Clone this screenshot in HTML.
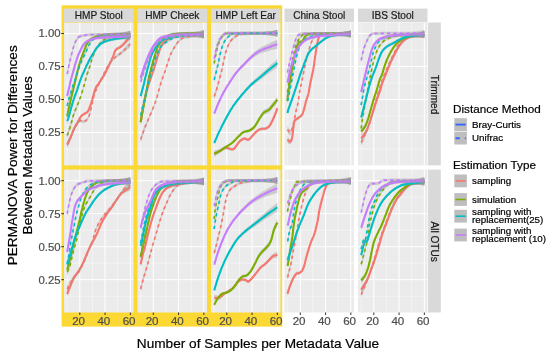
<!DOCTYPE html>
<html><head><meta charset="utf-8"><style>
html,body{margin:0;padding:0;width:550px;height:355px;overflow:hidden;background:#fff}
svg text{font-family:"Liberation Sans",sans-serif;stroke-width:0.2px}
</style></head><body>
<svg width="550" height="355" viewBox="0 0 550 355" style="position:absolute;left:0;top:0;filter:blur(0.45px)">
<rect width="550" height="355" fill="#fff"/>
<rect x="61.60" y="5.3" width="220.60" height="321.30" fill="#FBD834"/>
<rect x="64.00" y="22.50" width="69.50" height="142.90" fill="#EBEBEB"/>
<line x1="67.16" y1="22.50" x2="67.16" y2="165.40" stroke="#fff" stroke-width="0.5" stroke-opacity="0.9"/>
<line x1="92.43" y1="22.50" x2="92.43" y2="165.40" stroke="#fff" stroke-width="0.5" stroke-opacity="0.9"/>
<line x1="117.70" y1="22.50" x2="117.70" y2="165.40" stroke="#fff" stroke-width="0.5" stroke-opacity="0.9"/>
<line x1="64.00" y1="149.00" x2="133.50" y2="149.00" stroke="#fff" stroke-width="0.5" stroke-opacity="0.9"/>
<line x1="64.00" y1="116.00" x2="133.50" y2="116.00" stroke="#fff" stroke-width="0.5" stroke-opacity="0.9"/>
<line x1="64.00" y1="83.00" x2="133.50" y2="83.00" stroke="#fff" stroke-width="0.5" stroke-opacity="0.9"/>
<line x1="64.00" y1="50.00" x2="133.50" y2="50.00" stroke="#fff" stroke-width="0.5" stroke-opacity="0.9"/>
<line x1="79.80" y1="22.50" x2="79.80" y2="165.40" stroke="#fff" stroke-width="1.0"/>
<line x1="105.07" y1="22.50" x2="105.07" y2="165.40" stroke="#fff" stroke-width="1.0"/>
<line x1="130.34" y1="22.50" x2="130.34" y2="165.40" stroke="#fff" stroke-width="1.0"/>
<line x1="64.00" y1="132.50" x2="133.50" y2="132.50" stroke="#fff" stroke-width="1.0"/>
<line x1="64.00" y1="99.50" x2="133.50" y2="99.50" stroke="#fff" stroke-width="1.0"/>
<line x1="64.00" y1="66.50" x2="133.50" y2="66.50" stroke="#fff" stroke-width="1.0"/>
<line x1="64.00" y1="33.50" x2="133.50" y2="33.50" stroke="#fff" stroke-width="1.0"/>
<rect x="137.50" y="22.50" width="69.50" height="142.90" fill="#EBEBEB"/>
<line x1="140.66" y1="22.50" x2="140.66" y2="165.40" stroke="#fff" stroke-width="0.5" stroke-opacity="0.9"/>
<line x1="165.93" y1="22.50" x2="165.93" y2="165.40" stroke="#fff" stroke-width="0.5" stroke-opacity="0.9"/>
<line x1="191.20" y1="22.50" x2="191.20" y2="165.40" stroke="#fff" stroke-width="0.5" stroke-opacity="0.9"/>
<line x1="137.50" y1="149.00" x2="207.00" y2="149.00" stroke="#fff" stroke-width="0.5" stroke-opacity="0.9"/>
<line x1="137.50" y1="116.00" x2="207.00" y2="116.00" stroke="#fff" stroke-width="0.5" stroke-opacity="0.9"/>
<line x1="137.50" y1="83.00" x2="207.00" y2="83.00" stroke="#fff" stroke-width="0.5" stroke-opacity="0.9"/>
<line x1="137.50" y1="50.00" x2="207.00" y2="50.00" stroke="#fff" stroke-width="0.5" stroke-opacity="0.9"/>
<line x1="153.30" y1="22.50" x2="153.30" y2="165.40" stroke="#fff" stroke-width="1.0"/>
<line x1="178.57" y1="22.50" x2="178.57" y2="165.40" stroke="#fff" stroke-width="1.0"/>
<line x1="203.84" y1="22.50" x2="203.84" y2="165.40" stroke="#fff" stroke-width="1.0"/>
<line x1="137.50" y1="132.50" x2="207.00" y2="132.50" stroke="#fff" stroke-width="1.0"/>
<line x1="137.50" y1="99.50" x2="207.00" y2="99.50" stroke="#fff" stroke-width="1.0"/>
<line x1="137.50" y1="66.50" x2="207.00" y2="66.50" stroke="#fff" stroke-width="1.0"/>
<line x1="137.50" y1="33.50" x2="207.00" y2="33.50" stroke="#fff" stroke-width="1.0"/>
<rect x="211.00" y="22.50" width="69.50" height="142.90" fill="#EBEBEB"/>
<line x1="214.16" y1="22.50" x2="214.16" y2="165.40" stroke="#fff" stroke-width="0.5" stroke-opacity="0.9"/>
<line x1="239.43" y1="22.50" x2="239.43" y2="165.40" stroke="#fff" stroke-width="0.5" stroke-opacity="0.9"/>
<line x1="264.70" y1="22.50" x2="264.70" y2="165.40" stroke="#fff" stroke-width="0.5" stroke-opacity="0.9"/>
<line x1="211.00" y1="149.00" x2="280.50" y2="149.00" stroke="#fff" stroke-width="0.5" stroke-opacity="0.9"/>
<line x1="211.00" y1="116.00" x2="280.50" y2="116.00" stroke="#fff" stroke-width="0.5" stroke-opacity="0.9"/>
<line x1="211.00" y1="83.00" x2="280.50" y2="83.00" stroke="#fff" stroke-width="0.5" stroke-opacity="0.9"/>
<line x1="211.00" y1="50.00" x2="280.50" y2="50.00" stroke="#fff" stroke-width="0.5" stroke-opacity="0.9"/>
<line x1="226.80" y1="22.50" x2="226.80" y2="165.40" stroke="#fff" stroke-width="1.0"/>
<line x1="252.07" y1="22.50" x2="252.07" y2="165.40" stroke="#fff" stroke-width="1.0"/>
<line x1="277.34" y1="22.50" x2="277.34" y2="165.40" stroke="#fff" stroke-width="1.0"/>
<line x1="211.00" y1="132.50" x2="280.50" y2="132.50" stroke="#fff" stroke-width="1.0"/>
<line x1="211.00" y1="99.50" x2="280.50" y2="99.50" stroke="#fff" stroke-width="1.0"/>
<line x1="211.00" y1="66.50" x2="280.50" y2="66.50" stroke="#fff" stroke-width="1.0"/>
<line x1="211.00" y1="33.50" x2="280.50" y2="33.50" stroke="#fff" stroke-width="1.0"/>
<rect x="284.50" y="22.50" width="69.50" height="142.90" fill="#EBEBEB"/>
<line x1="287.66" y1="22.50" x2="287.66" y2="165.40" stroke="#fff" stroke-width="0.5" stroke-opacity="0.9"/>
<line x1="312.93" y1="22.50" x2="312.93" y2="165.40" stroke="#fff" stroke-width="0.5" stroke-opacity="0.9"/>
<line x1="338.20" y1="22.50" x2="338.20" y2="165.40" stroke="#fff" stroke-width="0.5" stroke-opacity="0.9"/>
<line x1="284.50" y1="149.00" x2="354.00" y2="149.00" stroke="#fff" stroke-width="0.5" stroke-opacity="0.9"/>
<line x1="284.50" y1="116.00" x2="354.00" y2="116.00" stroke="#fff" stroke-width="0.5" stroke-opacity="0.9"/>
<line x1="284.50" y1="83.00" x2="354.00" y2="83.00" stroke="#fff" stroke-width="0.5" stroke-opacity="0.9"/>
<line x1="284.50" y1="50.00" x2="354.00" y2="50.00" stroke="#fff" stroke-width="0.5" stroke-opacity="0.9"/>
<line x1="300.30" y1="22.50" x2="300.30" y2="165.40" stroke="#fff" stroke-width="1.0"/>
<line x1="325.57" y1="22.50" x2="325.57" y2="165.40" stroke="#fff" stroke-width="1.0"/>
<line x1="350.84" y1="22.50" x2="350.84" y2="165.40" stroke="#fff" stroke-width="1.0"/>
<line x1="284.50" y1="132.50" x2="354.00" y2="132.50" stroke="#fff" stroke-width="1.0"/>
<line x1="284.50" y1="99.50" x2="354.00" y2="99.50" stroke="#fff" stroke-width="1.0"/>
<line x1="284.50" y1="66.50" x2="354.00" y2="66.50" stroke="#fff" stroke-width="1.0"/>
<line x1="284.50" y1="33.50" x2="354.00" y2="33.50" stroke="#fff" stroke-width="1.0"/>
<rect x="358.00" y="22.50" width="69.50" height="142.90" fill="#EBEBEB"/>
<line x1="361.16" y1="22.50" x2="361.16" y2="165.40" stroke="#fff" stroke-width="0.5" stroke-opacity="0.9"/>
<line x1="386.43" y1="22.50" x2="386.43" y2="165.40" stroke="#fff" stroke-width="0.5" stroke-opacity="0.9"/>
<line x1="411.70" y1="22.50" x2="411.70" y2="165.40" stroke="#fff" stroke-width="0.5" stroke-opacity="0.9"/>
<line x1="358.00" y1="149.00" x2="427.50" y2="149.00" stroke="#fff" stroke-width="0.5" stroke-opacity="0.9"/>
<line x1="358.00" y1="116.00" x2="427.50" y2="116.00" stroke="#fff" stroke-width="0.5" stroke-opacity="0.9"/>
<line x1="358.00" y1="83.00" x2="427.50" y2="83.00" stroke="#fff" stroke-width="0.5" stroke-opacity="0.9"/>
<line x1="358.00" y1="50.00" x2="427.50" y2="50.00" stroke="#fff" stroke-width="0.5" stroke-opacity="0.9"/>
<line x1="373.80" y1="22.50" x2="373.80" y2="165.40" stroke="#fff" stroke-width="1.0"/>
<line x1="399.07" y1="22.50" x2="399.07" y2="165.40" stroke="#fff" stroke-width="1.0"/>
<line x1="424.34" y1="22.50" x2="424.34" y2="165.40" stroke="#fff" stroke-width="1.0"/>
<line x1="358.00" y1="132.50" x2="427.50" y2="132.50" stroke="#fff" stroke-width="1.0"/>
<line x1="358.00" y1="99.50" x2="427.50" y2="99.50" stroke="#fff" stroke-width="1.0"/>
<line x1="358.00" y1="66.50" x2="427.50" y2="66.50" stroke="#fff" stroke-width="1.0"/>
<line x1="358.00" y1="33.50" x2="427.50" y2="33.50" stroke="#fff" stroke-width="1.0"/>
<rect x="64.00" y="169.60" width="69.50" height="142.90" fill="#EBEBEB"/>
<line x1="67.16" y1="169.60" x2="67.16" y2="312.50" stroke="#fff" stroke-width="0.5" stroke-opacity="0.9"/>
<line x1="92.43" y1="169.60" x2="92.43" y2="312.50" stroke="#fff" stroke-width="0.5" stroke-opacity="0.9"/>
<line x1="117.70" y1="169.60" x2="117.70" y2="312.50" stroke="#fff" stroke-width="0.5" stroke-opacity="0.9"/>
<line x1="64.00" y1="296.20" x2="133.50" y2="296.20" stroke="#fff" stroke-width="0.5" stroke-opacity="0.9"/>
<line x1="64.00" y1="263.20" x2="133.50" y2="263.20" stroke="#fff" stroke-width="0.5" stroke-opacity="0.9"/>
<line x1="64.00" y1="230.20" x2="133.50" y2="230.20" stroke="#fff" stroke-width="0.5" stroke-opacity="0.9"/>
<line x1="64.00" y1="197.20" x2="133.50" y2="197.20" stroke="#fff" stroke-width="0.5" stroke-opacity="0.9"/>
<line x1="79.80" y1="169.60" x2="79.80" y2="312.50" stroke="#fff" stroke-width="1.0"/>
<line x1="105.07" y1="169.60" x2="105.07" y2="312.50" stroke="#fff" stroke-width="1.0"/>
<line x1="130.34" y1="169.60" x2="130.34" y2="312.50" stroke="#fff" stroke-width="1.0"/>
<line x1="64.00" y1="279.70" x2="133.50" y2="279.70" stroke="#fff" stroke-width="1.0"/>
<line x1="64.00" y1="246.70" x2="133.50" y2="246.70" stroke="#fff" stroke-width="1.0"/>
<line x1="64.00" y1="213.70" x2="133.50" y2="213.70" stroke="#fff" stroke-width="1.0"/>
<line x1="64.00" y1="180.70" x2="133.50" y2="180.70" stroke="#fff" stroke-width="1.0"/>
<rect x="137.50" y="169.60" width="69.50" height="142.90" fill="#EBEBEB"/>
<line x1="140.66" y1="169.60" x2="140.66" y2="312.50" stroke="#fff" stroke-width="0.5" stroke-opacity="0.9"/>
<line x1="165.93" y1="169.60" x2="165.93" y2="312.50" stroke="#fff" stroke-width="0.5" stroke-opacity="0.9"/>
<line x1="191.20" y1="169.60" x2="191.20" y2="312.50" stroke="#fff" stroke-width="0.5" stroke-opacity="0.9"/>
<line x1="137.50" y1="296.20" x2="207.00" y2="296.20" stroke="#fff" stroke-width="0.5" stroke-opacity="0.9"/>
<line x1="137.50" y1="263.20" x2="207.00" y2="263.20" stroke="#fff" stroke-width="0.5" stroke-opacity="0.9"/>
<line x1="137.50" y1="230.20" x2="207.00" y2="230.20" stroke="#fff" stroke-width="0.5" stroke-opacity="0.9"/>
<line x1="137.50" y1="197.20" x2="207.00" y2="197.20" stroke="#fff" stroke-width="0.5" stroke-opacity="0.9"/>
<line x1="153.30" y1="169.60" x2="153.30" y2="312.50" stroke="#fff" stroke-width="1.0"/>
<line x1="178.57" y1="169.60" x2="178.57" y2="312.50" stroke="#fff" stroke-width="1.0"/>
<line x1="203.84" y1="169.60" x2="203.84" y2="312.50" stroke="#fff" stroke-width="1.0"/>
<line x1="137.50" y1="279.70" x2="207.00" y2="279.70" stroke="#fff" stroke-width="1.0"/>
<line x1="137.50" y1="246.70" x2="207.00" y2="246.70" stroke="#fff" stroke-width="1.0"/>
<line x1="137.50" y1="213.70" x2="207.00" y2="213.70" stroke="#fff" stroke-width="1.0"/>
<line x1="137.50" y1="180.70" x2="207.00" y2="180.70" stroke="#fff" stroke-width="1.0"/>
<rect x="211.00" y="169.60" width="69.50" height="142.90" fill="#EBEBEB"/>
<line x1="214.16" y1="169.60" x2="214.16" y2="312.50" stroke="#fff" stroke-width="0.5" stroke-opacity="0.9"/>
<line x1="239.43" y1="169.60" x2="239.43" y2="312.50" stroke="#fff" stroke-width="0.5" stroke-opacity="0.9"/>
<line x1="264.70" y1="169.60" x2="264.70" y2="312.50" stroke="#fff" stroke-width="0.5" stroke-opacity="0.9"/>
<line x1="211.00" y1="296.20" x2="280.50" y2="296.20" stroke="#fff" stroke-width="0.5" stroke-opacity="0.9"/>
<line x1="211.00" y1="263.20" x2="280.50" y2="263.20" stroke="#fff" stroke-width="0.5" stroke-opacity="0.9"/>
<line x1="211.00" y1="230.20" x2="280.50" y2="230.20" stroke="#fff" stroke-width="0.5" stroke-opacity="0.9"/>
<line x1="211.00" y1="197.20" x2="280.50" y2="197.20" stroke="#fff" stroke-width="0.5" stroke-opacity="0.9"/>
<line x1="226.80" y1="169.60" x2="226.80" y2="312.50" stroke="#fff" stroke-width="1.0"/>
<line x1="252.07" y1="169.60" x2="252.07" y2="312.50" stroke="#fff" stroke-width="1.0"/>
<line x1="277.34" y1="169.60" x2="277.34" y2="312.50" stroke="#fff" stroke-width="1.0"/>
<line x1="211.00" y1="279.70" x2="280.50" y2="279.70" stroke="#fff" stroke-width="1.0"/>
<line x1="211.00" y1="246.70" x2="280.50" y2="246.70" stroke="#fff" stroke-width="1.0"/>
<line x1="211.00" y1="213.70" x2="280.50" y2="213.70" stroke="#fff" stroke-width="1.0"/>
<line x1="211.00" y1="180.70" x2="280.50" y2="180.70" stroke="#fff" stroke-width="1.0"/>
<rect x="284.50" y="169.60" width="69.50" height="142.90" fill="#EBEBEB"/>
<line x1="287.66" y1="169.60" x2="287.66" y2="312.50" stroke="#fff" stroke-width="0.5" stroke-opacity="0.9"/>
<line x1="312.93" y1="169.60" x2="312.93" y2="312.50" stroke="#fff" stroke-width="0.5" stroke-opacity="0.9"/>
<line x1="338.20" y1="169.60" x2="338.20" y2="312.50" stroke="#fff" stroke-width="0.5" stroke-opacity="0.9"/>
<line x1="284.50" y1="296.20" x2="354.00" y2="296.20" stroke="#fff" stroke-width="0.5" stroke-opacity="0.9"/>
<line x1="284.50" y1="263.20" x2="354.00" y2="263.20" stroke="#fff" stroke-width="0.5" stroke-opacity="0.9"/>
<line x1="284.50" y1="230.20" x2="354.00" y2="230.20" stroke="#fff" stroke-width="0.5" stroke-opacity="0.9"/>
<line x1="284.50" y1="197.20" x2="354.00" y2="197.20" stroke="#fff" stroke-width="0.5" stroke-opacity="0.9"/>
<line x1="300.30" y1="169.60" x2="300.30" y2="312.50" stroke="#fff" stroke-width="1.0"/>
<line x1="325.57" y1="169.60" x2="325.57" y2="312.50" stroke="#fff" stroke-width="1.0"/>
<line x1="350.84" y1="169.60" x2="350.84" y2="312.50" stroke="#fff" stroke-width="1.0"/>
<line x1="284.50" y1="279.70" x2="354.00" y2="279.70" stroke="#fff" stroke-width="1.0"/>
<line x1="284.50" y1="246.70" x2="354.00" y2="246.70" stroke="#fff" stroke-width="1.0"/>
<line x1="284.50" y1="213.70" x2="354.00" y2="213.70" stroke="#fff" stroke-width="1.0"/>
<line x1="284.50" y1="180.70" x2="354.00" y2="180.70" stroke="#fff" stroke-width="1.0"/>
<rect x="358.00" y="169.60" width="69.50" height="142.90" fill="#EBEBEB"/>
<line x1="361.16" y1="169.60" x2="361.16" y2="312.50" stroke="#fff" stroke-width="0.5" stroke-opacity="0.9"/>
<line x1="386.43" y1="169.60" x2="386.43" y2="312.50" stroke="#fff" stroke-width="0.5" stroke-opacity="0.9"/>
<line x1="411.70" y1="169.60" x2="411.70" y2="312.50" stroke="#fff" stroke-width="0.5" stroke-opacity="0.9"/>
<line x1="358.00" y1="296.20" x2="427.50" y2="296.20" stroke="#fff" stroke-width="0.5" stroke-opacity="0.9"/>
<line x1="358.00" y1="263.20" x2="427.50" y2="263.20" stroke="#fff" stroke-width="0.5" stroke-opacity="0.9"/>
<line x1="358.00" y1="230.20" x2="427.50" y2="230.20" stroke="#fff" stroke-width="0.5" stroke-opacity="0.9"/>
<line x1="358.00" y1="197.20" x2="427.50" y2="197.20" stroke="#fff" stroke-width="0.5" stroke-opacity="0.9"/>
<line x1="373.80" y1="169.60" x2="373.80" y2="312.50" stroke="#fff" stroke-width="1.0"/>
<line x1="399.07" y1="169.60" x2="399.07" y2="312.50" stroke="#fff" stroke-width="1.0"/>
<line x1="424.34" y1="169.60" x2="424.34" y2="312.50" stroke="#fff" stroke-width="1.0"/>
<line x1="358.00" y1="279.70" x2="427.50" y2="279.70" stroke="#fff" stroke-width="1.0"/>
<line x1="358.00" y1="246.70" x2="427.50" y2="246.70" stroke="#fff" stroke-width="1.0"/>
<line x1="358.00" y1="213.70" x2="427.50" y2="213.70" stroke="#fff" stroke-width="1.0"/>
<line x1="358.00" y1="180.70" x2="427.50" y2="180.70" stroke="#fff" stroke-width="1.0"/>
<rect x="64.00" y="8.6" width="69.50" height="13.50" fill="#D9D9D9"/>
<text x="98.75" y="19.0" font-size="10.1" fill="#1A1A1A" stroke="#1A1A1A" text-anchor="middle">HMP Stool</text>
<rect x="137.50" y="8.6" width="69.50" height="13.50" fill="#D9D9D9"/>
<text x="172.25" y="19.0" font-size="10.1" fill="#1A1A1A" stroke="#1A1A1A" text-anchor="middle">HMP Cheek</text>
<rect x="211.00" y="8.6" width="69.50" height="13.50" fill="#D9D9D9"/>
<text x="245.75" y="19.0" font-size="10.1" fill="#1A1A1A" stroke="#1A1A1A" text-anchor="middle">HMP Left Ear</text>
<rect x="284.50" y="8.6" width="69.50" height="13.50" fill="#D9D9D9"/>
<text x="319.25" y="19.0" font-size="10.1" fill="#1A1A1A" stroke="#1A1A1A" text-anchor="middle">China Stool</text>
<rect x="358.00" y="8.6" width="69.50" height="13.50" fill="#D9D9D9"/>
<text x="392.75" y="19.0" font-size="10.1" fill="#1A1A1A" stroke="#1A1A1A" text-anchor="middle">IBS Stool</text>
<rect x="428.1" y="22.50" width="12.7" height="142.90" fill="#D9D9D9"/>
<text transform="translate(431.0,94.55) rotate(90)" font-size="10.1" fill="#1A1A1A" stroke="#1A1A1A" text-anchor="middle">Trimmed</text>
<rect x="428.1" y="169.60" width="12.7" height="142.90" fill="#D9D9D9"/>
<text transform="translate(431.0,241.65) rotate(90)" font-size="10.1" fill="#1A1A1A" stroke="#1A1A1A" text-anchor="middle">All OTUs</text>
<text x="60.6" y="37.30" font-size="11.4" fill="#4D4D4D" stroke="#4D4D4D" text-anchor="end">1.00</text>
<line x1="61.3" y1="33.50" x2="64" y2="33.50" stroke="#333" stroke-width="1"/>
<text x="60.6" y="70.30" font-size="11.4" fill="#4D4D4D" stroke="#4D4D4D" text-anchor="end">0.75</text>
<line x1="61.3" y1="66.50" x2="64" y2="66.50" stroke="#333" stroke-width="1"/>
<text x="60.6" y="103.30" font-size="11.4" fill="#4D4D4D" stroke="#4D4D4D" text-anchor="end">0.50</text>
<line x1="61.3" y1="99.50" x2="64" y2="99.50" stroke="#333" stroke-width="1"/>
<text x="60.6" y="136.30" font-size="11.4" fill="#4D4D4D" stroke="#4D4D4D" text-anchor="end">0.25</text>
<line x1="61.3" y1="132.50" x2="64" y2="132.50" stroke="#333" stroke-width="1"/>
<text x="60.6" y="184.50" font-size="11.4" fill="#4D4D4D" stroke="#4D4D4D" text-anchor="end">1.00</text>
<line x1="61.3" y1="180.70" x2="64" y2="180.70" stroke="#333" stroke-width="1"/>
<text x="60.6" y="217.50" font-size="11.4" fill="#4D4D4D" stroke="#4D4D4D" text-anchor="end">0.75</text>
<line x1="61.3" y1="213.70" x2="64" y2="213.70" stroke="#333" stroke-width="1"/>
<text x="60.6" y="250.50" font-size="11.4" fill="#4D4D4D" stroke="#4D4D4D" text-anchor="end">0.50</text>
<line x1="61.3" y1="246.70" x2="64" y2="246.70" stroke="#333" stroke-width="1"/>
<text x="60.6" y="283.50" font-size="11.4" fill="#4D4D4D" stroke="#4D4D4D" text-anchor="end">0.25</text>
<line x1="61.3" y1="279.70" x2="64" y2="279.70" stroke="#333" stroke-width="1"/>
<line x1="79.80" y1="312.50" x2="79.80" y2="315.00" stroke="#333" stroke-width="1"/>
<text x="78.60" y="325.0" font-size="11.6" fill="#4D4D4D" stroke="#4D4D4D" text-anchor="middle">20</text>
<line x1="105.07" y1="312.50" x2="105.07" y2="315.00" stroke="#333" stroke-width="1"/>
<text x="103.87" y="325.0" font-size="11.6" fill="#4D4D4D" stroke="#4D4D4D" text-anchor="middle">40</text>
<line x1="130.34" y1="312.50" x2="130.34" y2="315.00" stroke="#333" stroke-width="1"/>
<text x="129.14" y="325.0" font-size="11.6" fill="#4D4D4D" stroke="#4D4D4D" text-anchor="middle">60</text>
<line x1="153.30" y1="312.50" x2="153.30" y2="315.00" stroke="#333" stroke-width="1"/>
<text x="152.10" y="325.0" font-size="11.6" fill="#4D4D4D" stroke="#4D4D4D" text-anchor="middle">20</text>
<line x1="178.57" y1="312.50" x2="178.57" y2="315.00" stroke="#333" stroke-width="1"/>
<text x="177.37" y="325.0" font-size="11.6" fill="#4D4D4D" stroke="#4D4D4D" text-anchor="middle">40</text>
<line x1="203.84" y1="312.50" x2="203.84" y2="315.00" stroke="#333" stroke-width="1"/>
<text x="202.64" y="325.0" font-size="11.6" fill="#4D4D4D" stroke="#4D4D4D" text-anchor="middle">60</text>
<line x1="226.80" y1="312.50" x2="226.80" y2="315.00" stroke="#333" stroke-width="1"/>
<text x="225.60" y="325.0" font-size="11.6" fill="#4D4D4D" stroke="#4D4D4D" text-anchor="middle">20</text>
<line x1="252.07" y1="312.50" x2="252.07" y2="315.00" stroke="#333" stroke-width="1"/>
<text x="250.87" y="325.0" font-size="11.6" fill="#4D4D4D" stroke="#4D4D4D" text-anchor="middle">40</text>
<line x1="277.34" y1="312.50" x2="277.34" y2="315.00" stroke="#333" stroke-width="1"/>
<text x="276.14" y="325.0" font-size="11.6" fill="#4D4D4D" stroke="#4D4D4D" text-anchor="middle">60</text>
<line x1="300.30" y1="312.50" x2="300.30" y2="315.00" stroke="#333" stroke-width="1"/>
<text x="299.10" y="325.0" font-size="11.6" fill="#4D4D4D" stroke="#4D4D4D" text-anchor="middle">20</text>
<line x1="325.57" y1="312.50" x2="325.57" y2="315.00" stroke="#333" stroke-width="1"/>
<text x="324.37" y="325.0" font-size="11.6" fill="#4D4D4D" stroke="#4D4D4D" text-anchor="middle">40</text>
<line x1="350.84" y1="312.50" x2="350.84" y2="315.00" stroke="#333" stroke-width="1"/>
<text x="349.64" y="325.0" font-size="11.6" fill="#4D4D4D" stroke="#4D4D4D" text-anchor="middle">60</text>
<line x1="373.80" y1="312.50" x2="373.80" y2="315.00" stroke="#333" stroke-width="1"/>
<text x="372.60" y="325.0" font-size="11.6" fill="#4D4D4D" stroke="#4D4D4D" text-anchor="middle">20</text>
<line x1="399.07" y1="312.50" x2="399.07" y2="315.00" stroke="#333" stroke-width="1"/>
<text x="397.87" y="325.0" font-size="11.6" fill="#4D4D4D" stroke="#4D4D4D" text-anchor="middle">40</text>
<line x1="424.34" y1="312.50" x2="424.34" y2="315.00" stroke="#333" stroke-width="1"/>
<text x="423.14" y="325.0" font-size="11.6" fill="#4D4D4D" stroke="#4D4D4D" text-anchor="middle">60</text>
<text x="136.8" y="348.3" font-size="13.65" fill="#000" stroke="#000">Number of Samples per Metadata Value</text>
<text transform="translate(16.9,155.3) rotate(-90)" font-size="13.65" fill="#000" stroke="#000" text-anchor="middle">PERMANOVA Power for Differences</text>
<text transform="translate(31.5,155.3) rotate(-90)" font-size="13.65" fill="#000" stroke="#000" text-anchor="middle">Between Metadata Values</text>
<text x="453" y="112.6" font-size="11.7" fill="#000" stroke="#000">Distance Method</text>
<rect x="454.3" y="118.2" width="12.6" height="12.8" fill="#BEBEBE"/>
<rect x="454.3" y="131.7" width="12.6" height="12.8" fill="#BEBEBE"/>
<line x1="455.5" y1="124.6" x2="465.7" y2="124.6" stroke="#3366FF" stroke-width="1.9"/>
<line x1="455.5" y1="138.2" x2="465.7" y2="138.2" stroke="#3366FF" stroke-width="1.9" stroke-dasharray="4.3 5"/>
<text x="472" y="127.6" font-size="9.8" fill="#000" stroke="#000">Bray-Curtis</text>
<text x="472" y="141.2" font-size="9.8" fill="#000" stroke="#000">Unifrac</text>
<text x="453" y="168.6" font-size="11.7" fill="#000" stroke="#000">Estimation Type</text>
<rect x="454.3" y="174.50" width="12.6" height="12.8" fill="#BEBEBE"/>
<line x1="455.5" y1="180.90" x2="465.7" y2="180.90" stroke="#F8766D" stroke-width="1.6"/>
<text x="472" y="183.90" font-size="9.8" fill="#000" stroke="#000">sampling</text>
<rect x="454.3" y="193.10" width="12.6" height="12.8" fill="#BEBEBE"/>
<line x1="455.5" y1="199.50" x2="465.7" y2="199.50" stroke="#7CAE00" stroke-width="1.6"/>
<text x="472" y="202.50" font-size="9.8" fill="#000" stroke="#000">simulation</text>
<rect x="454.3" y="209.80" width="12.6" height="12.8" fill="#BEBEBE"/>
<line x1="455.5" y1="216.20" x2="465.7" y2="216.20" stroke="#00BFC4" stroke-width="1.6"/>
<text x="472" y="215.10" font-size="9.8" fill="#000" stroke="#000">sampling with</text>
<text x="472" y="223.40" font-size="9.8" fill="#000" stroke="#000">replacement(25)</text>
<rect x="454.3" y="228.60" width="12.6" height="12.8" fill="#BEBEBE"/>
<line x1="455.5" y1="235.00" x2="465.7" y2="235.00" stroke="#C77CFF" stroke-width="1.6"/>
<text x="472" y="233.90" font-size="9.8" fill="#000" stroke="#000">sampling with</text>
<text x="472" y="242.20" font-size="9.8" fill="#000" stroke="#000">replacement (10)</text>
<defs>
<clipPath id="cp00"><rect x="64.00" y="22.50" width="69.50" height="142.90"/></clipPath>
<clipPath id="cp10"><rect x="137.50" y="22.50" width="69.50" height="142.90"/></clipPath>
<clipPath id="cp20"><rect x="211.00" y="22.50" width="69.50" height="142.90"/></clipPath>
<clipPath id="cp30"><rect x="284.50" y="22.50" width="69.50" height="142.90"/></clipPath>
<clipPath id="cp40"><rect x="358.00" y="22.50" width="69.50" height="142.90"/></clipPath>
<clipPath id="cp01"><rect x="64.00" y="169.60" width="69.50" height="142.90"/></clipPath>
<clipPath id="cp11"><rect x="137.50" y="169.60" width="69.50" height="142.90"/></clipPath>
<clipPath id="cp21"><rect x="211.00" y="169.60" width="69.50" height="142.90"/></clipPath>
<clipPath id="cp31"><rect x="284.50" y="169.60" width="69.50" height="142.90"/></clipPath>
<clipPath id="cp41"><rect x="358.00" y="169.60" width="69.50" height="142.90"/></clipPath>
</defs>
<g clip-path="url(#cp00)" stroke-width="2.1" stroke-linecap="butt" stroke-linejoin="round">
<path d="M67.2,141.1 L67.5,140.6 L68.0,139.8 L68.5,138.9 L69.1,137.9 L69.7,136.8 L70.3,135.6 L70.9,134.3 L71.5,132.9 L72.1,131.5 L72.7,130.0 L73.3,128.5 L74.0,127.1 L74.7,125.7 L75.5,124.2 L76.3,122.8 L77.1,121.5 L77.8,120.2 L78.5,119.1 L79.1,118.1 L79.5,117.2 L79.9,116.5 L80.4,115.8 L80.8,115.1 L81.3,114.5 L81.9,114.0 L82.5,113.5 L83.2,113.0 L83.8,112.6 L84.4,112.3 L85.0,111.9 L85.5,111.6 L86.0,111.4 L86.4,111.2 L86.8,111.0 L87.3,110.7 L87.7,110.1 L88.2,109.3 L88.7,108.2 L89.2,107.1 L89.6,105.9 L90.1,104.7 L90.5,103.6 L90.8,102.7 L91.1,101.9 L91.4,101.1 L91.6,100.3 L91.9,99.3 L92.3,98.1 L92.7,96.5 L93.2,94.6 L93.7,92.5 L94.3,90.5 L94.9,88.5 L95.5,86.9 L96.1,85.6 L96.7,84.6 L97.4,83.7 L98.1,82.8 L98.8,81.9 L99.5,80.8 L100.3,79.7 L101.1,78.4 L102.0,77.2 L102.8,75.8 L103.7,74.4 L104.6,72.9 L105.4,71.3 L106.3,69.5 L107.2,67.6 L108.1,65.8 L109.0,64.0 L109.7,62.4 L110.4,60.9 L111.1,59.4 L111.7,58.1 L112.2,56.8 L112.8,55.6 L113.3,54.4 L113.7,53.3 L114.1,52.2 L114.4,51.2 L114.7,50.2 L115.1,49.3 L115.7,48.5 L116.4,47.7 L117.2,47.2 L118.1,46.6 L119.0,46.1 L119.9,45.6 L120.7,45.0 L121.5,44.3 L122.1,43.7 L122.8,43.1 L123.5,42.3 L124.1,41.5 L124.9,40.6 L125.8,39.5 L126.8,38.1 L127.9,36.5 L128.9,35.0 L129.7,33.7 L130.3,32.7 L130.3,39.5 L129.7,40.1 L128.9,40.9 L127.9,41.9 L126.8,42.9 L125.8,44.0 L124.9,44.9 L124.1,45.6 L123.5,46.2 L122.8,46.8 L122.1,47.3 L121.5,47.9 L120.7,48.4 L119.9,48.9 L119.0,49.4 L118.1,49.8 L117.2,50.3 L116.4,50.9 L115.7,51.5 L115.1,52.4 L114.7,53.2 L114.4,54.2 L114.1,55.2 L113.7,56.3 L113.3,57.5 L112.8,58.6 L112.2,59.8 L111.7,61.1 L111.1,62.5 L110.4,63.9 L109.7,65.4 L109.0,67.0 L108.1,68.8 L107.2,70.6 L106.3,72.5 L105.4,74.3 L104.6,75.9 L103.7,77.4 L102.8,78.8 L102.0,80.2 L101.1,81.4 L100.3,82.7 L99.5,83.8 L98.8,84.9 L98.1,85.8 L97.4,86.7 L96.7,87.6 L96.1,88.6 L95.5,89.9 L94.9,91.5 L94.3,93.5 L93.7,95.5 L93.2,97.6 L92.7,99.5 L92.3,101.1 L91.9,102.3 L91.6,103.3 L91.4,104.1 L91.1,104.9 L90.8,105.7 L90.5,106.6 L90.1,107.7 L89.6,108.9 L89.2,110.1 L88.7,111.2 L88.2,112.3 L87.7,113.1 L87.3,113.7 L86.8,114.0 L86.4,114.2 L86.0,114.4 L85.5,114.6 L85.0,114.9 L84.4,115.3 L83.8,115.7 L83.2,116.1 L82.5,116.6 L81.9,117.1 L81.3,117.7 L80.8,118.3 L80.4,118.9 L79.9,119.6 L79.5,120.4 L79.1,121.3 L78.5,122.3 L77.8,123.5 L77.1,124.9 L76.3,126.3 L75.5,127.8 L74.7,129.4 L74.0,130.9 L73.3,132.5 L72.7,134.2 L72.1,135.9 L71.5,137.5 L70.9,139.1 L70.3,140.6 L69.7,142.0 L69.1,143.5 L68.5,144.8 L68.0,146.1 L67.5,147.1 L67.2,147.9Z" fill="#999999" fill-opacity="0.4" stroke="none"/>
<path d="M67.2,144.5 L67.5,143.8 L68.0,142.9 L68.5,141.9 L69.1,140.7 L69.7,139.4 L70.3,138.1 L70.9,136.7 L71.5,135.2 L72.1,133.7 L72.7,132.1 L73.3,130.5 L74.0,129.0 L74.7,127.5 L75.5,126.0 L76.3,124.6 L77.1,123.2 L77.8,121.9 L78.5,120.7 L79.1,119.7 L79.5,118.8 L79.9,118.0 L80.4,117.4 L80.8,116.7 L81.3,116.1 L81.9,115.5 L82.5,115.0 L83.2,114.6 L83.8,114.2 L84.4,113.8 L85.0,113.4 L85.5,113.1 L86.0,112.9 L86.4,112.7 L86.8,112.5 L87.3,112.2 L87.7,111.6 L88.2,110.8 L88.7,109.7 L89.2,108.6 L89.6,107.4 L90.1,106.2 L90.5,105.1 L90.8,104.2 L91.1,103.4 L91.4,102.6 L91.6,101.8 L91.9,100.8 L92.3,99.6 L92.7,98.0 L93.2,96.1 L93.7,94.0 L94.3,92.0 L94.9,90.0 L95.5,88.4 L96.1,87.1 L96.7,86.1 L97.4,85.2 L98.1,84.3 L98.8,83.4 L99.5,82.3 L100.3,81.2 L101.1,79.9 L102.0,78.7 L102.8,77.3 L103.7,75.9 L104.6,74.4 L105.4,72.8 L106.3,71.0 L107.2,69.1 L108.1,67.3 L109.0,65.5 L109.7,63.9 L110.4,62.4 L111.1,61.0 L111.7,59.6 L112.2,58.3 L112.8,57.1 L113.3,55.9 L113.7,54.8 L114.1,53.7 L114.4,52.7 L114.7,51.7 L115.1,50.8 L115.7,50.0 L116.4,49.3 L117.2,48.7 L118.1,48.2 L119.0,47.8 L119.9,47.3 L120.7,46.7 L121.5,46.1 L122.1,45.5 L122.8,44.9 L123.5,44.3 L124.1,43.6 L124.9,42.7 L125.8,41.7 L126.8,40.5 L127.9,39.2 L128.9,37.9 L129.7,36.9 L130.3,36.1" fill="none" stroke="#F8766D"/>
<path d="M67.2,141.1 L67.5,140.6 L68.0,139.8 L68.5,138.9 L69.1,137.9 L69.7,136.8 L70.3,135.6 L70.9,134.3 L71.5,132.9 L72.1,131.3 L72.8,129.8 L73.4,128.3 L74.0,127.1 L74.6,126.0 L75.2,125.0 L75.8,124.1 L76.4,123.3 L77.0,122.5 L77.5,121.8 L78.0,121.2 L78.5,120.6 L79.0,120.1 L79.5,119.7 L79.9,119.3 L80.4,119.1 L80.9,119.1 L81.3,119.3 L81.7,119.5 L82.1,119.8 L82.6,120.0 L83.1,120.1 L83.7,120.0 L84.3,119.8 L84.9,119.6 L85.6,119.3 L86.2,118.8 L86.8,118.3 L87.3,117.6 L87.8,116.8 L88.3,115.9 L88.8,114.9 L89.2,113.9 L89.6,112.8 L89.9,111.8 L90.2,110.7 L90.5,109.6 L90.8,108.4 L91.0,107.1 L91.4,105.5 L91.8,103.6 L92.2,101.5 L92.7,99.2 L93.2,96.9 L93.8,94.7 L94.3,92.7 L94.9,91.0 L95.6,89.4 L96.3,88.0 L97.0,86.5 L97.7,85.1 L98.5,83.5 L99.3,81.8 L100.2,80.0 L101.0,78.1 L101.9,76.3 L102.8,74.5 L103.6,72.9 L104.3,71.4 L105.0,70.0 L105.6,68.7 L106.3,67.4 L106.9,66.2 L107.6,65.0 L108.3,63.9 L108.9,62.8 L109.6,61.8 L110.3,60.9 L111.0,59.9 L111.8,59.1 L112.6,58.2 L113.4,57.4 L114.2,56.6 L115.1,55.8 L116.0,55.1 L116.8,54.4 L117.6,53.8 L118.3,53.2 L119.1,52.8 L119.8,52.2 L120.7,51.5 L121.7,50.6 L123.1,49.3 L124.7,47.6 L126.4,45.6 L128.0,43.7 L129.4,41.9 L130.3,40.7 L130.3,47.5 L129.4,48.1 L128.0,49.1 L126.4,50.3 L124.7,51.7 L123.1,53.1 L121.7,54.2 L120.7,54.9 L119.8,55.5 L119.1,56.0 L118.3,56.5 L117.6,56.9 L116.8,57.5 L116.0,58.2 L115.1,58.9 L114.2,59.6 L113.4,60.4 L112.6,61.2 L111.8,62.1 L111.0,63.0 L110.3,63.9 L109.6,64.8 L108.9,65.8 L108.3,66.9 L107.6,68.0 L106.9,69.2 L106.3,70.4 L105.6,71.7 L105.0,73.0 L104.3,74.4 L103.6,75.9 L102.8,77.5 L101.9,79.3 L101.0,81.1 L100.2,83.0 L99.3,84.8 L98.5,86.5 L97.7,88.1 L97.0,89.5 L96.3,91.0 L95.6,92.4 L94.9,94.0 L94.3,95.7 L93.8,97.7 L93.2,99.9 L92.7,102.2 L92.2,104.5 L91.8,106.6 L91.4,108.5 L91.0,110.1 L90.8,111.4 L90.5,112.6 L90.2,113.7 L89.9,114.8 L89.6,115.8 L89.2,116.9 L88.8,117.9 L88.3,118.9 L87.8,119.8 L87.3,120.6 L86.8,121.3 L86.2,121.9 L85.6,122.3 L84.9,122.6 L84.3,122.9 L83.7,123.0 L83.1,123.1 L82.6,123.1 L82.1,122.9 L81.7,122.6 L81.3,122.4 L80.9,122.2 L80.4,122.3 L79.9,122.5 L79.5,122.9 L79.0,123.3 L78.5,123.9 L78.0,124.5 L77.5,125.2 L77.0,125.9 L76.4,126.7 L75.8,127.6 L75.2,128.6 L74.6,129.7 L74.0,130.9 L73.4,132.3 L72.8,134.0 L72.1,135.7 L71.5,137.4 L70.9,139.1 L70.3,140.6 L69.7,142.0 L69.1,143.5 L68.5,144.8 L68.0,146.1 L67.5,147.1 L67.2,147.9Z" fill="#999999" fill-opacity="0.4" stroke="none"/>
<path d="M67.2,144.5 L67.5,143.8 L68.0,142.9 L68.5,141.9 L69.1,140.7 L69.7,139.4 L70.3,138.1 L70.9,136.7 L71.5,135.1 L72.1,133.5 L72.8,131.9 L73.4,130.3 L74.0,129.0 L74.6,127.8 L75.2,126.8 L75.8,125.9 L76.4,125.0 L77.0,124.2 L77.5,123.5 L78.0,122.8 L78.5,122.2 L79.0,121.7 L79.5,121.3 L79.9,120.9 L80.4,120.7 L80.9,120.7 L81.3,120.8 L81.7,121.1 L82.1,121.4 L82.6,121.6 L83.1,121.6 L83.7,121.5 L84.3,121.3 L84.9,121.1 L85.6,120.8 L86.2,120.3 L86.8,119.8 L87.3,119.1 L87.8,118.3 L88.3,117.4 L88.8,116.4 L89.2,115.4 L89.6,114.3 L89.9,113.3 L90.2,112.2 L90.5,111.1 L90.8,109.9 L91.0,108.6 L91.4,107.0 L91.8,105.1 L92.2,103.0 L92.7,100.7 L93.2,98.4 L93.8,96.2 L94.3,94.2 L94.9,92.5 L95.6,90.9 L96.3,89.5 L97.0,88.0 L97.7,86.6 L98.5,85.0 L99.3,83.3 L100.2,81.5 L101.0,79.6 L101.9,77.8 L102.8,76.0 L103.6,74.4 L104.3,72.9 L105.0,71.5 L105.6,70.2 L106.3,68.9 L106.9,67.7 L107.6,66.5 L108.3,65.4 L108.9,64.3 L109.6,63.3 L110.3,62.4 L111.0,61.5 L111.8,60.6 L112.6,59.7 L113.4,58.9 L114.2,58.1 L115.1,57.4 L116.0,56.6 L116.8,55.9 L117.6,55.3 L118.3,54.8 L119.1,54.4 L119.8,53.9 L120.7,53.2 L121.7,52.4 L123.1,51.2 L124.7,49.6 L126.4,48.0 L128.0,46.4 L129.4,45.0 L130.3,44.1" fill="none" stroke="#F8766D" stroke-dasharray="3.3 3.1" stroke-width="1.7"/>
<path d="M67.2,113.1 L67.3,112.5 L67.4,111.6 L67.6,110.6 L67.9,109.5 L68.1,108.4 L68.3,107.4 L68.5,106.4 L68.7,105.4 L69.0,104.5 L69.2,103.5 L69.5,102.5 L69.7,101.6 L69.9,100.6 L70.1,99.6 L70.4,98.7 L70.6,97.7 L70.8,96.7 L71.1,95.6 L71.4,94.5 L71.7,93.3 L72.0,92.0 L72.4,90.7 L72.7,89.5 L73.0,88.3 L73.3,87.3 L73.5,86.2 L73.8,85.2 L74.0,84.3 L74.3,83.3 L74.5,82.3 L74.7,81.3 L75.0,80.3 L75.2,79.2 L75.4,78.2 L75.7,77.2 L75.9,76.2 L76.1,75.3 L76.3,74.4 L76.6,73.4 L76.8,72.6 L77.0,71.7 L77.2,70.8 L77.4,70.0 L77.6,69.1 L77.8,68.3 L78.1,67.5 L78.3,66.7 L78.5,65.9 L78.7,65.0 L79.0,64.1 L79.2,63.1 L79.5,62.2 L79.7,61.3 L80.0,60.4 L80.2,59.6 L80.5,58.9 L80.7,58.1 L81.0,57.4 L81.2,56.7 L81.5,55.9 L81.8,55.2 L82.0,54.5 L82.3,53.8 L82.6,53.1 L82.9,52.3 L83.2,51.5 L83.6,50.5 L84.0,49.4 L84.4,48.3 L84.8,47.1 L85.3,46.0 L85.7,45.0 L86.1,44.0 L86.6,43.1 L87.0,42.3 L87.5,41.5 L88.0,40.7 L88.5,40.0 L89.0,39.4 L89.4,38.9 L89.9,38.4 L90.5,37.9 L91.1,37.5 L92.0,37.0 L93.0,36.5 L94.1,35.9 L95.4,35.4 L96.8,34.9 L98.3,34.4 L100.0,34.0 L101.8,33.7 L103.8,33.4 L105.9,33.2 L108.2,33.1 L110.5,32.9 L113.0,32.8 L115.8,32.6 L119.1,32.5 L122.5,32.2 L125.7,31.8 L128.4,31.2 L130.3,30.6 L130.3,37.4 L128.4,36.8 L125.7,36.3 L122.5,35.9 L119.1,35.8 L115.8,35.7 L113.0,35.8 L110.5,35.9 L108.2,36.1 L105.9,36.2 L103.8,36.4 L101.8,36.7 L100.0,37.0 L98.3,37.4 L96.8,37.9 L95.4,38.4 L94.1,38.9 L93.0,39.5 L92.0,40.0 L91.1,40.5 L90.5,40.9 L89.9,41.4 L89.4,41.9 L89.0,42.4 L88.5,43.0 L88.0,43.7 L87.5,44.5 L87.0,45.3 L86.6,46.2 L86.1,47.1 L85.7,48.0 L85.3,49.0 L84.8,50.1 L84.4,51.3 L84.0,52.4 L83.6,53.5 L83.2,54.5 L82.9,55.4 L82.6,56.2 L82.3,56.9 L82.0,57.6 L81.8,58.3 L81.5,59.1 L81.2,59.8 L81.0,60.5 L80.7,61.3 L80.5,62.0 L80.2,62.8 L80.0,63.6 L79.7,64.5 L79.5,65.4 L79.2,66.3 L79.0,67.3 L78.7,68.2 L78.5,69.1 L78.3,70.0 L78.1,70.8 L77.8,71.7 L77.6,72.5 L77.4,73.3 L77.2,74.2 L77.0,75.1 L76.8,76.0 L76.6,76.9 L76.3,77.8 L76.1,78.8 L75.9,79.8 L75.7,80.8 L75.4,81.8 L75.2,82.9 L75.0,84.0 L74.7,85.0 L74.5,86.1 L74.3,87.1 L74.0,88.2 L73.8,89.2 L73.5,90.2 L73.3,91.3 L73.0,92.5 L72.7,93.7 L72.4,95.0 L72.0,96.4 L71.7,97.8 L71.4,99.1 L71.1,100.4 L70.8,101.5 L70.6,102.6 L70.4,103.7 L70.1,104.7 L69.9,105.8 L69.7,106.8 L69.5,107.9 L69.2,109.0 L69.0,110.1 L68.7,111.2 L68.5,112.3 L68.3,113.4 L68.1,114.6 L67.9,115.8 L67.6,117.1 L67.4,118.2 L67.3,119.2 L67.2,119.9Z" fill="#999999" fill-opacity="0.4" stroke="none"/>
<path d="M67.2,116.5 L67.3,115.8 L67.4,114.9 L67.6,113.8 L67.9,112.7 L68.1,111.5 L68.3,110.4 L68.5,109.4 L68.7,108.3 L69.0,107.3 L69.2,106.3 L69.5,105.2 L69.7,104.2 L69.9,103.2 L70.1,102.2 L70.4,101.2 L70.6,100.2 L70.8,99.1 L71.1,98.0 L71.4,96.8 L71.7,95.5 L72.0,94.2 L72.4,92.9 L72.7,91.6 L73.0,90.4 L73.3,89.3 L73.5,88.2 L73.8,87.2 L74.0,86.2 L74.3,85.2 L74.5,84.2 L74.7,83.2 L75.0,82.1 L75.2,81.1 L75.4,80.0 L75.7,79.0 L75.9,78.0 L76.1,77.0 L76.3,76.1 L76.6,75.2 L76.8,74.3 L77.0,73.4 L77.2,72.5 L77.4,71.6 L77.6,70.8 L77.8,70.0 L78.1,69.2 L78.3,68.4 L78.5,67.5 L78.7,66.6 L79.0,65.7 L79.2,64.7 L79.5,63.8 L79.7,62.9 L80.0,62.0 L80.2,61.2 L80.5,60.4 L80.7,59.7 L81.0,59.0 L81.2,58.2 L81.5,57.5 L81.8,56.8 L82.0,56.1 L82.3,55.4 L82.6,54.6 L82.9,53.9 L83.2,53.0 L83.6,52.0 L84.0,50.9 L84.4,49.8 L84.8,48.6 L85.3,47.5 L85.7,46.5 L86.1,45.6 L86.6,44.6 L87.0,43.8 L87.5,43.0 L88.0,42.2 L88.5,41.5 L89.0,40.9 L89.4,40.4 L89.9,39.9 L90.5,39.4 L91.1,39.0 L92.0,38.5 L93.0,38.0 L94.1,37.4 L95.4,36.9 L96.8,36.4 L98.3,35.9 L100.0,35.5 L101.8,35.2 L103.8,34.9 L105.9,34.7 L108.2,34.6 L110.5,34.4 L113.0,34.3 L115.8,34.2 L119.1,34.1 L122.5,34.1 L125.7,34.0 L128.4,34.0 L130.3,34.0" fill="none" stroke="#7CAE00"/>
<path d="M67.2,132.1 L67.5,131.2 L68.1,129.9 L68.7,128.4 L69.3,126.7 L70.0,125.0 L70.5,123.4 L71.0,121.9 L71.4,120.4 L71.8,118.9 L72.2,117.3 L72.6,115.9 L73.0,114.4 L73.5,113.1 L73.9,111.8 L74.4,110.6 L74.9,109.4 L75.4,108.2 L75.9,106.9 L76.4,105.7 L77.0,104.4 L77.6,103.1 L78.1,101.8 L78.7,100.5 L79.2,99.2 L79.7,97.8 L80.2,96.4 L80.7,94.9 L81.2,93.5 L81.6,92.0 L82.1,90.6 L82.5,89.1 L83.0,87.7 L83.4,86.3 L83.8,84.9 L84.2,83.5 L84.6,82.1 L85.0,80.7 L85.3,79.4 L85.6,78.0 L86.0,76.7 L86.3,75.3 L86.7,74.0 L87.1,72.7 L87.6,71.3 L88.0,70.0 L88.5,68.7 L89.0,67.3 L89.5,65.8 L90.0,64.2 L90.5,62.4 L91.1,60.6 L91.6,58.8 L92.2,57.1 L92.7,55.5 L93.2,54.0 L93.8,52.6 L94.3,51.2 L94.9,49.9 L95.5,48.7 L96.1,47.5 L96.8,46.4 L97.5,45.2 L98.2,44.2 L98.9,43.2 L99.6,42.3 L100.3,41.5 L100.9,40.8 L101.5,40.2 L102.0,39.7 L102.6,39.2 L103.3,38.8 L104.0,38.3 L104.8,37.8 L105.8,37.4 L106.7,36.9 L107.8,36.5 L108.9,36.1 L110.0,35.7 L111.2,35.4 L112.4,35.0 L113.6,34.7 L114.9,34.5 L116.4,34.2 L118.0,33.9 L119.9,33.6 L122.2,33.2 L124.7,32.8 L127.0,32.2 L128.9,31.6 L130.3,31.0 L130.3,37.8 L128.9,37.5 L127.0,37.1 L124.7,36.9 L122.2,36.9 L119.9,36.9 L118.0,37.1 L116.4,37.3 L114.9,37.5 L113.6,37.8 L112.4,38.1 L111.2,38.4 L110.0,38.7 L108.9,39.1 L107.8,39.5 L106.7,39.9 L105.8,40.4 L104.8,40.8 L104.0,41.3 L103.3,41.8 L102.6,42.2 L102.0,42.7 L101.5,43.2 L100.9,43.8 L100.3,44.5 L99.6,45.3 L98.9,46.2 L98.2,47.2 L97.5,48.2 L96.8,49.4 L96.1,50.5 L95.5,51.7 L94.9,52.9 L94.3,54.2 L93.8,55.6 L93.2,57.0 L92.7,58.5 L92.2,60.1 L91.6,61.8 L91.1,63.6 L90.5,65.4 L90.0,67.2 L89.5,68.8 L89.0,70.3 L88.5,71.7 L88.0,73.0 L87.6,74.4 L87.1,75.7 L86.7,77.0 L86.3,78.4 L86.0,79.7 L85.6,81.0 L85.3,82.4 L85.0,83.7 L84.6,85.1 L84.2,86.5 L83.8,87.9 L83.4,89.3 L83.0,90.8 L82.5,92.2 L82.1,93.6 L81.6,95.1 L81.2,96.6 L80.7,98.1 L80.2,99.5 L79.7,101.0 L79.2,102.4 L78.7,103.8 L78.1,105.1 L77.6,106.5 L77.0,107.8 L76.4,109.1 L75.9,110.5 L75.4,111.8 L74.9,113.1 L74.4,114.4 L73.9,115.7 L73.5,117.1 L73.0,118.6 L72.6,120.1 L72.2,121.7 L71.8,123.3 L71.4,125.0 L71.0,126.7 L70.5,128.4 L70.0,130.2 L69.3,132.2 L68.7,134.2 L68.1,136.1 L67.5,137.7 L67.2,138.9Z" fill="#999999" fill-opacity="0.4" stroke="none"/>
<path d="M67.2,135.5 L67.5,134.5 L68.1,133.0 L68.7,131.3 L69.3,129.4 L70.0,127.6 L70.5,125.9 L71.0,124.3 L71.4,122.7 L71.8,121.1 L72.2,119.5 L72.6,118.0 L73.0,116.5 L73.5,115.1 L73.9,113.8 L74.4,112.5 L74.9,111.2 L75.4,110.0 L75.9,108.7 L76.4,107.4 L77.0,106.1 L77.6,104.8 L78.1,103.5 L78.7,102.2 L79.2,100.8 L79.7,99.4 L80.2,98.0 L80.7,96.5 L81.2,95.0 L81.6,93.5 L82.1,92.1 L82.5,90.7 L83.0,89.2 L83.4,87.8 L83.8,86.4 L84.2,85.0 L84.6,83.6 L85.0,82.2 L85.3,80.9 L85.6,79.5 L86.0,78.2 L86.3,76.9 L86.7,75.5 L87.1,74.2 L87.6,72.9 L88.0,71.5 L88.5,70.2 L89.0,68.8 L89.5,67.3 L90.0,65.7 L90.5,63.9 L91.1,62.1 L91.6,60.3 L92.2,58.6 L92.7,57.0 L93.2,55.5 L93.8,54.1 L94.3,52.7 L94.9,51.4 L95.5,50.2 L96.1,49.0 L96.8,47.9 L97.5,46.7 L98.2,45.7 L98.9,44.7 L99.6,43.8 L100.3,43.0 L100.9,42.3 L101.5,41.7 L102.0,41.2 L102.6,40.7 L103.3,40.3 L104.0,39.8 L104.8,39.3 L105.8,38.9 L106.7,38.4 L107.8,38.0 L108.9,37.6 L110.0,37.2 L111.2,36.9 L112.4,36.5 L113.6,36.3 L114.9,36.0 L116.4,35.7 L118.0,35.5 L119.9,35.3 L122.2,35.0 L124.7,34.8 L127.0,34.7 L128.9,34.5 L130.3,34.4" fill="none" stroke="#7CAE00" stroke-dasharray="3.3 3.1" stroke-width="1.7"/>
<path d="M67.2,117.6 L67.3,117.2 L67.6,116.7 L67.9,116.0 L68.2,115.3 L68.5,114.5 L68.8,113.7 L69.1,112.9 L69.4,111.9 L69.6,111.0 L69.9,109.9 L70.2,108.9 L70.5,107.9 L70.8,107.0 L71.0,106.0 L71.3,105.0 L71.6,104.1 L71.9,103.1 L72.2,102.0 L72.5,101.0 L72.9,99.9 L73.2,98.8 L73.6,97.6 L74.0,96.5 L74.4,95.4 L74.8,94.3 L75.3,93.2 L75.7,92.0 L76.2,90.9 L76.6,89.8 L77.0,88.7 L77.4,87.6 L77.7,86.6 L78.0,85.6 L78.3,84.6 L78.7,83.6 L79.0,82.6 L79.4,81.5 L79.7,80.4 L80.1,79.3 L80.5,78.2 L80.9,77.1 L81.3,76.0 L81.7,74.9 L82.2,73.8 L82.7,72.7 L83.2,71.6 L83.7,70.6 L84.2,69.5 L84.7,68.4 L85.1,67.4 L85.6,66.4 L86.0,65.3 L86.5,64.3 L87.0,63.3 L87.5,62.3 L88.0,61.2 L88.5,60.2 L89.0,59.1 L89.6,58.1 L90.1,57.1 L90.6,56.1 L91.2,55.2 L91.8,54.3 L92.3,53.3 L92.9,52.4 L93.5,51.5 L94.1,50.6 L94.6,49.6 L95.2,48.7 L95.7,47.8 L96.3,46.9 L97.0,46.0 L97.7,45.2 L98.5,44.4 L99.3,43.6 L100.2,42.8 L101.1,42.1 L102.0,41.5 L102.9,41.0 L103.8,40.5 L104.7,40.1 L105.7,39.7 L106.8,39.4 L108.0,39.0 L109.4,38.6 L111.0,38.3 L112.6,37.9 L114.3,37.6 L116.2,37.2 L118.0,36.9 L120.1,36.5 L122.4,36.1 L124.8,35.6 L127.1,35.0 L129.0,34.4 L130.3,33.8 L130.3,40.6 L129.0,40.3 L127.1,40.0 L124.8,39.8 L122.4,39.8 L120.1,39.9 L118.0,40.1 L116.2,40.3 L114.3,40.6 L112.6,40.9 L111.0,41.3 L109.4,41.6 L108.0,42.0 L106.8,42.4 L105.7,42.7 L104.7,43.1 L103.8,43.5 L102.9,44.0 L102.0,44.5 L101.1,45.1 L100.2,45.8 L99.3,46.6 L98.5,47.4 L97.7,48.2 L97.0,49.0 L96.3,49.9 L95.7,50.8 L95.2,51.7 L94.6,52.6 L94.1,53.6 L93.5,54.5 L92.9,55.4 L92.3,56.3 L91.8,57.3 L91.2,58.2 L90.6,59.1 L90.1,60.1 L89.6,61.1 L89.0,62.1 L88.5,63.2 L88.0,64.2 L87.5,65.3 L87.0,66.3 L86.5,67.3 L86.0,68.4 L85.6,69.4 L85.1,70.4 L84.7,71.5 L84.2,72.5 L83.7,73.6 L83.2,74.7 L82.7,75.8 L82.2,76.9 L81.7,78.0 L81.3,79.2 L80.9,80.3 L80.5,81.4 L80.1,82.5 L79.7,83.6 L79.4,84.7 L79.0,85.8 L78.7,86.9 L78.3,87.9 L78.0,88.9 L77.7,90.0 L77.4,91.0 L77.0,92.1 L76.6,93.2 L76.2,94.4 L75.7,95.6 L75.3,96.8 L74.8,98.0 L74.4,99.2 L74.0,100.4 L73.6,101.6 L73.2,102.8 L72.9,104.0 L72.5,105.2 L72.2,106.4 L71.9,107.5 L71.6,108.6 L71.3,109.7 L71.0,110.7 L70.8,111.8 L70.5,112.9 L70.2,114.0 L69.9,115.1 L69.6,116.3 L69.4,117.4 L69.1,118.5 L68.8,119.5 L68.5,120.5 L68.2,121.4 L67.9,122.3 L67.6,123.2 L67.3,123.9 L67.2,124.4Z" fill="#999999" fill-opacity="0.4" stroke="none"/>
<path d="M67.2,121.0 L67.3,120.5 L67.6,119.9 L67.9,119.2 L68.2,118.4 L68.5,117.5 L68.8,116.6 L69.1,115.7 L69.4,114.7 L69.6,113.6 L69.9,112.5 L70.2,111.5 L70.5,110.4 L70.8,109.4 L71.0,108.4 L71.3,107.3 L71.6,106.3 L71.9,105.3 L72.2,104.2 L72.5,103.1 L72.9,102.0 L73.2,100.8 L73.6,99.6 L74.0,98.5 L74.4,97.3 L74.8,96.1 L75.3,95.0 L75.7,93.8 L76.2,92.6 L76.6,91.5 L77.0,90.4 L77.4,89.3 L77.7,88.3 L78.0,87.3 L78.3,86.3 L78.7,85.2 L79.0,84.2 L79.4,83.1 L79.7,82.0 L80.1,80.9 L80.5,79.8 L80.9,78.7 L81.3,77.6 L81.7,76.5 L82.2,75.4 L82.7,74.3 L83.2,73.2 L83.7,72.1 L84.2,71.0 L84.7,69.9 L85.1,68.9 L85.6,67.9 L86.0,66.9 L86.5,65.8 L87.0,64.8 L87.5,63.8 L88.0,62.7 L88.5,61.7 L89.0,60.6 L89.6,59.6 L90.1,58.6 L90.6,57.6 L91.2,56.7 L91.8,55.8 L92.3,54.8 L92.9,53.9 L93.5,53.0 L94.1,52.1 L94.6,51.1 L95.2,50.2 L95.7,49.3 L96.3,48.4 L97.0,47.5 L97.7,46.7 L98.5,45.9 L99.3,45.1 L100.2,44.3 L101.1,43.6 L102.0,43.0 L102.9,42.5 L103.8,42.0 L104.7,41.6 L105.7,41.2 L106.8,40.9 L108.0,40.5 L109.4,40.1 L111.0,39.8 L112.6,39.4 L114.3,39.1 L116.2,38.8 L118.0,38.5 L120.1,38.2 L122.4,38.0 L124.8,37.7 L127.1,37.5 L129.0,37.3 L130.3,37.2" fill="none" stroke="#00BFC4"/>
<path d="M67.2,102.6 L67.3,102.0 L67.5,101.1 L67.7,100.1 L68.0,99.0 L68.2,98.0 L68.5,97.0 L68.8,96.2 L69.0,95.5 L69.3,94.8 L69.6,94.1 L69.9,93.3 L70.2,92.4 L70.5,91.3 L70.9,90.1 L71.3,88.8 L71.7,87.5 L72.1,86.2 L72.5,84.9 L72.9,83.6 L73.4,82.4 L73.9,81.2 L74.3,79.9 L74.8,78.6 L75.3,77.3 L75.8,75.9 L76.3,74.4 L76.8,72.9 L77.3,71.3 L77.8,69.8 L78.3,68.4 L78.8,66.9 L79.4,65.4 L79.9,63.9 L80.4,62.4 L80.9,61.1 L81.4,59.9 L81.8,59.0 L82.2,58.1 L82.5,57.4 L82.8,56.8 L83.2,56.1 L83.5,55.5 L83.8,54.8 L84.1,54.2 L84.4,53.6 L84.8,53.0 L85.1,52.3 L85.5,51.5 L85.9,50.5 L86.4,49.3 L86.9,48.1 L87.4,46.8 L88.0,45.6 L88.5,44.5 L89.0,43.5 L89.6,42.5 L90.1,41.5 L90.7,40.6 L91.3,39.8 L92.0,39.0 L92.7,38.3 L93.4,37.6 L94.2,37.0 L95.1,36.5 L96.0,36.0 L97.0,35.5 L98.0,35.1 L98.8,34.8 L99.7,34.5 L100.9,34.3 L102.6,34.0 L105.0,33.8 L108.5,33.6 L113.1,33.3 L118.2,33.0 L123.1,32.6 L127.4,31.8 L130.3,30.8 L130.3,37.6 L127.4,36.9 L123.1,36.4 L118.2,36.2 L113.1,36.4 L108.5,36.6 L105.0,36.8 L102.6,37.0 L100.9,37.3 L99.7,37.5 L98.8,37.8 L98.0,38.1 L97.0,38.5 L96.0,39.0 L95.1,39.5 L94.2,40.0 L93.4,40.6 L92.7,41.3 L92.0,42.0 L91.3,42.8 L90.7,43.6 L90.1,44.5 L89.6,45.5 L89.0,46.5 L88.5,47.5 L88.0,48.6 L87.4,49.8 L86.9,51.1 L86.4,52.3 L85.9,53.5 L85.5,54.5 L85.1,55.3 L84.8,56.1 L84.4,56.7 L84.1,57.3 L83.8,57.9 L83.5,58.5 L83.2,59.2 L82.8,59.8 L82.5,60.5 L82.2,61.2 L81.8,62.1 L81.4,63.1 L80.9,64.2 L80.4,65.6 L79.9,67.0 L79.4,68.6 L78.8,70.1 L78.3,71.6 L77.8,73.2 L77.3,74.7 L76.8,76.3 L76.3,77.9 L75.8,79.4 L75.3,80.9 L74.8,82.3 L74.3,83.7 L73.9,85.1 L73.4,86.4 L72.9,87.8 L72.5,89.1 L72.1,90.5 L71.7,92.0 L71.3,93.4 L70.9,94.9 L70.5,96.2 L70.2,97.4 L69.9,98.5 L69.6,99.5 L69.3,100.3 L69.0,101.2 L68.8,102.0 L68.5,103.0 L68.2,104.1 L68.0,105.3 L67.7,106.5 L67.5,107.7 L67.3,108.7 L67.2,109.4Z" fill="#999999" fill-opacity="0.4" stroke="none"/>
<path d="M67.2,106.0 L67.3,105.3 L67.5,104.4 L67.7,103.3 L68.0,102.2 L68.2,101.0 L68.5,100.0 L68.8,99.1 L69.0,98.3 L69.3,97.6 L69.6,96.8 L69.9,95.9 L70.2,94.9 L70.5,93.7 L70.9,92.5 L71.3,91.1 L71.7,89.7 L72.1,88.3 L72.5,87.0 L72.9,85.7 L73.4,84.4 L73.9,83.1 L74.3,81.8 L74.8,80.5 L75.3,79.1 L75.8,77.6 L76.3,76.1 L76.8,74.6 L77.3,73.0 L77.8,71.5 L78.3,70.0 L78.8,68.5 L79.4,67.0 L79.9,65.5 L80.4,64.0 L80.9,62.7 L81.4,61.5 L81.8,60.5 L82.2,59.7 L82.5,59.0 L82.8,58.3 L83.2,57.7 L83.5,57.0 L83.8,56.3 L84.1,55.7 L84.4,55.2 L84.8,54.5 L85.1,53.8 L85.5,53.0 L85.9,52.0 L86.4,50.8 L86.9,49.6 L87.4,48.3 L88.0,47.1 L88.5,46.0 L89.0,45.0 L89.6,44.0 L90.1,43.0 L90.7,42.1 L91.3,41.3 L92.0,40.5 L92.7,39.8 L93.4,39.1 L94.2,38.5 L95.1,38.0 L96.0,37.5 L97.0,37.0 L98.0,36.6 L98.8,36.3 L99.7,36.0 L100.9,35.8 L102.6,35.5 L105.0,35.3 L108.5,35.1 L113.1,34.8 L118.2,34.6 L123.1,34.5 L127.4,34.3 L130.3,34.2" fill="none" stroke="#00BFC4" stroke-dasharray="3.3 3.1" stroke-width="1.7"/>
<path d="M67.2,92.6 L67.3,92.0 L67.5,91.3 L67.7,90.4 L68.0,89.4 L68.3,88.4 L68.5,87.4 L68.7,86.5 L69.0,85.5 L69.2,84.6 L69.4,83.6 L69.7,82.6 L69.9,81.6 L70.1,80.6 L70.4,79.6 L70.6,78.6 L70.9,77.7 L71.1,76.7 L71.4,75.7 L71.7,74.8 L71.9,73.8 L72.2,72.9 L72.5,72.0 L72.8,71.0 L73.1,70.0 L73.4,68.8 L73.8,67.6 L74.1,66.3 L74.5,65.0 L74.8,63.8 L75.2,62.6 L75.5,61.4 L75.9,60.3 L76.2,59.2 L76.6,58.1 L76.9,57.1 L77.3,56.0 L77.7,55.0 L78.1,54.0 L78.5,53.1 L78.9,52.1 L79.3,51.2 L79.8,50.2 L80.3,49.2 L80.7,48.2 L81.2,47.1 L81.7,46.1 L82.2,45.2 L82.8,44.3 L83.4,43.4 L84.0,42.7 L84.6,41.9 L85.2,41.2 L86.0,40.6 L86.8,40.0 L87.8,39.4 L88.9,38.9 L90.0,38.4 L91.3,37.9 L92.5,37.5 L93.6,37.2 L94.6,36.9 L95.6,36.7 L96.6,36.6 L97.6,36.5 L98.7,36.4 L100.0,36.3 L101.3,36.2 L102.7,36.1 L104.1,36.0 L105.8,35.9 L107.7,35.8 L110.0,35.7 L113.0,35.5 L116.8,35.3 L120.8,35.0 L124.7,34.5 L128.0,33.7 L130.3,32.9 L130.3,39.7 L128.0,39.1 L124.7,38.6 L120.8,38.4 L116.8,38.5 L113.0,38.6 L110.0,38.7 L107.7,38.8 L105.8,38.9 L104.1,39.0 L102.7,39.1 L101.3,39.2 L100.0,39.3 L98.7,39.4 L97.6,39.5 L96.6,39.6 L95.6,39.7 L94.6,39.9 L93.6,40.2 L92.5,40.5 L91.3,40.9 L90.0,41.4 L88.9,41.9 L87.8,42.4 L86.8,43.0 L86.0,43.6 L85.2,44.3 L84.6,45.0 L84.0,45.7 L83.4,46.5 L82.8,47.3 L82.2,48.2 L81.7,49.2 L81.2,50.3 L80.7,51.3 L80.3,52.4 L79.8,53.4 L79.3,54.4 L78.9,55.4 L78.5,56.3 L78.1,57.3 L77.7,58.3 L77.3,59.4 L76.9,60.5 L76.6,61.6 L76.2,62.7 L75.9,63.8 L75.5,65.0 L75.2,66.2 L74.8,67.5 L74.5,68.8 L74.1,70.2 L73.8,71.5 L73.4,72.8 L73.1,74.0 L72.8,75.2 L72.5,76.2 L72.2,77.3 L71.9,78.3 L71.7,79.3 L71.4,80.3 L71.1,81.4 L70.9,82.4 L70.6,83.5 L70.4,84.6 L70.1,85.7 L69.9,86.8 L69.7,87.9 L69.4,89.0 L69.2,90.1 L69.0,91.2 L68.7,92.3 L68.5,93.4 L68.3,94.5 L68.0,95.6 L67.7,96.8 L67.5,97.8 L67.3,98.7 L67.2,99.4Z" fill="#999999" fill-opacity="0.4" stroke="none"/>
<path d="M67.2,96.0 L67.3,95.4 L67.5,94.6 L67.7,93.6 L68.0,92.5 L68.3,91.4 L68.5,90.4 L68.7,89.4 L69.0,88.4 L69.2,87.3 L69.4,86.3 L69.7,85.2 L69.9,84.2 L70.1,83.2 L70.4,82.1 L70.6,81.1 L70.9,80.1 L71.1,79.0 L71.4,78.0 L71.7,77.0 L71.9,76.0 L72.2,75.1 L72.5,74.1 L72.8,73.1 L73.1,72.0 L73.4,70.8 L73.8,69.6 L74.1,68.2 L74.5,66.9 L74.8,65.6 L75.2,64.4 L75.5,63.2 L75.9,62.1 L76.2,60.9 L76.6,59.8 L76.9,58.8 L77.3,57.7 L77.7,56.7 L78.1,55.7 L78.5,54.7 L78.9,53.7 L79.3,52.8 L79.8,51.8 L80.3,50.8 L80.7,49.7 L81.2,48.7 L81.7,47.7 L82.2,46.7 L82.8,45.8 L83.4,45.0 L84.0,44.2 L84.6,43.4 L85.2,42.8 L86.0,42.1 L86.8,41.5 L87.8,40.9 L88.9,40.4 L90.0,39.9 L91.3,39.4 L92.5,39.0 L93.6,38.7 L94.6,38.4 L95.6,38.2 L96.6,38.1 L97.6,38.0 L98.7,37.9 L100.0,37.8 L101.3,37.7 L102.7,37.6 L104.1,37.5 L105.8,37.4 L107.7,37.3 L110.0,37.2 L113.0,37.1 L116.8,36.9 L120.8,36.7 L124.7,36.5 L128.0,36.4 L130.3,36.3" fill="none" stroke="#C77CFF"/>
<path d="M67.2,70.6 L67.2,70.3 L67.4,69.8 L67.5,69.3 L67.7,68.7 L67.8,68.0 L68.0,67.2 L68.2,66.3 L68.4,65.4 L68.6,64.3 L68.8,63.2 L69.0,62.0 L69.3,60.9 L69.6,59.6 L69.9,58.3 L70.3,57.0 L70.6,55.6 L71.0,54.2 L71.4,52.8 L71.8,51.3 L72.2,49.8 L72.6,48.2 L73.1,46.6 L73.5,45.1 L73.9,43.8 L74.3,42.7 L74.7,41.7 L75.0,40.8 L75.4,40.0 L75.8,39.3 L76.2,38.5 L76.6,37.9 L77.0,37.2 L77.5,36.6 L77.9,36.1 L78.5,35.6 L79.2,35.2 L80.0,34.8 L80.9,34.5 L82.0,34.3 L83.0,34.1 L84.2,33.9 L85.3,33.7 L86.1,33.5 L86.7,33.4 L87.2,33.3 L88.2,33.2 L90.0,33.2 L93.0,33.1 L97.9,33.0 L104.6,32.9 L112.2,32.9 L119.6,32.6 L125.9,32.0 L130.3,30.8 L130.3,37.6 L125.9,36.5 L119.6,36.0 L112.2,35.9 L104.6,35.9 L97.9,36.0 L93.0,36.1 L90.0,36.2 L88.2,36.3 L87.2,36.3 L86.7,36.4 L86.1,36.5 L85.3,36.7 L84.2,36.9 L83.0,37.1 L82.0,37.4 L80.9,37.6 L80.0,38.0 L79.2,38.4 L78.5,38.9 L77.9,39.4 L77.5,40.0 L77.0,40.6 L76.6,41.3 L76.2,42.1 L75.8,42.8 L75.4,43.7 L75.0,44.5 L74.7,45.5 L74.3,46.5 L73.9,47.8 L73.5,49.1 L73.1,50.7 L72.6,52.4 L72.2,54.1 L71.8,55.8 L71.4,57.4 L71.0,59.0 L70.6,60.5 L70.3,62.0 L69.9,63.5 L69.6,65.0 L69.3,66.3 L69.0,67.7 L68.8,69.0 L68.6,70.2 L68.4,71.4 L68.2,72.4 L68.0,73.4 L67.8,74.3 L67.7,75.1 L67.5,75.8 L67.4,76.5 L67.2,77.0 L67.2,77.4Z" fill="#999999" fill-opacity="0.4" stroke="none"/>
<path d="M67.2,74.0 L67.2,73.6 L67.4,73.2 L67.5,72.6 L67.7,71.9 L67.8,71.1 L68.0,70.3 L68.2,69.4 L68.4,68.4 L68.6,67.2 L68.8,66.1 L69.0,64.9 L69.3,63.6 L69.6,62.3 L69.9,60.9 L70.3,59.5 L70.6,58.1 L71.0,56.6 L71.4,55.1 L71.8,53.6 L72.2,51.9 L72.6,50.3 L73.1,48.6 L73.5,47.1 L73.9,45.8 L74.3,44.6 L74.7,43.6 L75.0,42.7 L75.4,41.8 L75.8,41.1 L76.2,40.3 L76.6,39.6 L77.0,38.9 L77.5,38.3 L77.9,37.8 L78.5,37.3 L79.2,36.8 L80.0,36.4 L80.9,36.1 L82.0,35.8 L83.0,35.6 L84.2,35.4 L85.3,35.2 L86.1,35.0 L86.7,34.9 L87.2,34.8 L88.2,34.7 L90.0,34.7 L93.0,34.6 L97.9,34.5 L104.6,34.4 L112.2,34.4 L119.6,34.3 L125.9,34.2 L130.3,34.2" fill="none" stroke="#C77CFF" stroke-dasharray="3.3 3.1" stroke-width="1.7"/>
</g>
<g clip-path="url(#cp01)" stroke-width="2.1" stroke-linecap="butt" stroke-linejoin="round">
<path d="M67.2,290.6 L67.5,289.9 L67.9,288.9 L68.4,287.8 L69.0,286.5 L69.6,285.2 L70.1,284.0 L70.6,282.9 L71.1,281.8 L71.6,280.6 L72.1,279.5 L72.6,278.4 L73.1,277.5 L73.6,276.6 L74.1,275.8 L74.6,275.1 L75.1,274.3 L75.6,273.6 L76.2,272.7 L76.8,271.8 L77.5,270.9 L78.2,269.9 L78.9,268.9 L79.6,267.8 L80.2,266.8 L80.8,265.8 L81.3,264.8 L81.8,263.9 L82.3,262.9 L82.8,261.8 L83.3,260.8 L83.8,259.7 L84.3,258.5 L84.8,257.3 L85.3,256.1 L85.8,254.9 L86.3,253.7 L86.8,252.5 L87.3,251.3 L87.8,250.1 L88.4,248.9 L88.9,247.7 L89.4,246.6 L89.9,245.5 L90.4,244.6 L90.9,243.6 L91.5,242.6 L92.0,241.6 L92.6,240.5 L93.2,239.3 L93.9,238.1 L94.6,236.9 L95.3,235.5 L96.0,234.1 L96.8,232.5 L97.6,230.7 L98.4,228.7 L99.3,226.6 L100.2,224.5 L101.0,222.5 L101.9,220.7 L102.8,219.1 L103.6,217.6 L104.5,216.1 L105.3,214.8 L106.2,213.5 L107.0,212.2 L107.8,211.0 L108.7,209.8 L109.6,208.7 L110.4,207.7 L111.2,206.6 L112.0,205.5 L112.8,204.3 L113.5,203.2 L114.2,202.0 L114.9,200.9 L115.6,199.7 L116.3,198.6 L117.0,197.6 L117.7,196.5 L118.4,195.4 L119.1,194.4 L119.8,193.5 L120.5,192.6 L121.2,191.8 L121.8,191.2 L122.5,190.6 L123.2,190.0 L123.9,189.5 L124.7,188.8 L125.6,188.1 L126.7,187.2 L127.8,186.2 L128.8,185.3 L129.7,184.5 L130.3,183.9 L130.3,190.7 L129.7,190.9 L128.8,191.2 L127.8,191.5 L126.7,192.0 L125.6,192.5 L124.7,193.0 L123.9,193.4 L123.2,193.9 L122.5,194.3 L121.8,194.8 L121.2,195.3 L120.5,196.0 L119.8,196.8 L119.1,197.7 L118.4,198.6 L117.7,199.7 L117.0,200.7 L116.3,201.8 L115.6,202.8 L114.9,203.9 L114.2,205.1 L113.5,206.2 L112.8,207.4 L112.0,208.5 L111.2,209.6 L110.4,210.7 L109.6,211.7 L108.7,212.8 L107.8,214.0 L107.0,215.2 L106.2,216.5 L105.3,217.8 L104.5,219.1 L103.6,220.6 L102.8,222.1 L101.9,223.7 L101.0,225.5 L100.2,227.5 L99.3,229.6 L98.4,231.7 L97.6,233.7 L96.8,235.5 L96.0,237.1 L95.3,238.5 L94.6,239.9 L93.9,241.1 L93.2,242.3 L92.6,243.5 L92.0,244.6 L91.5,245.6 L90.9,246.6 L90.4,247.6 L89.9,248.5 L89.4,249.6 L88.9,250.7 L88.4,251.9 L87.8,253.1 L87.3,254.3 L86.8,255.5 L86.3,256.7 L85.8,257.9 L85.3,259.1 L84.8,260.3 L84.3,261.5 L83.8,262.7 L83.3,263.8 L82.8,264.9 L82.3,265.9 L81.8,267.0 L81.3,268.0 L80.8,269.0 L80.2,270.0 L79.6,271.0 L78.9,272.1 L78.2,273.2 L77.5,274.2 L76.8,275.3 L76.2,276.3 L75.6,277.2 L75.1,278.0 L74.6,278.8 L74.1,279.6 L73.6,280.5 L73.1,281.5 L72.6,282.7 L72.1,283.9 L71.6,285.2 L71.1,286.5 L70.6,287.8 L70.1,289.2 L69.6,290.6 L69.0,292.1 L68.4,293.7 L67.9,295.2 L67.5,296.5 L67.2,297.4Z" fill="#999999" fill-opacity="0.4" stroke="none"/>
<path d="M67.2,294.0 L67.5,293.2 L67.9,292.1 L68.4,290.7 L69.0,289.3 L69.6,287.9 L70.1,286.6 L70.6,285.4 L71.1,284.1 L71.6,282.9 L72.1,281.7 L72.6,280.6 L73.1,279.5 L73.6,278.6 L74.1,277.7 L74.6,276.9 L75.1,276.2 L75.6,275.4 L76.2,274.5 L76.8,273.5 L77.5,272.5 L78.2,271.5 L78.9,270.5 L79.6,269.4 L80.2,268.4 L80.8,267.4 L81.3,266.4 L81.8,265.4 L82.3,264.4 L82.8,263.4 L83.3,262.3 L83.8,261.2 L84.3,260.0 L84.8,258.8 L85.3,257.6 L85.8,256.4 L86.3,255.2 L86.8,254.0 L87.3,252.8 L87.8,251.6 L88.4,250.4 L88.9,249.2 L89.4,248.1 L89.9,247.0 L90.4,246.1 L90.9,245.1 L91.5,244.1 L92.0,243.1 L92.6,242.0 L93.2,240.8 L93.9,239.6 L94.6,238.4 L95.3,237.0 L96.0,235.6 L96.8,234.0 L97.6,232.2 L98.4,230.2 L99.3,228.1 L100.2,226.0 L101.0,224.0 L101.9,222.2 L102.8,220.6 L103.6,219.1 L104.5,217.6 L105.3,216.3 L106.2,215.0 L107.0,213.7 L107.8,212.5 L108.7,211.3 L109.6,210.2 L110.4,209.2 L111.2,208.1 L112.0,207.0 L112.8,205.9 L113.5,204.7 L114.2,203.5 L114.9,202.4 L115.6,201.3 L116.3,200.2 L117.0,199.1 L117.7,198.1 L118.4,197.0 L119.1,196.0 L119.8,195.1 L120.5,194.3 L121.2,193.6 L121.8,193.0 L122.5,192.5 L123.2,192.0 L123.9,191.4 L124.7,190.9 L125.6,190.3 L126.7,189.6 L127.8,188.9 L128.8,188.2 L129.7,187.7 L130.3,187.3" fill="none" stroke="#F8766D"/>
<path d="M67.2,285.6 L67.6,284.9 L68.2,284.0 L68.9,282.8 L69.6,281.6 L70.4,280.3 L71.1,279.2 L71.8,278.2 L72.5,277.3 L73.1,276.3 L73.8,275.4 L74.5,274.5 L75.2,273.7 L75.9,273.0 L76.6,272.3 L77.3,271.8 L77.9,271.2 L78.6,270.5 L79.2,269.8 L79.8,268.9 L80.3,268.0 L80.7,267.1 L81.2,266.1 L81.7,265.0 L82.3,263.8 L82.9,262.4 L83.6,261.0 L84.3,259.4 L85.0,257.8 L85.7,256.2 L86.3,254.7 L86.9,253.2 L87.5,251.7 L88.1,250.2 L88.7,248.7 L89.3,247.3 L89.8,246.0 L90.3,244.9 L90.7,243.9 L91.1,243.0 L91.6,242.0 L92.0,240.9 L92.5,239.5 L93.0,237.8 L93.6,235.8 L94.1,233.7 L94.7,231.5 L95.3,229.4 L96.0,227.5 L96.8,225.7 L97.6,224.0 L98.4,222.4 L99.3,220.8 L100.2,219.4 L101.0,218.0 L101.8,216.8 L102.5,215.7 L103.3,214.7 L104.0,213.8 L104.7,212.9 L105.5,212.0 L106.3,211.1 L107.1,210.1 L107.9,209.2 L108.7,208.3 L109.5,207.4 L110.3,206.5 L111.0,205.6 L111.7,204.7 L112.4,203.7 L113.1,202.8 L113.8,201.9 L114.5,201.0 L115.2,200.0 L115.9,199.1 L116.7,198.1 L117.4,197.1 L118.1,196.2 L118.8,195.2 L119.5,194.2 L120.1,193.1 L120.7,192.0 L121.3,191.0 L121.9,190.0 L122.5,189.2 L123.0,188.4 L123.5,187.7 L123.9,187.0 L124.4,186.4 L124.9,185.9 L125.5,185.3 L126.3,184.7 L127.2,184.1 L128.1,183.6 L129.0,183.0 L129.8,182.5 L130.3,182.1 L130.3,188.9 L129.8,188.9 L129.0,188.9 L128.1,189.0 L127.2,189.2 L126.3,189.4 L125.5,189.7 L124.9,190.1 L124.4,190.5 L123.9,191.0 L123.5,191.5 L123.0,192.2 L122.5,192.8 L121.9,193.6 L121.3,194.5 L120.7,195.5 L120.1,196.5 L119.5,197.5 L118.8,198.4 L118.1,199.4 L117.4,200.3 L116.7,201.2 L115.9,202.2 L115.2,203.1 L114.5,204.0 L113.8,205.0 L113.1,205.9 L112.4,206.8 L111.7,207.7 L111.0,208.6 L110.3,209.5 L109.5,210.4 L108.7,211.3 L107.9,212.2 L107.1,213.1 L106.3,214.1 L105.5,215.0 L104.7,215.9 L104.0,216.8 L103.3,217.8 L102.5,218.7 L101.8,219.8 L101.0,221.0 L100.2,222.4 L99.3,223.8 L98.4,225.4 L97.6,227.0 L96.8,228.7 L96.0,230.5 L95.3,232.4 L94.7,234.5 L94.1,236.7 L93.6,238.8 L93.0,240.8 L92.5,242.5 L92.0,243.9 L91.6,245.0 L91.1,246.0 L90.7,246.9 L90.3,247.9 L89.8,249.0 L89.3,250.3 L88.7,251.7 L88.1,253.2 L87.5,254.7 L86.9,256.2 L86.3,257.7 L85.7,259.2 L85.0,260.8 L84.3,262.4 L83.6,264.0 L82.9,265.5 L82.3,266.8 L81.7,268.1 L81.2,269.2 L80.7,270.2 L80.3,271.2 L79.8,272.1 L79.2,273.0 L78.6,273.8 L77.9,274.5 L77.3,275.1 L76.6,275.8 L75.9,276.5 L75.2,277.3 L74.5,278.3 L73.8,279.3 L73.1,280.4 L72.5,281.5 L71.8,282.7 L71.1,284.0 L70.4,285.3 L69.6,286.9 L68.9,288.5 L68.2,290.1 L67.6,291.4 L67.2,292.4Z" fill="#999999" fill-opacity="0.4" stroke="none"/>
<path d="M67.2,289.0 L67.6,288.2 L68.2,287.0 L68.9,285.7 L69.6,284.2 L70.4,282.8 L71.1,281.6 L71.8,280.5 L72.5,279.4 L73.1,278.3 L73.8,277.3 L74.5,276.4 L75.2,275.5 L75.9,274.7 L76.6,274.1 L77.3,273.4 L77.9,272.8 L78.6,272.2 L79.2,271.4 L79.8,270.5 L80.3,269.6 L80.7,268.7 L81.2,267.6 L81.7,266.5 L82.3,265.3 L82.9,264.0 L83.6,262.5 L84.3,260.9 L85.0,259.3 L85.7,257.7 L86.3,256.2 L86.9,254.7 L87.5,253.2 L88.1,251.7 L88.7,250.2 L89.3,248.8 L89.8,247.5 L90.3,246.4 L90.7,245.4 L91.1,244.5 L91.6,243.5 L92.0,242.4 L92.5,241.0 L93.0,239.3 L93.6,237.3 L94.1,235.2 L94.7,233.0 L95.3,230.9 L96.0,229.0 L96.8,227.2 L97.6,225.5 L98.4,223.9 L99.3,222.3 L100.2,220.9 L101.0,219.5 L101.8,218.3 L102.5,217.2 L103.3,216.2 L104.0,215.3 L104.7,214.4 L105.5,213.5 L106.3,212.6 L107.1,211.6 L107.9,210.7 L108.7,209.8 L109.5,208.9 L110.3,208.0 L111.0,207.1 L111.7,206.2 L112.4,205.3 L113.1,204.3 L113.8,203.4 L114.5,202.5 L115.2,201.6 L115.9,200.6 L116.7,199.7 L117.4,198.7 L118.1,197.8 L118.8,196.8 L119.5,195.8 L120.1,194.8 L120.7,193.8 L121.3,192.8 L121.9,191.8 L122.5,191.0 L123.0,190.3 L123.5,189.6 L123.9,189.0 L124.4,188.5 L124.9,188.0 L125.5,187.5 L126.3,187.1 L127.2,186.6 L128.1,186.3 L129.0,186.0 L129.8,185.7 L130.3,185.5" fill="none" stroke="#F8766D" stroke-dasharray="3.3 3.1" stroke-width="1.7"/>
<path d="M67.2,266.6 L67.5,265.4 L68.0,263.8 L68.6,261.8 L69.2,259.7 L69.8,257.6 L70.3,255.7 L70.7,254.0 L71.1,252.3 L71.5,250.6 L71.9,249.0 L72.2,247.4 L72.6,245.9 L73.0,244.4 L73.3,242.9 L73.7,241.5 L74.1,240.0 L74.4,238.6 L74.8,237.1 L75.2,235.7 L75.6,234.2 L75.9,232.7 L76.3,231.3 L76.7,229.8 L77.1,228.3 L77.5,226.8 L77.9,225.4 L78.3,223.9 L78.6,222.4 L79.0,220.9 L79.4,219.4 L79.8,217.8 L80.1,216.1 L80.5,214.4 L80.9,212.7 L81.2,211.0 L81.6,209.5 L82.0,207.9 L82.4,206.4 L82.7,204.9 L83.1,203.5 L83.5,202.1 L83.9,200.8 L84.3,199.5 L84.6,198.2 L85.0,197.0 L85.4,195.8 L85.8,194.6 L86.2,193.5 L86.7,192.4 L87.1,191.3 L87.6,190.2 L88.2,189.2 L88.8,188.2 L89.4,187.3 L90.1,186.4 L90.9,185.5 L91.8,184.6 L92.7,183.9 L93.5,183.1 L94.4,182.5 L95.2,182.0 L95.9,181.5 L96.6,181.2 L97.4,180.8 L98.3,180.6 L99.5,180.3 L100.8,180.1 L102.2,179.9 L103.8,179.7 L105.6,179.5 L107.6,179.4 L110.0,179.3 L113.1,179.2 L116.8,179.0 L120.8,178.8 L124.7,178.4 L128.0,177.7 L130.3,177.0 L130.3,183.8 L128.0,183.1 L124.7,182.6 L120.8,182.3 L116.8,182.2 L113.1,182.2 L110.0,182.3 L107.6,182.4 L105.6,182.5 L103.8,182.7 L102.2,182.9 L100.8,183.1 L99.5,183.3 L98.3,183.6 L97.4,183.8 L96.6,184.2 L95.9,184.5 L95.2,185.0 L94.4,185.5 L93.5,186.1 L92.7,186.9 L91.8,187.7 L90.9,188.5 L90.1,189.4 L89.4,190.3 L88.8,191.2 L88.2,192.2 L87.6,193.2 L87.1,194.3 L86.7,195.4 L86.2,196.5 L85.8,197.6 L85.4,198.8 L85.0,200.0 L84.6,201.2 L84.3,202.5 L83.9,203.8 L83.5,205.2 L83.1,206.6 L82.7,208.0 L82.4,209.5 L82.0,211.0 L81.6,212.5 L81.2,214.2 L80.9,215.8 L80.5,217.6 L80.1,219.3 L79.8,221.0 L79.4,222.6 L79.0,224.2 L78.6,225.7 L78.3,227.2 L77.9,228.7 L77.5,230.2 L77.1,231.7 L76.7,233.2 L76.3,234.7 L75.9,236.3 L75.6,237.8 L75.2,239.3 L74.8,240.9 L74.4,242.4 L74.1,243.9 L73.7,245.4 L73.3,246.9 L73.0,248.5 L72.6,250.1 L72.2,251.8 L71.9,253.5 L71.5,255.2 L71.1,257.0 L70.7,258.8 L70.3,260.7 L69.8,262.8 L69.2,265.2 L68.6,267.7 L68.0,270.0 L67.5,272.0 L67.2,273.4Z" fill="#999999" fill-opacity="0.4" stroke="none"/>
<path d="M67.2,270.0 L67.5,268.7 L68.0,266.9 L68.6,264.7 L69.2,262.5 L69.8,260.2 L70.3,258.2 L70.7,256.4 L71.1,254.6 L71.5,252.9 L71.9,251.3 L72.2,249.6 L72.6,248.0 L73.0,246.4 L73.3,244.9 L73.7,243.4 L74.1,242.0 L74.4,240.5 L74.8,239.0 L75.2,237.5 L75.6,236.0 L75.9,234.5 L76.3,233.0 L76.7,231.5 L77.1,230.0 L77.5,228.5 L77.9,227.0 L78.3,225.6 L78.6,224.1 L79.0,222.6 L79.4,221.0 L79.8,219.4 L80.1,217.7 L80.5,216.0 L80.9,214.3 L81.2,212.6 L81.6,211.0 L82.0,209.5 L82.4,208.0 L82.7,206.5 L83.1,205.0 L83.5,203.7 L83.9,202.3 L84.3,201.0 L84.6,199.7 L85.0,198.5 L85.4,197.3 L85.8,196.1 L86.2,195.0 L86.7,193.9 L87.1,192.8 L87.6,191.7 L88.2,190.7 L88.8,189.7 L89.4,188.8 L90.1,187.9 L90.9,187.0 L91.8,186.2 L92.7,185.4 L93.5,184.6 L94.4,184.0 L95.2,183.5 L95.9,183.0 L96.6,182.7 L97.4,182.3 L98.3,182.1 L99.5,181.8 L100.8,181.6 L102.2,181.4 L103.8,181.2 L105.6,181.0 L107.6,180.9 L110.0,180.8 L113.1,180.7 L116.8,180.6 L120.8,180.5 L124.7,180.5 L128.0,180.4 L130.3,180.4" fill="none" stroke="#7CAE00"/>
<path d="M67.2,268.6 L67.5,268.1 L67.9,267.4 L68.3,266.6 L68.9,265.7 L69.4,264.6 L69.8,263.5 L70.2,262.2 L70.6,260.8 L70.9,259.4 L71.3,257.8 L71.6,256.3 L72.0,254.8 L72.4,253.3 L72.8,251.9 L73.1,250.4 L73.5,248.9 L73.9,247.5 L74.3,246.1 L74.7,244.8 L75.0,243.5 L75.4,242.2 L75.8,241.0 L76.1,239.7 L76.5,238.4 L76.8,236.9 L77.2,235.5 L77.5,233.9 L77.8,232.4 L78.2,230.9 L78.5,229.4 L78.8,227.9 L79.2,226.4 L79.5,224.9 L79.8,223.4 L80.2,221.9 L80.5,220.4 L80.8,219.0 L81.1,217.5 L81.5,216.1 L81.8,214.7 L82.1,213.3 L82.5,212.0 L82.9,210.6 L83.3,209.3 L83.7,208.0 L84.1,206.8 L84.5,205.6 L85.0,204.5 L85.5,203.5 L86.0,202.5 L86.5,201.6 L87.0,200.7 L87.5,199.9 L88.0,199.0 L88.5,198.1 L89.0,197.3 L89.5,196.5 L90.0,195.7 L90.5,194.9 L91.0,194.0 L91.5,193.0 L92.1,192.0 L92.6,191.0 L93.2,189.9 L93.8,188.9 L94.4,188.0 L95.0,187.1 L95.7,186.3 L96.3,185.6 L97.0,184.8 L97.8,184.1 L98.5,183.5 L99.3,182.9 L100.1,182.3 L100.9,181.8 L101.8,181.3 L102.7,180.9 L103.6,180.5 L104.4,180.2 L105.1,180.0 L105.8,179.8 L106.8,179.7 L108.1,179.6 L110.0,179.5 L112.8,179.4 L116.5,179.2 L120.6,179.0 L124.6,178.5 L128.0,177.9 L130.3,177.1 L130.3,183.9 L128.0,183.2 L124.6,182.7 L120.6,182.4 L116.5,182.3 L112.8,182.4 L110.0,182.5 L108.1,182.6 L106.8,182.7 L105.8,182.8 L105.1,183.0 L104.4,183.2 L103.6,183.5 L102.7,183.9 L101.8,184.3 L100.9,184.8 L100.1,185.3 L99.3,185.9 L98.5,186.5 L97.8,187.1 L97.0,187.8 L96.3,188.6 L95.7,189.3 L95.0,190.1 L94.4,191.0 L93.8,191.9 L93.2,192.9 L92.6,194.0 L92.1,195.0 L91.5,196.0 L91.0,197.0 L90.5,197.9 L90.0,198.7 L89.5,199.5 L89.0,200.3 L88.5,201.2 L88.0,202.0 L87.5,202.9 L87.0,203.7 L86.5,204.6 L86.0,205.5 L85.5,206.5 L85.0,207.5 L84.5,208.6 L84.1,209.8 L83.7,211.1 L83.3,212.4 L82.9,213.7 L82.5,215.0 L82.1,216.4 L81.8,217.8 L81.5,219.2 L81.1,220.6 L80.8,222.1 L80.5,223.6 L80.2,225.0 L79.8,226.5 L79.5,228.1 L79.2,229.6 L78.8,231.1 L78.5,232.6 L78.2,234.2 L77.8,235.7 L77.5,237.3 L77.2,238.8 L76.8,240.4 L76.5,241.8 L76.1,243.2 L75.8,244.6 L75.4,245.9 L75.0,247.2 L74.7,248.5 L74.3,249.9 L73.9,251.4 L73.5,252.9 L73.1,254.5 L72.8,256.0 L72.4,257.6 L72.0,259.2 L71.6,260.8 L71.3,262.5 L70.9,264.1 L70.6,265.8 L70.2,267.3 L69.8,268.7 L69.4,270.1 L68.9,271.4 L68.3,272.6 L67.9,273.7 L67.5,274.7 L67.2,275.4Z" fill="#999999" fill-opacity="0.4" stroke="none"/>
<path d="M67.2,272.0 L67.5,271.4 L67.9,270.6 L68.3,269.6 L68.9,268.5 L69.4,267.3 L69.8,266.1 L70.2,264.8 L70.6,263.3 L70.9,261.7 L71.3,260.1 L71.6,258.5 L72.0,257.0 L72.4,255.5 L72.8,254.0 L73.1,252.4 L73.5,250.9 L73.9,249.4 L74.3,248.0 L74.7,246.6 L75.0,245.3 L75.4,244.1 L75.8,242.8 L76.1,241.5 L76.5,240.1 L76.8,238.7 L77.2,237.2 L77.5,235.6 L77.8,234.1 L78.2,232.5 L78.5,231.0 L78.8,229.5 L79.2,228.0 L79.5,226.5 L79.8,225.0 L80.2,223.5 L80.5,222.0 L80.8,220.5 L81.1,219.1 L81.5,217.7 L81.8,216.2 L82.1,214.9 L82.5,213.5 L82.9,212.2 L83.3,210.9 L83.7,209.6 L84.1,208.3 L84.5,207.1 L85.0,206.0 L85.5,205.0 L86.0,204.0 L86.5,203.1 L87.0,202.2 L87.5,201.4 L88.0,200.5 L88.5,199.6 L89.0,198.8 L89.5,198.0 L90.0,197.2 L90.5,196.4 L91.0,195.5 L91.5,194.5 L92.1,193.5 L92.6,192.5 L93.2,191.4 L93.8,190.4 L94.4,189.5 L95.0,188.6 L95.7,187.8 L96.3,187.1 L97.0,186.3 L97.8,185.6 L98.5,185.0 L99.3,184.4 L100.1,183.8 L100.9,183.3 L101.8,182.8 L102.7,182.4 L103.6,182.0 L104.4,181.7 L105.1,181.5 L105.8,181.3 L106.8,181.2 L108.1,181.1 L110.0,181.0 L112.8,180.9 L116.5,180.8 L120.6,180.7 L124.6,180.6 L128.0,180.5 L130.3,180.5" fill="none" stroke="#7CAE00" stroke-dasharray="3.3 3.1" stroke-width="1.7"/>
<path d="M67.2,261.1 L67.5,260.3 L67.9,259.1 L68.3,257.7 L68.9,256.2 L69.4,254.7 L69.8,253.3 L70.2,252.0 L70.6,250.8 L70.9,249.5 L71.3,248.3 L71.6,247.0 L72.0,245.8 L72.4,244.5 L72.7,243.3 L73.1,242.0 L73.5,240.7 L73.9,239.5 L74.3,238.2 L74.7,236.9 L75.2,235.6 L75.7,234.3 L76.2,233.0 L76.6,231.8 L77.1,230.6 L77.5,229.6 L77.9,228.6 L78.3,227.7 L78.7,226.8 L79.1,225.9 L79.6,224.9 L80.1,223.8 L80.6,222.6 L81.1,221.4 L81.7,220.1 L82.3,218.9 L82.8,217.7 L83.3,216.5 L83.9,215.3 L84.4,214.2 L85.0,213.0 L85.5,211.9 L86.1,210.9 L86.7,209.9 L87.3,209.0 L87.9,208.0 L88.5,207.2 L89.1,206.3 L89.7,205.5 L90.2,204.7 L90.7,203.9 L91.2,203.2 L91.6,202.5 L92.0,201.8 L92.5,201.1 L93.0,200.4 L93.4,199.7 L93.9,199.1 L94.4,198.4 L94.8,197.8 L95.3,197.2 L95.8,196.6 L96.2,196.0 L96.7,195.4 L97.2,194.9 L97.6,194.3 L98.1,193.8 L98.6,193.3 L99.1,192.8 L99.5,192.3 L100.0,191.9 L100.5,191.4 L101.0,191.0 L101.5,190.6 L101.9,190.2 L102.4,189.8 L102.9,189.5 L103.3,189.1 L103.8,188.8 L104.2,188.5 L104.6,188.2 L105.0,188.0 L105.4,187.8 L105.9,187.5 L106.6,187.1 L107.4,186.6 L108.4,186.1 L109.5,185.6 L110.6,185.0 L111.8,184.5 L112.9,184.0 L114.0,183.6 L115.1,183.2 L116.2,182.9 L117.4,182.5 L118.6,182.2 L120.0,181.9 L121.7,181.6 L123.6,181.2 L125.6,180.8 L127.5,180.2 L129.2,179.7 L130.3,179.2 L130.3,186.0 L129.2,185.7 L127.5,185.4 L125.6,185.2 L123.6,185.1 L121.7,185.1 L120.0,185.3 L118.6,185.5 L117.4,185.7 L116.2,186.0 L115.1,186.3 L114.0,186.6 L112.9,187.0 L111.8,187.5 L110.6,188.0 L109.5,188.6 L108.4,189.1 L107.4,189.7 L106.6,190.1 L105.9,190.5 L105.4,190.8 L105.0,191.0 L104.6,191.2 L104.2,191.5 L103.8,191.8 L103.3,192.1 L102.9,192.5 L102.4,192.8 L101.9,193.2 L101.5,193.6 L101.0,194.0 L100.5,194.4 L100.0,194.9 L99.5,195.3 L99.1,195.8 L98.6,196.3 L98.1,196.8 L97.6,197.3 L97.2,197.9 L96.7,198.4 L96.2,199.0 L95.8,199.6 L95.3,200.2 L94.8,200.8 L94.4,201.4 L93.9,202.1 L93.4,202.7 L93.0,203.4 L92.5,204.1 L92.0,204.8 L91.6,205.5 L91.2,206.2 L90.7,206.9 L90.2,207.7 L89.7,208.5 L89.1,209.3 L88.5,210.2 L87.9,211.1 L87.3,212.0 L86.7,212.9 L86.1,213.9 L85.5,215.0 L85.0,216.1 L84.4,217.2 L83.9,218.4 L83.3,219.5 L82.8,220.7 L82.3,221.9 L81.7,223.2 L81.1,224.5 L80.6,225.7 L80.1,226.9 L79.6,228.1 L79.1,229.1 L78.7,230.1 L78.3,231.0 L77.9,231.9 L77.5,232.9 L77.1,234.0 L76.6,235.2 L76.2,236.5 L75.7,237.9 L75.2,239.2 L74.7,240.6 L74.3,242.0 L73.9,243.4 L73.5,244.7 L73.1,246.1 L72.7,247.5 L72.4,248.8 L72.0,250.2 L71.6,251.6 L71.3,252.9 L70.9,254.3 L70.6,255.7 L70.2,257.1 L69.8,258.5 L69.4,260.1 L68.9,261.9 L68.3,263.7 L67.9,265.4 L67.5,266.9 L67.2,267.9Z" fill="#999999" fill-opacity="0.4" stroke="none"/>
<path d="M67.2,264.5 L67.5,263.6 L67.9,262.2 L68.3,260.7 L68.9,259.0 L69.4,257.4 L69.8,255.9 L70.2,254.5 L70.6,253.2 L70.9,251.9 L71.3,250.6 L71.6,249.3 L72.0,248.0 L72.4,246.7 L72.7,245.4 L73.1,244.0 L73.5,242.7 L73.9,241.4 L74.3,240.1 L74.7,238.8 L75.2,237.4 L75.7,236.1 L76.2,234.7 L76.6,233.5 L77.1,232.3 L77.5,231.2 L77.9,230.3 L78.3,229.4 L78.7,228.5 L79.1,227.5 L79.6,226.5 L80.1,225.4 L80.6,224.2 L81.1,222.9 L81.7,221.7 L82.3,220.4 L82.8,219.2 L83.3,218.0 L83.9,216.8 L84.4,215.7 L85.0,214.5 L85.5,213.4 L86.1,212.4 L86.7,211.4 L87.3,210.5 L87.9,209.6 L88.5,208.7 L89.1,207.8 L89.7,207.0 L90.2,206.2 L90.7,205.4 L91.2,204.7 L91.6,204.0 L92.0,203.3 L92.5,202.6 L93.0,201.9 L93.4,201.2 L93.9,200.6 L94.4,199.9 L94.8,199.3 L95.3,198.7 L95.8,198.1 L96.2,197.5 L96.7,196.9 L97.2,196.4 L97.6,195.8 L98.1,195.3 L98.6,194.8 L99.1,194.3 L99.5,193.8 L100.0,193.4 L100.5,192.9 L101.0,192.5 L101.5,192.1 L101.9,191.7 L102.4,191.3 L102.9,191.0 L103.3,190.6 L103.8,190.3 L104.2,190.0 L104.6,189.7 L105.0,189.5 L105.4,189.3 L105.9,189.0 L106.6,188.6 L107.4,188.2 L108.4,187.6 L109.5,187.1 L110.6,186.5 L111.8,186.0 L112.9,185.5 L114.0,185.1 L115.1,184.7 L116.2,184.4 L117.4,184.1 L118.6,183.9 L120.0,183.6 L121.7,183.4 L123.6,183.2 L125.6,183.0 L127.5,182.8 L129.2,182.7 L130.3,182.6" fill="none" stroke="#00BFC4"/>
<path d="M67.2,260.6 L67.4,259.4 L67.7,257.8 L68.1,255.9 L68.5,253.8 L68.9,251.7 L69.2,249.7 L69.5,247.9 L69.8,246.0 L70.1,244.1 L70.3,242.3 L70.6,240.5 L70.9,238.9 L71.2,237.5 L71.5,236.2 L71.7,235.1 L72.0,233.9 L72.3,232.7 L72.6,231.3 L72.9,229.7 L73.2,228.1 L73.6,226.3 L73.9,224.5 L74.3,222.8 L74.6,221.1 L74.9,219.5 L75.2,218.0 L75.5,216.4 L75.9,214.9 L76.2,213.4 L76.6,211.8 L77.0,210.1 L77.5,208.4 L78.0,206.6 L78.5,204.9 L79.0,203.2 L79.4,201.8 L79.7,200.6 L80.0,199.6 L80.3,198.7 L80.5,197.8 L80.9,196.9 L81.3,195.8 L81.8,194.7 L82.4,193.4 L83.0,192.0 L83.7,190.7 L84.5,189.5 L85.3,188.3 L86.2,187.2 L87.2,186.2 L88.2,185.2 L89.3,184.3 L90.4,183.4 L91.4,182.7 L92.3,182.1 L93.2,181.6 L94.1,181.2 L95.0,180.9 L96.1,180.6 L97.5,180.3 L99.1,180.1 L100.9,179.9 L102.9,179.8 L105.0,179.7 L107.4,179.6 L110.0,179.5 L113.2,179.4 L117.0,179.3 L121.0,179.1 L124.8,178.7 L128.0,178.0 L130.3,177.3 L130.3,184.1 L128.0,183.4 L124.8,182.9 L121.0,182.5 L117.0,182.4 L113.2,182.4 L110.0,182.5 L107.4,182.6 L105.0,182.7 L102.9,182.8 L100.9,182.9 L99.1,183.1 L97.5,183.3 L96.1,183.6 L95.0,183.9 L94.1,184.2 L93.2,184.6 L92.3,185.1 L91.4,185.7 L90.4,186.4 L89.3,187.3 L88.2,188.2 L87.2,189.2 L86.2,190.2 L85.3,191.3 L84.5,192.5 L83.7,193.8 L83.0,195.1 L82.4,196.4 L81.8,197.7 L81.3,199.0 L80.9,200.0 L80.5,200.9 L80.3,201.8 L80.0,202.7 L79.7,203.8 L79.4,205.0 L79.0,206.5 L78.5,208.1 L78.0,209.9 L77.5,211.7 L77.0,213.5 L76.6,215.2 L76.2,216.9 L75.9,218.5 L75.5,220.0 L75.2,221.6 L74.9,223.2 L74.6,224.9 L74.3,226.6 L73.9,228.4 L73.6,230.3 L73.2,232.1 L72.9,233.9 L72.6,235.5 L72.3,237.0 L72.0,238.3 L71.7,239.5 L71.5,240.8 L71.2,242.2 L70.9,243.7 L70.6,245.4 L70.3,247.3 L70.1,249.2 L69.8,251.2 L69.5,253.3 L69.2,255.3 L68.9,257.4 L68.5,259.7 L68.1,262.0 L67.7,264.2 L67.4,266.1 L67.2,267.4Z" fill="#999999" fill-opacity="0.4" stroke="none"/>
<path d="M67.2,264.0 L67.4,262.7 L67.7,261.0 L68.1,258.9 L68.5,256.7 L68.9,254.5 L69.2,252.5 L69.5,250.6 L69.8,248.6 L70.1,246.7 L70.3,244.8 L70.6,243.0 L70.9,241.3 L71.2,239.8 L71.5,238.5 L71.7,237.3 L72.0,236.1 L72.3,234.8 L72.6,233.4 L72.9,231.8 L73.2,230.1 L73.6,228.3 L73.9,226.5 L74.3,224.7 L74.6,223.0 L74.9,221.4 L75.2,219.8 L75.5,218.2 L75.9,216.7 L76.2,215.1 L76.6,213.5 L77.0,211.8 L77.5,210.0 L78.0,208.2 L78.5,206.5 L79.0,204.9 L79.4,203.4 L79.7,202.2 L80.0,201.2 L80.3,200.2 L80.5,199.4 L80.9,198.4 L81.3,197.4 L81.8,196.2 L82.4,194.9 L83.0,193.6 L83.7,192.2 L84.5,191.0 L85.3,189.8 L86.2,188.7 L87.2,187.7 L88.2,186.7 L89.3,185.8 L90.4,184.9 L91.4,184.2 L92.3,183.6 L93.2,183.1 L94.1,182.7 L95.0,182.4 L96.1,182.1 L97.5,181.8 L99.1,181.6 L100.9,181.4 L102.9,181.3 L105.0,181.2 L107.4,181.1 L110.0,181.0 L113.2,180.9 L117.0,180.9 L121.0,180.8 L124.8,180.8 L128.0,180.7 L130.3,180.7" fill="none" stroke="#00BFC4" stroke-dasharray="3.3 3.1" stroke-width="1.7"/>
<path d="M67.2,248.6 L67.3,247.7 L67.5,246.5 L67.8,245.0 L68.1,243.4 L68.4,241.9 L68.6,240.6 L68.8,239.4 L69.0,238.3 L69.2,237.3 L69.4,236.3 L69.6,235.2 L69.8,234.2 L70.0,233.1 L70.2,232.1 L70.3,231.1 L70.5,230.0 L70.7,228.9 L70.9,227.6 L71.1,226.3 L71.3,224.9 L71.5,223.4 L71.7,221.9 L72.0,220.2 L72.3,218.4 L72.7,216.4 L73.1,214.1 L73.5,211.6 L73.9,209.2 L74.4,207.0 L74.8,205.2 L75.2,203.9 L75.5,202.8 L75.9,201.9 L76.3,201.1 L76.6,200.5 L77.0,199.8 L77.4,199.1 L77.8,198.6 L78.2,198.1 L78.6,197.6 L79.1,197.2 L79.5,196.7 L79.9,196.2 L80.4,195.8 L80.8,195.3 L81.3,194.8 L81.8,194.3 L82.4,193.8 L83.0,193.1 L83.7,192.4 L84.4,191.7 L85.1,191.0 L85.9,190.3 L86.6,189.7 L87.3,189.2 L87.8,188.7 L88.4,188.3 L89.1,187.9 L89.9,187.5 L90.9,187.0 L92.1,186.5 L93.5,186.0 L95.1,185.4 L96.7,184.9 L98.4,184.4 L100.0,184.0 L101.5,183.6 L102.9,183.3 L104.3,183.0 L105.9,182.8 L107.7,182.5 L110.0,182.3 L113.0,182.0 L116.8,181.7 L120.8,181.3 L124.7,180.7 L128.0,179.8 L130.3,179.0 L130.3,185.8 L128.0,185.2 L124.7,184.8 L120.8,184.7 L116.8,184.8 L113.0,185.0 L110.0,185.3 L107.7,185.6 L105.9,185.8 L104.3,186.1 L102.9,186.3 L101.5,186.6 L100.0,187.0 L98.4,187.4 L96.7,187.9 L95.1,188.4 L93.5,189.0 L92.1,189.5 L90.9,190.0 L89.9,190.5 L89.1,190.9 L88.4,191.3 L87.8,191.7 L87.3,192.2 L86.6,192.7 L85.9,193.3 L85.1,194.0 L84.4,194.7 L83.7,195.5 L83.0,196.2 L82.4,196.8 L81.8,197.4 L81.3,197.9 L80.8,198.4 L80.4,198.9 L79.9,199.4 L79.5,199.9 L79.1,200.4 L78.6,200.9 L78.2,201.4 L77.8,201.9 L77.4,202.5 L77.0,203.2 L76.6,203.9 L76.3,204.6 L75.9,205.4 L75.5,206.4 L75.2,207.5 L74.8,209.0 L74.4,210.8 L73.9,213.1 L73.5,215.6 L73.1,218.2 L72.7,220.6 L72.3,222.8 L72.0,224.6 L71.7,226.4 L71.5,228.0 L71.3,229.5 L71.1,231.0 L70.9,232.4 L70.7,233.7 L70.5,234.9 L70.3,236.1 L70.2,237.2 L70.0,238.3 L69.8,239.4 L69.6,240.6 L69.4,241.7 L69.2,242.8 L69.0,244.0 L68.8,245.2 L68.6,246.4 L68.4,247.9 L68.1,249.6 L67.8,251.3 L67.5,253.0 L67.3,254.4 L67.2,255.4Z" fill="#999999" fill-opacity="0.4" stroke="none"/>
<path d="M67.2,252.0 L67.3,251.1 L67.5,249.7 L67.8,248.2 L68.1,246.5 L68.4,244.9 L68.6,243.5 L68.8,242.3 L69.0,241.1 L69.2,240.0 L69.4,239.0 L69.6,237.9 L69.8,236.8 L70.0,235.7 L70.2,234.6 L70.3,233.6 L70.5,232.5 L70.7,231.3 L70.9,230.0 L71.1,228.6 L71.3,227.2 L71.5,225.7 L71.7,224.1 L72.0,222.4 L72.3,220.6 L72.7,218.5 L73.1,216.1 L73.5,213.6 L73.9,211.2 L74.4,208.9 L74.8,207.1 L75.2,205.7 L75.5,204.6 L75.9,203.7 L76.3,202.9 L76.6,202.2 L77.0,201.5 L77.4,200.8 L77.8,200.2 L78.2,199.7 L78.6,199.3 L79.1,198.8 L79.5,198.3 L79.9,197.8 L80.4,197.3 L80.8,196.9 L81.3,196.4 L81.8,195.9 L82.4,195.3 L83.0,194.7 L83.7,194.0 L84.4,193.2 L85.1,192.5 L85.9,191.8 L86.6,191.2 L87.3,190.7 L87.8,190.2 L88.4,189.8 L89.1,189.4 L89.9,189.0 L90.9,188.5 L92.1,188.0 L93.5,187.5 L95.1,186.9 L96.7,186.4 L98.4,185.9 L100.0,185.5 L101.5,185.1 L102.9,184.8 L104.3,184.5 L105.9,184.3 L107.7,184.1 L110.0,183.8 L113.0,183.5 L116.8,183.3 L120.8,183.0 L124.7,182.8 L128.0,182.5 L130.3,182.4" fill="none" stroke="#C77CFF"/>
<path d="M67.2,210.5 L67.4,209.1 L67.8,207.0 L68.3,204.6 L68.8,202.1 L69.3,199.7 L69.8,197.7 L70.2,196.0 L70.6,194.6 L71.0,193.2 L71.4,192.0 L71.8,190.9 L72.3,189.7 L72.8,188.7 L73.3,187.6 L73.9,186.6 L74.5,185.7 L75.1,184.9 L75.7,184.2 L76.3,183.6 L77.0,183.1 L77.7,182.8 L78.4,182.4 L79.1,182.1 L79.9,181.8 L80.7,181.5 L81.5,181.2 L82.3,181.0 L83.1,180.7 L84.0,180.5 L85.0,180.3 L85.7,180.1 L85.9,179.9 L86.3,179.8 L87.0,179.6 L88.7,179.5 L91.7,179.4 L96.7,179.3 L103.6,179.2 L111.4,179.1 L119.1,178.9 L125.8,178.3 L130.3,177.1 L130.3,183.9 L125.8,182.8 L119.1,182.2 L111.4,182.2 L103.6,182.2 L96.7,182.3 L91.7,182.4 L88.7,182.5 L87.0,182.6 L86.3,182.8 L85.9,182.9 L85.7,183.1 L85.0,183.3 L84.0,183.5 L83.1,183.8 L82.3,184.0 L81.5,184.3 L80.7,184.6 L79.9,185.0 L79.1,185.3 L78.4,185.7 L77.7,186.1 L77.0,186.6 L76.3,187.1 L75.7,187.8 L75.1,188.6 L74.5,189.5 L73.9,190.5 L73.3,191.6 L72.8,192.8 L72.3,194.1 L71.8,195.3 L71.4,196.6 L71.0,198.0 L70.6,199.5 L70.2,201.1 L69.8,202.9 L69.3,205.2 L68.8,207.8 L68.3,210.6 L67.8,213.3 L67.4,215.7 L67.2,217.3Z" fill="#999999" fill-opacity="0.4" stroke="none"/>
<path d="M67.2,213.9 L67.4,212.4 L67.8,210.2 L68.3,207.6 L68.8,205.0 L69.3,202.4 L69.8,200.3 L70.2,198.6 L70.6,197.0 L71.0,195.6 L71.4,194.3 L71.8,193.1 L72.3,191.9 L72.8,190.7 L73.3,189.6 L73.9,188.6 L74.5,187.6 L75.1,186.8 L75.7,186.0 L76.3,185.4 L77.0,184.9 L77.7,184.4 L78.4,184.1 L79.1,183.7 L79.9,183.4 L80.7,183.1 L81.5,182.8 L82.3,182.5 L83.1,182.2 L84.0,182.0 L85.0,181.8 L85.7,181.6 L85.9,181.4 L86.3,181.3 L87.0,181.1 L88.7,181.0 L91.7,180.9 L96.7,180.8 L103.6,180.7 L111.4,180.6 L119.1,180.6 L125.8,180.5 L130.3,180.5" fill="none" stroke="#C77CFF" stroke-dasharray="3.3 3.1" stroke-width="1.7"/>
</g>
<g clip-path="url(#cp10)" stroke-width="2.1" stroke-linecap="butt" stroke-linejoin="round">
<path d="M140.7,118.7 L140.9,117.5 L141.2,115.9 L141.5,113.9 L141.9,111.8 L142.3,109.6 L142.7,107.5 L143.1,105.4 L143.5,103.2 L144.0,100.8 L144.4,98.6 L144.9,96.5 L145.3,94.6 L145.7,93.0 L146.0,91.5 L146.4,90.3 L146.7,89.1 L147.1,87.9 L147.4,86.7 L147.8,85.6 L148.1,84.4 L148.4,83.3 L148.8,82.2 L149.2,81.0 L149.6,79.7 L150.1,78.4 L150.6,76.9 L151.1,75.4 L151.7,73.9 L152.2,72.4 L152.7,70.9 L153.2,69.5 L153.7,68.1 L154.1,66.7 L154.6,65.3 L155.0,63.8 L155.5,62.4 L156.0,60.8 L156.4,59.1 L156.9,57.4 L157.4,55.7 L157.8,54.1 L158.3,52.6 L158.8,51.1 L159.2,49.7 L159.7,48.3 L160.2,47.0 L160.6,45.9 L161.1,44.8 L161.5,43.9 L161.9,43.2 L162.3,42.6 L162.7,42.0 L163.2,41.4 L163.9,40.8 L164.7,40.1 L165.5,39.3 L166.5,38.5 L167.6,37.8 L168.7,37.1 L170.0,36.5 L171.3,36.0 L172.5,35.6 L173.9,35.2 L175.5,34.9 L177.5,34.6 L180.0,34.3 L183.5,34.0 L187.9,33.8 L192.6,33.5 L197.3,33.0 L201.2,32.3 L204.0,31.3 L204.0,38.3 L201.2,37.5 L197.3,37.0 L192.6,36.8 L187.9,36.9 L183.5,37.1 L180.0,37.3 L177.5,37.6 L175.5,37.9 L173.9,38.2 L172.5,38.6 L171.3,39.0 L170.0,39.5 L168.7,40.1 L167.6,40.8 L166.5,41.5 L165.5,42.3 L164.7,43.1 L163.9,43.8 L163.2,44.4 L162.7,45.0 L162.3,45.6 L161.9,46.2 L161.5,46.9 L161.1,47.8 L160.6,48.9 L160.2,50.1 L159.7,51.3 L159.2,52.7 L158.8,54.2 L158.3,55.6 L157.8,57.1 L157.4,58.8 L156.9,60.5 L156.4,62.2 L156.0,63.8 L155.5,65.4 L155.0,66.9 L154.6,68.4 L154.1,69.8 L153.7,71.2 L153.2,72.6 L152.7,74.1 L152.2,75.6 L151.7,77.2 L151.1,78.8 L150.6,80.3 L150.1,81.8 L149.6,83.3 L149.2,84.6 L148.8,85.8 L148.4,87.0 L148.1,88.2 L147.8,89.4 L147.4,90.7 L147.1,91.9 L146.7,93.2 L146.4,94.4 L146.0,95.8 L145.7,97.3 L145.3,99.0 L144.9,101.1 L144.4,103.3 L144.0,105.8 L143.5,108.3 L143.1,110.8 L142.7,113.1 L142.3,115.4 L141.9,117.8 L141.5,120.2 L141.2,122.3 L140.9,124.2 L140.7,125.5Z" fill="#999999" fill-opacity="0.4" stroke="none"/>
<path d="M140.7,122.1 L140.9,120.8 L141.2,119.1 L141.5,117.0 L141.9,114.8 L142.3,112.5 L142.7,110.3 L143.1,108.1 L143.5,105.7 L144.0,103.3 L144.4,101.0 L144.9,98.8 L145.3,96.8 L145.7,95.1 L146.0,93.7 L146.4,92.4 L146.7,91.1 L147.1,89.9 L147.4,88.7 L147.8,87.5 L148.1,86.3 L148.4,85.2 L148.8,84.0 L149.2,82.8 L149.6,81.5 L150.1,80.1 L150.6,78.6 L151.1,77.1 L151.7,75.5 L152.2,74.0 L152.7,72.5 L153.2,71.1 L153.7,69.6 L154.1,68.2 L154.6,66.8 L155.0,65.4 L155.5,63.9 L156.0,62.3 L156.4,60.6 L156.9,58.9 L157.4,57.3 L157.8,55.6 L158.3,54.1 L158.8,52.6 L159.2,51.2 L159.7,49.8 L160.2,48.5 L160.6,47.4 L161.1,46.3 L161.5,45.4 L161.9,44.7 L162.3,44.1 L162.7,43.5 L163.2,42.9 L163.9,42.3 L164.7,41.6 L165.5,40.8 L166.5,40.0 L167.6,39.3 L168.7,38.6 L170.0,38.0 L171.3,37.5 L172.5,37.1 L173.9,36.7 L175.5,36.4 L177.5,36.1 L180.0,35.8 L183.5,35.6 L187.9,35.3 L192.6,35.2 L197.3,35.0 L201.2,34.9 L204.0,34.8" fill="none" stroke="#F8766D"/>
<path d="M140.7,136.1 L141.1,135.1 L141.6,133.6 L142.3,131.9 L143.0,130.0 L143.7,128.1 L144.4,126.4 L145.1,124.8 L145.8,123.2 L146.5,121.7 L147.2,120.1 L147.9,118.5 L148.6,116.9 L149.3,115.3 L150.0,113.7 L150.7,112.1 L151.5,110.4 L152.2,108.8 L152.9,107.0 L153.6,105.1 L154.4,103.2 L155.1,101.1 L155.8,99.1 L156.5,97.1 L157.1,95.3 L157.6,93.5 L158.1,91.8 L158.5,90.1 L158.9,88.5 L159.3,87.0 L159.7,85.5 L160.1,84.1 L160.5,82.8 L160.8,81.6 L161.2,80.4 L161.6,79.2 L162.0,77.9 L162.5,76.6 L162.9,75.3 L163.5,74.0 L164.0,72.6 L164.5,71.2 L165.0,69.8 L165.5,68.3 L166.0,66.8 L166.5,65.2 L167.0,63.6 L167.5,62.0 L168.0,60.5 L168.5,59.0 L169.0,57.5 L169.5,56.0 L170.0,54.6 L170.5,53.2 L171.1,51.9 L171.7,50.7 L172.2,49.5 L172.8,48.4 L173.5,47.4 L174.1,46.3 L174.8,45.2 L175.5,44.0 L176.4,42.8 L177.2,41.6 L178.0,40.5 L178.8,39.4 L179.6,38.6 L180.3,38.0 L180.9,37.5 L181.5,37.1 L182.1,36.8 L182.7,36.6 L183.4,36.3 L184.1,36.1 L184.8,35.9 L185.6,35.7 L186.3,35.6 L187.2,35.4 L188.1,35.3 L189.1,35.1 L190.2,34.9 L191.3,34.8 L192.5,34.6 L193.7,34.4 L195.0,34.2 L196.5,34.0 L198.2,33.7 L199.9,33.3 L201.6,32.9 L203.0,32.4 L204.0,32.0 L204.0,39.0 L203.0,38.7 L201.6,38.3 L199.9,38.1 L198.2,37.9 L196.5,37.8 L195.0,37.8 L193.7,37.8 L192.5,37.9 L191.3,38.0 L190.2,38.1 L189.1,38.2 L188.1,38.3 L187.2,38.5 L186.3,38.6 L185.6,38.7 L184.8,38.9 L184.1,39.1 L183.4,39.3 L182.7,39.6 L182.1,39.8 L181.5,40.1 L180.9,40.5 L180.3,41.0 L179.6,41.6 L178.8,42.5 L178.0,43.5 L177.2,44.6 L176.4,45.8 L175.5,47.0 L174.8,48.2 L174.1,49.3 L173.5,50.4 L172.8,51.4 L172.2,52.5 L171.7,53.7 L171.1,54.9 L170.5,56.2 L170.0,57.6 L169.5,59.0 L169.0,60.5 L168.5,62.0 L168.0,63.5 L167.5,65.0 L167.0,66.6 L166.5,68.2 L166.0,69.8 L165.5,71.3 L165.0,72.8 L164.5,74.2 L164.0,75.6 L163.5,77.0 L162.9,78.3 L162.5,79.6 L162.0,80.9 L161.6,82.2 L161.2,83.4 L160.8,84.6 L160.5,85.8 L160.1,87.1 L159.7,88.5 L159.3,90.0 L158.9,91.5 L158.5,93.2 L158.1,94.8 L157.6,96.5 L157.1,98.3 L156.5,100.2 L155.8,102.2 L155.1,104.2 L154.4,106.3 L153.6,108.3 L152.9,110.2 L152.2,112.0 L151.5,113.7 L150.7,115.4 L150.0,117.1 L149.3,118.8 L148.6,120.5 L147.9,122.3 L147.2,124.0 L146.5,125.8 L145.8,127.5 L145.1,129.4 L144.4,131.2 L143.7,133.2 L143.0,135.4 L142.3,137.7 L141.6,139.8 L141.1,141.6 L140.7,142.9Z" fill="#999999" fill-opacity="0.4" stroke="none"/>
<path d="M140.7,139.5 L141.1,138.3 L141.6,136.7 L142.3,134.8 L143.0,132.7 L143.7,130.7 L144.4,128.8 L145.1,127.1 L145.8,125.4 L146.5,123.7 L147.2,122.0 L147.9,120.4 L148.6,118.7 L149.3,117.0 L150.0,115.4 L150.7,113.8 L151.5,112.1 L152.2,110.4 L152.9,108.6 L153.6,106.7 L154.4,104.7 L155.1,102.7 L155.8,100.6 L156.5,98.7 L157.1,96.8 L157.6,95.0 L158.1,93.3 L158.5,91.6 L158.9,90.0 L159.3,88.5 L159.7,87.0 L160.1,85.6 L160.5,84.3 L160.8,83.1 L161.2,81.9 L161.6,80.7 L162.0,79.4 L162.5,78.1 L162.9,76.8 L163.5,75.5 L164.0,74.1 L164.5,72.7 L165.0,71.3 L165.5,69.8 L166.0,68.3 L166.5,66.7 L167.0,65.1 L167.5,63.5 L168.0,62.0 L168.5,60.5 L169.0,59.0 L169.5,57.5 L170.0,56.1 L170.5,54.7 L171.1,53.4 L171.7,52.2 L172.2,51.0 L172.8,49.9 L173.5,48.9 L174.1,47.8 L174.8,46.7 L175.5,45.5 L176.4,44.3 L177.2,43.1 L178.0,42.0 L178.8,41.0 L179.6,40.1 L180.3,39.5 L180.9,39.0 L181.5,38.6 L182.1,38.3 L182.7,38.1 L183.4,37.8 L184.1,37.6 L184.8,37.4 L185.6,37.2 L186.3,37.1 L187.2,36.9 L188.1,36.8 L189.1,36.7 L190.2,36.5 L191.3,36.4 L192.5,36.2 L193.7,36.1 L195.0,36.0 L196.5,35.9 L198.2,35.8 L199.9,35.7 L201.6,35.6 L203.0,35.6 L204.0,35.5" fill="none" stroke="#F8766D" stroke-dasharray="3.3 3.1" stroke-width="1.7"/>
<path d="M140.7,118.7 L140.9,117.5 L141.2,115.9 L141.5,113.9 L141.9,111.8 L142.3,109.6 L142.7,107.5 L143.1,105.4 L143.6,103.2 L144.0,100.9 L144.5,98.6 L144.9,96.5 L145.3,94.6 L145.6,92.9 L145.9,91.5 L146.2,90.2 L146.4,88.9 L146.7,87.5 L147.0,86.0 L147.3,84.3 L147.7,82.5 L148.0,80.6 L148.4,78.6 L148.8,76.7 L149.2,74.8 L149.6,73.0 L150.1,71.1 L150.6,69.2 L151.0,67.4 L151.5,65.5 L152.0,63.8 L152.5,62.0 L152.9,60.4 L153.4,58.7 L153.9,57.1 L154.3,55.5 L154.8,53.9 L155.3,52.4 L155.7,50.9 L156.2,49.4 L156.6,48.0 L157.1,46.7 L157.6,45.5 L158.1,44.4 L158.7,43.4 L159.2,42.5 L159.8,41.6 L160.4,40.8 L161.1,40.0 L161.8,39.2 L162.6,38.4 L163.4,37.6 L164.2,36.8 L165.1,36.1 L166.0,35.5 L166.9,35.0 L167.8,34.5 L168.7,34.0 L169.7,33.6 L170.8,33.3 L172.0,33.0 L173.3,32.7 L174.6,32.5 L176.0,32.4 L177.6,32.2 L179.6,32.1 L182.0,32.0 L185.2,31.9 L189.3,31.8 L193.6,31.7 L197.9,31.3 L201.5,30.6 L204.0,29.8 L204.0,36.8 L201.5,36.0 L197.9,35.4 L193.6,35.0 L189.3,34.9 L185.2,34.9 L182.0,35.0 L179.6,35.1 L177.6,35.2 L176.0,35.4 L174.6,35.5 L173.3,35.7 L172.0,36.0 L170.8,36.3 L169.7,36.6 L168.7,37.0 L167.8,37.5 L166.9,38.0 L166.0,38.5 L165.1,39.1 L164.2,39.8 L163.4,40.6 L162.6,41.4 L161.8,42.2 L161.1,43.0 L160.4,43.8 L159.8,44.7 L159.2,45.5 L158.7,46.4 L158.1,47.4 L157.6,48.5 L157.1,49.8 L156.6,51.1 L156.2,52.5 L155.7,54.0 L155.3,55.5 L154.8,57.1 L154.3,58.6 L153.9,60.2 L153.4,61.9 L152.9,63.6 L152.5,65.3 L152.0,67.0 L151.5,68.8 L151.0,70.7 L150.6,72.6 L150.1,74.5 L149.6,76.5 L149.2,78.4 L148.8,80.3 L148.4,82.3 L148.0,84.3 L147.7,86.3 L147.3,88.2 L147.0,90.0 L146.7,91.6 L146.4,93.0 L146.2,94.4 L145.9,95.8 L145.6,97.3 L145.3,99.0 L144.9,101.1 L144.5,103.4 L144.0,105.8 L143.6,108.3 L143.1,110.8 L142.7,113.1 L142.3,115.4 L141.9,117.8 L141.5,120.2 L141.2,122.3 L140.9,124.2 L140.7,125.5Z" fill="#999999" fill-opacity="0.4" stroke="none"/>
<path d="M140.7,122.1 L140.9,120.8 L141.2,119.1 L141.5,117.0 L141.9,114.8 L142.3,112.5 L142.7,110.3 L143.1,108.1 L143.6,105.8 L144.0,103.4 L144.5,101.0 L144.9,98.8 L145.3,96.8 L145.6,95.1 L145.9,93.6 L146.2,92.3 L146.4,91.0 L146.7,89.6 L147.0,88.0 L147.3,86.2 L147.7,84.4 L148.0,82.5 L148.4,80.5 L148.8,78.5 L149.2,76.6 L149.6,74.7 L150.1,72.8 L150.6,70.9 L151.0,69.0 L151.5,67.2 L152.0,65.4 L152.5,63.7 L152.9,62.0 L153.4,60.3 L153.9,58.6 L154.3,57.1 L154.8,55.5 L155.3,54.0 L155.7,52.5 L156.2,51.0 L156.6,49.6 L157.1,48.2 L157.6,47.0 L158.1,45.9 L158.7,44.9 L159.2,44.0 L159.8,43.1 L160.4,42.3 L161.1,41.5 L161.8,40.7 L162.6,39.9 L163.4,39.1 L164.2,38.3 L165.1,37.6 L166.0,37.0 L166.9,36.5 L167.8,36.0 L168.7,35.5 L169.7,35.1 L170.8,34.8 L172.0,34.5 L173.3,34.2 L174.6,34.0 L176.0,33.9 L177.6,33.7 L179.6,33.6 L182.0,33.5 L185.2,33.4 L189.3,33.4 L193.6,33.3 L197.9,33.3 L201.5,33.3 L204.0,33.3" fill="none" stroke="#7CAE00"/>
<path d="M140.7,117.6 L140.9,116.5 L141.2,114.9 L141.6,113.0 L142.0,110.9 L142.5,108.8 L142.9,106.8 L143.3,104.7 L143.8,102.6 L144.2,100.4 L144.7,98.2 L145.1,96.2 L145.5,94.3 L145.8,92.7 L146.1,91.3 L146.4,90.1 L146.6,88.8 L146.9,87.5 L147.2,86.0 L147.5,84.3 L147.9,82.5 L148.2,80.6 L148.6,78.7 L149.0,76.7 L149.4,74.8 L149.8,73.0 L150.3,71.1 L150.8,69.2 L151.2,67.4 L151.7,65.5 L152.2,63.8 L152.7,62.1 L153.1,60.4 L153.6,58.7 L154.1,57.1 L154.5,55.5 L155.0,53.9 L155.5,52.4 L155.9,50.9 L156.4,49.4 L156.8,48.0 L157.3,46.7 L157.8,45.5 L158.3,44.4 L158.9,43.5 L159.4,42.6 L160.0,41.9 L160.6,41.1 L161.3,40.3 L162.0,39.5 L162.7,38.6 L163.5,37.8 L164.3,37.0 L165.1,36.3 L166.0,35.7 L166.9,35.2 L167.8,34.7 L168.7,34.3 L169.7,33.9 L170.8,33.6 L172.0,33.3 L173.3,33.0 L174.6,32.8 L176.0,32.7 L177.6,32.5 L179.6,32.4 L182.0,32.3 L185.2,32.2 L189.3,32.1 L193.6,31.9 L197.9,31.5 L201.5,30.8 L204.0,30.0 L204.0,37.0 L201.5,36.2 L197.9,35.6 L193.6,35.3 L189.3,35.2 L185.2,35.2 L182.0,35.3 L179.6,35.4 L177.6,35.5 L176.0,35.7 L174.6,35.8 L173.3,36.0 L172.0,36.3 L170.8,36.6 L169.7,36.9 L168.7,37.3 L167.8,37.7 L166.9,38.2 L166.0,38.7 L165.1,39.3 L164.3,40.0 L163.5,40.8 L162.7,41.6 L162.0,42.5 L161.3,43.3 L160.6,44.1 L160.0,44.9 L159.4,45.7 L158.9,46.5 L158.3,47.4 L157.8,48.5 L157.3,49.7 L156.8,51.1 L156.4,52.5 L155.9,54.0 L155.5,55.5 L155.0,57.1 L154.5,58.6 L154.1,60.2 L153.6,61.9 L153.1,63.5 L152.7,65.3 L152.2,67.0 L151.7,68.8 L151.2,70.7 L150.8,72.6 L150.3,74.5 L149.8,76.4 L149.4,78.4 L149.0,80.3 L148.6,82.3 L148.2,84.3 L147.9,86.3 L147.5,88.2 L147.2,90.0 L146.9,91.5 L146.6,92.9 L146.4,94.2 L146.1,95.5 L145.8,97.0 L145.5,98.7 L145.1,100.7 L144.7,102.9 L144.2,105.2 L143.8,107.6 L143.3,110.0 L142.9,112.2 L142.5,114.5 L142.0,116.8 L141.6,119.1 L141.2,121.3 L140.9,123.1 L140.7,124.4Z" fill="#999999" fill-opacity="0.4" stroke="none"/>
<path d="M140.7,121.0 L140.9,119.8 L141.2,118.1 L141.6,116.1 L142.0,113.9 L142.5,111.6 L142.9,109.5 L143.3,107.4 L143.8,105.1 L144.2,102.8 L144.7,100.6 L145.1,98.4 L145.5,96.5 L145.8,94.9 L146.1,93.4 L146.4,92.1 L146.6,90.9 L146.9,89.5 L147.2,88.0 L147.5,86.3 L147.9,84.4 L148.2,82.5 L148.6,80.5 L149.0,78.5 L149.4,76.6 L149.8,74.7 L150.3,72.8 L150.8,70.9 L151.2,69.0 L151.7,67.2 L152.2,65.4 L152.7,63.7 L153.1,62.0 L153.6,60.3 L154.1,58.6 L154.5,57.1 L155.0,55.5 L155.5,54.0 L155.9,52.4 L156.4,51.0 L156.8,49.5 L157.3,48.2 L157.8,47.0 L158.3,45.9 L158.9,45.0 L159.4,44.2 L160.0,43.4 L160.6,42.6 L161.3,41.8 L162.0,41.0 L162.7,40.1 L163.5,39.3 L164.3,38.5 L165.1,37.8 L166.0,37.2 L166.9,36.7 L167.8,36.2 L168.7,35.8 L169.7,35.4 L170.8,35.1 L172.0,34.8 L173.3,34.5 L174.6,34.3 L176.0,34.2 L177.6,34.0 L179.6,33.9 L182.0,33.8 L185.2,33.7 L189.3,33.6 L193.6,33.6 L197.9,33.6 L201.5,33.5 L204.0,33.5" fill="none" stroke="#7CAE00" stroke-dasharray="3.3 3.1" stroke-width="1.7"/>
<path d="M140.7,92.6 L141.0,91.5 L141.5,89.9 L142.0,88.1 L142.6,86.1 L143.1,84.1 L143.6,82.4 L144.0,81.0 L144.3,79.7 L144.6,78.5 L144.9,77.2 L145.2,75.9 L145.6,74.4 L146.0,72.8 L146.5,71.0 L147.0,69.1 L147.5,67.2 L148.0,65.3 L148.5,63.6 L149.0,61.8 L149.4,60.1 L149.9,58.4 L150.3,56.8 L150.8,55.3 L151.3,53.8 L151.9,52.5 L152.4,51.4 L153.0,50.2 L153.7,49.2 L154.3,48.1 L155.0,47.0 L155.7,45.9 L156.5,44.7 L157.3,43.5 L158.1,42.4 L158.9,41.4 L159.7,40.5 L160.4,39.8 L161.1,39.3 L161.8,38.9 L162.6,38.5 L163.4,38.1 L164.5,37.7 L165.8,37.2 L167.3,36.7 L168.9,36.2 L170.6,35.7 L172.3,35.2 L173.9,34.8 L175.3,34.5 L176.6,34.2 L177.9,33.9 L179.4,33.7 L181.2,33.6 L183.4,33.4 L186.4,33.3 L190.2,33.1 L194.3,32.9 L198.2,32.5 L201.6,31.9 L204.0,31.1 L204.0,38.1 L201.6,37.3 L198.2,36.7 L194.3,36.4 L190.2,36.3 L186.4,36.3 L183.4,36.4 L181.2,36.6 L179.4,36.7 L177.9,36.9 L176.6,37.2 L175.3,37.5 L173.9,37.8 L172.3,38.2 L170.6,38.7 L168.9,39.2 L167.3,39.7 L165.8,40.2 L164.5,40.7 L163.4,41.1 L162.6,41.5 L161.8,41.9 L161.1,42.3 L160.4,42.8 L159.7,43.5 L158.9,44.4 L158.1,45.4 L157.3,46.6 L156.5,47.8 L155.7,49.0 L155.0,50.2 L154.3,51.3 L153.7,52.3 L153.0,53.4 L152.4,54.6 L151.9,55.8 L151.3,57.2 L150.8,58.6 L150.3,60.2 L149.9,61.9 L149.4,63.7 L149.0,65.4 L148.5,67.2 L148.0,69.1 L147.5,71.1 L147.0,73.1 L146.5,75.1 L146.0,77.0 L145.6,78.8 L145.2,80.4 L144.9,81.8 L144.6,83.2 L144.3,84.5 L144.0,86.0 L143.6,87.6 L143.1,89.5 L142.6,91.7 L142.0,94.0 L141.5,96.2 L141.0,98.1 L140.7,99.4Z" fill="#999999" fill-opacity="0.4" stroke="none"/>
<path d="M140.7,96.0 L141.0,94.8 L141.5,93.1 L142.0,91.0 L142.6,88.9 L143.1,86.8 L143.6,85.0 L144.0,83.5 L144.3,82.1 L144.6,80.8 L144.9,79.5 L145.2,78.1 L145.6,76.6 L146.0,74.9 L146.5,73.0 L147.0,71.1 L147.5,69.1 L148.0,67.2 L148.5,65.4 L149.0,63.6 L149.4,61.9 L149.9,60.2 L150.3,58.5 L150.8,57.0 L151.3,55.5 L151.9,54.2 L152.4,53.0 L153.0,51.8 L153.7,50.8 L154.3,49.7 L155.0,48.6 L155.7,47.4 L156.5,46.2 L157.3,45.0 L158.1,43.9 L158.9,42.9 L159.7,42.0 L160.4,41.3 L161.1,40.8 L161.8,40.4 L162.6,40.0 L163.4,39.6 L164.5,39.2 L165.8,38.7 L167.3,38.2 L168.9,37.7 L170.6,37.2 L172.3,36.7 L173.9,36.3 L175.3,36.0 L176.6,35.7 L177.9,35.4 L179.4,35.2 L181.2,35.1 L183.4,34.9 L186.4,34.8 L190.2,34.7 L194.3,34.7 L198.2,34.6 L201.6,34.6 L204.0,34.6" fill="none" stroke="#00BFC4"/>
<path d="M140.7,112.0 L140.9,110.9 L141.3,109.5 L141.7,107.7 L142.1,105.8 L142.6,104.0 L143.0,102.3 L143.4,100.8 L143.8,99.5 L144.3,98.1 L144.7,96.8 L145.1,95.3 L145.5,93.8 L145.9,92.1 L146.3,90.4 L146.6,88.5 L147.0,86.7 L147.4,84.8 L147.8,83.1 L148.2,81.4 L148.6,79.8 L149.1,78.3 L149.5,76.7 L150.0,75.0 L150.5,73.3 L151.0,71.4 L151.6,69.4 L152.2,67.4 L152.8,65.3 L153.4,63.3 L154.0,61.4 L154.6,59.6 L155.2,57.8 L155.8,56.1 L156.4,54.5 L156.9,52.9 L157.5,51.5 L158.0,50.2 L158.6,49.0 L159.1,47.9 L159.6,46.9 L160.1,46.0 L160.7,45.2 L161.3,44.5 L161.9,43.9 L162.5,43.4 L163.1,42.9 L163.8,42.4 L164.5,41.9 L165.2,41.3 L166.0,40.8 L166.8,40.2 L167.6,39.6 L168.4,39.1 L169.2,38.6 L170.0,38.1 L170.8,37.7 L171.5,37.3 L172.3,36.9 L173.1,36.6 L173.9,36.3 L174.6,36.1 L175.3,35.9 L176.0,35.7 L176.7,35.6 L177.5,35.5 L178.6,35.3 L179.8,35.1 L181.1,34.9 L182.6,34.6 L184.2,34.4 L186.0,34.2 L188.0,34.0 L190.5,33.8 L193.4,33.6 L196.6,33.3 L199.6,32.8 L202.2,32.2 L204.0,31.5 L204.0,38.5 L202.2,37.9 L199.6,37.4 L196.6,37.1 L193.4,36.9 L190.5,36.9 L188.0,37.0 L186.0,37.2 L184.2,37.4 L182.6,37.6 L181.1,37.9 L179.8,38.1 L178.6,38.3 L177.5,38.5 L176.7,38.6 L176.0,38.7 L175.3,38.9 L174.6,39.1 L173.9,39.3 L173.1,39.6 L172.3,39.9 L171.5,40.3 L170.8,40.7 L170.0,41.1 L169.2,41.6 L168.4,42.1 L167.6,42.6 L166.8,43.2 L166.0,43.8 L165.2,44.3 L164.5,44.9 L163.8,45.4 L163.1,45.9 L162.5,46.4 L161.9,46.9 L161.3,47.5 L160.7,48.2 L160.1,49.0 L159.6,49.9 L159.1,50.9 L158.6,52.0 L158.0,53.2 L157.5,54.5 L156.9,56.0 L156.4,57.5 L155.8,59.2 L155.2,60.9 L154.6,62.7 L154.0,64.6 L153.4,66.5 L152.8,68.5 L152.2,70.6 L151.6,72.7 L151.0,74.8 L150.5,76.7 L150.0,78.5 L149.5,80.2 L149.1,81.9 L148.6,83.5 L148.2,85.2 L147.8,86.9 L147.4,88.7 L147.0,90.7 L146.6,92.6 L146.3,94.5 L145.9,96.4 L145.5,98.2 L145.1,99.9 L144.7,101.4 L144.3,103.0 L143.8,104.5 L143.4,106.0 L143.0,107.7 L142.6,109.6 L142.1,111.7 L141.7,113.8 L141.3,115.8 L140.9,117.6 L140.7,118.8Z" fill="#999999" fill-opacity="0.4" stroke="none"/>
<path d="M140.7,115.4 L140.9,114.3 L141.3,112.7 L141.7,110.8 L142.1,108.7 L142.6,106.8 L143.0,105.0 L143.4,103.4 L143.8,102.0 L144.3,100.5 L144.7,99.1 L145.1,97.6 L145.5,96.0 L145.9,94.3 L146.3,92.4 L146.6,90.6 L147.0,88.7 L147.4,86.8 L147.8,85.0 L148.2,83.3 L148.6,81.7 L149.1,80.1 L149.5,78.4 L150.0,76.8 L150.5,75.0 L151.0,73.1 L151.6,71.1 L152.2,69.0 L152.8,66.9 L153.4,64.9 L154.0,63.0 L154.6,61.2 L155.2,59.4 L155.8,57.6 L156.4,56.0 L156.9,54.4 L157.5,53.0 L158.0,51.7 L158.6,50.5 L159.1,49.4 L159.6,48.4 L160.1,47.5 L160.7,46.7 L161.3,46.0 L161.9,45.4 L162.5,44.9 L163.1,44.4 L163.8,43.9 L164.5,43.4 L165.2,42.8 L166.0,42.3 L166.8,41.7 L167.6,41.1 L168.4,40.6 L169.2,40.1 L170.0,39.6 L170.8,39.2 L171.5,38.8 L172.3,38.4 L173.1,38.1 L173.9,37.8 L174.6,37.6 L175.3,37.4 L176.0,37.2 L176.7,37.1 L177.5,37.0 L178.6,36.8 L179.8,36.6 L181.1,36.4 L182.6,36.1 L184.2,35.9 L186.0,35.7 L188.0,35.5 L190.5,35.4 L193.4,35.3 L196.6,35.2 L199.6,35.1 L202.2,35.0 L204.0,35.0" fill="none" stroke="#00BFC4" stroke-dasharray="3.3 3.1" stroke-width="1.7"/>
<path d="M140.7,74.6 L141.0,73.5 L141.5,72.0 L142.2,70.2 L142.8,68.2 L143.5,66.2 L144.2,64.4 L144.9,62.6 L145.6,60.7 L146.3,58.9 L147.0,57.1 L147.8,55.3 L148.5,53.7 L149.2,52.1 L149.9,50.6 L150.6,49.2 L151.3,47.9 L152.0,46.6 L152.7,45.4 L153.4,44.3 L154.2,43.3 L154.9,42.3 L155.6,41.4 L156.3,40.6 L156.9,39.9 L157.4,39.2 L157.9,38.7 L158.3,38.2 L158.7,37.8 L159.1,37.4 L159.7,37.0 L160.3,36.6 L161.0,36.2 L161.7,35.9 L162.5,35.6 L163.4,35.3 L164.5,35.0 L165.8,34.7 L167.3,34.4 L168.9,34.2 L170.6,33.9 L172.3,33.7 L173.9,33.5 L175.3,33.3 L176.6,33.2 L177.9,33.1 L179.4,33.0 L181.2,32.9 L183.4,32.8 L186.4,32.7 L190.2,32.6 L194.3,32.4 L198.2,32.0 L201.6,31.3 L204.0,30.5 L204.0,37.5 L201.6,36.8 L198.2,36.2 L194.3,35.8 L190.2,35.7 L186.4,35.7 L183.4,35.8 L181.2,35.9 L179.4,36.0 L177.9,36.1 L176.6,36.2 L175.3,36.3 L173.9,36.5 L172.3,36.7 L170.6,36.9 L168.9,37.2 L167.3,37.4 L165.8,37.7 L164.5,38.0 L163.4,38.3 L162.5,38.6 L161.7,38.9 L161.0,39.3 L160.3,39.6 L159.7,40.0 L159.1,40.4 L158.7,40.8 L158.3,41.2 L157.9,41.7 L157.4,42.3 L156.9,42.9 L156.3,43.7 L155.6,44.5 L154.9,45.4 L154.2,46.4 L153.4,47.5 L152.7,48.6 L152.0,49.8 L151.3,51.2 L150.6,52.6 L149.9,54.1 L149.2,55.7 L148.5,57.3 L147.8,59.1 L147.0,61.1 L146.3,63.1 L145.6,65.1 L144.9,67.2 L144.2,69.2 L143.5,71.4 L142.8,73.7 L142.2,76.0 L141.5,78.2 L141.0,80.1 L140.7,81.4Z" fill="#999999" fill-opacity="0.4" stroke="none"/>
<path d="M140.7,78.0 L141.0,76.8 L141.5,75.1 L142.2,73.1 L142.8,71.0 L143.5,68.8 L144.2,66.8 L144.9,64.9 L145.6,62.9 L146.3,61.0 L147.0,59.1 L147.8,57.2 L148.5,55.5 L149.2,53.9 L149.9,52.4 L150.6,50.9 L151.3,49.5 L152.0,48.2 L152.7,47.0 L153.4,45.9 L154.2,44.8 L154.9,43.8 L155.6,43.0 L156.3,42.1 L156.9,41.4 L157.4,40.7 L157.9,40.2 L158.3,39.7 L158.7,39.3 L159.1,38.9 L159.7,38.5 L160.3,38.1 L161.0,37.7 L161.7,37.4 L162.5,37.1 L163.4,36.8 L164.5,36.5 L165.8,36.2 L167.3,35.9 L168.9,35.7 L170.6,35.4 L172.3,35.2 L173.9,35.0 L175.3,34.8 L176.6,34.7 L177.9,34.6 L179.4,34.5 L181.2,34.4 L183.4,34.3 L186.4,34.2 L190.2,34.2 L194.3,34.1 L198.2,34.1 L201.6,34.0 L204.0,34.0" fill="none" stroke="#C77CFF"/>
<path d="M140.7,78.4 L141.1,77.3 L141.6,75.6 L142.3,73.7 L143.1,71.6 L143.8,69.5 L144.5,67.6 L145.2,65.8 L145.8,64.0 L146.5,62.3 L147.1,60.5 L147.8,58.8 L148.5,57.2 L149.2,55.6 L149.9,54.0 L150.6,52.5 L151.3,51.1 L152.0,49.7 L152.7,48.4 L153.4,47.2 L154.1,46.0 L154.7,44.9 L155.4,43.9 L156.2,42.9 L157.0,42.0 L157.8,41.1 L158.7,40.3 L159.5,39.5 L160.5,38.8 L161.6,38.1 L163.0,37.5 L164.5,36.9 L165.9,36.3 L167.6,35.8 L169.5,35.3 L171.9,34.9 L175.0,34.5 L179.2,34.1 L184.5,33.8 L190.2,33.5 L195.9,33.0 L200.6,32.1 L204.0,31.0 L204.0,38.0 L200.6,37.1 L195.9,36.7 L190.2,36.6 L184.5,36.8 L179.2,37.1 L175.0,37.5 L171.9,37.9 L169.5,38.3 L167.6,38.8 L165.9,39.3 L164.5,39.9 L163.0,40.5 L161.6,41.1 L160.5,41.8 L159.5,42.5 L158.7,43.3 L157.8,44.1 L157.0,45.0 L156.2,46.0 L155.4,47.0 L154.7,48.0 L154.1,49.1 L153.4,50.3 L152.7,51.6 L152.0,53.0 L151.3,54.4 L150.6,55.9 L149.9,57.5 L149.2,59.1 L148.5,60.8 L147.8,62.6 L147.1,64.5 L146.5,66.4 L145.8,68.4 L145.2,70.4 L144.5,72.4 L143.8,74.6 L143.1,77.0 L142.3,79.5 L141.6,81.8 L141.1,83.8 L140.7,85.2Z" fill="#999999" fill-opacity="0.4" stroke="none"/>
<path d="M140.7,81.8 L141.1,80.5 L141.6,78.7 L142.3,76.6 L143.1,74.3 L143.8,72.1 L144.5,70.0 L145.2,68.1 L145.8,66.2 L146.5,64.3 L147.1,62.5 L147.8,60.7 L148.5,59.0 L149.2,57.4 L149.9,55.8 L150.6,54.2 L151.3,52.7 L152.0,51.3 L152.7,50.0 L153.4,48.7 L154.1,47.6 L154.7,46.5 L155.4,45.4 L156.2,44.4 L157.0,43.5 L157.8,42.6 L158.7,41.8 L159.5,41.0 L160.5,40.3 L161.6,39.6 L163.0,39.0 L164.5,38.4 L165.9,37.8 L167.6,37.3 L169.5,36.8 L171.9,36.4 L175.0,36.0 L179.2,35.6 L184.5,35.3 L190.2,35.1 L195.9,34.8 L200.6,34.6 L204.0,34.5" fill="none" stroke="#C77CFF" stroke-dasharray="3.3 3.1" stroke-width="1.7"/>
</g>
<g clip-path="url(#cp11)" stroke-width="2.1" stroke-linecap="butt" stroke-linejoin="round">
<path d="M140.7,260.9 L140.9,259.7 L141.3,258.0 L141.8,256.0 L142.3,254.0 L142.7,252.1 L143.1,250.5 L143.4,249.5 L143.6,248.8 L143.9,248.3 L144.1,247.8 L144.4,247.0 L144.7,245.9 L145.1,244.3 L145.6,242.3 L146.1,240.2 L146.6,237.9 L147.1,235.7 L147.6,233.7 L148.1,231.8 L148.6,229.9 L149.1,228.0 L149.6,226.2 L150.0,224.5 L150.5,222.8 L150.9,221.2 L151.3,219.8 L151.8,218.4 L152.2,217.1 L152.6,215.7 L153.0,214.4 L153.5,213.1 L153.9,211.8 L154.4,210.5 L154.9,209.2 L155.4,207.8 L155.9,206.5 L156.4,205.0 L157.0,203.5 L157.6,201.9 L158.1,200.4 L158.7,199.0 L159.3,197.6 L159.9,196.3 L160.4,195.1 L161.0,194.0 L161.5,192.9 L162.1,191.9 L162.7,190.9 L163.3,190.0 L164.0,189.2 L164.6,188.5 L165.3,187.8 L166.1,187.2 L166.9,186.6 L167.8,186.1 L168.7,185.6 L169.7,185.2 L170.7,184.8 L171.7,184.4 L172.8,184.1 L173.9,183.8 L175.0,183.5 L176.1,183.2 L177.3,182.9 L178.6,182.7 L180.0,182.4 L181.5,182.1 L183.0,181.9 L184.6,181.6 L186.3,181.4 L188.1,181.2 L190.0,180.9 L192.3,180.7 L194.9,180.4 L197.6,180.1 L200.2,179.5 L202.4,178.9 L204.0,178.3 L204.0,185.3 L202.4,184.8 L200.2,184.4 L197.6,184.1 L194.9,183.9 L192.3,184.0 L190.0,184.1 L188.1,184.2 L186.3,184.4 L184.6,184.6 L183.0,184.9 L181.5,185.1 L180.0,185.4 L178.6,185.7 L177.3,185.9 L176.1,186.2 L175.0,186.5 L173.9,186.8 L172.8,187.1 L171.7,187.4 L170.7,187.8 L169.7,188.2 L168.7,188.6 L167.8,189.1 L166.9,189.6 L166.1,190.2 L165.3,190.8 L164.6,191.5 L164.0,192.2 L163.3,193.0 L162.7,193.9 L162.1,194.9 L161.5,195.9 L161.0,197.0 L160.4,198.1 L159.9,199.3 L159.3,200.6 L158.7,202.0 L158.1,203.5 L157.6,205.0 L157.0,206.5 L156.4,208.1 L155.9,209.5 L155.4,210.9 L154.9,212.3 L154.4,213.6 L153.9,214.9 L153.5,216.2 L153.0,217.6 L152.6,219.0 L152.2,220.3 L151.8,221.7 L151.3,223.1 L150.9,224.6 L150.5,226.2 L150.0,227.9 L149.6,229.7 L149.1,231.6 L148.6,233.5 L148.1,235.5 L147.6,237.5 L147.1,239.7 L146.6,242.0 L146.1,244.4 L145.6,246.7 L145.1,248.8 L144.7,250.5 L144.4,251.8 L144.1,252.7 L143.9,253.3 L143.6,253.9 L143.4,254.7 L143.1,255.9 L142.7,257.6 L142.3,259.8 L141.8,262.1 L141.3,264.4 L140.9,266.3 L140.7,267.7Z" fill="#999999" fill-opacity="0.4" stroke="none"/>
<path d="M140.7,264.3 L140.9,263.0 L141.3,261.2 L141.8,259.1 L142.3,256.9 L142.7,254.8 L143.1,253.2 L143.4,252.1 L143.6,251.4 L143.9,250.8 L144.1,250.2 L144.4,249.4 L144.7,248.2 L145.1,246.5 L145.6,244.5 L146.1,242.3 L146.6,240.0 L147.1,237.7 L147.6,235.6 L148.1,233.6 L148.6,231.7 L149.1,229.8 L149.6,228.0 L150.0,226.2 L150.5,224.5 L150.9,222.9 L151.3,221.5 L151.8,220.1 L152.2,218.7 L152.6,217.4 L153.0,216.0 L153.5,214.6 L153.9,213.3 L154.4,212.0 L154.9,210.7 L155.4,209.4 L155.9,208.0 L156.4,206.5 L157.0,205.0 L157.6,203.5 L158.1,201.9 L158.7,200.5 L159.3,199.1 L159.9,197.8 L160.4,196.6 L161.0,195.5 L161.5,194.4 L162.1,193.4 L162.7,192.4 L163.3,191.5 L164.0,190.7 L164.6,190.0 L165.3,189.3 L166.1,188.7 L166.9,188.1 L167.8,187.6 L168.7,187.1 L169.7,186.7 L170.7,186.3 L171.7,185.9 L172.8,185.6 L173.9,185.3 L175.0,185.0 L176.1,184.7 L177.3,184.4 L178.6,184.2 L180.0,183.9 L181.5,183.6 L183.0,183.4 L184.6,183.1 L186.3,182.9 L188.1,182.7 L190.0,182.5 L192.3,182.3 L194.9,182.2 L197.6,182.1 L200.2,182.0 L202.4,181.9 L204.0,181.8" fill="none" stroke="#F8766D"/>
<path d="M140.7,285.6 L140.9,284.7 L141.3,283.4 L141.7,281.8 L142.2,280.1 L142.6,278.4 L143.1,276.8 L143.6,275.3 L144.1,273.7 L144.6,272.0 L145.1,270.4 L145.6,268.8 L146.1,267.3 L146.5,265.8 L147.0,264.5 L147.4,263.1 L147.7,261.8 L148.1,260.5 L148.5,259.2 L148.9,257.8 L149.2,256.5 L149.6,255.2 L149.9,253.9 L150.2,252.6 L150.6,251.3 L151.0,250.0 L151.3,248.6 L151.7,247.2 L152.0,245.9 L152.4,244.5 L152.8,243.1 L153.2,241.7 L153.6,240.3 L154.0,238.9 L154.5,237.6 L154.9,236.2 L155.3,234.8 L155.7,233.4 L156.1,232.0 L156.5,230.5 L157.0,229.1 L157.4,227.7 L157.8,226.3 L158.2,224.8 L158.7,223.3 L159.1,221.9 L159.6,220.4 L160.0,218.9 L160.5,217.5 L160.9,216.1 L161.4,214.7 L161.8,213.4 L162.3,212.0 L162.7,210.8 L163.2,209.5 L163.7,208.3 L164.1,207.2 L164.6,206.2 L165.0,205.1 L165.5,204.0 L166.1,202.7 L166.7,201.3 L167.4,199.7 L168.1,198.1 L168.8,196.5 L169.5,194.9 L170.3,193.4 L171.1,192.0 L172.0,190.5 L173.0,189.1 L173.9,187.9 L174.7,186.7 L175.4,185.8 L176.0,185.1 L176.4,184.7 L176.7,184.4 L177.1,184.2 L177.5,184.0 L178.0,183.7 L178.6,183.4 L179.3,183.1 L180.0,182.8 L180.8,182.6 L181.7,182.3 L182.7,182.1 L183.8,181.9 L185.0,181.7 L186.2,181.5 L187.6,181.3 L189.1,181.1 L190.8,180.9 L192.9,180.7 L195.3,180.4 L197.9,179.9 L200.4,179.4 L202.5,178.7 L204.0,178.1 L204.0,185.1 L202.5,184.7 L200.4,184.3 L197.9,184.0 L195.3,183.9 L192.9,184.0 L190.8,184.1 L189.1,184.2 L187.6,184.4 L186.2,184.5 L185.0,184.7 L183.8,184.9 L182.7,185.1 L181.7,185.3 L180.8,185.6 L180.0,185.8 L179.3,186.1 L178.6,186.4 L178.0,186.7 L177.5,187.0 L177.1,187.2 L176.7,187.4 L176.4,187.7 L176.0,188.1 L175.4,188.8 L174.7,189.7 L173.9,190.9 L173.0,192.2 L172.0,193.5 L171.1,195.0 L170.3,196.4 L169.5,197.9 L168.8,199.5 L168.1,201.1 L167.4,202.7 L166.7,204.3 L166.1,205.7 L165.5,207.0 L165.0,208.1 L164.6,209.2 L164.1,210.2 L163.7,211.3 L163.2,212.5 L162.7,213.8 L162.3,215.1 L161.8,216.4 L161.4,217.7 L160.9,219.1 L160.5,220.5 L160.0,221.9 L159.6,223.4 L159.1,224.9 L158.7,226.4 L158.2,227.9 L157.8,229.3 L157.4,230.8 L157.0,232.2 L156.5,233.6 L156.1,235.0 L155.7,236.4 L155.3,237.8 L154.9,239.3 L154.5,240.7 L154.0,242.1 L153.6,243.5 L153.2,244.9 L152.8,246.3 L152.4,247.7 L152.0,249.1 L151.7,250.5 L151.3,251.9 L151.0,253.3 L150.6,254.7 L150.2,256.1 L149.9,257.4 L149.6,258.8 L149.2,260.1 L148.9,261.5 L148.5,262.8 L148.1,264.2 L147.7,265.6 L147.4,267.0 L147.0,268.5 L146.5,269.9 L146.1,271.5 L145.6,273.2 L145.1,274.9 L144.6,276.7 L144.1,278.6 L143.6,280.4 L143.1,282.2 L142.6,284.0 L142.2,286.0 L141.7,287.9 L141.3,289.7 L140.9,291.3 L140.7,292.4Z" fill="#999999" fill-opacity="0.4" stroke="none"/>
<path d="M140.7,289.0 L140.9,288.0 L141.3,286.6 L141.7,284.9 L142.2,283.1 L142.6,281.2 L143.1,279.5 L143.6,277.8 L144.1,276.1 L144.6,274.4 L145.1,272.7 L145.6,271.0 L146.1,269.4 L146.5,267.9 L147.0,266.5 L147.4,265.1 L147.7,263.7 L148.1,262.4 L148.5,261.0 L148.9,259.6 L149.2,258.3 L149.6,257.0 L149.9,255.7 L150.2,254.3 L150.6,253.0 L151.0,251.6 L151.3,250.3 L151.7,248.9 L152.0,247.5 L152.4,246.1 L152.8,244.7 L153.2,243.3 L153.6,241.9 L154.0,240.5 L154.5,239.1 L154.9,237.7 L155.3,236.3 L155.7,234.9 L156.1,233.5 L156.5,232.1 L157.0,230.7 L157.4,229.2 L157.8,227.8 L158.2,226.3 L158.7,224.9 L159.1,223.4 L159.6,221.9 L160.0,220.4 L160.5,219.0 L160.9,217.6 L161.4,216.2 L161.8,214.9 L162.3,213.5 L162.7,212.3 L163.2,211.0 L163.7,209.8 L164.1,208.7 L164.6,207.7 L165.0,206.6 L165.5,205.5 L166.1,204.2 L166.7,202.8 L167.4,201.2 L168.1,199.6 L168.8,198.0 L169.5,196.4 L170.3,194.9 L171.1,193.5 L172.0,192.0 L173.0,190.7 L173.9,189.4 L174.7,188.2 L175.4,187.3 L176.0,186.6 L176.4,186.2 L176.7,185.9 L177.1,185.7 L177.5,185.5 L178.0,185.2 L178.6,184.9 L179.3,184.6 L180.0,184.3 L180.8,184.1 L181.7,183.8 L182.7,183.6 L183.8,183.4 L185.0,183.2 L186.2,183.0 L187.6,182.8 L189.1,182.7 L190.8,182.5 L192.9,182.3 L195.3,182.2 L197.9,182.0 L200.4,181.8 L202.5,181.7 L204.0,181.6" fill="none" stroke="#F8766D" stroke-dasharray="3.3 3.1" stroke-width="1.7"/>
<path d="M140.7,253.6 L141.0,252.0 L141.5,249.8 L142.1,247.1 L142.8,244.3 L143.5,241.3 L144.1,238.5 L144.7,235.8 L145.4,233.0 L146.1,230.1 L146.7,227.3 L147.4,224.5 L148.0,221.9 L148.6,219.5 L149.1,217.2 L149.6,215.0 L150.1,212.9 L150.7,210.8 L151.3,208.7 L152.0,206.7 L152.7,204.6 L153.4,202.6 L154.1,200.6 L154.9,198.7 L155.6,197.0 L156.3,195.3 L157.0,193.8 L157.7,192.4 L158.3,191.0 L159.1,189.8 L159.8,188.6 L160.6,187.5 L161.3,186.6 L162.1,185.7 L162.9,185.0 L163.8,184.3 L164.8,183.6 L165.8,183.0 L166.9,182.5 L168.1,182.1 L169.3,181.7 L170.6,181.3 L172.0,181.0 L173.4,180.7 L174.7,180.5 L176.1,180.3 L177.7,180.1 L179.6,179.9 L182.0,179.8 L185.2,179.7 L189.3,179.6 L193.6,179.4 L197.9,179.0 L201.5,178.3 L204.0,177.5 L204.0,184.5 L201.5,183.7 L197.9,183.1 L193.6,182.8 L189.3,182.7 L185.2,182.7 L182.0,182.8 L179.6,182.9 L177.7,183.1 L176.1,183.3 L174.7,183.5 L173.4,183.7 L172.0,184.0 L170.6,184.3 L169.3,184.7 L168.1,185.1 L166.9,185.5 L165.8,186.0 L164.8,186.6 L163.8,187.3 L162.9,188.0 L162.1,188.7 L161.3,189.6 L160.6,190.5 L159.8,191.6 L159.1,192.8 L158.3,194.0 L157.7,195.4 L157.0,196.8 L156.3,198.4 L155.6,200.0 L154.9,201.8 L154.1,203.7 L153.4,205.7 L152.7,207.8 L152.0,209.9 L151.3,212.1 L150.7,214.2 L150.1,216.3 L149.6,218.5 L149.1,220.8 L148.6,223.2 L148.0,225.7 L147.4,228.4 L146.7,231.3 L146.1,234.4 L145.4,237.4 L144.7,240.5 L144.1,243.5 L143.5,246.5 L142.8,249.8 L142.1,253.0 L141.5,256.0 L141.0,258.5 L140.7,260.4Z" fill="#999999" fill-opacity="0.4" stroke="none"/>
<path d="M140.7,257.0 L141.0,255.3 L141.5,252.9 L142.1,250.1 L142.8,247.0 L143.5,243.9 L144.1,241.0 L144.7,238.2 L145.4,235.2 L146.1,232.2 L146.7,229.3 L147.4,226.5 L148.0,223.8 L148.6,221.3 L149.1,219.0 L149.6,216.8 L150.1,214.6 L150.7,212.5 L151.3,210.4 L152.0,208.3 L152.7,206.2 L153.4,204.1 L154.1,202.2 L154.9,200.3 L155.6,198.5 L156.3,196.9 L157.0,195.3 L157.7,193.9 L158.3,192.5 L159.1,191.3 L159.8,190.1 L160.6,189.0 L161.3,188.1 L162.1,187.2 L162.9,186.5 L163.8,185.8 L164.8,185.1 L165.8,184.5 L166.9,184.0 L168.1,183.6 L169.3,183.2 L170.6,182.8 L172.0,182.5 L173.4,182.2 L174.7,182.0 L176.1,181.8 L177.7,181.6 L179.6,181.4 L182.0,181.3 L185.2,181.2 L189.3,181.1 L193.6,181.1 L197.9,181.0 L201.5,181.0 L204.0,181.0" fill="none" stroke="#7CAE00"/>
<path d="M140.7,252.6 L141.0,251.1 L141.5,248.9 L142.1,246.4 L142.7,243.6 L143.4,240.7 L144.0,238.0 L144.6,235.4 L145.3,232.6 L145.9,229.7 L146.6,226.9 L147.2,224.2 L147.8,221.6 L148.4,219.2 L148.9,216.9 L149.4,214.8 L149.9,212.7 L150.5,210.6 L151.1,208.5 L151.8,206.5 L152.5,204.4 L153.2,202.3 L153.9,200.4 L154.7,198.5 L155.4,196.8 L156.1,195.1 L156.8,193.6 L157.5,192.2 L158.1,190.9 L158.9,189.6 L159.6,188.5 L160.4,187.4 L161.1,186.5 L161.9,185.6 L162.7,184.9 L163.6,184.2 L164.6,183.5 L165.7,182.9 L166.8,182.4 L168.0,182.0 L169.3,181.6 L170.6,181.2 L172.0,180.9 L173.4,180.6 L174.7,180.4 L176.1,180.2 L177.7,180.1 L179.6,179.9 L182.0,179.8 L185.2,179.7 L189.3,179.6 L193.6,179.4 L197.9,179.0 L201.5,178.3 L204.0,177.5 L204.0,184.5 L201.5,183.7 L197.9,183.1 L193.6,182.8 L189.3,182.7 L185.2,182.7 L182.0,182.8 L179.6,182.9 L177.7,183.1 L176.1,183.2 L174.7,183.4 L173.4,183.6 L172.0,183.9 L170.6,184.2 L169.3,184.6 L168.0,185.0 L166.8,185.4 L165.7,185.9 L164.6,186.5 L163.6,187.2 L162.7,187.9 L161.9,188.6 L161.1,189.5 L160.4,190.5 L159.6,191.5 L158.9,192.7 L158.1,193.9 L157.5,195.2 L156.8,196.7 L156.1,198.2 L155.4,199.8 L154.7,201.6 L153.9,203.5 L153.2,205.5 L152.5,207.6 L151.8,209.7 L151.1,211.9 L150.5,214.0 L149.9,216.1 L149.4,218.3 L148.9,220.6 L148.4,222.9 L147.8,225.4 L147.2,228.1 L146.6,231.0 L145.9,234.0 L145.3,237.0 L144.6,240.1 L144.0,243.0 L143.4,246.0 L142.7,249.1 L142.1,252.3 L141.5,255.2 L141.0,257.6 L140.7,259.4Z" fill="#999999" fill-opacity="0.4" stroke="none"/>
<path d="M140.7,256.0 L141.0,254.3 L141.5,252.0 L142.1,249.3 L142.7,246.4 L143.4,243.3 L144.0,240.5 L144.6,237.7 L145.3,234.8 L145.9,231.9 L146.6,228.9 L147.2,226.1 L147.8,223.5 L148.4,221.1 L148.9,218.7 L149.4,216.5 L149.9,214.4 L150.5,212.3 L151.1,210.2 L151.8,208.1 L152.5,206.0 L153.2,203.9 L153.9,201.9 L154.7,200.1 L155.4,198.3 L156.1,196.7 L156.8,195.1 L157.5,193.7 L158.1,192.4 L158.9,191.2 L159.6,190.0 L160.4,188.9 L161.1,188.0 L161.9,187.1 L162.7,186.4 L163.6,185.7 L164.6,185.0 L165.7,184.4 L166.8,183.9 L168.0,183.5 L169.3,183.1 L170.6,182.7 L172.0,182.4 L173.4,182.1 L174.7,181.9 L176.1,181.7 L177.7,181.6 L179.6,181.4 L182.0,181.3 L185.2,181.2 L189.3,181.1 L193.6,181.1 L197.9,181.0 L201.5,181.0 L204.0,181.0" fill="none" stroke="#7CAE00" stroke-dasharray="3.3 3.1" stroke-width="1.7"/>
<path d="M140.7,242.6 L140.8,242.1 L141.0,241.5 L141.2,240.8 L141.4,239.8 L141.7,238.6 L142.1,237.1 L142.5,235.0 L143.1,232.5 L143.6,229.7 L144.2,226.9 L144.8,224.1 L145.4,221.6 L146.0,219.3 L146.6,217.1 L147.2,215.0 L147.8,213.0 L148.3,211.3 L148.8,209.7 L149.2,208.4 L149.5,207.5 L149.9,206.7 L150.1,206.0 L150.4,205.2 L150.8,204.2 L151.2,203.0 L151.6,201.5 L152.0,200.0 L152.5,198.5 L152.9,197.1 L153.4,195.8 L153.9,194.7 L154.4,193.6 L155.0,192.6 L155.5,191.7 L156.1,190.8 L156.8,190.0 L157.5,189.2 L158.3,188.5 L159.1,187.9 L159.9,187.3 L160.8,186.7 L161.8,186.2 L162.8,185.7 L163.9,185.2 L165.1,184.8 L166.3,184.4 L167.4,184.0 L168.6,183.7 L169.7,183.4 L170.8,183.2 L171.8,183.0 L172.9,182.8 L174.1,182.6 L175.4,182.4 L176.7,182.2 L178.0,182.0 L179.4,181.8 L181.0,181.6 L182.8,181.5 L185.0,181.3 L187.8,181.1 L191.3,180.9 L195.1,180.6 L198.7,180.0 L201.8,179.3 L204.0,178.5 L204.0,185.5 L201.8,184.9 L198.7,184.4 L195.1,184.1 L191.3,184.1 L187.8,184.2 L185.0,184.3 L182.8,184.5 L181.0,184.6 L179.4,184.8 L178.0,185.0 L176.7,185.2 L175.4,185.4 L174.1,185.6 L172.9,185.8 L171.8,186.0 L170.8,186.2 L169.7,186.4 L168.6,186.7 L167.4,187.0 L166.3,187.4 L165.1,187.8 L163.9,188.2 L162.8,188.7 L161.8,189.2 L160.8,189.7 L159.9,190.3 L159.1,190.9 L158.3,191.5 L157.5,192.2 L156.8,193.0 L156.1,193.9 L155.5,194.8 L155.0,195.7 L154.4,196.7 L153.9,197.8 L153.4,199.0 L152.9,200.3 L152.5,201.8 L152.0,203.3 L151.6,204.8 L151.2,206.3 L150.8,207.6 L150.4,208.6 L150.1,209.5 L149.9,210.2 L149.5,211.0 L149.2,212.0 L148.8,213.3 L148.3,215.0 L147.8,216.9 L147.2,219.0 L146.6,221.2 L146.0,223.6 L145.4,226.0 L144.8,228.7 L144.2,231.7 L143.6,234.8 L143.1,237.9 L142.5,240.7 L142.1,242.9 L141.7,244.7 L141.4,246.1 L141.2,247.2 L141.0,248.1 L140.8,248.8 L140.7,249.4Z" fill="#999999" fill-opacity="0.4" stroke="none"/>
<path d="M140.7,246.0 L140.8,245.5 L141.0,244.8 L141.2,244.0 L141.4,243.0 L141.7,241.7 L142.1,240.0 L142.5,237.8 L143.1,235.2 L143.6,232.3 L144.2,229.3 L144.8,226.4 L145.4,223.8 L146.0,221.4 L146.6,219.2 L147.2,217.0 L147.8,215.0 L148.3,213.1 L148.8,211.5 L149.2,210.2 L149.5,209.2 L149.9,208.5 L150.1,207.7 L150.4,206.9 L150.8,205.9 L151.2,204.6 L151.6,203.2 L152.0,201.7 L152.5,200.1 L152.9,198.7 L153.4,197.4 L153.9,196.2 L154.4,195.2 L155.0,194.2 L155.5,193.2 L156.1,192.3 L156.8,191.5 L157.5,190.7 L158.3,190.0 L159.1,189.4 L159.9,188.8 L160.8,188.2 L161.8,187.7 L162.8,187.2 L163.9,186.7 L165.1,186.3 L166.3,185.9 L167.4,185.5 L168.6,185.2 L169.7,184.9 L170.8,184.7 L171.8,184.5 L172.9,184.3 L174.1,184.1 L175.4,183.9 L176.7,183.7 L178.0,183.5 L179.4,183.3 L181.0,183.1 L182.8,183.0 L185.0,182.8 L187.8,182.6 L191.3,182.5 L195.1,182.3 L198.7,182.2 L201.8,182.1 L204.0,182.0" fill="none" stroke="#00BFC4"/>
<path d="M140.7,239.6 L140.8,239.0 L140.9,238.2 L141.1,237.2 L141.4,236.0 L141.7,234.6 L142.0,233.0 L142.4,231.1 L142.9,228.8 L143.4,226.2 L143.9,223.6 L144.5,221.1 L145.0,218.7 L145.6,216.5 L146.2,214.4 L146.8,212.3 L147.4,210.3 L148.0,208.4 L148.5,206.7 L149.0,205.1 L149.4,203.8 L149.8,202.6 L150.2,201.4 L150.6,200.4 L151.0,199.3 L151.4,198.3 L151.8,197.4 L152.2,196.5 L152.6,195.6 L153.0,194.8 L153.5,193.9 L154.0,193.1 L154.5,192.2 L155.1,191.3 L155.7,190.5 L156.3,189.7 L157.0,189.0 L157.7,188.3 L158.5,187.6 L159.3,187.0 L160.1,186.4 L161.0,185.8 L162.0,185.3 L163.0,184.8 L164.0,184.4 L165.1,184.0 L166.3,183.7 L167.6,183.3 L169.0,183.0 L170.5,182.7 L171.9,182.4 L173.4,182.2 L175.2,181.9 L177.4,181.7 L180.0,181.5 L183.5,181.3 L187.9,181.1 L192.7,180.8 L197.3,180.3 L201.2,179.5 L204.0,178.5 L204.0,185.5 L201.2,184.7 L197.3,184.2 L192.7,184.0 L187.9,184.1 L183.5,184.3 L180.0,184.5 L177.4,184.7 L175.2,184.9 L173.4,185.2 L171.9,185.4 L170.5,185.7 L169.0,186.0 L167.6,186.3 L166.3,186.7 L165.1,187.0 L164.0,187.4 L163.0,187.8 L162.0,188.3 L161.0,188.8 L160.1,189.4 L159.3,190.0 L158.5,190.6 L157.7,191.3 L157.0,192.0 L156.3,192.8 L155.7,193.6 L155.1,194.4 L154.5,195.3 L154.0,196.2 L153.5,197.1 L153.0,198.0 L152.6,198.8 L152.2,199.7 L151.8,200.6 L151.4,201.6 L151.0,202.7 L150.6,203.8 L150.2,204.9 L149.8,206.1 L149.4,207.3 L149.0,208.7 L148.5,210.3 L148.0,212.2 L147.4,214.2 L146.8,216.3 L146.2,218.6 L145.6,220.9 L145.0,223.3 L144.5,225.8 L143.9,228.6 L143.4,231.5 L142.9,234.2 L142.4,236.8 L142.0,239.0 L141.7,240.8 L141.4,242.3 L141.1,243.7 L140.9,244.8 L140.8,245.7 L140.7,246.4Z" fill="#999999" fill-opacity="0.4" stroke="none"/>
<path d="M140.7,243.0 L140.8,242.3 L140.9,241.5 L141.1,240.4 L141.4,239.2 L141.7,237.7 L142.0,236.0 L142.4,233.9 L142.9,231.5 L143.4,228.8 L143.9,226.1 L144.5,223.4 L145.0,221.0 L145.6,218.7 L146.2,216.5 L146.8,214.3 L147.4,212.2 L148.0,210.3 L148.5,208.5 L149.0,206.9 L149.4,205.6 L149.8,204.3 L150.2,203.2 L150.6,202.1 L151.0,201.0 L151.4,200.0 L151.8,199.0 L152.2,198.1 L152.6,197.2 L153.0,196.4 L153.5,195.5 L154.0,194.6 L154.5,193.7 L155.1,192.9 L155.7,192.1 L156.3,191.3 L157.0,190.5 L157.7,189.8 L158.5,189.1 L159.3,188.5 L160.1,187.9 L161.0,187.3 L162.0,186.8 L163.0,186.3 L164.0,185.9 L165.1,185.5 L166.3,185.2 L167.6,184.8 L169.0,184.5 L170.5,184.2 L171.9,183.9 L173.4,183.7 L175.2,183.4 L177.4,183.2 L180.0,183.0 L183.5,182.8 L187.9,182.6 L192.7,182.4 L197.3,182.2 L201.2,182.1 L204.0,182.0" fill="none" stroke="#00BFC4" stroke-dasharray="3.3 3.1" stroke-width="1.7"/>
<path d="M140.7,223.8 L141.1,222.4 L141.7,220.5 L142.4,218.2 L143.1,215.7 L143.9,213.4 L144.6,211.3 L145.3,209.7 L146.0,208.1 L146.8,206.6 L147.5,205.2 L148.2,203.9 L148.8,202.7 L149.4,201.5 L149.8,200.5 L150.3,199.6 L150.7,198.7 L151.2,197.7 L151.7,196.7 L152.2,195.5 L152.8,194.1 L153.3,192.8 L153.9,191.5 L154.5,190.2 L155.1,189.2 L155.7,188.2 L156.4,187.5 L157.0,186.8 L157.7,186.1 L158.5,185.6 L159.3,185.0 L160.2,184.5 L161.1,184.0 L162.1,183.5 L163.1,183.1 L164.1,182.7 L165.2,182.4 L166.3,182.1 L167.4,181.9 L168.5,181.6 L169.6,181.4 L170.8,181.3 L172.0,181.1 L173.1,180.9 L174.0,180.8 L174.9,180.6 L176.1,180.5 L177.7,180.4 L180.0,180.3 L183.4,180.2 L187.7,180.1 L192.5,179.9 L197.2,179.5 L201.2,178.7 L204.0,177.8 L204.0,184.8 L201.2,184.0 L197.2,183.4 L192.5,183.1 L187.7,183.1 L183.4,183.2 L180.0,183.3 L177.7,183.4 L176.1,183.5 L174.9,183.7 L174.0,183.8 L173.1,183.9 L172.0,184.1 L170.8,184.3 L169.6,184.4 L168.5,184.6 L167.4,184.9 L166.3,185.1 L165.2,185.4 L164.1,185.7 L163.1,186.1 L162.1,186.5 L161.1,187.0 L160.2,187.5 L159.3,188.0 L158.5,188.6 L157.7,189.2 L157.0,189.8 L156.4,190.5 L155.7,191.3 L155.1,192.2 L154.5,193.3 L153.9,194.6 L153.3,196.0 L152.8,197.3 L152.2,198.7 L151.7,199.9 L151.2,201.0 L150.7,202.0 L150.3,203.0 L149.8,204.0 L149.4,205.1 L148.8,206.3 L148.2,207.7 L147.5,209.1 L146.8,210.7 L146.0,212.3 L145.3,214.1 L144.6,216.1 L143.9,218.4 L143.1,221.0 L142.4,223.9 L141.7,226.6 L141.1,228.9 L140.7,230.6Z" fill="#999999" fill-opacity="0.4" stroke="none"/>
<path d="M140.7,227.2 L141.1,225.7 L141.7,223.5 L142.4,221.0 L143.1,218.4 L143.9,215.9 L144.6,213.7 L145.3,211.9 L146.0,210.2 L146.8,208.6 L147.5,207.2 L148.2,205.8 L148.8,204.5 L149.4,203.3 L149.8,202.3 L150.3,201.3 L150.7,200.4 L151.2,199.4 L151.7,198.3 L152.2,197.1 L152.8,195.7 L153.3,194.4 L153.9,193.0 L154.5,191.8 L155.1,190.7 L155.7,189.8 L156.4,189.0 L157.0,188.3 L157.7,187.7 L158.5,187.1 L159.3,186.5 L160.2,186.0 L161.1,185.5 L162.1,185.0 L163.1,184.6 L164.1,184.2 L165.2,183.9 L166.3,183.6 L167.4,183.4 L168.5,183.1 L169.6,182.9 L170.8,182.8 L172.0,182.6 L173.1,182.4 L174.0,182.3 L174.9,182.1 L176.1,182.0 L177.7,181.9 L180.0,181.8 L183.4,181.7 L187.7,181.6 L192.5,181.5 L197.2,181.4 L201.2,181.4 L204.0,181.3" fill="none" stroke="#C77CFF"/>
<path d="M140.7,224.6 L141.0,223.1 L141.5,221.0 L142.0,218.5 L142.6,215.9 L143.2,213.4 L143.7,211.2 L144.2,209.3 L144.6,207.7 L145.0,206.1 L145.4,204.6 L145.8,203.1 L146.3,201.5 L146.8,199.9 L147.3,198.2 L147.8,196.4 L148.4,194.8 L149.0,193.2 L149.6,191.7 L150.3,190.4 L150.9,189.2 L151.6,188.1 L152.4,187.0 L153.1,186.0 L153.9,185.1 L154.7,184.3 L155.4,183.6 L156.2,182.9 L157.1,182.3 L157.9,181.8 L158.9,181.3 L159.6,180.9 L160.0,180.6 L160.4,180.3 L161.3,180.1 L163.0,180.0 L166.0,179.8 L171.0,179.7 L177.8,179.6 L185.4,179.5 L193.0,179.3 L199.5,178.6 L204.0,177.4 L204.0,184.4 L199.5,183.2 L193.0,182.6 L185.4,182.5 L177.8,182.6 L171.0,182.7 L166.0,182.8 L163.0,183.0 L161.3,183.1 L160.4,183.3 L160.0,183.6 L159.6,183.9 L158.9,184.3 L157.9,184.8 L157.1,185.3 L156.2,186.0 L155.4,186.6 L154.7,187.4 L153.9,188.3 L153.1,189.2 L152.4,190.2 L151.6,191.4 L150.9,192.6 L150.3,193.9 L149.6,195.3 L149.0,196.8 L148.4,198.5 L147.8,200.2 L147.3,202.1 L146.8,203.9 L146.3,205.7 L145.8,207.4 L145.4,209.0 L145.0,210.7 L144.6,212.4 L144.2,214.2 L143.7,216.2 L143.2,218.7 L142.6,221.5 L142.0,224.4 L141.5,227.3 L141.0,229.7 L140.7,231.4Z" fill="#999999" fill-opacity="0.4" stroke="none"/>
<path d="M140.7,228.0 L141.0,226.4 L141.5,224.1 L142.0,221.5 L142.6,218.7 L143.2,216.0 L143.7,213.7 L144.2,211.8 L144.6,210.0 L145.0,208.4 L145.4,206.8 L145.8,205.2 L146.3,203.6 L146.8,201.9 L147.3,200.1 L147.8,198.3 L148.4,196.6 L149.0,195.0 L149.6,193.5 L150.3,192.1 L150.9,190.9 L151.6,189.7 L152.4,188.6 L153.1,187.6 L153.9,186.7 L154.7,185.9 L155.4,185.1 L156.2,184.4 L157.1,183.8 L157.9,183.3 L158.9,182.8 L159.6,182.4 L160.0,182.1 L160.4,181.8 L161.3,181.6 L163.0,181.5 L166.0,181.3 L171.0,181.2 L177.8,181.1 L185.4,181.0 L193.0,181.0 L199.5,180.9 L204.0,180.9" fill="none" stroke="#C77CFF" stroke-dasharray="3.3 3.1" stroke-width="1.7"/>
</g>
<g clip-path="url(#cp20)" stroke-width="2.1" stroke-linecap="butt" stroke-linejoin="round">
<path d="M214.2,150.4 L214.8,150.3 L215.7,150.1 L216.8,149.9 L218.0,149.5 L219.1,149.2 L220.1,148.7 L221.1,148.3 L221.9,147.8 L222.8,147.2 L223.6,146.7 L224.4,146.3 L225.2,146.1 L225.9,146.1 L226.6,146.2 L227.3,146.5 L228.0,146.8 L228.6,147.0 L229.3,147.2 L230.0,147.4 L230.7,147.6 L231.4,147.7 L232.0,147.8 L232.7,147.8 L233.3,147.7 L233.9,147.3 L234.4,146.9 L234.8,146.3 L235.3,145.6 L235.8,144.9 L236.4,144.2 L237.0,143.4 L237.6,142.5 L238.3,141.6 L239.0,140.7 L239.7,139.8 L240.4,139.1 L241.1,138.6 L241.8,138.1 L242.5,137.8 L243.1,137.5 L243.8,137.2 L244.5,137.1 L245.2,137.2 L245.8,137.4 L246.5,137.8 L247.2,138.1 L247.9,138.2 L248.5,138.1 L249.2,137.8 L249.8,137.2 L250.5,136.5 L251.2,135.7 L251.9,134.9 L252.6,134.1 L253.4,133.3 L254.2,132.3 L255.1,131.4 L256.0,130.5 L256.9,129.7 L257.7,129.0 L258.4,128.5 L259.1,128.2 L259.8,127.9 L260.4,127.7 L261.1,127.5 L261.7,127.4 L262.4,127.2 L263.1,127.2 L263.7,127.2 L264.4,127.2 L265.1,127.1 L265.8,126.9 L266.5,126.5 L267.1,126.2 L267.8,125.7 L268.5,125.2 L269.2,124.5 L269.8,123.6 L270.5,122.4 L271.2,121.1 L271.9,119.6 L272.6,118.1 L273.2,116.5 L273.9,114.9 L274.5,113.2 L275.2,111.3 L275.9,109.3 L276.5,107.5 L277.0,105.9 L277.3,104.8 L277.3,111.6 L277.0,112.5 L276.5,113.7 L275.9,115.2 L275.2,116.8 L274.5,118.3 L273.9,119.8 L273.2,121.1 L272.6,122.5 L271.9,123.9 L271.2,125.2 L270.5,126.3 L269.8,127.3 L269.2,128.1 L268.5,128.7 L267.8,129.2 L267.1,129.5 L266.5,129.8 L265.8,130.1 L265.1,130.3 L264.4,130.3 L263.7,130.3 L263.1,130.3 L262.4,130.3 L261.7,130.4 L261.1,130.6 L260.4,130.7 L259.8,130.9 L259.1,131.2 L258.4,131.5 L257.7,132.0 L256.9,132.7 L256.0,133.5 L255.1,134.4 L254.2,135.3 L253.4,136.3 L252.6,137.1 L251.9,137.9 L251.2,138.7 L250.5,139.5 L249.8,140.2 L249.2,140.8 L248.5,141.1 L247.9,141.2 L247.2,141.1 L246.5,140.8 L245.8,140.4 L245.2,140.2 L244.5,140.1 L243.8,140.2 L243.1,140.5 L242.5,140.8 L241.8,141.1 L241.1,141.6 L240.4,142.1 L239.7,142.8 L239.0,143.7 L238.3,144.6 L237.6,145.5 L237.0,146.4 L236.4,147.2 L235.8,147.9 L235.3,148.6 L234.8,149.3 L234.4,149.9 L233.9,150.3 L233.3,150.7 L232.7,150.8 L232.0,150.9 L231.4,150.8 L230.7,150.6 L230.0,150.4 L229.3,150.3 L228.6,150.1 L228.0,149.9 L227.3,149.6 L226.6,149.4 L225.9,149.3 L225.2,149.4 L224.4,149.7 L223.6,150.2 L222.8,150.8 L221.9,151.5 L221.1,152.2 L220.1,152.8 L219.1,153.5 L218.0,154.3 L216.8,155.1 L215.7,155.9 L214.8,156.7 L214.2,157.2Z" fill="#999999" fill-opacity="0.4" stroke="none"/>
<path d="M214.2,153.8 L214.8,153.5 L215.7,153.0 L216.8,152.5 L218.0,151.9 L219.1,151.3 L220.1,150.8 L221.1,150.2 L221.9,149.6 L222.8,149.0 L223.6,148.5 L224.4,148.0 L225.2,147.7 L225.9,147.7 L226.6,147.8 L227.3,148.0 L228.0,148.3 L228.6,148.6 L229.3,148.8 L230.0,148.9 L230.7,149.1 L231.4,149.2 L232.0,149.3 L232.7,149.3 L233.3,149.2 L233.9,148.8 L234.4,148.4 L234.8,147.8 L235.3,147.1 L235.8,146.4 L236.4,145.7 L237.0,144.9 L237.6,144.0 L238.3,143.1 L239.0,142.2 L239.7,141.3 L240.4,140.6 L241.1,140.1 L241.8,139.6 L242.5,139.3 L243.1,139.0 L243.8,138.7 L244.5,138.6 L245.2,138.7 L245.8,138.9 L246.5,139.3 L247.2,139.6 L247.9,139.7 L248.5,139.6 L249.2,139.3 L249.8,138.7 L250.5,138.0 L251.2,137.2 L251.9,136.4 L252.6,135.6 L253.4,134.8 L254.2,133.8 L255.1,132.9 L256.0,132.0 L256.9,131.2 L257.7,130.5 L258.4,130.0 L259.1,129.7 L259.8,129.4 L260.4,129.2 L261.1,129.0 L261.7,128.9 L262.4,128.8 L263.1,128.8 L263.7,128.8 L264.4,128.8 L265.1,128.7 L265.8,128.5 L266.5,128.2 L267.1,127.8 L267.8,127.4 L268.5,126.9 L269.2,126.3 L269.8,125.4 L270.5,124.4 L271.2,123.1 L271.9,121.8 L272.6,120.3 L273.2,118.8 L273.9,117.3 L274.5,115.8 L275.2,114.0 L275.9,112.3 L276.5,110.6 L277.0,109.2 L277.3,108.2" fill="none" stroke="#F8766D"/>
<path d="M214.2,93.1 L214.5,92.3 L215.0,91.1 L215.5,89.7 L216.1,88.1 L216.7,86.5 L217.2,85.1 L217.6,83.7 L218.0,82.2 L218.4,80.8 L218.8,79.3 L219.1,77.9 L219.5,76.5 L219.9,75.1 L220.3,73.7 L220.6,72.3 L221.0,70.9 L221.4,69.6 L221.7,68.2 L222.0,66.9 L222.3,65.7 L222.6,64.5 L222.9,63.3 L223.1,62.0 L223.4,60.8 L223.7,59.5 L223.9,58.2 L224.2,56.9 L224.5,55.5 L224.8,54.2 L225.1,52.9 L225.5,51.4 L226.0,50.0 L226.4,48.5 L226.9,47.0 L227.4,45.6 L227.9,44.4 L228.4,43.4 L228.8,42.5 L229.3,41.6 L229.7,40.9 L230.2,40.2 L230.7,39.5 L231.2,38.8 L231.8,38.2 L232.4,37.6 L232.9,37.1 L233.5,36.6 L234.1,36.1 L234.7,35.6 L235.3,35.2 L235.8,34.8 L236.4,34.4 L237.0,34.1 L237.5,33.8 L237.9,33.5 L238.2,33.3 L238.5,33.1 L238.9,33.0 L239.4,32.8 L240.3,32.7 L241.3,32.6 L242.4,32.4 L243.6,32.3 L245.2,32.2 L247.3,32.2 L250.0,32.1 L253.9,32.1 L258.8,32.0 L264.3,31.9 L269.6,31.7 L274.2,31.0 L277.3,30.1 L277.3,36.9 L274.2,36.0 L269.6,35.4 L264.3,35.1 L258.8,35.0 L253.9,35.1 L250.0,35.1 L247.3,35.2 L245.2,35.2 L243.6,35.3 L242.4,35.4 L241.3,35.6 L240.3,35.7 L239.4,35.8 L238.9,36.0 L238.5,36.1 L238.2,36.3 L237.9,36.5 L237.5,36.8 L237.0,37.1 L236.4,37.4 L235.8,37.8 L235.3,38.2 L234.7,38.6 L234.1,39.1 L233.5,39.6 L232.9,40.1 L232.4,40.6 L231.8,41.2 L231.2,41.8 L230.7,42.5 L230.2,43.2 L229.7,44.0 L229.3,44.7 L228.8,45.6 L228.4,46.5 L227.9,47.6 L227.4,48.8 L226.9,50.2 L226.4,51.7 L226.0,53.2 L225.5,54.7 L225.1,56.1 L224.8,57.5 L224.5,58.9 L224.2,60.2 L223.9,61.6 L223.7,62.9 L223.4,64.2 L223.1,65.5 L222.9,66.8 L222.6,68.1 L222.3,69.3 L222.0,70.6 L221.7,72.0 L221.4,73.4 L221.0,74.8 L220.6,76.2 L220.3,77.7 L219.9,79.2 L219.5,80.7 L219.1,82.3 L218.8,83.8 L218.4,85.4 L218.0,87.0 L217.6,88.5 L217.2,90.1 L216.7,91.8 L216.1,93.7 L215.5,95.6 L215.0,97.3 L214.5,98.8 L214.2,99.9Z" fill="#999999" fill-opacity="0.4" stroke="none"/>
<path d="M214.2,96.5 L214.5,95.5 L215.0,94.2 L215.5,92.6 L216.1,90.9 L216.7,89.2 L217.2,87.6 L217.6,86.1 L218.0,84.6 L218.4,83.1 L218.8,81.6 L219.1,80.1 L219.5,78.6 L219.9,77.1 L220.3,75.7 L220.6,74.3 L221.0,72.8 L221.4,71.5 L221.7,70.1 L222.0,68.8 L222.3,67.5 L222.6,66.3 L222.9,65.0 L223.1,63.8 L223.4,62.5 L223.7,61.2 L223.9,59.9 L224.2,58.6 L224.5,57.2 L224.8,55.9 L225.1,54.5 L225.5,53.1 L226.0,51.6 L226.4,50.1 L226.9,48.6 L227.4,47.2 L227.9,46.0 L228.4,44.9 L228.8,44.0 L229.3,43.2 L229.7,42.4 L230.2,41.7 L230.7,41.0 L231.2,40.3 L231.8,39.7 L232.4,39.1 L232.9,38.6 L233.5,38.1 L234.1,37.6 L234.7,37.1 L235.3,36.7 L235.8,36.3 L236.4,35.9 L237.0,35.6 L237.5,35.3 L237.9,35.0 L238.2,34.8 L238.5,34.6 L238.9,34.5 L239.4,34.3 L240.3,34.2 L241.3,34.1 L242.4,33.9 L243.6,33.8 L245.2,33.7 L247.3,33.7 L250.0,33.6 L253.9,33.6 L258.8,33.5 L264.3,33.5 L269.6,33.5 L274.2,33.5 L277.3,33.5" fill="none" stroke="#F8766D" stroke-dasharray="3.3 3.1" stroke-width="1.7"/>
<path d="M214.2,152.8 L214.8,152.5 L215.7,152.1 L216.8,151.6 L217.9,151.0 L219.1,150.4 L220.1,149.8 L221.1,149.1 L222.2,148.5 L223.2,147.8 L224.2,147.1 L225.2,146.4 L226.2,145.7 L227.2,145.0 L228.3,144.3 L229.3,143.7 L230.3,143.0 L231.3,142.3 L232.3,141.5 L233.3,140.6 L234.4,139.5 L235.4,138.4 L236.4,137.3 L237.4,136.2 L238.4,135.3 L239.3,134.4 L240.1,133.5 L240.9,132.7 L241.7,131.9 L242.6,131.2 L243.5,130.7 L244.4,130.2 L245.5,129.9 L246.5,129.7 L247.6,129.5 L248.6,129.2 L249.5,128.8 L250.5,128.3 L251.3,127.7 L252.1,127.1 L253.0,126.4 L253.8,125.5 L254.6,124.5 L255.5,123.4 L256.3,122.0 L257.2,120.5 L258.1,118.9 L258.9,117.5 L259.7,116.2 L260.4,115.0 L261.1,113.9 L261.7,112.9 L262.4,112.0 L263.0,111.1 L263.7,110.3 L264.5,109.6 L265.4,109.1 L266.3,108.7 L267.2,108.2 L268.0,107.8 L268.8,107.2 L269.5,106.5 L270.2,105.7 L270.9,104.9 L271.5,104.0 L272.2,103.1 L272.9,102.3 L273.6,101.3 L274.5,100.2 L275.4,99.1 L276.2,98.0 L276.9,97.1 L277.3,96.5 L277.3,102.9 L276.9,103.4 L276.2,104.2 L275.4,105.2 L274.5,106.2 L273.6,107.2 L272.9,108.1 L272.2,108.9 L271.5,109.7 L270.9,110.4 L270.2,111.2 L269.5,111.8 L268.8,112.5 L268.0,113.0 L267.2,113.3 L266.3,113.7 L265.4,114.0 L264.5,114.4 L263.7,115.0 L263.0,115.7 L262.4,116.5 L261.7,117.4 L261.1,118.4 L260.4,119.4 L259.7,120.5 L258.9,121.7 L258.1,123.1 L257.2,124.5 L256.3,125.9 L255.5,127.2 L254.6,128.4 L253.8,129.3 L253.0,130.0 L252.1,130.7 L251.3,131.2 L250.5,131.7 L249.5,132.2 L248.6,132.5 L247.6,132.7 L246.5,132.9 L245.5,133.0 L244.4,133.2 L243.5,133.6 L242.6,134.1 L241.7,134.8 L240.9,135.5 L240.1,136.3 L239.3,137.1 L238.4,137.9 L237.4,138.8 L236.4,139.8 L235.4,140.9 L234.4,142.0 L233.3,143.0 L232.3,143.9 L231.3,144.6 L230.3,145.3 L229.3,146.0 L228.3,146.6 L227.2,147.2 L226.2,147.8 L225.2,148.5 L224.2,149.2 L223.2,149.9 L222.2,150.5 L221.1,151.2 L220.1,151.8 L219.1,152.4 L217.9,153.0 L216.8,153.6 L215.7,154.1 L214.8,154.5 L214.2,154.8Z" fill="#999999" fill-opacity="0.4" stroke="none"/>
<path d="M214.2,153.8 L214.8,153.5 L215.7,153.1 L216.8,152.6 L217.9,152.0 L219.1,151.4 L220.1,150.8 L221.1,150.2 L222.2,149.5 L223.2,148.8 L224.2,148.1 L225.2,147.4 L226.2,146.7 L227.2,146.1 L228.3,145.5 L229.3,144.8 L230.3,144.2 L231.3,143.5 L232.3,142.7 L233.3,141.8 L234.4,140.7 L235.4,139.7 L236.4,138.6 L237.4,137.5 L238.4,136.6 L239.3,135.7 L240.1,134.9 L240.9,134.1 L241.7,133.3 L242.6,132.7 L243.5,132.1 L244.4,131.7 L245.5,131.5 L246.5,131.3 L247.6,131.1 L248.6,130.9 L249.5,130.5 L250.5,130.0 L251.3,129.5 L252.1,128.9 L253.0,128.2 L253.8,127.4 L254.6,126.5 L255.5,125.3 L256.3,124.0 L257.2,122.5 L258.1,121.0 L258.9,119.6 L259.7,118.3 L260.4,117.2 L261.1,116.2 L261.7,115.2 L262.4,114.3 L263.0,113.4 L263.7,112.7 L264.5,112.0 L265.4,111.6 L266.3,111.2 L267.2,110.8 L268.0,110.4 L268.8,109.8 L269.5,109.2 L270.2,108.4 L270.9,107.7 L271.5,106.8 L272.2,106.0 L272.9,105.2 L273.6,104.2 L274.5,103.2 L275.4,102.1 L276.2,101.1 L276.9,100.3 L277.3,99.7" fill="none" stroke="#7CAE00"/>
<path d="M214.2,60.1 L214.3,59.4 L214.5,58.3 L214.7,57.1 L215.0,55.8 L215.2,54.4 L215.5,53.0 L215.8,51.7 L216.1,50.2 L216.4,48.8 L216.8,47.3 L217.1,45.9 L217.5,44.5 L217.9,43.3 L218.3,42.1 L218.7,41.0 L219.1,39.9 L219.5,38.9 L220.0,37.9 L220.5,37.1 L221.0,36.3 L221.5,35.5 L222.0,34.9 L222.5,34.3 L223.0,33.7 L223.5,33.3 L224.0,33.0 L224.4,32.7 L224.9,32.5 L225.4,32.3 L226.0,32.2 L226.1,32.0 L225.7,31.9 L225.2,31.8 L225.4,31.8 L226.8,31.8 L230.0,31.8 L235.9,31.8 L244.3,31.7 L253.9,31.7 L263.5,31.7 L271.7,31.1 L277.3,29.8 L277.3,36.6 L271.7,35.3 L263.5,34.8 L253.9,34.7 L244.3,34.7 L235.9,34.8 L230.0,34.8 L226.8,34.9 L225.4,35.0 L225.2,35.1 L225.7,35.2 L226.1,35.3 L226.0,35.4 L225.4,35.6 L224.9,35.8 L224.4,36.1 L224.0,36.4 L223.5,36.8 L223.0,37.3 L222.5,37.9 L222.0,38.5 L221.5,39.3 L221.0,40.2 L220.5,41.1 L220.0,42.1 L219.5,43.1 L219.1,44.3 L218.7,45.5 L218.3,46.7 L217.9,48.1 L217.5,49.5 L217.1,51.0 L216.8,52.5 L216.4,54.2 L216.1,55.8 L215.8,57.4 L215.5,59.0 L215.2,60.5 L215.0,62.0 L214.7,63.5 L214.5,64.9 L214.3,66.1 L214.2,66.9Z" fill="#999999" fill-opacity="0.4" stroke="none"/>
<path d="M214.2,63.5 L214.3,62.7 L214.5,61.6 L214.7,60.3 L215.0,58.9 L215.2,57.4 L215.5,56.0 L215.8,54.6 L216.1,53.0 L216.4,51.5 L216.8,49.9 L217.1,48.4 L217.5,47.0 L217.9,45.7 L218.3,44.4 L218.7,43.2 L219.1,42.1 L219.5,41.0 L220.0,40.0 L220.5,39.1 L221.0,38.2 L221.5,37.4 L222.0,36.7 L222.5,36.1 L223.0,35.5 L223.5,35.0 L224.0,34.7 L224.4,34.4 L224.9,34.2 L225.4,34.0 L226.0,33.8 L226.1,33.6 L225.7,33.5 L225.2,33.5 L225.4,33.4 L226.8,33.3 L230.0,33.3 L235.9,33.3 L244.3,33.2 L253.9,33.2 L263.5,33.2 L271.7,33.2 L277.3,33.2" fill="none" stroke="#7CAE00" stroke-dasharray="3.3 3.1" stroke-width="1.7"/>
<path d="M214.2,142.0 L214.8,140.7 L215.6,138.8 L216.6,136.6 L217.6,134.2 L218.6,131.9 L219.6,129.9 L220.5,128.1 L221.3,126.4 L222.1,124.8 L222.9,123.1 L223.8,121.5 L224.7,119.7 L225.7,117.8 L226.7,115.9 L227.8,113.9 L228.9,111.9 L229.9,110.0 L231.0,108.2 L232.1,106.5 L233.1,104.9 L234.2,103.4 L235.2,101.9 L236.2,100.5 L237.3,99.1 L238.3,97.7 L239.4,96.3 L240.4,95.0 L241.5,93.7 L242.5,92.5 L243.6,91.2 L244.7,89.9 L245.7,88.6 L246.8,87.3 L247.9,86.1 L249.0,84.9 L250.0,83.8 L251.0,82.7 L252.0,81.8 L253.0,80.9 L254.0,80.0 L255.0,79.1 L256.0,78.2 L257.0,77.3 L258.0,76.4 L258.9,75.6 L259.9,74.7 L261.0,73.8 L262.0,72.9 L263.1,71.9 L264.1,70.9 L265.2,69.8 L266.4,68.7 L267.6,67.6 L268.8,66.5 L270.2,65.2 L271.8,63.8 L273.5,62.4 L275.1,61.0 L276.4,59.8 L277.3,59.0 L277.3,67.4 L276.4,68.0 L275.1,68.9 L273.5,70.0 L271.8,71.2 L270.2,72.3 L268.8,73.3 L267.6,74.2 L266.4,75.1 L265.2,76.0 L264.1,76.9 L263.1,77.7 L262.0,78.5 L261.0,79.3 L259.9,80.1 L258.9,80.8 L258.0,81.5 L257.0,82.2 L256.0,83.0 L255.0,83.8 L254.0,84.5 L253.0,85.3 L252.0,86.1 L251.0,86.9 L250.0,87.8 L249.0,88.8 L247.9,89.9 L246.8,91.1 L245.7,92.2 L244.7,93.4 L243.6,94.6 L242.5,95.8 L241.5,96.9 L240.4,98.1 L239.4,99.4 L238.3,100.6 L237.3,101.9 L236.2,103.3 L235.2,104.6 L234.2,106.0 L233.1,107.5 L232.1,109.0 L231.0,110.6 L229.9,112.4 L228.9,114.2 L227.8,116.2 L226.7,118.1 L225.7,120.1 L224.7,121.9 L223.8,123.6 L222.9,125.3 L222.1,126.9 L221.3,128.5 L220.5,130.1 L219.6,131.9 L218.6,134.0 L217.6,136.2 L216.6,138.6 L215.6,140.8 L214.8,142.7 L214.2,144.0Z" fill="#999999" fill-opacity="0.4" stroke="none"/>
<path d="M214.2,143.0 L214.8,141.7 L215.6,139.8 L216.6,137.6 L217.6,135.2 L218.6,132.9 L219.6,130.9 L220.5,129.1 L221.3,127.4 L222.1,125.8 L222.9,124.2 L223.8,122.5 L224.7,120.8 L225.7,118.9 L226.7,117.0 L227.8,115.0 L228.9,113.1 L229.9,111.2 L231.0,109.4 L232.1,107.8 L233.1,106.2 L234.2,104.7 L235.2,103.3 L236.2,101.9 L237.3,100.5 L238.3,99.2 L239.4,97.9 L240.4,96.6 L241.5,95.3 L242.5,94.1 L243.6,92.9 L244.7,91.7 L245.7,90.4 L246.8,89.2 L247.9,88.0 L249.0,86.9 L250.0,85.8 L251.0,84.8 L252.0,83.9 L253.0,83.1 L254.0,82.2 L255.0,81.4 L256.0,80.6 L257.0,79.8 L258.0,79.0 L258.9,78.2 L259.9,77.4 L261.0,76.6 L262.0,75.7 L263.1,74.8 L264.1,73.9 L265.2,72.9 L266.4,71.9 L267.6,70.9 L268.8,69.9 L270.2,68.8 L271.8,67.5 L273.5,66.2 L275.1,65.0 L276.4,63.9 L277.3,63.2" fill="none" stroke="#00BFC4"/>
<path d="M214.2,76.6 L214.4,75.6 L214.8,74.2 L215.3,72.5 L215.7,70.7 L216.2,69.0 L216.6,67.4 L217.0,66.1 L217.3,64.8 L217.6,63.6 L217.9,62.4 L218.2,61.2 L218.5,60.0 L218.8,58.8 L219.0,57.7 L219.2,56.5 L219.5,55.4 L219.7,54.2 L220.0,52.9 L220.3,51.6 L220.7,50.2 L221.1,48.7 L221.5,47.3 L221.9,45.9 L222.3,44.7 L222.7,43.5 L223.2,42.4 L223.7,41.4 L224.1,40.5 L224.6,39.6 L225.1,38.8 L225.6,38.0 L226.0,37.4 L226.5,36.9 L226.9,36.4 L227.4,35.9 L227.9,35.4 L228.4,35.0 L229.0,34.5 L229.6,34.1 L230.1,33.7 L230.7,33.4 L231.3,33.1 L231.4,32.8 L231.0,32.6 L230.5,32.4 L230.7,32.3 L231.9,32.2 L234.7,32.1 L240.0,32.0 L247.6,31.9 L256.2,31.9 L264.8,31.8 L272.2,31.2 L277.3,29.9 L277.3,36.7 L272.2,35.5 L264.8,34.9 L256.2,34.9 L247.6,34.9 L240.0,35.0 L234.7,35.1 L231.9,35.2 L230.7,35.4 L230.5,35.5 L231.0,35.7 L231.4,35.9 L231.3,36.1 L230.7,36.4 L230.1,36.8 L229.6,37.2 L229.0,37.6 L228.4,38.1 L227.9,38.6 L227.4,39.1 L226.9,39.5 L226.5,40.1 L226.0,40.6 L225.6,41.3 L225.1,42.0 L224.6,42.9 L224.1,43.8 L223.7,44.9 L223.2,45.9 L222.7,47.1 L222.3,48.3 L221.9,49.6 L221.5,51.1 L221.1,52.6 L220.7,54.1 L220.3,55.6 L220.0,57.1 L219.7,58.4 L219.5,59.6 L219.2,60.9 L219.0,62.1 L218.8,63.3 L218.5,64.6 L218.2,65.9 L217.9,67.2 L217.6,68.5 L217.3,69.8 L217.0,71.3 L216.6,72.8 L216.2,74.5 L215.7,76.5 L215.3,78.6 L214.8,80.5 L214.4,82.2 L214.2,83.4Z" fill="#999999" fill-opacity="0.4" stroke="none"/>
<path d="M214.2,80.0 L214.4,78.9 L214.8,77.4 L215.3,75.5 L215.7,73.6 L216.2,71.7 L216.6,70.1 L217.0,68.7 L217.3,67.3 L217.6,66.0 L217.9,64.8 L218.2,63.5 L218.5,62.3 L218.8,61.1 L219.0,59.9 L219.2,58.7 L219.5,57.5 L219.7,56.3 L220.0,55.0 L220.3,53.6 L220.7,52.2 L221.1,50.7 L221.5,49.2 L221.9,47.8 L222.3,46.5 L222.7,45.3 L223.2,44.2 L223.7,43.1 L224.1,42.1 L224.6,41.2 L225.1,40.4 L225.6,39.7 L226.0,39.0 L226.5,38.5 L226.9,38.0 L227.4,37.5 L227.9,37.0 L228.4,36.5 L229.0,36.1 L229.6,35.6 L230.1,35.3 L230.7,34.9 L231.3,34.6 L231.4,34.3 L231.0,34.1 L230.5,34.0 L230.7,33.8 L231.9,33.7 L234.7,33.6 L240.0,33.5 L247.6,33.4 L256.2,33.4 L264.8,33.4 L272.2,33.3 L277.3,33.3" fill="none" stroke="#00BFC4" stroke-dasharray="3.3 3.1" stroke-width="1.7"/>
<path d="M214.2,112.5 L214.8,111.1 L215.6,109.0 L216.6,106.6 L217.6,104.1 L218.6,101.6 L219.6,99.5 L220.5,97.6 L221.3,95.9 L222.1,94.2 L222.9,92.6 L223.8,91.0 L224.7,89.3 L225.7,87.6 L226.7,85.8 L227.8,84.1 L228.9,82.4 L229.9,80.7 L231.0,79.0 L232.0,77.4 L233.1,75.9 L234.1,74.4 L235.1,72.9 L236.2,71.4 L237.3,69.9 L238.5,68.5 L239.8,67.0 L241.1,65.6 L242.4,64.3 L243.7,62.9 L244.9,61.6 L246.0,60.4 L247.1,59.2 L248.2,58.1 L249.2,57.0 L250.2,55.9 L251.2,55.0 L252.2,54.0 L253.1,53.2 L254.0,52.4 L254.8,51.6 L255.7,50.9 L256.6,50.2 L257.5,49.5 L258.3,49.0 L259.2,48.4 L260.1,47.9 L261.0,47.4 L262.0,46.8 L263.0,46.3 L264.1,45.7 L265.2,45.2 L266.4,44.7 L267.5,44.1 L268.8,43.5 L270.2,42.9 L271.8,42.1 L273.5,41.4 L275.1,40.7 L276.4,40.1 L277.3,39.7 L277.3,48.9 L276.4,49.1 L275.1,49.4 L273.5,49.8 L271.8,50.1 L270.2,50.5 L268.8,50.9 L267.5,51.2 L266.4,51.6 L265.2,51.9 L264.1,52.2 L263.0,52.6 L262.0,53.0 L261.0,53.3 L260.1,53.7 L259.2,54.1 L258.3,54.5 L257.5,54.9 L256.6,55.4 L255.7,56.0 L254.8,56.6 L254.0,57.2 L253.1,57.9 L252.2,58.6 L251.2,59.4 L250.2,60.3 L249.2,61.2 L248.2,62.2 L247.1,63.2 L246.0,64.3 L244.9,65.4 L243.7,66.5 L242.4,67.7 L241.1,68.9 L239.8,70.2 L238.5,71.5 L237.3,72.9 L236.2,74.2 L235.1,75.6 L234.1,77.1 L233.1,78.5 L232.0,80.0 L231.0,81.6 L229.9,83.1 L228.9,84.8 L227.8,86.4 L226.7,88.1 L225.7,89.8 L224.7,91.5 L223.8,93.1 L222.9,94.7 L222.1,96.3 L221.3,98.0 L220.5,99.7 L219.6,101.5 L218.6,103.7 L217.6,106.1 L216.6,108.6 L215.6,111.0 L214.8,113.1 L214.2,114.5Z" fill="#999999" fill-opacity="0.4" stroke="none"/>
<path d="M214.2,113.5 L214.8,112.1 L215.6,110.0 L216.6,107.6 L217.6,105.1 L218.6,102.6 L219.6,100.5 L220.5,98.6 L221.3,96.9 L222.1,95.3 L222.9,93.7 L223.8,92.0 L224.7,90.4 L225.7,88.7 L226.7,87.0 L227.8,85.3 L228.9,83.6 L229.9,81.9 L231.0,80.3 L232.0,78.7 L233.1,77.2 L234.1,75.7 L235.1,74.2 L236.2,72.8 L237.3,71.4 L238.5,70.0 L239.8,68.6 L241.1,67.3 L242.4,66.0 L243.7,64.7 L244.9,63.5 L246.0,62.3 L247.1,61.2 L248.2,60.1 L249.2,59.1 L250.2,58.1 L251.2,57.2 L252.2,56.3 L253.1,55.5 L254.0,54.8 L254.8,54.1 L255.7,53.4 L256.6,52.8 L257.5,52.2 L258.3,51.7 L259.2,51.2 L260.1,50.8 L261.0,50.4 L262.0,49.9 L263.0,49.4 L264.1,49.0 L265.2,48.5 L266.4,48.1 L267.5,47.7 L268.8,47.2 L270.2,46.7 L271.8,46.1 L273.5,45.6 L275.1,45.1 L276.4,44.6 L277.3,44.3" fill="none" stroke="#C77CFF"/>
<path d="M214.2,55.1 L214.3,54.5 L214.5,53.6 L214.7,52.5 L215.0,51.4 L215.2,50.2 L215.5,49.0 L215.8,47.9 L216.1,46.7 L216.4,45.5 L216.8,44.3 L217.1,43.1 L217.5,42.0 L217.9,41.0 L218.3,40.0 L218.7,39.1 L219.1,38.2 L219.5,37.4 L220.0,36.6 L220.5,35.9 L221.0,35.3 L221.5,34.7 L222.0,34.1 L222.5,33.7 L223.0,33.2 L223.5,32.9 L224.0,32.6 L224.4,32.4 L224.9,32.2 L225.4,32.0 L226.0,31.9 L226.1,31.8 L225.7,31.7 L225.2,31.6 L225.4,31.6 L226.8,31.6 L230.0,31.7 L235.9,31.7 L244.3,31.6 L253.9,31.6 L263.5,31.6 L271.7,31.0 L277.3,29.7 L277.3,36.5 L271.7,35.2 L263.5,34.7 L253.9,34.6 L244.3,34.6 L235.9,34.7 L230.0,34.7 L226.8,34.8 L225.4,34.9 L225.2,34.9 L225.7,34.9 L226.1,35.0 L226.0,35.1 L225.4,35.3 L224.9,35.5 L224.4,35.7 L224.0,36.0 L223.5,36.3 L223.0,36.8 L222.5,37.3 L222.0,37.8 L221.5,38.5 L221.0,39.2 L220.5,39.9 L220.0,40.8 L219.5,41.6 L219.1,42.6 L218.7,43.6 L218.3,44.7 L217.9,45.8 L217.5,47.0 L217.1,48.2 L216.8,49.5 L216.4,50.9 L216.1,52.3 L215.8,53.7 L215.5,55.0 L215.2,56.3 L215.0,57.6 L214.7,58.9 L214.5,60.1 L214.3,61.2 L214.2,61.9Z" fill="#999999" fill-opacity="0.4" stroke="none"/>
<path d="M214.2,58.5 L214.3,57.8 L214.5,56.9 L214.7,55.7 L215.0,54.5 L215.2,53.2 L215.5,52.0 L215.8,50.8 L216.1,49.5 L216.4,48.2 L216.8,46.9 L217.1,45.7 L217.5,44.5 L217.9,43.4 L218.3,42.4 L218.7,41.4 L219.1,40.4 L219.5,39.5 L220.0,38.7 L220.5,37.9 L221.0,37.2 L221.5,36.6 L222.0,36.0 L222.5,35.5 L223.0,35.0 L223.5,34.6 L224.0,34.3 L224.4,34.0 L224.9,33.8 L225.4,33.7 L226.0,33.5 L226.1,33.4 L225.7,33.3 L225.2,33.3 L225.4,33.2 L226.8,33.2 L230.0,33.2 L235.9,33.2 L244.3,33.1 L253.9,33.1 L263.5,33.1 L271.7,33.1 L277.3,33.1" fill="none" stroke="#C77CFF" stroke-dasharray="3.3 3.1" stroke-width="1.7"/>
</g>
<g clip-path="url(#cp21)" stroke-width="2.1" stroke-linecap="butt" stroke-linejoin="round">
<path d="M214.2,294.4 L214.7,294.6 L215.4,295.0 L216.3,295.3 L217.3,295.6 L218.2,295.7 L219.1,295.6 L220.0,295.3 L220.8,294.7 L221.7,294.1 L222.5,293.4 L223.4,292.7 L224.2,292.0 L225.1,291.5 L225.9,291.0 L226.8,290.6 L227.7,290.1 L228.5,289.6 L229.3,289.2 L230.0,288.7 L230.7,288.3 L231.3,287.8 L231.9,287.4 L232.6,286.8 L233.3,286.1 L234.1,285.3 L235.0,284.2 L235.9,283.0 L236.7,281.9 L237.6,280.9 L238.4,280.1 L239.1,279.5 L239.8,279.0 L240.5,278.6 L241.1,278.3 L241.8,278.2 L242.5,278.0 L243.2,278.0 L243.9,278.1 L244.6,278.4 L245.3,278.6 L245.9,278.8 L246.5,279.0 L246.9,279.3 L247.3,279.6 L247.5,279.9 L247.8,280.1 L248.1,280.2 L248.5,280.1 L249.1,279.7 L249.7,279.1 L250.4,278.4 L251.2,277.6 L251.9,276.8 L252.6,276.0 L253.3,275.2 L253.9,274.4 L254.6,273.5 L255.3,272.7 L256.0,271.8 L256.6,270.9 L257.3,270.1 L258.0,269.2 L258.7,268.3 L259.4,267.4 L260.0,266.6 L260.7,265.8 L261.4,265.2 L262.1,264.7 L262.7,264.2 L263.4,263.8 L264.1,263.3 L264.8,262.7 L265.4,262.1 L266.1,261.4 L266.8,260.7 L267.5,260.0 L268.1,259.2 L268.8,258.5 L269.5,257.7 L270.2,256.9 L270.8,256.1 L271.5,255.3 L272.2,254.6 L272.9,254.0 L273.6,253.4 L274.5,252.9 L275.4,252.5 L276.2,252.0 L276.9,251.7 L277.3,251.4 L277.3,258.2 L276.9,258.1 L276.2,258.1 L275.4,258.0 L274.5,258.1 L273.6,258.2 L272.9,258.5 L272.2,258.9 L271.5,259.4 L270.8,260.0 L270.2,260.7 L269.5,261.4 L268.8,262.1 L268.1,262.7 L267.5,263.4 L266.8,264.0 L266.1,264.7 L265.4,265.3 L264.8,265.9 L264.1,266.4 L263.4,266.9 L262.7,267.3 L262.1,267.8 L261.4,268.3 L260.7,268.9 L260.0,269.6 L259.4,270.4 L258.7,271.3 L258.0,272.2 L257.3,273.1 L256.6,273.9 L256.0,274.8 L255.3,275.7 L254.6,276.5 L253.9,277.4 L253.3,278.2 L252.6,279.0 L251.9,279.8 L251.2,280.6 L250.4,281.4 L249.7,282.1 L249.1,282.7 L248.5,283.1 L248.1,283.2 L247.8,283.1 L247.5,282.9 L247.3,282.6 L246.9,282.3 L246.5,282.0 L245.9,281.8 L245.3,281.6 L244.6,281.4 L243.9,281.1 L243.2,281.0 L242.5,281.0 L241.8,281.2 L241.1,281.3 L240.5,281.6 L239.8,282.0 L239.1,282.5 L238.4,283.1 L237.6,283.9 L236.7,284.9 L235.9,286.0 L235.0,287.2 L234.1,288.3 L233.3,289.2 L232.6,289.8 L231.9,290.4 L231.3,290.9 L230.7,291.3 L230.0,291.7 L229.3,292.2 L228.5,292.7 L227.7,293.2 L226.8,293.7 L225.9,294.3 L225.1,294.8 L224.2,295.4 L223.4,296.1 L222.5,297.0 L221.7,297.8 L220.8,298.7 L220.0,299.4 L219.1,300.0 L218.2,300.4 L217.3,300.6 L216.3,300.8 L215.4,300.9 L214.7,301.0 L214.2,301.2Z" fill="#999999" fill-opacity="0.4" stroke="none"/>
<path d="M214.2,297.8 L214.7,297.8 L215.4,297.9 L216.3,298.0 L217.3,298.1 L218.2,298.0 L219.1,297.8 L220.0,297.3 L220.8,296.7 L221.7,296.0 L222.5,295.2 L223.4,294.4 L224.2,293.7 L225.1,293.2 L225.9,292.6 L226.8,292.1 L227.7,291.7 L228.5,291.2 L229.3,290.7 L230.0,290.2 L230.7,289.8 L231.3,289.4 L231.9,288.9 L232.6,288.3 L233.3,287.6 L234.1,286.8 L235.0,285.7 L235.9,284.5 L236.7,283.4 L237.6,282.4 L238.4,281.6 L239.1,281.0 L239.8,280.5 L240.5,280.1 L241.1,279.8 L241.8,279.7 L242.5,279.5 L243.2,279.5 L243.9,279.6 L244.6,279.9 L245.3,280.1 L245.9,280.3 L246.5,280.5 L246.9,280.8 L247.3,281.1 L247.5,281.4 L247.8,281.6 L248.1,281.7 L248.5,281.6 L249.1,281.2 L249.7,280.6 L250.4,279.9 L251.2,279.1 L251.9,278.3 L252.6,277.5 L253.3,276.7 L253.9,275.9 L254.6,275.0 L255.3,274.2 L256.0,273.3 L256.6,272.4 L257.3,271.6 L258.0,270.7 L258.7,269.8 L259.4,268.9 L260.0,268.1 L260.7,267.4 L261.4,266.8 L262.1,266.2 L262.7,265.8 L263.4,265.3 L264.1,264.9 L264.8,264.3 L265.4,263.7 L266.1,263.0 L266.8,262.4 L267.5,261.7 L268.1,261.0 L268.8,260.3 L269.5,259.6 L270.2,258.8 L270.8,258.1 L271.5,257.4 L272.2,256.7 L272.9,256.2 L273.6,255.8 L274.5,255.5 L275.4,255.2 L276.2,255.1 L276.9,254.9 L277.3,254.8" fill="none" stroke="#F8766D"/>
<path d="M214.2,249.6 L214.4,248.7 L214.8,247.4 L215.3,245.9 L215.8,244.2 L216.2,242.6 L216.6,241.2 L216.9,240.0 L217.2,238.9 L217.5,237.8 L217.7,236.7 L218.0,235.5 L218.3,234.3 L218.7,232.9 L219.0,231.5 L219.5,230.0 L219.9,228.5 L220.2,227.0 L220.6,225.5 L220.9,224.1 L221.2,222.8 L221.5,221.4 L221.8,220.1 L222.0,218.7 L222.3,217.3 L222.6,215.8 L222.9,214.3 L223.2,212.8 L223.5,211.3 L223.7,209.8 L224.0,208.4 L224.2,207.1 L224.4,205.8 L224.6,204.5 L224.8,203.3 L225.1,202.1 L225.3,200.9 L225.6,199.6 L225.9,198.3 L226.2,196.9 L226.5,195.7 L226.9,194.5 L227.2,193.4 L227.6,192.5 L227.9,191.6 L228.3,190.9 L228.7,190.2 L229.1,189.6 L229.5,189.0 L229.9,188.4 L230.2,188.0 L230.6,187.6 L231.0,187.2 L231.4,186.8 L231.8,186.5 L232.2,186.2 L232.7,185.9 L233.2,185.6 L233.7,185.4 L234.2,185.1 L234.7,184.8 L235.2,184.4 L235.7,184.1 L236.1,183.7 L236.7,183.3 L237.3,182.9 L238.1,182.5 L239.0,182.1 L240.0,181.8 L241.1,181.4 L242.3,181.1 L243.6,180.8 L245.0,180.5 L246.3,180.3 L247.6,180.1 L249.0,179.9 L250.6,179.8 L252.6,179.6 L255.0,179.5 L258.3,179.4 L262.4,179.3 L266.8,179.1 L271.1,178.7 L274.8,178.0 L277.3,177.2 L277.3,184.0 L274.8,183.3 L271.1,182.7 L266.8,182.4 L262.4,182.3 L258.3,182.4 L255.0,182.5 L252.6,182.6 L250.6,182.8 L249.0,182.9 L247.6,183.1 L246.3,183.3 L245.0,183.5 L243.6,183.8 L242.3,184.1 L241.1,184.4 L240.0,184.8 L239.0,185.1 L238.1,185.5 L237.3,185.9 L236.7,186.3 L236.1,186.7 L235.7,187.1 L235.2,187.5 L234.7,187.8 L234.2,188.1 L233.7,188.4 L233.2,188.6 L232.7,188.9 L232.2,189.2 L231.8,189.5 L231.4,189.9 L231.0,190.2 L230.6,190.6 L230.2,191.0 L229.9,191.5 L229.5,192.0 L229.1,192.6 L228.7,193.3 L228.3,194.0 L227.9,194.8 L227.6,195.6 L227.2,196.6 L226.9,197.7 L226.5,198.9 L226.2,200.2 L225.9,201.5 L225.6,202.8 L225.3,204.1 L225.1,205.4 L224.8,206.6 L224.6,207.9 L224.4,209.1 L224.2,210.4 L224.0,211.8 L223.7,213.2 L223.5,214.8 L223.2,216.3 L222.9,217.9 L222.6,219.4 L222.3,220.9 L222.0,222.4 L221.8,223.8 L221.5,225.2 L221.2,226.6 L220.9,228.0 L220.6,229.5 L220.2,231.0 L219.9,232.6 L219.5,234.3 L219.0,235.9 L218.7,237.4 L218.3,238.9 L218.0,240.3 L217.7,241.5 L217.5,242.7 L217.2,243.9 L216.9,245.2 L216.6,246.6 L216.2,248.2 L215.8,250.0 L215.3,251.9 L214.8,253.7 L214.4,255.3 L214.2,256.4Z" fill="#999999" fill-opacity="0.4" stroke="none"/>
<path d="M214.2,253.0 L214.4,252.0 L214.8,250.6 L215.3,248.9 L215.8,247.1 L216.2,245.4 L216.6,243.9 L216.9,242.6 L217.2,241.4 L217.5,240.3 L217.7,239.1 L218.0,237.9 L218.3,236.6 L218.7,235.2 L219.0,233.7 L219.5,232.1 L219.9,230.5 L220.2,229.0 L220.6,227.5 L220.9,226.1 L221.2,224.7 L221.5,223.3 L221.8,221.9 L222.0,220.5 L222.3,219.1 L222.6,217.6 L222.9,216.1 L223.2,214.6 L223.5,213.0 L223.7,211.5 L224.0,210.1 L224.2,208.8 L224.4,207.5 L224.6,206.2 L224.8,205.0 L225.1,203.7 L225.3,202.5 L225.6,201.2 L225.9,199.9 L226.2,198.6 L226.5,197.3 L226.9,196.1 L227.2,195.0 L227.6,194.1 L227.9,193.2 L228.3,192.4 L228.7,191.7 L229.1,191.1 L229.5,190.5 L229.9,190.0 L230.2,189.5 L230.6,189.1 L231.0,188.7 L231.4,188.3 L231.8,188.0 L232.2,187.7 L232.7,187.4 L233.2,187.1 L233.7,186.9 L234.2,186.6 L234.7,186.3 L235.2,185.9 L235.7,185.6 L236.1,185.2 L236.7,184.8 L237.3,184.4 L238.1,184.0 L239.0,183.6 L240.0,183.3 L241.1,182.9 L242.3,182.6 L243.6,182.3 L245.0,182.0 L246.3,181.8 L247.6,181.6 L249.0,181.4 L250.6,181.3 L252.6,181.1 L255.0,181.0 L258.3,180.9 L262.4,180.8 L266.8,180.7 L271.1,180.7 L274.8,180.6 L277.3,180.6" fill="none" stroke="#F8766D" stroke-dasharray="3.3 3.1" stroke-width="1.7"/>
<path d="M214.2,303.9 L214.6,303.1 L215.2,301.9 L215.9,300.6 L216.6,299.2 L217.4,297.9 L218.1,296.8 L218.8,295.9 L219.5,295.1 L220.1,294.4 L220.8,293.7 L221.5,293.2 L222.2,292.7 L222.8,292.3 L223.5,292.1 L224.2,292.0 L224.9,291.9 L225.5,291.8 L226.2,291.6 L226.9,291.4 L227.6,291.1 L228.3,290.8 L228.9,290.4 L229.6,290.0 L230.3,289.5 L231.0,289.0 L231.6,288.4 L232.3,287.7 L233.0,287.0 L233.7,286.2 L234.3,285.4 L235.0,284.4 L235.7,283.4 L236.4,282.3 L237.0,281.2 L237.7,280.1 L238.4,279.2 L239.1,278.3 L239.7,277.5 L240.4,276.8 L241.1,276.1 L241.8,275.5 L242.5,275.0 L243.1,274.6 L243.8,274.5 L244.5,274.4 L245.2,274.3 L245.8,274.1 L246.5,273.8 L247.2,273.3 L247.9,272.7 L248.5,272.1 L249.2,271.3 L249.9,270.5 L250.6,269.6 L251.2,268.5 L251.9,267.4 L252.6,266.2 L253.3,264.9 L253.9,263.6 L254.6,262.3 L255.3,260.9 L256.0,259.4 L256.6,258.0 L257.3,256.5 L258.0,255.1 L258.7,253.9 L259.4,252.8 L260.0,251.9 L260.7,251.0 L261.4,250.2 L262.1,249.4 L262.7,248.6 L263.4,247.8 L264.1,247.2 L264.8,246.5 L265.4,245.8 L266.1,245.1 L266.8,244.3 L267.5,243.4 L268.2,242.5 L268.9,241.5 L269.6,240.5 L270.2,239.3 L270.8,237.9 L271.4,236.3 L271.9,234.3 L272.4,232.3 L272.9,230.2 L273.4,228.2 L273.9,226.5 L274.5,225.0 L275.1,223.5 L275.8,222.1 L276.4,220.9 L277.0,219.9 L277.3,219.1 L277.3,226.3 L277.0,227.0 L276.4,228.0 L275.8,229.1 L275.1,230.3 L274.5,231.7 L273.9,233.2 L273.4,234.8 L272.9,236.7 L272.4,238.7 L271.9,240.7 L271.4,242.5 L270.8,244.1 L270.2,245.4 L269.6,246.5 L268.9,247.4 L268.2,248.3 L267.5,249.1 L266.8,249.9 L266.1,250.6 L265.4,251.3 L264.8,251.8 L264.1,252.4 L263.4,253.0 L262.7,253.7 L262.1,254.4 L261.4,255.1 L260.7,255.8 L260.0,256.6 L259.4,257.5 L258.7,258.5 L258.0,259.7 L257.3,260.9 L256.6,262.3 L256.0,263.7 L255.3,265.1 L254.6,266.4 L253.9,267.6 L253.3,268.9 L252.6,270.1 L251.9,271.2 L251.2,272.3 L250.6,273.3 L249.9,274.1 L249.2,274.9 L248.5,275.6 L247.9,276.2 L247.2,276.7 L246.5,277.2 L245.8,277.4 L245.2,277.6 L244.5,277.6 L243.8,277.6 L243.1,277.7 L242.5,278.0 L241.8,278.5 L241.1,279.0 L240.4,279.7 L239.7,280.4 L239.1,281.1 L238.4,281.9 L237.7,282.8 L237.0,283.8 L236.4,284.9 L235.7,286.0 L235.0,287.0 L234.3,287.9 L233.7,288.7 L233.0,289.4 L232.3,290.1 L231.6,290.8 L231.0,291.3 L230.3,291.9 L229.6,292.3 L228.9,292.7 L228.3,293.0 L227.6,293.3 L226.9,293.6 L226.2,293.8 L225.5,294.0 L224.9,294.1 L224.2,294.2 L223.5,294.3 L222.8,294.4 L222.2,294.8 L221.5,295.2 L220.8,295.8 L220.1,296.4 L219.5,297.1 L218.8,297.9 L218.1,298.8 L217.4,299.9 L216.6,301.2 L215.9,302.6 L215.2,303.9 L214.6,305.1 L214.2,305.9Z" fill="#999999" fill-opacity="0.4" stroke="none"/>
<path d="M214.2,304.9 L214.6,304.1 L215.2,302.9 L215.9,301.6 L216.6,300.2 L217.4,298.9 L218.1,297.8 L218.8,296.9 L219.5,296.1 L220.1,295.4 L220.8,294.7 L221.5,294.2 L222.2,293.7 L222.8,293.4 L223.5,293.2 L224.2,293.1 L224.9,293.0 L225.5,292.9 L226.2,292.7 L226.9,292.5 L227.6,292.2 L228.3,291.9 L228.9,291.6 L229.6,291.2 L230.3,290.7 L231.0,290.2 L231.6,289.6 L232.3,288.9 L233.0,288.2 L233.7,287.5 L234.3,286.6 L235.0,285.7 L235.7,284.7 L236.4,283.6 L237.0,282.5 L237.7,281.5 L238.4,280.5 L239.1,279.7 L239.7,278.9 L240.4,278.2 L241.1,277.5 L241.8,277.0 L242.5,276.5 L243.1,276.2 L243.8,276.0 L244.5,276.0 L245.2,275.9 L245.8,275.8 L246.5,275.5 L247.2,275.0 L247.9,274.5 L248.5,273.8 L249.2,273.1 L249.9,272.3 L250.6,271.4 L251.2,270.4 L251.9,269.3 L252.6,268.1 L253.3,266.9 L253.9,265.6 L254.6,264.3 L255.3,263.0 L256.0,261.6 L256.6,260.1 L257.3,258.7 L258.0,257.4 L258.7,256.2 L259.4,255.2 L260.0,254.3 L260.7,253.4 L261.4,252.6 L262.1,251.9 L262.7,251.1 L263.4,250.4 L264.1,249.8 L264.8,249.2 L265.4,248.5 L266.1,247.9 L266.8,247.1 L267.5,246.2 L268.2,245.4 L268.9,244.5 L269.6,243.5 L270.2,242.3 L270.8,241.0 L271.4,239.4 L271.9,237.5 L272.4,235.5 L272.9,233.5 L273.4,231.5 L273.9,229.8 L274.5,228.3 L275.1,226.9 L275.8,225.6 L276.4,224.4 L277.0,223.5 L277.3,222.7" fill="none" stroke="#7CAE00"/>
<path d="M214.2,215.6 L214.3,214.4 L214.5,212.6 L214.7,210.5 L214.9,208.4 L215.2,206.2 L215.5,204.3 L215.8,202.7 L216.2,201.1 L216.6,199.6 L217.0,198.1 L217.4,196.6 L217.8,195.1 L218.2,193.6 L218.5,192.0 L218.9,190.5 L219.2,189.0 L219.6,187.6 L220.0,186.4 L220.4,185.4 L220.8,184.5 L221.3,183.7 L221.8,183.0 L222.3,182.3 L222.8,181.7 L223.4,181.2 L224.0,180.8 L224.6,180.4 L225.3,180.1 L226.0,179.8 L226.8,179.6 L227.2,179.4 L227.1,179.3 L227.0,179.2 L227.6,179.1 L229.2,179.1 L232.4,179.1 L238.1,179.1 L246.1,179.0 L255.2,179.0 L264.2,178.9 L272.0,178.4 L277.3,177.1 L277.3,183.9 L272.0,182.6 L264.2,182.1 L255.2,182.0 L246.1,182.0 L238.1,182.1 L232.4,182.1 L229.2,182.2 L227.6,182.3 L227.0,182.3 L227.1,182.4 L227.2,182.6 L226.8,182.8 L226.0,183.1 L225.3,183.4 L224.6,183.7 L224.0,184.2 L223.4,184.7 L222.8,185.3 L222.3,186.0 L221.8,186.7 L221.3,187.5 L220.8,188.4 L220.4,189.4 L220.0,190.6 L219.6,191.9 L219.2,193.3 L218.9,194.9 L218.5,196.6 L218.2,198.2 L217.8,199.9 L217.4,201.6 L217.0,203.2 L216.6,204.9 L216.2,206.6 L215.8,208.4 L215.5,210.3 L215.2,212.3 L214.9,214.6 L214.7,217.0 L214.5,219.2 L214.3,221.1 L214.2,222.4Z" fill="#999999" fill-opacity="0.4" stroke="none"/>
<path d="M214.2,219.0 L214.3,217.7 L214.5,215.9 L214.7,213.8 L214.9,211.5 L215.2,209.3 L215.5,207.3 L215.8,205.5 L216.2,203.9 L216.6,202.2 L217.0,200.6 L217.4,199.1 L217.8,197.5 L218.2,195.9 L218.5,194.3 L218.9,192.7 L219.2,191.2 L219.6,189.8 L220.0,188.5 L220.4,187.4 L220.8,186.4 L221.3,185.6 L221.8,184.8 L222.3,184.1 L222.8,183.5 L223.4,182.9 L224.0,182.5 L224.6,182.1 L225.3,181.7 L226.0,181.5 L226.8,181.2 L227.2,181.0 L227.1,180.9 L227.0,180.8 L227.6,180.7 L229.2,180.7 L232.4,180.6 L238.1,180.6 L246.1,180.5 L255.2,180.5 L264.2,180.5 L272.0,180.5 L277.3,180.5" fill="none" stroke="#7CAE00" stroke-dasharray="3.3 3.1" stroke-width="1.7"/>
<path d="M214.2,289.2 L214.6,287.9 L215.1,286.0 L215.8,283.8 L216.5,281.5 L217.2,279.2 L217.9,277.1 L218.5,275.2 L219.2,273.4 L219.8,271.5 L220.5,269.7 L221.2,268.0 L221.9,266.2 L222.7,264.3 L223.5,262.5 L224.3,260.6 L225.1,258.8 L226.0,257.0 L226.8,255.3 L227.6,253.7 L228.4,252.1 L229.2,250.7 L230.0,249.2 L230.8,247.7 L231.7,246.3 L232.6,244.7 L233.6,243.2 L234.5,241.6 L235.5,240.1 L236.5,238.6 L237.6,237.2 L238.7,235.8 L239.8,234.6 L241.0,233.4 L242.1,232.2 L243.3,231.1 L244.5,230.0 L245.7,228.9 L246.9,227.8 L248.2,226.8 L249.4,225.8 L250.7,224.7 L252.0,223.7 L253.3,222.5 L254.7,221.4 L256.1,220.2 L257.6,219.0 L259.0,217.8 L260.4,216.6 L261.8,215.4 L263.2,214.2 L264.6,213.1 L266.0,211.9 L267.4,210.8 L268.8,209.6 L270.3,208.4 L272.0,207.1 L273.6,205.8 L275.1,204.6 L276.4,203.6 L277.3,202.9 L277.3,211.7 L276.4,212.2 L275.1,213.0 L273.6,213.9 L272.0,214.9 L270.3,215.9 L268.8,216.8 L267.4,217.7 L266.0,218.6 L264.6,219.6 L263.2,220.5 L261.8,221.5 L260.4,222.4 L259.0,223.4 L257.6,224.4 L256.1,225.4 L254.7,226.4 L253.3,227.4 L252.0,228.3 L250.7,229.3 L249.4,230.2 L248.2,231.1 L246.9,231.9 L245.7,232.9 L244.5,233.8 L243.3,234.8 L242.1,235.9 L241.0,236.9 L239.8,238.0 L238.7,239.2 L237.6,240.4 L236.5,241.8 L235.5,243.2 L234.5,244.7 L233.6,246.2 L232.6,247.7 L231.7,249.1 L230.8,250.6 L230.0,252.0 L229.2,253.4 L228.4,254.9 L227.6,256.4 L226.8,257.9 L226.0,259.6 L225.1,261.4 L224.3,263.2 L223.5,265.0 L222.7,266.8 L221.9,268.6 L221.2,270.4 L220.5,272.2 L219.8,274.0 L219.2,275.8 L218.5,277.6 L217.9,279.5 L217.2,281.6 L216.5,283.9 L215.8,286.2 L215.1,288.4 L214.6,290.3 L214.2,291.6Z" fill="#999999" fill-opacity="0.4" stroke="none"/>
<path d="M214.2,290.4 L214.6,289.1 L215.1,287.2 L215.8,285.0 L216.5,282.7 L217.2,280.4 L217.9,278.3 L218.5,276.4 L219.2,274.6 L219.8,272.8 L220.5,271.0 L221.2,269.2 L221.9,267.4 L222.7,265.6 L223.5,263.7 L224.3,261.9 L225.1,260.1 L226.0,258.3 L226.8,256.6 L227.6,255.0 L228.4,253.5 L229.2,252.0 L230.0,250.6 L230.8,249.2 L231.7,247.7 L232.6,246.2 L233.6,244.7 L234.5,243.1 L235.5,241.6 L236.5,240.2 L237.6,238.8 L238.7,237.5 L239.8,236.3 L241.0,235.2 L242.1,234.1 L243.3,233.0 L244.5,231.9 L245.7,230.9 L246.9,229.9 L248.2,228.9 L249.4,228.0 L250.7,227.0 L252.0,226.0 L253.3,224.9 L254.7,223.9 L256.1,222.8 L257.6,221.7 L259.0,220.6 L260.4,219.5 L261.8,218.4 L263.2,217.4 L264.6,216.3 L266.0,215.3 L267.4,214.2 L268.8,213.2 L270.3,212.1 L272.0,211.0 L273.6,209.9 L275.1,208.8 L276.4,207.9 L277.3,207.3" fill="none" stroke="#00BFC4"/>
<path d="M214.2,225.6 L214.3,224.6 L214.5,223.3 L214.7,221.7 L215.0,220.0 L215.2,218.3 L215.5,216.7 L215.8,215.3 L216.0,213.8 L216.3,212.3 L216.6,210.8 L216.9,209.4 L217.2,208.1 L217.5,206.8 L217.8,205.6 L218.0,204.4 L218.3,203.3 L218.6,202.2 L218.9,201.0 L219.2,199.7 L219.5,198.4 L219.7,197.1 L220.0,195.8 L220.3,194.6 L220.6,193.5 L220.9,192.5 L221.2,191.7 L221.5,190.8 L221.8,190.1 L222.2,189.4 L222.5,188.7 L222.9,188.1 L223.2,187.5 L223.6,187.0 L224.0,186.5 L224.4,186.0 L224.8,185.5 L225.3,185.1 L225.7,184.6 L226.2,184.2 L226.7,183.8 L227.3,183.4 L227.9,183.0 L228.6,182.6 L229.3,182.2 L230.0,181.9 L230.8,181.5 L231.6,181.1 L232.4,180.8 L232.9,180.5 L233.0,180.2 L233.1,179.9 L233.7,179.7 L235.2,179.5 L238.1,179.3 L243.2,179.2 L250.1,179.1 L258.1,179.0 L265.9,178.9 L272.7,178.3 L277.3,177.1 L277.3,183.9 L272.7,182.7 L265.9,182.2 L258.1,182.1 L250.1,182.1 L243.2,182.2 L238.1,182.3 L235.2,182.5 L233.7,182.7 L233.1,182.9 L233.0,183.2 L232.9,183.5 L232.4,183.8 L231.6,184.1 L230.8,184.5 L230.0,184.9 L229.3,185.3 L228.6,185.7 L227.9,186.2 L227.3,186.6 L226.7,187.0 L226.2,187.4 L225.7,187.9 L225.3,188.4 L224.8,188.9 L224.4,189.4 L224.0,189.9 L223.6,190.4 L223.2,191.0 L222.9,191.6 L222.5,192.3 L222.2,193.0 L221.8,193.8 L221.5,194.6 L221.2,195.5 L220.9,196.4 L220.6,197.5 L220.3,198.6 L220.0,199.9 L219.7,201.3 L219.5,202.7 L219.2,204.1 L218.9,205.4 L218.6,206.7 L218.3,207.9 L218.0,209.2 L217.8,210.4 L217.5,211.7 L217.2,213.1 L216.9,214.6 L216.6,216.2 L216.3,217.8 L216.0,219.4 L215.8,221.0 L215.5,222.7 L215.2,224.4 L215.0,226.3 L214.7,228.1 L214.5,229.9 L214.3,231.3 L214.2,232.4Z" fill="#999999" fill-opacity="0.4" stroke="none"/>
<path d="M214.2,229.0 L214.3,228.0 L214.5,226.6 L214.7,224.9 L215.0,223.1 L215.2,221.3 L215.5,219.7 L215.8,218.2 L216.0,216.6 L216.3,215.0 L216.6,213.5 L216.9,212.0 L217.2,210.6 L217.5,209.3 L217.8,208.0 L218.0,206.8 L218.3,205.6 L218.6,204.4 L218.9,203.2 L219.2,201.9 L219.5,200.6 L219.7,199.2 L220.0,197.9 L220.3,196.6 L220.6,195.5 L220.9,194.5 L221.2,193.6 L221.5,192.7 L221.8,191.9 L222.2,191.2 L222.5,190.5 L222.9,189.8 L223.2,189.2 L223.6,188.7 L224.0,188.2 L224.4,187.7 L224.8,187.2 L225.3,186.7 L225.7,186.3 L226.2,185.8 L226.7,185.4 L227.3,185.0 L227.9,184.6 L228.6,184.2 L229.3,183.8 L230.0,183.4 L230.8,183.0 L231.6,182.6 L232.4,182.3 L232.9,182.0 L233.0,181.7 L233.1,181.4 L233.7,181.2 L235.2,181.0 L238.1,180.8 L243.2,180.7 L250.1,180.6 L258.1,180.6 L265.9,180.5 L272.7,180.5 L277.3,180.5" fill="none" stroke="#00BFC4" stroke-dasharray="3.3 3.1" stroke-width="1.7"/>
<path d="M214.2,263.4 L214.6,262.1 L215.1,260.2 L215.8,258.1 L216.5,255.8 L217.2,253.5 L217.9,251.4 L218.5,249.5 L219.2,247.7 L219.8,245.9 L220.5,244.1 L221.2,242.3 L221.9,240.5 L222.7,238.7 L223.5,236.8 L224.3,235.0 L225.1,233.1 L226.0,231.3 L226.8,229.7 L227.6,228.1 L228.5,226.6 L229.4,225.1 L230.2,223.7 L231.1,222.4 L232.0,221.0 L232.9,219.7 L233.8,218.5 L234.7,217.3 L235.6,216.1 L236.6,215.0 L237.5,213.8 L238.4,212.7 L239.4,211.6 L240.3,210.5 L241.3,209.4 L242.4,208.3 L243.5,207.1 L244.8,205.8 L246.1,204.4 L247.5,203.0 L249.0,201.6 L250.5,200.3 L251.9,199.1 L253.3,198.0 L254.7,196.9 L256.1,195.9 L257.6,194.9 L259.0,194.0 L260.4,193.1 L261.8,192.2 L263.2,191.3 L264.6,190.5 L266.0,189.7 L267.4,188.8 L268.8,188.1 L270.3,187.2 L272.0,186.4 L273.6,185.5 L275.1,184.7 L276.4,184.1 L277.3,183.6 L277.3,192.8 L276.4,193.1 L275.1,193.5 L273.6,193.9 L272.0,194.5 L270.3,195.0 L268.8,195.5 L267.4,196.1 L266.0,196.6 L264.6,197.2 L263.2,197.8 L261.8,198.4 L260.4,199.1 L259.0,199.8 L257.6,200.5 L256.1,201.3 L254.7,202.1 L253.3,203.0 L251.9,203.9 L250.5,205.0 L249.0,206.1 L247.5,207.3 L246.1,208.6 L244.8,209.8 L243.5,210.9 L242.4,212.0 L241.3,213.0 L240.3,214.1 L239.4,215.1 L238.4,216.1 L237.5,217.2 L236.6,218.2 L235.6,219.3 L234.7,220.4 L233.8,221.6 L232.9,222.7 L232.0,224.0 L231.1,225.2 L230.2,226.6 L229.4,227.9 L228.5,229.3 L227.6,230.8 L226.8,232.3 L226.0,234.0 L225.1,235.7 L224.3,237.5 L223.5,239.4 L222.7,241.2 L221.9,243.1 L221.2,244.8 L220.5,246.6 L219.8,248.4 L219.2,250.1 L218.5,251.9 L217.9,253.8 L217.2,255.9 L216.5,258.2 L215.8,260.5 L215.1,262.6 L214.6,264.5 L214.2,265.8Z" fill="#999999" fill-opacity="0.4" stroke="none"/>
<path d="M214.2,264.6 L214.6,263.3 L215.1,261.4 L215.8,259.3 L216.5,257.0 L217.2,254.7 L217.9,252.6 L218.5,250.7 L219.2,248.9 L219.8,247.1 L220.5,245.4 L221.2,243.6 L221.9,241.8 L222.7,240.0 L223.5,238.1 L224.3,236.3 L225.1,234.4 L226.0,232.7 L226.8,231.0 L227.6,229.4 L228.5,227.9 L229.4,226.5 L230.2,225.1 L231.1,223.8 L232.0,222.5 L232.9,221.2 L233.8,220.0 L234.7,218.9 L235.6,217.7 L236.6,216.6 L237.5,215.5 L238.4,214.4 L239.4,213.3 L240.3,212.3 L241.3,211.2 L242.4,210.1 L243.5,209.0 L244.8,207.8 L246.1,206.5 L247.5,205.2 L249.0,203.9 L250.5,202.6 L251.9,201.5 L253.3,200.5 L254.7,199.5 L256.1,198.6 L257.6,197.7 L259.0,196.9 L260.4,196.1 L261.8,195.3 L263.2,194.6 L264.6,193.8 L266.0,193.1 L267.4,192.5 L268.8,191.8 L270.3,191.1 L272.0,190.4 L273.6,189.7 L275.1,189.1 L276.4,188.6 L277.3,188.2" fill="none" stroke="#C77CFF"/>
<path d="M214.2,202.6 L214.4,201.7 L214.6,200.4 L215.0,198.8 L215.3,197.2 L215.7,195.6 L216.0,194.2 L216.3,192.9 L216.7,191.7 L217.0,190.6 L217.3,189.5 L217.7,188.5 L218.0,187.6 L218.3,186.8 L218.6,186.2 L219.0,185.6 L219.3,185.0 L219.6,184.5 L220.0,183.9 L220.4,183.4 L220.8,182.8 L221.3,182.2 L221.7,181.6 L222.3,181.1 L222.8,180.7 L223.4,180.4 L224.0,180.1 L224.7,179.9 L225.3,179.7 L226.1,179.6 L226.8,179.4 L227.1,179.3 L227.0,179.2 L226.8,179.1 L227.2,179.0 L228.8,179.0 L232.0,179.0 L237.8,179.0 L245.8,178.9 L255.0,178.9 L264.1,178.8 L271.9,178.3 L277.3,177.0 L277.3,183.8 L271.9,182.5 L264.1,182.0 L255.0,181.9 L245.8,181.9 L237.8,182.0 L232.0,182.0 L228.8,182.1 L227.2,182.2 L226.8,182.3 L227.0,182.3 L227.1,182.4 L226.8,182.6 L226.1,182.8 L225.3,183.0 L224.7,183.2 L224.0,183.5 L223.4,183.9 L222.8,184.3 L222.3,184.8 L221.7,185.4 L221.3,186.0 L220.8,186.7 L220.4,187.4 L220.0,188.1 L219.6,188.7 L219.3,189.3 L219.0,190.0 L218.6,190.7 L218.3,191.5 L218.0,192.4 L217.7,193.4 L217.3,194.5 L217.0,195.8 L216.7,197.1 L216.3,198.4 L216.0,199.8 L215.7,201.4 L215.3,203.2 L215.0,205.1 L214.6,206.8 L214.4,208.3 L214.2,209.4Z" fill="#999999" fill-opacity="0.4" stroke="none"/>
<path d="M214.2,206.0 L214.4,205.0 L214.6,203.6 L215.0,201.9 L215.3,200.2 L215.7,198.5 L216.0,197.0 L216.3,195.7 L216.7,194.4 L217.0,193.2 L217.3,192.0 L217.7,191.0 L218.0,190.0 L218.3,189.2 L218.6,188.4 L219.0,187.8 L219.3,187.2 L219.6,186.6 L220.0,186.0 L220.4,185.4 L220.8,184.7 L221.3,184.1 L221.7,183.5 L222.3,183.0 L222.8,182.5 L223.4,182.1 L224.0,181.8 L224.7,181.6 L225.3,181.4 L226.1,181.2 L226.8,181.0 L227.1,180.9 L227.0,180.7 L226.8,180.7 L227.2,180.6 L228.8,180.5 L232.0,180.5 L237.8,180.5 L245.8,180.4 L255.0,180.4 L264.1,180.4 L271.9,180.4 L277.3,180.4" fill="none" stroke="#C77CFF" stroke-dasharray="3.3 3.1" stroke-width="1.7"/>
</g>
<g clip-path="url(#cp30)" stroke-width="2.1" stroke-linecap="butt" stroke-linejoin="round">
<path d="M287.5,136.2 L287.8,136.6 L288.2,137.2 L288.7,137.8 L289.2,138.4 L289.7,138.9 L290.1,139.0 L290.5,138.9 L290.8,138.7 L291.2,138.3 L291.5,137.6 L291.8,136.7 L292.1,135.3 L292.5,133.4 L292.8,130.8 L293.1,127.8 L293.5,124.9 L293.8,122.3 L294.2,120.4 L294.5,119.2 L294.8,118.5 L295.1,118.2 L295.4,118.0 L295.8,117.8 L296.2,117.6 L296.6,117.2 L297.1,116.9 L297.6,116.6 L298.2,116.4 L298.7,116.1 L299.2,115.7 L299.7,115.3 L300.3,114.9 L300.8,114.5 L301.3,114.0 L301.8,113.4 L302.3,112.7 L302.7,111.9 L303.0,111.0 L303.3,110.0 L303.7,109.0 L304.0,107.8 L304.3,106.7 L304.6,105.4 L305.0,104.1 L305.3,102.6 L305.6,101.2 L306.0,99.8 L306.3,98.6 L306.7,97.5 L307.0,96.6 L307.3,95.7 L307.7,94.8 L308.0,93.8 L308.4,92.5 L308.7,91.0 L309.0,89.3 L309.3,87.4 L309.6,85.5 L310.0,83.4 L310.4,81.3 L310.8,79.2 L311.4,76.8 L311.9,74.4 L312.4,72.0 L313.0,69.5 L313.4,67.1 L313.8,64.8 L314.2,62.3 L314.5,59.9 L314.8,57.5 L315.1,55.2 L315.5,53.0 L315.8,50.7 L316.1,48.5 L316.5,46.4 L316.8,44.3 L317.1,42.4 L317.5,40.8 L317.8,39.4 L318.1,38.2 L318.4,37.1 L318.7,36.2 L319.1,35.4 L319.5,34.7 L319.8,34.1 L319.8,33.7 L320.0,33.3 L320.4,33.1 L321.5,32.9 L323.6,32.7 L327.1,32.5 L331.9,32.4 L337.5,32.3 L342.9,32.0 L347.6,31.3 L350.8,30.4 L350.8,37.2 L347.6,36.3 L342.9,35.6 L337.5,35.4 L331.9,35.4 L327.1,35.5 L323.6,35.7 L321.5,35.9 L320.4,36.1 L320.0,36.3 L319.8,36.7 L319.8,37.1 L319.5,37.7 L319.1,38.4 L318.7,39.2 L318.4,40.1 L318.1,41.2 L317.8,42.4 L317.5,43.8 L317.1,45.4 L316.8,47.3 L316.5,49.4 L316.1,51.5 L315.8,53.7 L315.5,56.0 L315.1,58.2 L314.8,60.5 L314.5,62.9 L314.2,65.3 L313.8,67.8 L313.4,70.1 L313.0,72.5 L312.4,75.0 L311.9,77.4 L311.4,79.8 L310.8,82.2 L310.4,84.3 L310.0,86.4 L309.6,88.5 L309.3,90.4 L309.0,92.3 L308.7,94.0 L308.4,95.5 L308.0,96.8 L307.7,97.8 L307.3,98.7 L307.0,99.6 L306.7,100.5 L306.3,101.6 L306.0,102.9 L305.6,104.2 L305.3,105.7 L305.0,107.1 L304.6,108.5 L304.3,109.7 L304.0,110.9 L303.7,112.0 L303.3,113.1 L303.0,114.1 L302.7,115.0 L302.3,115.8 L301.8,116.5 L301.3,117.1 L300.8,117.6 L300.3,118.1 L299.7,118.5 L299.2,118.9 L298.7,119.4 L298.2,119.7 L297.6,120.0 L297.1,120.4 L296.6,120.7 L296.2,121.1 L295.8,121.5 L295.4,121.7 L295.1,121.9 L294.8,122.4 L294.5,123.1 L294.2,124.4 L293.8,126.4 L293.5,129.0 L293.1,132.0 L292.8,135.1 L292.5,137.8 L292.1,139.9 L291.8,141.3 L291.5,142.4 L291.2,143.2 L290.8,143.7 L290.5,144.1 L290.1,144.3 L289.7,144.4 L289.2,144.3 L288.7,144.0 L288.2,143.6 L287.8,143.3 L287.5,143.1Z" fill="#999999" fill-opacity="0.4" stroke="none"/>
<path d="M287.5,139.6 L287.8,139.9 L288.2,140.4 L288.7,140.9 L289.2,141.4 L289.7,141.7 L290.1,141.7 L290.5,141.5 L290.8,141.2 L291.2,140.7 L291.5,140.0 L291.8,139.0 L292.1,137.6 L292.5,135.6 L292.8,132.9 L293.1,129.9 L293.5,127.0 L293.8,124.4 L294.2,122.4 L294.5,121.2 L294.8,120.4 L295.1,120.0 L295.4,119.8 L295.8,119.7 L296.2,119.4 L296.6,119.0 L297.1,118.6 L297.6,118.3 L298.2,118.0 L298.7,117.7 L299.2,117.3 L299.7,116.9 L300.3,116.5 L300.8,116.1 L301.3,115.6 L301.8,115.0 L302.3,114.3 L302.7,113.5 L303.0,112.6 L303.3,111.6 L303.7,110.5 L304.0,109.4 L304.3,108.2 L304.6,106.9 L305.0,105.6 L305.3,104.1 L305.6,102.7 L306.0,101.3 L306.3,100.1 L306.7,99.0 L307.0,98.1 L307.3,97.2 L307.7,96.3 L308.0,95.3 L308.4,94.0 L308.7,92.5 L309.0,90.8 L309.3,88.9 L309.6,87.0 L310.0,84.9 L310.4,82.8 L310.8,80.7 L311.4,78.3 L311.9,75.9 L312.4,73.5 L313.0,71.0 L313.4,68.6 L313.8,66.3 L314.2,63.8 L314.5,61.4 L314.8,59.0 L315.1,56.7 L315.5,54.5 L315.8,52.2 L316.1,50.0 L316.5,47.9 L316.8,45.8 L317.1,43.9 L317.5,42.3 L317.8,40.9 L318.1,39.7 L318.4,38.6 L318.7,37.7 L319.1,36.9 L319.5,36.2 L319.8,35.6 L319.8,35.2 L320.0,34.8 L320.4,34.6 L321.5,34.4 L323.6,34.2 L327.1,34.0 L331.9,33.9 L337.5,33.8 L342.9,33.8 L347.6,33.8 L350.8,33.8" fill="none" stroke="#F8766D"/>
<path d="M287.5,126.0 L287.8,126.5 L288.2,127.3 L288.7,128.2 L289.2,129.0 L289.7,129.6 L290.1,129.9 L290.5,129.7 L290.8,129.3 L291.2,128.8 L291.5,128.0 L291.8,127.2 L292.1,126.2 L292.5,125.2 L292.8,124.0 L293.1,122.7 L293.5,121.3 L293.8,119.9 L294.2,118.4 L294.5,116.8 L294.8,115.2 L295.2,113.4 L295.5,111.7 L295.8,110.0 L296.2,108.4 L296.5,107.0 L296.9,105.6 L297.3,104.3 L297.6,103.0 L297.9,101.8 L298.2,100.4 L298.4,99.2 L298.5,98.0 L298.7,96.9 L298.8,95.6 L299.0,94.1 L299.2,92.4 L299.6,90.3 L300.1,87.8 L300.6,85.2 L301.2,82.5 L301.7,79.8 L302.3,77.2 L302.8,74.8 L303.3,72.4 L303.8,70.0 L304.3,67.6 L304.8,65.3 L305.3,63.1 L305.8,60.9 L306.3,58.8 L306.8,56.7 L307.3,54.7 L307.8,52.8 L308.4,50.9 L308.8,49.1 L309.3,47.2 L309.8,45.5 L310.3,43.8 L310.8,42.2 L311.4,40.8 L312.0,39.5 L312.5,38.3 L313.1,37.2 L313.8,36.3 L314.5,35.4 L315.5,34.7 L316.3,34.1 L317.1,33.7 L318.1,33.3 L319.3,33.1 L321.1,32.9 L323.6,32.7 L327.3,32.5 L332.2,32.4 L337.7,32.3 L343.1,32.0 L347.7,31.3 L350.8,30.4 L350.8,37.2 L347.7,36.3 L343.1,35.7 L337.7,35.4 L332.2,35.4 L327.3,35.5 L323.6,35.7 L321.1,35.9 L319.3,36.1 L318.1,36.3 L317.1,36.7 L316.3,37.1 L315.5,37.7 L314.5,38.4 L313.8,39.3 L313.1,40.2 L312.5,41.3 L312.0,42.5 L311.4,43.8 L310.8,45.2 L310.3,46.8 L309.8,48.5 L309.3,50.2 L308.8,52.1 L308.4,53.9 L307.8,55.8 L307.3,57.8 L306.8,59.8 L306.3,61.8 L305.8,63.9 L305.3,66.1 L304.8,68.3 L304.3,70.7 L303.8,73.0 L303.3,75.4 L302.8,77.9 L302.3,80.3 L301.7,82.9 L301.2,85.6 L300.6,88.4 L300.1,91.0 L299.6,93.5 L299.2,95.6 L299.0,97.4 L298.8,98.9 L298.7,100.1 L298.5,101.3 L298.4,102.5 L298.2,103.8 L297.9,105.1 L297.6,106.4 L297.3,107.8 L296.9,109.1 L296.5,110.5 L296.2,112.0 L295.8,113.6 L295.5,115.4 L295.2,117.2 L294.8,119.0 L294.5,120.7 L294.2,122.3 L293.8,123.9 L293.5,125.4 L293.1,126.9 L292.8,128.3 L292.5,129.6 L292.1,130.7 L291.8,131.8 L291.5,132.8 L291.2,133.6 L290.8,134.4 L290.5,134.9 L290.1,135.2 L289.7,135.2 L289.2,134.9 L288.7,134.3 L288.2,133.8 L287.8,133.3 L287.5,133.0Z" fill="#999999" fill-opacity="0.4" stroke="none"/>
<path d="M287.5,129.5 L287.8,129.9 L288.2,130.5 L288.7,131.3 L289.2,131.9 L289.7,132.4 L290.1,132.5 L290.5,132.3 L290.8,131.9 L291.2,131.2 L291.5,130.4 L291.8,129.5 L292.1,128.5 L292.5,127.4 L292.8,126.2 L293.1,124.8 L293.5,123.4 L293.8,121.9 L294.2,120.4 L294.5,118.8 L294.8,117.1 L295.2,115.3 L295.5,113.5 L295.8,111.8 L296.2,110.2 L296.5,108.8 L296.9,107.4 L297.3,106.0 L297.6,104.7 L297.9,103.4 L298.2,102.1 L298.4,100.8 L298.5,99.7 L298.7,98.5 L298.8,97.2 L299.0,95.8 L299.2,94.0 L299.6,91.9 L300.1,89.4 L300.6,86.8 L301.2,84.0 L301.7,81.3 L302.3,78.8 L302.8,76.3 L303.3,73.9 L303.8,71.5 L304.3,69.1 L304.8,66.8 L305.3,64.6 L305.8,62.4 L306.3,60.3 L306.8,58.3 L307.3,56.3 L307.8,54.3 L308.4,52.4 L308.8,50.6 L309.3,48.7 L309.8,47.0 L310.3,45.3 L310.8,43.7 L311.4,42.3 L312.0,41.0 L312.5,39.8 L313.1,38.7 L313.8,37.8 L314.5,36.9 L315.5,36.2 L316.3,35.6 L317.1,35.2 L318.1,34.8 L319.3,34.6 L321.1,34.4 L323.6,34.2 L327.3,34.0 L332.2,33.9 L337.7,33.8 L343.1,33.8 L347.7,33.8 L350.8,33.8" fill="none" stroke="#F8766D" stroke-dasharray="3.3 3.1" stroke-width="1.7"/>
<path d="M287.5,97.6 L287.5,97.0 L287.5,96.3 L287.6,95.3 L287.7,94.1 L287.8,92.6 L288.1,90.7 L288.4,88.3 L288.9,85.4 L289.4,82.1 L290.0,78.7 L290.6,75.3 L291.1,72.3 L291.6,69.5 L292.1,66.7 L292.6,64.0 L293.1,61.4 L293.6,58.9 L294.2,56.5 L294.7,54.2 L295.2,52.0 L295.7,49.8 L296.3,47.9 L296.7,46.1 L297.2,44.6 L297.6,43.5 L297.9,42.6 L298.2,41.9 L298.5,41.5 L298.8,41.0 L299.2,40.7 L299.7,40.4 L300.2,40.3 L300.7,40.3 L301.2,40.2 L301.7,40.1 L302.3,39.7 L302.8,39.1 L303.2,38.2 L303.7,37.3 L304.2,36.3 L304.7,35.4 L305.3,34.7 L305.9,34.2 L306.4,33.7 L306.9,33.4 L307.5,33.1 L308.3,32.9 L309.4,32.7 L310.5,32.5 L311.5,32.3 L312.7,32.2 L314.3,32.1 L316.5,32.0 L319.5,32.0 L323.9,32.0 L329.5,32.0 L335.8,32.0 L341.9,31.9 L347.2,31.3 L350.8,30.4 L350.8,37.2 L347.2,36.1 L341.9,35.4 L335.8,35.1 L329.5,35.0 L323.9,35.0 L319.5,35.0 L316.5,35.0 L314.3,35.1 L312.7,35.2 L311.5,35.3 L310.5,35.5 L309.4,35.7 L308.3,35.9 L307.5,36.1 L306.9,36.4 L306.4,36.8 L305.9,37.2 L305.3,37.7 L304.7,38.4 L304.2,39.3 L303.7,40.3 L303.2,41.3 L302.8,42.2 L302.3,42.8 L301.7,43.2 L301.2,43.4 L300.7,43.4 L300.2,43.5 L299.7,43.6 L299.2,43.9 L298.8,44.3 L298.5,44.8 L298.2,45.3 L297.9,46.0 L297.6,46.9 L297.2,48.1 L296.7,49.6 L296.3,51.4 L295.7,53.5 L295.2,55.7 L294.7,58.1 L294.2,60.5 L293.6,63.0 L293.1,65.6 L292.6,68.4 L292.1,71.2 L291.6,74.2 L291.1,77.2 L290.6,80.5 L290.0,84.1 L289.4,87.8 L288.9,91.4 L288.4,94.6 L288.1,97.3 L287.8,99.3 L287.7,100.9 L287.6,102.2 L287.5,103.2 L287.5,103.9 L287.5,104.6Z" fill="#999999" fill-opacity="0.4" stroke="none"/>
<path d="M287.5,101.1 L287.5,100.5 L287.5,99.7 L287.6,98.8 L287.7,97.5 L287.8,96.0 L288.1,94.0 L288.4,91.5 L288.9,88.4 L289.4,84.9 L290.0,81.4 L290.6,77.9 L291.1,74.7 L291.6,71.8 L292.1,68.9 L292.6,66.2 L293.1,63.5 L293.6,60.9 L294.2,58.5 L294.7,56.2 L295.2,53.8 L295.7,51.7 L296.3,49.6 L296.7,47.8 L297.2,46.3 L297.6,45.2 L297.9,44.3 L298.2,43.6 L298.5,43.1 L298.8,42.7 L299.2,42.3 L299.7,42.0 L300.2,41.9 L300.7,41.8 L301.2,41.8 L301.7,41.6 L302.3,41.3 L302.8,40.6 L303.2,39.8 L303.7,38.8 L304.2,37.8 L304.7,36.9 L305.3,36.2 L305.9,35.7 L306.4,35.2 L306.9,34.9 L307.5,34.6 L308.3,34.4 L309.4,34.2 L310.5,34.0 L311.5,33.8 L312.7,33.7 L314.3,33.6 L316.5,33.5 L319.5,33.5 L323.9,33.5 L329.5,33.5 L335.8,33.6 L341.9,33.6 L347.2,33.7 L350.8,33.8" fill="none" stroke="#7CAE00"/>
<path d="M287.5,88.5 L287.5,88.4 L287.5,88.4 L287.6,88.3 L287.7,87.9 L287.8,87.1 L288.1,85.7 L288.4,83.4 L288.9,80.3 L289.4,76.8 L290.0,73.1 L290.6,69.4 L291.1,66.2 L291.6,63.3 L292.1,60.5 L292.6,57.7 L293.1,55.1 L293.6,52.7 L294.2,50.4 L294.7,48.4 L295.1,46.6 L295.6,44.9 L296.1,43.3 L296.6,41.9 L297.2,40.6 L297.8,39.3 L298.5,38.1 L299.2,37.1 L299.9,36.2 L300.6,35.3 L301.3,34.6 L301.8,34.1 L302.2,33.6 L302.6,33.3 L303.2,33.1 L304.0,32.9 L305.3,32.7 L306.9,32.5 L308.7,32.3 L310.7,32.2 L313.1,32.1 L316.0,32.0 L319.5,32.0 L324.1,32.0 L329.8,32.0 L336.1,32.0 L342.1,31.9 L347.2,31.3 L350.8,30.4 L350.8,37.2 L347.2,36.1 L342.1,35.4 L336.1,35.1 L329.8,35.0 L324.1,35.0 L319.5,35.0 L316.0,35.0 L313.1,35.1 L310.7,35.2 L308.7,35.3 L306.9,35.5 L305.3,35.7 L304.0,35.9 L303.2,36.1 L302.6,36.4 L302.2,36.7 L301.8,37.2 L301.3,37.8 L300.6,38.5 L299.9,39.4 L299.2,40.4 L298.5,41.5 L297.8,42.7 L297.2,44.0 L296.6,45.4 L296.1,46.9 L295.6,48.6 L295.1,50.3 L294.7,52.3 L294.2,54.4 L293.6,56.8 L293.1,59.3 L292.6,62.1 L292.1,65.0 L291.6,68.0 L291.1,71.1 L290.6,74.6 L290.0,78.4 L289.4,82.5 L288.9,86.3 L288.4,89.6 L288.1,92.2 L287.8,93.8 L287.7,94.7 L287.6,95.1 L287.5,95.3 L287.5,95.3 L287.5,95.4Z" fill="#999999" fill-opacity="0.4" stroke="none"/>
<path d="M287.5,92.0 L287.5,91.8 L287.5,91.8 L287.6,91.7 L287.7,91.3 L287.8,90.5 L288.1,88.9 L288.4,86.5 L288.9,83.3 L289.4,79.6 L290.0,75.7 L290.6,72.0 L291.1,68.6 L291.6,65.6 L292.1,62.7 L292.6,59.9 L293.1,57.2 L293.6,54.7 L294.2,52.4 L294.7,50.3 L295.1,48.4 L295.6,46.7 L296.1,45.1 L296.6,43.7 L297.2,42.3 L297.8,41.0 L298.5,39.8 L299.2,38.7 L299.9,37.8 L300.6,36.9 L301.3,36.2 L301.8,35.6 L302.2,35.2 L302.6,34.8 L303.2,34.6 L304.0,34.4 L305.3,34.2 L306.9,34.0 L308.7,33.8 L310.7,33.7 L313.1,33.6 L316.0,33.5 L319.5,33.5 L324.1,33.5 L329.8,33.5 L336.1,33.6 L342.1,33.6 L347.2,33.7 L350.8,33.8" fill="none" stroke="#7CAE00" stroke-dasharray="3.3 3.1" stroke-width="1.7"/>
<path d="M287.7,109.6 L287.7,109.4 L287.7,109.2 L287.7,108.9 L287.7,108.4 L287.9,107.7 L288.2,106.8 L288.7,105.5 L289.4,103.8 L290.1,101.9 L290.9,99.9 L291.7,97.8 L292.5,95.8 L293.2,93.8 L293.9,91.8 L294.6,89.8 L295.3,87.8 L296.0,85.7 L296.7,83.6 L297.4,81.6 L298.1,79.5 L298.8,77.3 L299.5,75.2 L300.2,73.1 L300.9,71.1 L301.6,69.1 L302.3,67.2 L303.1,65.2 L303.8,63.3 L304.4,61.6 L305.1,59.9 L305.7,58.3 L306.3,56.9 L306.8,55.5 L307.4,54.3 L307.9,53.1 L308.5,52.0 L309.1,51.0 L309.7,50.2 L310.2,49.4 L310.8,48.7 L311.4,48.1 L312.0,47.5 L312.6,47.0 L313.1,46.6 L313.6,46.2 L314.1,45.8 L314.8,45.4 L315.5,44.8 L316.4,44.1 L317.3,43.3 L318.3,42.4 L319.4,41.5 L320.5,40.6 L321.5,39.8 L322.5,39.0 L323.5,38.3 L324.4,37.6 L325.4,36.9 L326.5,36.3 L327.6,35.7 L328.8,35.2 L329.9,34.8 L331.1,34.5 L332.4,34.2 L333.9,33.9 L335.7,33.7 L338.0,33.4 L340.8,33.2 L343.8,32.9 L346.7,32.4 L349.2,31.8 L350.9,31.2 L350.9,38.0 L349.2,37.5 L346.7,37.0 L343.8,36.7 L340.8,36.6 L338.0,36.6 L335.7,36.7 L333.9,36.9 L332.4,37.2 L331.1,37.5 L329.9,37.8 L328.8,38.2 L327.6,38.7 L326.5,39.3 L325.4,39.9 L324.4,40.6 L323.5,41.3 L322.5,42.0 L321.5,42.8 L320.5,43.6 L319.4,44.5 L318.3,45.4 L317.3,46.3 L316.4,47.1 L315.5,47.8 L314.8,48.4 L314.1,48.8 L313.6,49.2 L313.1,49.6 L312.6,50.0 L312.0,50.5 L311.4,51.1 L310.8,51.7 L310.2,52.4 L309.7,53.2 L309.1,54.0 L308.5,55.0 L307.9,56.1 L307.4,57.3 L306.8,58.5 L306.3,59.9 L305.7,61.4 L305.1,62.9 L304.4,64.6 L303.8,66.4 L303.1,68.3 L302.3,70.2 L301.6,72.3 L300.9,74.3 L300.2,76.3 L299.5,78.4 L298.8,80.6 L298.1,82.8 L297.4,85.0 L296.7,87.2 L296.0,89.3 L295.3,91.5 L294.6,93.7 L293.9,95.9 L293.2,98.0 L292.5,100.2 L291.7,102.5 L290.9,104.9 L290.1,107.3 L289.4,109.6 L288.7,111.6 L288.2,113.2 L287.9,114.4 L287.7,115.2 L287.7,115.6 L287.7,116.0 L287.7,116.2 L287.7,116.4Z" fill="#999999" fill-opacity="0.4" stroke="none"/>
<path d="M287.7,113.0 L287.7,112.8 L287.7,112.6 L287.7,112.2 L287.7,111.8 L287.9,111.1 L288.2,110.0 L288.7,108.5 L289.4,106.7 L290.1,104.6 L290.9,102.4 L291.7,100.1 L292.5,98.0 L293.2,95.9 L293.9,93.8 L294.6,91.7 L295.3,89.6 L296.0,87.5 L296.7,85.4 L297.4,83.3 L298.1,81.1 L298.8,79.0 L299.5,76.8 L300.2,74.7 L300.9,72.7 L301.6,70.7 L302.3,68.7 L303.1,66.8 L303.8,64.9 L304.4,63.1 L305.1,61.4 L305.7,59.8 L306.3,58.4 L306.8,57.0 L307.4,55.8 L307.9,54.6 L308.5,53.5 L309.1,52.5 L309.7,51.7 L310.2,50.9 L310.8,50.2 L311.4,49.6 L312.0,49.0 L312.6,48.5 L313.1,48.1 L313.6,47.7 L314.1,47.3 L314.8,46.9 L315.5,46.3 L316.4,45.6 L317.3,44.8 L318.3,43.9 L319.4,43.0 L320.5,42.1 L321.5,41.3 L322.5,40.5 L323.5,39.8 L324.4,39.1 L325.4,38.4 L326.5,37.8 L327.6,37.2 L328.8,36.7 L329.9,36.3 L331.1,36.0 L332.4,35.7 L333.9,35.4 L335.7,35.2 L338.0,35.0 L340.8,34.9 L343.8,34.8 L346.7,34.7 L349.2,34.6 L350.9,34.6" fill="none" stroke="#00BFC4"/>
<path d="M287.5,97.6 L287.6,97.0 L287.8,96.2 L288.1,95.2 L288.4,94.1 L288.7,92.7 L289.1,91.1 L289.5,89.1 L290.0,86.9 L290.5,84.4 L291.1,81.8 L291.6,79.1 L292.1,76.5 L292.6,73.9 L293.1,71.2 L293.6,68.4 L294.2,65.7 L294.7,63.1 L295.2,60.7 L295.7,58.4 L296.1,56.3 L296.6,54.2 L297.1,52.3 L297.6,50.4 L298.2,48.7 L298.8,47.1 L299.4,45.7 L300.0,44.3 L300.7,43.0 L301.4,41.8 L302.3,40.7 L303.2,39.7 L304.1,38.8 L305.2,37.9 L306.4,37.1 L307.7,36.4 L309.4,35.7 L311.2,35.1 L313.1,34.6 L315.2,34.1 L317.6,33.7 L320.4,33.4 L323.6,33.1 L327.7,32.9 L332.7,32.7 L338.1,32.6 L343.3,32.3 L347.7,31.7 L350.8,30.8 L350.8,37.6 L347.7,36.7 L343.3,36.1 L338.1,35.8 L332.7,35.8 L327.7,35.9 L323.6,36.1 L320.4,36.4 L317.6,36.7 L315.2,37.1 L313.1,37.6 L311.2,38.1 L309.4,38.7 L307.7,39.4 L306.4,40.1 L305.2,40.9 L304.1,41.8 L303.2,42.8 L302.3,43.8 L301.4,45.0 L300.7,46.2 L300.0,47.5 L299.4,48.9 L298.8,50.4 L298.2,52.1 L297.6,53.8 L297.1,55.7 L296.6,57.7 L296.1,59.8 L295.7,62.1 L295.2,64.4 L294.7,67.0 L294.2,69.7 L293.6,72.5 L293.1,75.4 L292.6,78.3 L292.1,81.0 L291.6,83.8 L291.1,86.7 L290.5,89.5 L290.0,92.3 L289.5,94.8 L289.1,96.9 L288.7,98.8 L288.4,100.4 L288.1,101.8 L287.8,102.9 L287.6,103.8 L287.5,104.6Z" fill="#999999" fill-opacity="0.4" stroke="none"/>
<path d="M287.5,101.1 L287.6,100.4 L287.8,99.6 L288.1,98.5 L288.4,97.2 L288.7,95.7 L289.1,94.0 L289.5,91.9 L290.0,89.6 L290.5,87.0 L291.1,84.2 L291.6,81.5 L292.1,78.8 L292.6,76.1 L293.1,73.3 L293.6,70.5 L294.2,67.7 L294.7,65.0 L295.2,62.6 L295.7,60.3 L296.1,58.1 L296.6,56.0 L297.1,54.0 L297.6,52.1 L298.2,50.4 L298.8,48.8 L299.4,47.3 L300.0,45.9 L300.7,44.6 L301.4,43.4 L302.3,42.3 L303.2,41.2 L304.1,40.3 L305.2,39.4 L306.4,38.6 L307.7,37.9 L309.4,37.2 L311.2,36.6 L313.1,36.1 L315.2,35.6 L317.6,35.2 L320.4,34.9 L323.6,34.6 L327.7,34.4 L332.7,34.3 L338.1,34.2 L343.3,34.2 L347.7,34.2 L350.8,34.2" fill="none" stroke="#00BFC4" stroke-dasharray="3.3 3.1" stroke-width="1.7"/>
<path d="M287.5,79.4 L287.9,77.7 L288.4,75.3 L289.0,72.5 L289.7,69.6 L290.4,66.7 L291.1,64.2 L291.8,62.0 L292.4,59.9 L293.1,57.9 L293.8,56.0 L294.5,54.3 L295.2,52.6 L295.8,51.0 L296.4,49.6 L297.1,48.3 L297.7,47.1 L298.4,45.9 L299.2,44.7 L300.1,43.6 L301.0,42.5 L302.0,41.4 L303.1,40.4 L304.2,39.5 L305.3,38.7 L306.5,38.0 L307.8,37.4 L309.1,36.9 L310.5,36.5 L311.9,36.1 L313.4,35.7 L314.8,35.4 L316.0,35.1 L317.3,34.9 L318.8,34.7 L320.9,34.5 L323.6,34.3 L327.4,34.0 L332.4,33.6 L337.8,33.2 L343.1,32.5 L347.7,31.6 L350.8,30.5 L350.8,37.3 L347.7,36.6 L343.1,36.2 L337.8,36.3 L332.4,36.6 L327.4,37.0 L323.6,37.3 L320.9,37.5 L318.8,37.7 L317.3,37.9 L316.0,38.1 L314.8,38.4 L313.4,38.7 L311.9,39.1 L310.5,39.5 L309.1,39.9 L307.8,40.5 L306.5,41.1 L305.3,41.8 L304.2,42.6 L303.1,43.5 L302.0,44.5 L301.0,45.6 L300.1,46.8 L299.2,48.0 L298.4,49.2 L297.7,50.4 L297.1,51.7 L296.4,53.1 L295.8,54.7 L295.2,56.3 L294.5,58.1 L293.8,60.1 L293.1,62.1 L292.4,64.3 L291.8,66.6 L291.1,69.1 L290.4,71.9 L289.7,75.1 L289.0,78.4 L288.4,81.6 L287.9,84.4 L287.5,86.3Z" fill="#999999" fill-opacity="0.4" stroke="none"/>
<path d="M287.5,82.8 L287.9,81.0 L288.4,78.5 L289.0,75.5 L289.7,72.3 L290.4,69.3 L291.1,66.6 L291.8,64.3 L292.4,62.1 L293.1,60.0 L293.8,58.1 L294.5,56.2 L295.2,54.5 L295.8,52.8 L296.4,51.4 L297.1,50.0 L297.7,48.7 L298.4,47.5 L299.2,46.3 L300.1,45.2 L301.0,44.0 L302.0,43.0 L303.1,42.0 L304.2,41.1 L305.3,40.3 L306.5,39.6 L307.8,39.0 L309.1,38.4 L310.5,38.0 L311.9,37.6 L313.4,37.2 L314.8,36.9 L316.0,36.6 L317.3,36.4 L318.8,36.2 L320.9,36.0 L323.6,35.8 L327.4,35.5 L332.4,35.1 L337.8,34.7 L343.1,34.4 L347.7,34.1 L350.8,33.9" fill="none" stroke="#C77CFF"/>
<path d="M287.5,69.2 L287.7,68.0 L288.1,66.3 L288.6,64.3 L289.1,62.1 L289.6,59.9 L290.1,57.9 L290.6,55.9 L291.1,53.9 L291.6,52.0 L292.1,50.0 L292.6,48.1 L293.1,46.3 L293.6,44.4 L294.2,42.6 L294.7,40.8 L295.2,39.2 L295.7,37.7 L296.2,36.4 L296.6,35.5 L297.0,34.7 L297.4,34.1 L297.8,33.7 L298.4,33.3 L299.2,33.0 L299.9,32.6 L300.2,32.4 L300.8,32.3 L301.8,32.2 L303.9,32.1 L307.3,32.1 L313.0,32.0 L320.8,32.0 L329.6,32.1 L338.3,32.1 L345.7,31.6 L350.8,30.4 L350.8,37.2 L345.7,35.9 L338.3,35.3 L329.6,35.1 L320.8,35.0 L313.0,35.0 L307.3,35.1 L303.9,35.2 L301.8,35.3 L300.8,35.4 L300.2,35.6 L299.9,35.8 L299.2,36.2 L298.4,36.6 L297.8,37.0 L297.4,37.5 L297.0,38.2 L296.6,39.0 L296.2,40.0 L295.7,41.3 L295.2,42.9 L294.7,44.7 L294.2,46.6 L293.6,48.5 L293.1,50.5 L292.6,52.5 L292.1,54.5 L291.6,56.7 L291.1,58.9 L290.6,61.0 L290.1,63.2 L289.6,65.5 L289.1,68.0 L288.6,70.5 L288.1,72.8 L287.7,74.7 L287.5,76.2Z" fill="#999999" fill-opacity="0.4" stroke="none"/>
<path d="M287.5,72.7 L287.7,71.4 L288.1,69.5 L288.6,67.4 L289.1,65.0 L289.6,62.7 L290.1,60.5 L290.6,58.5 L291.1,56.4 L291.6,54.3 L292.1,52.3 L292.6,50.3 L293.1,48.4 L293.6,46.5 L294.2,44.6 L294.7,42.8 L295.2,41.0 L295.7,39.5 L296.2,38.2 L296.6,37.2 L297.0,36.4 L297.4,35.8 L297.8,35.4 L298.4,35.0 L299.2,34.6 L299.9,34.2 L300.2,34.0 L300.8,33.8 L301.8,33.7 L303.9,33.6 L307.3,33.6 L313.0,33.5 L320.8,33.5 L329.6,33.6 L338.3,33.7 L345.7,33.7 L350.8,33.8" fill="none" stroke="#C77CFF" stroke-dasharray="3.3 3.1" stroke-width="1.7"/>
</g>
<g clip-path="url(#cp31)" stroke-width="2.1" stroke-linecap="butt" stroke-linejoin="round">
<path d="M287.5,290.3 L287.7,289.5 L288.1,288.4 L288.6,287.0 L289.1,285.6 L289.6,284.2 L290.1,282.9 L290.6,281.8 L291.1,280.6 L291.6,279.5 L292.1,278.4 L292.6,277.4 L293.1,276.4 L293.6,275.5 L294.2,274.7 L294.7,273.9 L295.2,273.2 L295.7,272.6 L296.2,272.1 L296.7,271.8 L297.2,271.6 L297.7,271.6 L298.2,271.6 L298.7,271.6 L299.2,271.4 L299.7,271.1 L300.3,270.8 L300.8,270.4 L301.3,270.0 L301.8,269.5 L302.3,268.9 L302.7,268.2 L303.0,267.5 L303.3,266.7 L303.7,265.8 L304.0,264.9 L304.3,263.8 L304.6,262.6 L305.0,261.3 L305.3,259.9 L305.6,258.5 L306.0,257.0 L306.3,255.7 L306.7,254.5 L307.0,253.4 L307.3,252.2 L307.6,251.1 L308.0,249.9 L308.4,248.6 L308.8,247.2 L309.3,245.7 L309.8,244.1 L310.3,242.5 L310.9,240.9 L311.4,239.5 L311.9,238.3 L312.4,237.2 L312.9,236.1 L313.4,235.1 L313.9,233.9 L314.4,232.4 L315.0,230.7 L315.5,228.7 L316.0,226.6 L316.5,224.5 L317.0,222.3 L317.5,220.2 L317.9,218.2 L318.2,216.2 L318.5,214.1 L318.8,212.1 L319.1,210.1 L319.5,208.1 L320.0,206.0 L320.4,203.9 L321.0,201.9 L321.5,199.8 L322.0,197.8 L322.5,195.9 L323.1,194.0 L323.6,192.1 L324.1,190.3 L324.6,188.6 L325.1,187.1 L325.6,185.8 L326.1,184.7 L326.5,183.8 L327.0,183.2 L327.5,182.6 L328.0,182.1 L328.6,181.7 L329.2,181.4 L329.7,181.1 L330.3,181.0 L331.0,180.9 L332.1,180.8 L333.7,180.7 L336.1,180.5 L339.2,180.2 L342.6,179.8 L346.0,179.2 L348.8,178.5 L350.8,177.8 L350.8,184.6 L348.8,184.1 L346.0,183.6 L342.6,183.4 L339.2,183.4 L336.1,183.5 L333.7,183.7 L332.1,183.8 L331.0,183.9 L330.3,184.0 L329.7,184.1 L329.2,184.4 L328.6,184.7 L328.0,185.1 L327.5,185.6 L327.0,186.2 L326.5,186.8 L326.1,187.7 L325.6,188.8 L325.1,190.1 L324.6,191.6 L324.1,193.3 L323.6,195.1 L323.1,197.0 L322.5,198.9 L322.0,200.8 L321.5,202.8 L321.0,204.9 L320.4,206.9 L320.0,209.0 L319.5,211.1 L319.1,213.1 L318.8,215.1 L318.5,217.1 L318.2,219.2 L317.9,221.2 L317.5,223.2 L317.0,225.3 L316.5,227.5 L316.0,229.6 L315.5,231.7 L315.0,233.7 L314.4,235.4 L313.9,236.9 L313.4,238.1 L312.9,239.1 L312.4,240.2 L311.9,241.3 L311.4,242.5 L310.9,243.9 L310.3,245.5 L309.8,247.1 L309.3,248.7 L308.8,250.2 L308.4,251.6 L308.0,252.9 L307.6,254.1 L307.3,255.2 L307.0,256.4 L306.7,257.5 L306.3,258.7 L306.0,260.1 L305.6,261.5 L305.3,262.9 L305.0,264.3 L304.6,265.7 L304.3,266.9 L304.0,267.9 L303.7,268.9 L303.3,269.7 L303.0,270.5 L302.7,271.3 L302.3,272.0 L301.8,272.6 L301.3,273.1 L300.8,273.6 L300.3,274.0 L299.7,274.3 L299.2,274.7 L298.7,274.9 L298.2,275.0 L297.7,275.0 L297.2,275.1 L296.7,275.3 L296.2,275.6 L295.7,276.2 L295.2,276.9 L294.7,277.7 L294.2,278.6 L293.6,279.6 L293.1,280.6 L292.6,281.7 L292.1,282.9 L291.6,284.2 L291.1,285.5 L290.6,286.9 L290.1,288.3 L289.6,289.8 L289.1,291.5 L288.6,293.2 L288.1,294.8 L287.7,296.2 L287.5,297.2Z" fill="#999999" fill-opacity="0.4" stroke="none"/>
<path d="M287.5,293.7 L287.7,292.8 L288.1,291.6 L288.6,290.1 L289.1,288.5 L289.6,287.0 L290.1,285.6 L290.6,284.3 L291.1,283.1 L291.6,281.9 L292.1,280.7 L292.6,279.6 L293.1,278.5 L293.6,277.6 L294.2,276.6 L294.7,275.8 L295.2,275.0 L295.7,274.4 L296.2,273.9 L296.7,273.5 L297.2,273.4 L297.7,273.3 L298.2,273.3 L298.7,273.2 L299.2,273.0 L299.7,272.7 L300.3,272.4 L300.8,272.0 L301.3,271.5 L301.8,271.0 L302.3,270.4 L302.7,269.7 L303.0,269.0 L303.3,268.2 L303.7,267.3 L304.0,266.4 L304.3,265.3 L304.6,264.2 L305.0,262.8 L305.3,261.4 L305.6,260.0 L306.0,258.6 L306.3,257.2 L306.7,256.0 L307.0,254.9 L307.3,253.7 L307.6,252.6 L308.0,251.4 L308.4,250.1 L308.8,248.7 L309.3,247.2 L309.8,245.6 L310.3,244.0 L310.9,242.4 L311.4,241.0 L311.9,239.8 L312.4,238.7 L312.9,237.6 L313.4,236.6 L313.9,235.4 L314.4,233.9 L315.0,232.2 L315.5,230.2 L316.0,228.1 L316.5,226.0 L317.0,223.8 L317.5,221.7 L317.9,219.7 L318.2,217.7 L318.5,215.6 L318.8,213.6 L319.1,211.6 L319.5,209.6 L320.0,207.5 L320.4,205.4 L321.0,203.4 L321.5,201.3 L322.0,199.3 L322.5,197.4 L323.1,195.5 L323.6,193.6 L324.1,191.8 L324.6,190.1 L325.1,188.6 L325.6,187.3 L326.1,186.2 L326.5,185.3 L327.0,184.7 L327.5,184.1 L328.0,183.6 L328.6,183.2 L329.2,182.9 L329.7,182.6 L330.3,182.5 L331.0,182.4 L332.1,182.3 L333.7,182.2 L336.1,182.0 L339.2,181.8 L342.6,181.6 L346.0,181.4 L348.8,181.3 L350.8,181.2" fill="none" stroke="#F8766D"/>
<path d="M287.5,274.0 L287.6,273.5 L287.9,272.7 L288.1,271.7 L288.5,270.7 L288.8,269.6 L289.1,268.5 L289.4,267.4 L289.7,266.3 L290.1,265.1 L290.4,263.8 L290.8,262.4 L291.1,260.9 L291.5,259.1 L291.8,257.2 L292.1,255.1 L292.5,253.0 L292.8,250.9 L293.1,249.0 L293.5,247.4 L293.7,246.1 L294.0,244.8 L294.3,243.3 L294.7,241.5 L295.2,239.1 L295.7,235.9 L296.4,232.1 L297.1,227.9 L297.9,223.6 L298.6,219.5 L299.2,216.1 L299.8,213.1 L300.3,210.5 L300.8,208.2 L301.3,206.0 L301.8,204.0 L302.3,201.9 L302.8,200.0 L303.3,198.1 L303.8,196.4 L304.3,194.7 L304.8,193.2 L305.3,191.8 L305.8,190.6 L306.2,189.4 L306.7,188.4 L307.2,187.5 L307.7,186.6 L308.4,185.8 L309.0,184.9 L309.7,184.2 L310.4,183.4 L311.3,182.8 L312.3,182.2 L313.4,181.7 L314.6,181.3 L315.8,180.9 L317.1,180.7 L318.7,180.5 L320.8,180.3 L323.6,180.1 L327.4,179.9 L332.4,179.7 L337.8,179.5 L343.1,179.1 L347.7,178.3 L350.8,177.4 L350.8,184.2 L347.7,183.4 L343.1,182.8 L337.8,182.6 L332.4,182.7 L327.4,182.9 L323.6,183.1 L320.8,183.3 L318.7,183.5 L317.1,183.7 L315.8,183.9 L314.6,184.3 L313.4,184.7 L312.3,185.2 L311.3,185.8 L310.4,186.4 L309.7,187.2 L309.0,187.9 L308.4,188.8 L307.7,189.6 L307.2,190.5 L306.7,191.4 L306.2,192.4 L305.8,193.6 L305.3,194.9 L304.8,196.3 L304.3,197.8 L303.8,199.4 L303.3,201.2 L302.8,203.0 L302.3,205.0 L301.8,207.1 L301.3,209.1 L300.8,211.3 L300.3,213.7 L299.8,216.3 L299.2,219.3 L298.6,222.8 L297.9,226.9 L297.1,231.3 L296.4,235.6 L295.7,239.6 L295.2,242.9 L294.7,245.3 L294.3,247.2 L294.0,248.8 L293.7,250.1 L293.5,251.5 L293.1,253.2 L292.8,255.3 L292.5,257.4 L292.1,259.6 L291.8,261.8 L291.5,263.9 L291.1,265.8 L290.8,267.4 L290.4,269.0 L290.1,270.4 L289.7,271.8 L289.4,273.1 L289.1,274.4 L288.8,275.7 L288.5,277.0 L288.1,278.2 L287.9,279.3 L287.6,280.3 L287.5,281.0Z" fill="#999999" fill-opacity="0.4" stroke="none"/>
<path d="M287.5,277.5 L287.6,276.9 L287.9,276.0 L288.1,275.0 L288.5,273.8 L288.8,272.6 L289.1,271.4 L289.4,270.2 L289.7,269.0 L290.1,267.7 L290.4,266.4 L290.8,264.9 L291.1,263.3 L291.5,261.5 L291.8,259.5 L292.1,257.4 L292.5,255.2 L292.8,253.1 L293.1,251.1 L293.5,249.5 L293.7,248.1 L294.0,246.8 L294.3,245.3 L294.7,243.4 L295.2,241.0 L295.7,237.8 L296.4,233.9 L297.1,229.6 L297.9,225.3 L298.6,221.2 L299.2,217.7 L299.8,214.7 L300.3,212.1 L300.8,209.8 L301.3,207.6 L301.8,205.5 L302.3,203.5 L302.8,201.5 L303.3,199.6 L303.8,197.9 L304.3,196.3 L304.8,194.7 L305.3,193.3 L305.8,192.1 L306.2,190.9 L306.7,189.9 L307.2,189.0 L307.7,188.1 L308.4,187.3 L309.0,186.4 L309.7,185.7 L310.4,184.9 L311.3,184.3 L312.3,183.7 L313.4,183.2 L314.6,182.8 L315.8,182.4 L317.1,182.2 L318.7,182.0 L320.8,181.8 L323.6,181.6 L327.4,181.4 L332.4,181.2 L337.8,181.1 L343.1,180.9 L347.7,180.8 L350.8,180.8" fill="none" stroke="#F8766D" stroke-dasharray="3.3 3.1" stroke-width="1.7"/>
<path d="M287.7,262.6 L288.0,260.4 L288.6,257.2 L289.2,253.4 L289.8,249.5 L290.4,245.9 L290.9,242.9 L291.3,240.8 L291.6,239.1 L291.8,237.7 L292.0,236.4 L292.3,235.0 L292.5,233.3 L292.8,231.3 L293.0,229.2 L293.2,227.0 L293.5,224.8 L293.8,222.5 L294.1,220.3 L294.5,218.1 L294.9,215.8 L295.3,213.5 L295.8,211.2 L296.3,209.1 L296.7,207.0 L297.1,205.1 L297.5,203.3 L298.0,201.5 L298.4,199.9 L298.8,198.4 L299.2,197.0 L299.6,195.7 L300.0,194.6 L300.4,193.6 L300.9,192.7 L301.3,191.9 L301.7,191.1 L302.1,190.6 L302.6,190.2 L303.0,189.9 L303.4,189.6 L303.9,189.3 L304.3,189.0 L304.7,188.5 L305.1,188.0 L305.6,187.5 L306.0,187.0 L306.4,186.5 L306.8,186.0 L307.2,185.6 L307.6,185.1 L308.0,184.7 L308.4,184.4 L308.8,184.0 L309.3,183.6 L309.8,183.2 L310.2,182.8 L310.7,182.4 L311.2,182.1 L311.9,181.7 L312.7,181.4 L313.4,181.1 L314.0,180.8 L314.6,180.6 L315.7,180.4 L317.4,180.2 L320.0,180.0 L324.1,179.9 L329.7,179.8 L335.9,179.7 L342.0,179.4 L347.3,178.7 L350.9,177.7 L350.9,184.5 L347.3,183.6 L342.0,182.9 L335.9,182.8 L329.7,182.8 L324.1,182.9 L320.0,183.0 L317.4,183.2 L315.7,183.4 L314.6,183.6 L314.0,183.8 L313.4,184.1 L312.7,184.4 L311.9,184.7 L311.2,185.1 L310.7,185.4 L310.2,185.8 L309.8,186.2 L309.3,186.6 L308.8,187.0 L308.4,187.4 L308.0,187.8 L307.6,188.2 L307.2,188.6 L306.8,189.0 L306.4,189.5 L306.0,190.0 L305.6,190.5 L305.1,191.1 L304.7,191.6 L304.3,192.0 L303.9,192.4 L303.4,192.7 L303.0,193.0 L302.6,193.3 L302.1,193.7 L301.7,194.3 L301.3,195.0 L300.9,195.8 L300.4,196.7 L300.0,197.8 L299.6,198.9 L299.2,200.2 L298.8,201.7 L298.4,203.2 L298.0,204.9 L297.5,206.7 L297.1,208.6 L296.7,210.6 L296.3,212.6 L295.8,214.9 L295.3,217.2 L294.9,219.6 L294.5,222.0 L294.1,224.3 L293.8,226.6 L293.5,228.9 L293.2,231.2 L293.0,233.5 L292.8,235.7 L292.5,237.7 L292.3,239.5 L292.0,240.9 L291.8,242.3 L291.6,243.8 L291.3,245.6 L290.9,247.9 L290.4,251.1 L289.8,255.0 L289.2,259.2 L288.6,263.4 L288.0,266.9 L287.7,269.4Z" fill="#999999" fill-opacity="0.4" stroke="none"/>
<path d="M287.7,266.0 L288.0,263.6 L288.6,260.3 L289.2,256.3 L289.8,252.2 L290.4,248.5 L290.9,245.4 L291.3,243.2 L291.6,241.4 L291.8,240.0 L292.0,238.6 L292.3,237.2 L292.5,235.5 L292.8,233.5 L293.0,231.4 L293.2,229.1 L293.5,226.8 L293.8,224.6 L294.1,222.3 L294.5,220.0 L294.9,217.7 L295.3,215.4 L295.8,213.1 L296.3,210.9 L296.7,208.8 L297.1,206.9 L297.5,205.0 L298.0,203.2 L298.4,201.6 L298.8,200.0 L299.2,198.6 L299.6,197.3 L300.0,196.2 L300.4,195.2 L300.9,194.2 L301.3,193.4 L301.7,192.7 L302.1,192.1 L302.6,191.7 L303.0,191.4 L303.4,191.2 L303.9,190.9 L304.3,190.5 L304.7,190.0 L305.1,189.5 L305.6,189.0 L306.0,188.5 L306.4,188.0 L306.8,187.5 L307.2,187.1 L307.6,186.6 L308.0,186.2 L308.4,185.9 L308.8,185.5 L309.3,185.1 L309.8,184.7 L310.2,184.3 L310.7,183.9 L311.2,183.6 L311.9,183.2 L312.7,182.9 L313.4,182.6 L314.0,182.3 L314.6,182.1 L315.7,181.9 L317.4,181.7 L320.0,181.5 L324.1,181.4 L329.7,181.3 L335.9,181.2 L342.0,181.2 L347.3,181.1 L350.9,181.1" fill="none" stroke="#7CAE00"/>
<path d="M287.5,208.1 L287.7,206.9 L288.1,205.1 L288.6,203.1 L289.1,200.8 L289.6,198.7 L290.1,196.7 L290.6,195.0 L291.1,193.3 L291.6,191.6 L292.1,190.0 L292.6,188.5 L293.1,187.2 L293.6,186.0 L294.1,184.9 L294.6,184.0 L295.1,183.2 L295.6,182.5 L296.2,181.8 L296.3,181.3 L295.7,180.8 L295.2,180.5 L295.4,180.2 L296.9,180.1 L300.2,180.0 L306.6,179.8 L315.5,179.5 L325.8,179.2 L336.0,179.0 L344.8,178.3 L350.8,176.8 L350.8,183.6 L344.8,182.3 L336.0,182.0 L325.8,182.2 L315.5,182.5 L306.6,182.8 L300.2,183.2 L296.9,183.6 L295.4,183.9 L295.2,184.2 L295.7,184.5 L296.3,184.8 L296.2,185.4 L295.6,186.1 L295.1,186.9 L294.6,187.9 L294.1,188.9 L293.6,190.1 L293.1,191.4 L292.6,192.9 L292.1,194.5 L291.6,196.3 L291.1,198.2 L290.6,200.1 L290.1,202.1 L289.6,204.3 L289.1,206.7 L288.6,209.2 L288.1,211.6 L287.7,213.6 L287.5,215.1Z" fill="#999999" fill-opacity="0.4" stroke="none"/>
<path d="M287.5,211.6 L287.7,210.2 L288.1,208.4 L288.6,206.1 L289.1,203.8 L289.6,201.5 L290.1,199.4 L290.6,197.6 L291.1,195.7 L291.6,193.9 L292.1,192.3 L292.6,190.7 L293.1,189.3 L293.6,188.0 L294.1,186.9 L294.6,185.9 L295.1,185.1 L295.6,184.3 L296.2,183.6 L296.3,183.0 L295.7,182.6 L295.2,182.3 L295.4,182.1 L296.9,181.8 L300.2,181.6 L306.6,181.3 L315.5,181.0 L325.8,180.7 L336.0,180.5 L344.8,180.3 L350.8,180.2" fill="none" stroke="#7CAE00" stroke-dasharray="3.3 3.1" stroke-width="1.7"/>
<path d="M287.5,256.5 L288.0,255.4 L288.6,253.8 L289.3,251.9 L290.2,249.7 L291.0,247.4 L291.9,245.0 L292.8,242.4 L293.8,239.6 L294.8,236.6 L295.8,233.6 L296.8,230.6 L297.8,227.9 L298.8,225.4 L299.7,223.1 L300.7,220.8 L301.7,218.6 L302.6,216.4 L303.5,214.3 L304.4,212.1 L305.2,209.9 L306.0,207.8 L306.8,205.7 L307.6,203.8 L308.4,202.0 L309.2,200.4 L310.1,198.9 L310.9,197.6 L311.7,196.3 L312.6,195.1 L313.4,193.9 L314.2,192.7 L315.1,191.6 L315.9,190.6 L316.8,189.6 L317.6,188.7 L318.5,187.8 L319.3,187.0 L320.1,186.2 L320.9,185.5 L321.7,184.9 L322.6,184.3 L323.6,183.7 L324.6,183.2 L325.7,182.7 L326.8,182.3 L328.1,181.9 L329.7,181.6 L331.7,181.3 L334.5,181.0 L338.0,180.7 L341.8,180.3 L345.5,179.7 L348.7,179.0 L350.9,178.2 L350.9,185.0 L348.7,184.5 L345.5,184.0 L341.8,183.8 L338.0,183.8 L334.5,184.0 L331.7,184.3 L329.7,184.6 L328.1,184.9 L326.8,185.3 L325.7,185.7 L324.6,186.2 L323.6,186.7 L322.6,187.3 L321.7,187.9 L320.9,188.5 L320.1,189.2 L319.3,190.0 L318.5,190.8 L317.6,191.7 L316.8,192.6 L315.9,193.6 L315.1,194.6 L314.2,195.7 L313.4,196.9 L312.6,198.1 L311.7,199.3 L310.9,200.6 L310.1,201.9 L309.2,203.4 L308.4,205.0 L307.6,206.8 L306.8,208.7 L306.0,210.8 L305.2,212.9 L304.4,215.1 L303.5,217.3 L302.6,219.5 L301.7,221.7 L300.7,223.9 L299.7,226.3 L298.8,228.7 L297.8,231.3 L296.8,234.1 L295.8,237.2 L294.8,240.4 L293.8,243.6 L292.8,246.7 L291.9,249.6 L291.0,252.3 L290.2,255.0 L289.3,257.6 L288.6,260.0 L288.0,262.0 L287.5,263.5Z" fill="#999999" fill-opacity="0.4" stroke="none"/>
<path d="M287.5,260.0 L288.0,258.7 L288.6,256.9 L289.3,254.8 L290.2,252.4 L291.0,249.9 L291.9,247.3 L292.8,244.6 L293.8,241.6 L294.8,238.5 L295.8,235.4 L296.8,232.4 L297.8,229.6 L298.8,227.1 L299.7,224.7 L300.7,222.4 L301.7,220.1 L302.6,218.0 L303.5,215.8 L304.4,213.6 L305.2,211.4 L306.0,209.3 L306.8,207.2 L307.6,205.3 L308.4,203.5 L309.2,201.9 L310.1,200.4 L310.9,199.1 L311.7,197.8 L312.6,196.6 L313.4,195.4 L314.2,194.2 L315.1,193.1 L315.9,192.1 L316.8,191.1 L317.6,190.2 L318.5,189.3 L319.3,188.5 L320.1,187.7 L320.9,187.0 L321.7,186.4 L322.6,185.8 L323.6,185.2 L324.6,184.7 L325.7,184.2 L326.8,183.8 L328.1,183.4 L329.7,183.1 L331.7,182.8 L334.5,182.5 L338.0,182.3 L341.8,182.1 L345.5,181.9 L348.7,181.7 L350.9,181.6" fill="none" stroke="#00BFC4"/>
<path d="M287.7,238.0 L287.9,236.7 L288.2,234.9 L288.6,232.8 L289.1,230.6 L289.5,228.5 L289.9,226.9 L290.3,225.7 L290.7,225.0 L291.0,224.4 L291.4,223.7 L291.8,222.8 L292.1,221.5 L292.5,219.6 L292.8,217.4 L293.1,214.9 L293.4,212.4 L293.8,209.9 L294.2,207.6 L294.6,205.5 L295.1,203.4 L295.5,201.3 L296.1,199.4 L296.6,197.5 L297.2,195.7 L297.8,194.0 L298.5,192.3 L299.2,190.8 L299.9,189.3 L300.6,187.9 L301.3,186.7 L301.9,185.6 L302.5,184.6 L303.2,183.7 L303.8,183.0 L304.5,182.3 L305.3,181.7 L305.8,181.2 L306.0,180.9 L306.1,180.6 L306.8,180.4 L308.4,180.3 L311.4,180.1 L316.5,179.9 L323.5,179.7 L331.5,179.6 L339.4,179.3 L346.2,178.6 L350.8,177.4 L350.8,184.2 L346.2,183.1 L339.4,182.6 L331.5,182.6 L323.5,182.7 L316.5,182.9 L311.4,183.1 L308.4,183.3 L306.8,183.4 L306.1,183.6 L306.0,183.9 L305.8,184.2 L305.3,184.7 L304.5,185.3 L303.8,186.0 L303.2,186.8 L302.5,187.7 L301.9,188.7 L301.3,189.8 L300.6,191.1 L299.9,192.5 L299.2,194.0 L298.5,195.6 L297.8,197.3 L297.2,199.1 L296.6,201.0 L296.1,202.9 L295.5,205.0 L295.1,207.1 L294.6,209.3 L294.2,211.5 L293.8,213.9 L293.4,216.5 L293.1,219.2 L292.8,221.7 L292.5,224.1 L292.1,226.0 L291.8,227.5 L291.4,228.5 L291.0,229.3 L290.7,230.1 L290.3,231.0 L289.9,232.3 L289.5,234.2 L289.1,236.5 L288.6,238.9 L288.2,241.3 L287.9,243.4 L287.7,244.8Z" fill="#999999" fill-opacity="0.4" stroke="none"/>
<path d="M287.7,241.4 L287.9,240.0 L288.2,238.1 L288.6,235.9 L289.1,233.5 L289.5,231.4 L289.9,229.6 L290.3,228.4 L290.7,227.5 L291.0,226.8 L291.4,226.1 L291.8,225.1 L292.1,223.8 L292.5,221.9 L292.8,219.6 L293.1,217.1 L293.4,214.5 L293.8,211.9 L294.2,209.6 L294.6,207.4 L295.1,205.2 L295.5,203.2 L296.1,201.2 L296.6,199.2 L297.2,197.4 L297.8,195.7 L298.5,194.0 L299.2,192.4 L299.9,190.9 L300.6,189.5 L301.3,188.3 L301.9,187.1 L302.5,186.1 L303.2,185.3 L303.8,184.5 L304.5,183.8 L305.3,183.2 L305.8,182.7 L306.0,182.4 L306.1,182.1 L306.8,181.9 L308.4,181.8 L311.4,181.6 L316.5,181.4 L323.5,181.2 L331.5,181.1 L339.4,180.9 L346.2,180.8 L350.8,180.8" fill="none" stroke="#00BFC4" stroke-dasharray="3.3 3.1" stroke-width="1.7"/>
<path d="M287.7,222.1 L288.0,220.7 L288.5,218.8 L289.0,216.5 L289.6,214.1 L290.2,211.7 L290.8,209.7 L291.3,207.9 L291.9,206.1 L292.4,204.5 L293.0,202.9 L293.5,201.4 L294.1,200.0 L294.7,198.7 L295.2,197.6 L295.8,196.5 L296.4,195.5 L296.9,194.5 L297.5,193.6 L298.0,192.8 L298.6,192.0 L299.1,191.4 L299.6,190.7 L300.2,190.1 L300.9,189.4 L301.7,188.7 L302.5,188.0 L303.3,187.3 L304.2,186.5 L305.1,185.9 L306.0,185.3 L306.8,184.8 L307.6,184.3 L308.4,183.9 L309.2,183.5 L310.1,183.1 L311.0,182.8 L312.0,182.5 L313.0,182.1 L314.1,181.8 L315.2,181.6 L316.5,181.3 L318.0,181.1 L319.6,180.9 L321.3,180.7 L323.1,180.6 L325.2,180.5 L327.4,180.4 L330.0,180.3 L333.2,180.2 L337.1,180.1 L341.2,179.9 L345.2,179.5 L348.5,178.8 L350.9,178.1 L350.9,184.9 L348.5,184.2 L345.2,183.6 L341.2,183.3 L337.1,183.2 L333.2,183.2 L330.0,183.3 L327.4,183.4 L325.2,183.5 L323.1,183.6 L321.3,183.7 L319.6,183.9 L318.0,184.1 L316.5,184.3 L315.2,184.6 L314.1,184.8 L313.0,185.1 L312.0,185.5 L311.0,185.8 L310.1,186.2 L309.2,186.5 L308.4,186.9 L307.6,187.3 L306.8,187.8 L306.0,188.3 L305.1,188.9 L304.2,189.6 L303.3,190.3 L302.5,191.1 L301.7,191.8 L300.9,192.6 L300.2,193.3 L299.6,193.9 L299.1,194.6 L298.6,195.3 L298.0,196.1 L297.5,197.0 L296.9,198.0 L296.4,199.0 L295.8,200.1 L295.2,201.3 L294.7,202.6 L294.1,204.0 L293.5,205.5 L293.0,207.2 L292.4,208.9 L291.9,210.7 L291.3,212.7 L290.8,214.7 L290.2,217.0 L289.6,219.7 L289.0,222.4 L288.5,225.1 L288.0,227.3 L287.7,228.9Z" fill="#999999" fill-opacity="0.4" stroke="none"/>
<path d="M287.7,225.5 L288.0,224.0 L288.5,221.9 L289.0,219.5 L289.6,216.9 L290.2,214.4 L290.8,212.2 L291.3,210.3 L291.9,208.4 L292.4,206.7 L293.0,205.0 L293.5,203.5 L294.1,202.0 L294.7,200.7 L295.2,199.4 L295.8,198.3 L296.4,197.2 L296.9,196.2 L297.5,195.3 L298.0,194.4 L298.6,193.7 L299.1,193.0 L299.6,192.3 L300.2,191.7 L300.9,191.0 L301.7,190.3 L302.5,189.5 L303.3,188.8 L304.2,188.1 L305.1,187.4 L306.0,186.8 L306.8,186.3 L307.6,185.8 L308.4,185.4 L309.2,185.0 L310.1,184.7 L311.0,184.3 L312.0,184.0 L313.0,183.6 L314.1,183.3 L315.2,183.1 L316.5,182.8 L318.0,182.6 L319.6,182.4 L321.3,182.2 L323.1,182.1 L325.2,182.0 L327.4,181.9 L330.0,181.8 L333.2,181.7 L337.1,181.7 L341.2,181.6 L345.2,181.6 L348.5,181.5 L350.9,181.5" fill="none" stroke="#C77CFF"/>
<path d="M287.7,200.1 L287.9,199.4 L288.1,198.5 L288.5,197.4 L288.8,196.3 L289.2,195.2 L289.5,194.2 L289.8,193.3 L290.2,192.5 L290.5,191.7 L290.8,191.0 L291.2,190.3 L291.5,189.6 L291.8,189.0 L292.0,188.5 L292.3,188.0 L292.5,187.5 L292.9,187.0 L293.3,186.4 L293.9,185.8 L294.5,185.1 L295.2,184.5 L295.9,183.8 L296.7,183.2 L297.5,182.6 L298.3,182.1 L299.0,181.7 L299.8,181.3 L300.7,180.9 L301.6,180.6 L302.6,180.4 L303.3,180.1 L303.7,179.9 L304.1,179.8 L305.0,179.7 L306.8,179.6 L310.0,179.5 L315.4,179.4 L322.7,179.4 L330.9,179.4 L339.1,179.3 L346.1,178.7 L350.9,177.5 L350.9,184.3 L346.1,183.1 L339.1,182.5 L330.9,182.4 L322.7,182.4 L315.4,182.4 L310.0,182.5 L306.8,182.6 L305.0,182.7 L304.1,182.8 L303.7,183.0 L303.3,183.2 L302.6,183.4 L301.6,183.8 L300.7,184.1 L299.8,184.5 L299.0,184.9 L298.3,185.4 L297.5,186.0 L296.7,186.7 L295.9,187.4 L295.2,188.2 L294.5,189.0 L293.9,189.8 L293.3,190.6 L292.9,191.3 L292.5,191.9 L292.3,192.4 L292.0,193.0 L291.8,193.7 L291.5,194.4 L291.2,195.2 L290.8,196.0 L290.5,196.9 L290.2,197.8 L289.8,198.8 L289.5,199.8 L289.2,201.0 L288.8,202.3 L288.5,203.7 L288.1,205.0 L287.9,206.1 L287.7,206.9Z" fill="#999999" fill-opacity="0.4" stroke="none"/>
<path d="M287.7,203.5 L287.9,202.8 L288.1,201.8 L288.5,200.6 L288.8,199.3 L289.2,198.1 L289.5,197.0 L289.8,196.1 L290.2,195.2 L290.5,194.3 L290.8,193.5 L291.2,192.7 L291.5,192.0 L291.8,191.3 L292.0,190.7 L292.3,190.2 L292.5,189.7 L292.9,189.1 L293.3,188.5 L293.9,187.8 L294.5,187.1 L295.2,186.3 L295.9,185.6 L296.7,184.9 L297.5,184.3 L298.3,183.8 L299.0,183.3 L299.8,182.9 L300.7,182.5 L301.6,182.2 L302.6,181.9 L303.3,181.7 L303.7,181.5 L304.1,181.3 L305.0,181.2 L306.8,181.1 L310.0,181.0 L315.4,180.9 L322.7,180.9 L330.9,180.9 L339.1,180.9 L346.1,180.9 L350.9,180.9" fill="none" stroke="#C77CFF" stroke-dasharray="3.3 3.1" stroke-width="1.7"/>
</g>
<g clip-path="url(#cp40)" stroke-width="2.1" stroke-linecap="butt" stroke-linejoin="round">
<path d="M361.2,134.9 L361.7,134.5 L362.4,133.8 L363.2,133.1 L364.1,132.1 L364.9,131.1 L365.7,130.1 L366.4,128.9 L367.0,127.7 L367.6,126.4 L368.1,125.0 L368.7,123.5 L369.3,122.0 L369.9,120.3 L370.5,118.5 L371.1,116.6 L371.6,114.7 L372.2,112.8 L372.8,110.9 L373.4,109.0 L374.0,107.1 L374.6,105.2 L375.1,103.4 L375.7,101.5 L376.3,99.8 L376.9,98.0 L377.5,96.3 L378.1,94.7 L378.7,93.1 L379.3,91.5 L379.8,89.9 L380.3,88.4 L380.7,86.9 L381.1,85.4 L381.5,84.0 L382.0,82.5 L382.5,81.0 L383.1,79.4 L383.7,77.9 L384.3,76.3 L385.0,74.7 L385.7,73.0 L386.4,71.2 L387.2,69.3 L388.0,67.2 L388.9,65.1 L389.8,63.0 L390.6,60.9 L391.5,59.0 L392.4,57.2 L393.2,55.4 L394.1,53.7 L394.9,52.0 L395.8,50.4 L396.6,48.9 L397.4,47.5 L398.3,46.1 L399.1,44.7 L399.9,43.5 L400.8,42.3 L401.6,41.3 L402.4,40.4 L403.3,39.5 L404.1,38.8 L405.0,38.1 L405.8,37.5 L406.7,37.0 L407.5,36.5 L408.1,36.1 L408.8,35.8 L409.5,35.5 L410.5,35.1 L411.8,34.8 L413.6,34.4 L415.9,33.9 L418.4,33.3 L420.8,32.6 L422.9,31.9 L424.3,31.2 L424.3,38.0 L422.9,37.7 L420.8,37.5 L418.4,37.4 L415.9,37.5 L413.6,37.7 L411.8,38.0 L410.5,38.3 L409.5,38.5 L408.8,38.8 L408.1,39.2 L407.5,39.5 L406.7,40.0 L405.8,40.6 L405.0,41.2 L404.1,41.8 L403.3,42.5 L402.4,43.4 L401.6,44.3 L400.8,45.3 L399.9,46.5 L399.1,47.7 L398.3,49.1 L397.4,50.5 L396.6,51.9 L395.8,53.4 L394.9,55.0 L394.1,56.7 L393.2,58.4 L392.4,60.2 L391.5,62.0 L390.6,63.9 L389.8,66.0 L388.9,68.1 L388.0,70.2 L387.2,72.3 L386.4,74.2 L385.7,76.0 L385.0,77.7 L384.3,79.3 L383.7,80.9 L383.1,82.4 L382.5,84.0 L382.0,85.5 L381.5,87.0 L381.1,88.4 L380.7,89.9 L380.3,91.4 L379.8,92.9 L379.3,94.5 L378.7,96.1 L378.1,97.7 L377.5,99.4 L376.9,101.1 L376.3,102.8 L375.7,104.6 L375.1,106.5 L374.6,108.4 L374.0,110.3 L373.4,112.2 L372.8,114.1 L372.2,116.1 L371.6,118.0 L371.1,120.0 L370.5,122.0 L369.9,123.9 L369.3,125.6 L368.7,127.3 L368.1,128.9 L367.6,130.4 L367.0,131.8 L366.4,133.2 L365.7,134.5 L364.9,135.9 L364.1,137.3 L363.2,138.6 L362.4,139.8 L361.7,140.9 L361.2,141.7Z" fill="#999999" fill-opacity="0.4" stroke="none"/>
<path d="M361.2,138.3 L361.7,137.7 L362.4,136.8 L363.2,135.8 L364.1,134.7 L364.9,133.5 L365.7,132.3 L366.4,131.1 L367.0,129.8 L367.6,128.4 L368.1,126.9 L368.7,125.4 L369.3,123.8 L369.9,122.1 L370.5,120.2 L371.1,118.3 L371.6,116.4 L372.2,114.4 L372.8,112.5 L373.4,110.6 L374.0,108.7 L374.6,106.8 L375.1,104.9 L375.7,103.1 L376.3,101.3 L376.9,99.6 L377.5,97.9 L378.1,96.2 L378.7,94.6 L379.3,93.0 L379.8,91.4 L380.3,89.9 L380.7,88.4 L381.1,86.9 L381.5,85.5 L382.0,84.0 L382.5,82.5 L383.1,80.9 L383.7,79.4 L384.3,77.8 L385.0,76.2 L385.7,74.5 L386.4,72.7 L387.2,70.8 L388.0,68.7 L388.9,66.6 L389.8,64.5 L390.6,62.4 L391.5,60.5 L392.4,58.7 L393.2,56.9 L394.1,55.2 L394.9,53.5 L395.8,51.9 L396.6,50.4 L397.4,49.0 L398.3,47.6 L399.1,46.2 L399.9,45.0 L400.8,43.8 L401.6,42.8 L402.4,41.9 L403.3,41.0 L404.1,40.3 L405.0,39.6 L405.8,39.1 L406.7,38.5 L407.5,38.0 L408.1,37.6 L408.8,37.3 L409.5,37.0 L410.5,36.7 L411.8,36.4 L413.6,36.1 L415.9,35.7 L418.4,35.4 L420.8,35.1 L422.9,34.8 L424.3,34.6" fill="none" stroke="#F8766D"/>
<path d="M361.2,139.3 L361.5,138.8 L361.9,138.1 L362.4,137.3 L362.9,136.4 L363.5,135.4 L364.0,134.4 L364.5,133.5 L365.0,132.5 L365.5,131.4 L366.0,130.3 L366.5,129.2 L367.0,127.9 L367.5,126.6 L368.0,125.3 L368.5,123.8 L369.0,122.3 L369.5,120.8 L370.0,119.2 L370.5,117.6 L371.0,115.9 L371.5,114.2 L372.0,112.4 L372.5,110.6 L373.0,108.9 L373.5,107.1 L374.0,105.4 L374.5,103.6 L375.0,101.9 L375.5,100.1 L376.0,98.5 L376.5,96.8 L377.0,95.2 L377.5,93.7 L378.0,92.1 L378.5,90.6 L379.0,89.0 L379.5,87.4 L380.0,85.7 L380.5,84.0 L381.0,82.4 L381.5,80.9 L382.0,79.5 L382.4,78.3 L382.7,77.4 L383.1,76.5 L383.4,75.6 L383.8,74.6 L384.4,73.2 L385.1,71.5 L385.9,69.5 L386.8,67.3 L387.7,65.0 L388.6,62.9 L389.5,61.1 L390.2,59.5 L390.9,58.1 L391.5,56.8 L392.2,55.5 L392.8,54.3 L393.5,53.0 L394.2,51.6 L394.8,50.2 L395.5,48.8 L396.1,47.4 L396.8,46.1 L397.6,44.8 L398.3,43.7 L399.2,42.5 L400.0,41.5 L400.9,40.5 L401.8,39.6 L402.6,38.8 L403.3,38.1 L403.9,37.5 L404.4,37.0 L405.2,36.6 L406.2,36.1 L407.7,35.7 L410.0,35.2 L413.0,34.6 L416.3,33.9 L419.6,33.0 L422.4,32.1 L424.3,31.2 L424.3,38.0 L422.4,37.7 L419.6,37.5 L416.3,37.5 L413.0,37.8 L410.0,38.3 L407.7,38.7 L406.2,39.2 L405.2,39.6 L404.4,40.0 L403.9,40.5 L403.3,41.1 L402.6,41.8 L401.8,42.6 L400.9,43.5 L400.0,44.5 L399.2,45.5 L398.3,46.7 L397.6,47.8 L396.8,49.1 L396.1,50.4 L395.5,51.8 L394.8,53.2 L394.2,54.6 L393.5,56.0 L392.8,57.3 L392.2,58.5 L391.5,59.8 L390.9,61.1 L390.2,62.5 L389.5,64.1 L388.6,65.9 L387.7,68.0 L386.8,70.3 L385.9,72.5 L385.1,74.5 L384.4,76.2 L383.8,77.6 L383.4,78.6 L383.1,79.5 L382.7,80.4 L382.4,81.3 L382.0,82.5 L381.5,83.9 L381.0,85.4 L380.5,87.1 L380.0,88.7 L379.5,90.4 L379.0,92.0 L378.5,93.6 L378.0,95.1 L377.5,96.7 L377.0,98.3 L376.5,99.9 L376.0,101.5 L375.5,103.2 L375.0,105.0 L374.5,106.8 L374.0,108.5 L373.5,110.3 L373.0,112.1 L372.5,113.9 L372.0,115.7 L371.5,117.5 L371.0,119.3 L370.5,121.1 L370.0,122.8 L369.5,124.4 L369.0,126.0 L368.5,127.6 L368.0,129.1 L367.5,130.6 L367.0,132.1 L366.5,133.4 L366.0,134.7 L365.5,136.0 L365.0,137.2 L364.5,138.4 L364.0,139.6 L363.5,140.8 L362.9,142.0 L362.4,143.3 L361.9,144.4 L361.5,145.4 L361.2,146.1Z" fill="#999999" fill-opacity="0.4" stroke="none"/>
<path d="M361.2,142.7 L361.5,142.1 L361.9,141.3 L362.4,140.3 L362.9,139.2 L363.5,138.1 L364.0,137.0 L364.5,135.9 L365.0,134.8 L365.5,133.7 L366.0,132.5 L366.5,131.3 L367.0,130.0 L367.5,128.6 L368.0,127.2 L368.5,125.7 L369.0,124.2 L369.5,122.6 L370.0,121.0 L370.5,119.3 L371.0,117.6 L371.5,115.8 L372.0,114.1 L372.5,112.3 L373.0,110.5 L373.5,108.7 L374.0,107.0 L374.5,105.2 L375.0,103.4 L375.5,101.7 L376.0,100.0 L376.5,98.4 L377.0,96.8 L377.5,95.2 L378.0,93.6 L378.5,92.1 L379.0,90.5 L379.5,88.9 L380.0,87.2 L380.5,85.5 L381.0,83.9 L381.5,82.4 L382.0,81.0 L382.4,79.8 L382.7,78.9 L383.1,78.0 L383.4,77.1 L383.8,76.1 L384.4,74.7 L385.1,73.0 L385.9,71.0 L386.8,68.8 L387.7,66.5 L388.6,64.4 L389.5,62.6 L390.2,61.0 L390.9,59.6 L391.5,58.3 L392.2,57.0 L392.8,55.8 L393.5,54.5 L394.2,53.1 L394.8,51.7 L395.5,50.3 L396.1,48.9 L396.8,47.6 L397.6,46.3 L398.3,45.2 L399.2,44.0 L400.0,43.0 L400.9,42.0 L401.8,41.1 L402.6,40.3 L403.3,39.6 L403.9,39.0 L404.4,38.5 L405.2,38.1 L406.2,37.7 L407.7,37.2 L410.0,36.7 L413.0,36.2 L416.3,35.7 L419.6,35.2 L422.4,34.9 L424.3,34.6" fill="none" stroke="#F8766D" stroke-dasharray="3.3 3.1" stroke-width="1.7"/>
<path d="M361.2,128.1 L361.6,127.7 L362.2,127.3 L362.9,126.6 L363.6,125.9 L364.4,125.1 L365.0,124.2 L365.5,123.3 L366.0,122.3 L366.5,121.3 L367.0,120.2 L367.4,119.0 L367.9,117.6 L368.4,116.2 L368.8,114.7 L369.3,113.0 L369.8,111.3 L370.2,109.6 L370.7,108.0 L371.2,106.4 L371.6,104.7 L372.1,103.1 L372.6,101.4 L373.0,99.8 L373.5,98.3 L374.0,96.9 L374.4,95.5 L374.9,94.2 L375.3,92.8 L375.8,91.4 L376.3,89.9 L376.8,88.1 L377.4,86.2 L377.9,84.3 L378.5,82.4 L379.0,80.6 L379.5,79.0 L380.0,77.7 L380.4,76.6 L380.8,75.7 L381.3,74.8 L381.7,73.8 L382.1,72.7 L382.5,71.5 L382.9,70.2 L383.3,68.8 L383.7,67.4 L384.1,66.0 L384.6,64.5 L385.2,62.9 L385.8,61.2 L386.5,59.5 L387.1,57.8 L387.9,56.1 L388.6,54.5 L389.4,53.0 L390.2,51.4 L391.0,49.9 L391.9,48.5 L392.7,47.2 L393.5,46.0 L394.3,44.9 L395.0,44.0 L395.7,43.1 L396.4,42.3 L397.2,41.5 L398.0,40.8 L398.8,40.1 L399.7,39.4 L400.6,38.8 L401.6,38.2 L402.5,37.6 L403.5,37.1 L404.4,36.7 L405.3,36.3 L406.2,35.9 L407.2,35.6 L408.5,35.3 L410.0,34.9 L412.1,34.5 L414.7,34.1 L417.6,33.5 L420.3,32.7 L422.7,31.9 L424.3,31.2 L424.3,38.0 L422.7,37.7 L420.3,37.4 L417.6,37.4 L414.7,37.5 L412.1,37.8 L410.0,38.1 L408.5,38.3 L407.2,38.6 L406.2,38.9 L405.3,39.3 L404.4,39.7 L403.5,40.1 L402.5,40.6 L401.6,41.2 L400.6,41.8 L399.7,42.4 L398.8,43.1 L398.0,43.8 L397.2,44.5 L396.4,45.3 L395.7,46.1 L395.0,47.0 L394.3,47.9 L393.5,49.0 L392.7,50.2 L391.9,51.5 L391.0,53.0 L390.2,54.4 L389.4,56.0 L388.6,57.5 L387.9,59.1 L387.1,60.8 L386.5,62.5 L385.8,64.2 L385.2,65.9 L384.6,67.5 L384.1,69.0 L383.7,70.4 L383.3,71.8 L382.9,73.2 L382.5,74.5 L382.1,75.7 L381.7,76.8 L381.3,77.8 L380.8,78.7 L380.4,79.6 L380.0,80.7 L379.5,82.0 L379.0,83.6 L378.5,85.4 L377.9,87.3 L377.4,89.3 L376.8,91.2 L376.3,92.9 L375.8,94.5 L375.3,95.9 L374.9,97.3 L374.4,98.6 L374.0,100.0 L373.5,101.5 L373.0,103.1 L372.6,104.7 L372.1,106.4 L371.6,108.0 L371.2,109.7 L370.7,111.4 L370.2,113.1 L369.8,114.9 L369.3,116.6 L368.8,118.4 L368.4,120.0 L367.9,121.6 L367.4,123.0 L367.0,124.3 L366.5,125.5 L366.0,126.7 L365.5,127.9 L365.0,129.0 L364.4,130.1 L363.6,131.2 L362.9,132.3 L362.2,133.4 L361.6,134.2 L361.2,134.9Z" fill="#999999" fill-opacity="0.4" stroke="none"/>
<path d="M361.2,131.5 L361.6,131.0 L362.2,130.3 L362.9,129.5 L363.6,128.6 L364.4,127.6 L365.0,126.6 L365.5,125.6 L366.0,124.5 L366.5,123.4 L367.0,122.2 L367.4,121.0 L367.9,119.6 L368.4,118.1 L368.8,116.5 L369.3,114.8 L369.8,113.1 L370.2,111.4 L370.7,109.7 L371.2,108.0 L371.6,106.4 L372.1,104.7 L372.6,103.1 L373.0,101.5 L373.5,99.9 L374.0,98.4 L374.4,97.1 L374.9,95.7 L375.3,94.4 L375.8,92.9 L376.3,91.4 L376.8,89.7 L377.4,87.8 L377.9,85.8 L378.5,83.9 L379.0,82.1 L379.5,80.5 L380.0,79.2 L380.4,78.1 L380.8,77.2 L381.3,76.3 L381.7,75.3 L382.1,74.2 L382.5,73.0 L382.9,71.7 L383.3,70.3 L383.7,68.9 L384.1,67.5 L384.6,66.0 L385.2,64.4 L385.8,62.7 L386.5,61.0 L387.1,59.3 L387.9,57.6 L388.6,56.0 L389.4,54.5 L390.2,52.9 L391.0,51.4 L391.9,50.0 L392.7,48.7 L393.5,47.5 L394.3,46.4 L395.0,45.5 L395.7,44.6 L396.4,43.8 L397.2,43.0 L398.0,42.3 L398.8,41.6 L399.7,40.9 L400.6,40.3 L401.6,39.7 L402.5,39.1 L403.5,38.6 L404.4,38.2 L405.3,37.8 L406.2,37.4 L407.2,37.1 L408.5,36.8 L410.0,36.5 L412.1,36.1 L414.7,35.8 L417.6,35.4 L420.3,35.1 L422.7,34.8 L424.3,34.6" fill="none" stroke="#7CAE00"/>
<path d="M361.2,125.1 L361.3,124.0 L361.5,122.5 L361.7,120.7 L362.0,118.8 L362.3,116.8 L362.6,115.0 L362.9,113.2 L363.2,111.5 L363.6,109.7 L364.0,107.9 L364.3,106.1 L364.7,104.2 L365.1,102.2 L365.4,100.1 L365.8,98.0 L366.2,95.9 L366.5,93.8 L366.9,91.8 L367.3,89.9 L367.6,87.9 L368.0,86.0 L368.3,84.2 L368.7,82.5 L369.0,80.9 L369.3,79.4 L369.6,78.1 L369.8,76.9 L370.1,75.8 L370.3,74.6 L370.6,73.3 L370.9,71.9 L371.2,70.4 L371.5,68.9 L371.8,67.3 L372.2,65.8 L372.5,64.4 L372.8,62.9 L373.2,61.5 L373.5,60.1 L373.8,58.7 L374.2,57.4 L374.6,56.0 L375.0,54.7 L375.5,53.3 L376.0,51.9 L376.4,50.6 L376.9,49.4 L377.4,48.3 L377.8,47.3 L378.3,46.4 L378.7,45.7 L379.1,44.9 L379.6,44.2 L380.2,43.4 L380.9,42.6 L381.6,41.7 L382.3,40.8 L383.2,40.0 L384.0,39.2 L385.0,38.5 L386.0,37.9 L387.1,37.3 L388.3,36.8 L389.5,36.3 L390.8,35.9 L392.0,35.5 L393.1,35.2 L394.0,34.9 L394.9,34.6 L396.1,34.4 L397.7,34.2 L400.0,34.0 L403.4,33.8 L407.8,33.5 L412.7,33.2 L417.4,32.7 L421.5,31.9 L424.3,31.0 L424.3,37.8 L421.5,37.1 L417.4,36.6 L412.7,36.5 L407.8,36.6 L403.4,36.8 L400.0,37.0 L397.7,37.2 L396.1,37.4 L394.9,37.6 L394.0,37.9 L393.1,38.2 L392.0,38.5 L390.8,38.9 L389.5,39.3 L388.3,39.8 L387.1,40.3 L386.0,40.9 L385.0,41.5 L384.0,42.2 L383.2,43.0 L382.3,43.8 L381.6,44.7 L380.9,45.6 L380.2,46.4 L379.6,47.2 L379.1,47.9 L378.7,48.7 L378.3,49.5 L377.8,50.3 L377.4,51.3 L376.9,52.5 L376.4,53.7 L376.0,55.0 L375.5,56.4 L375.0,57.8 L374.6,59.2 L374.2,60.5 L373.8,61.9 L373.5,63.3 L373.2,64.7 L372.8,66.2 L372.5,67.6 L372.2,69.1 L371.8,70.7 L371.5,72.2 L371.2,73.8 L370.9,75.3 L370.6,76.7 L370.3,78.1 L370.1,79.3 L369.8,80.5 L369.6,81.7 L369.3,83.0 L369.0,84.5 L368.7,86.2 L368.3,88.0 L368.0,89.9 L367.6,91.9 L367.3,93.9 L366.9,96.0 L366.5,98.1 L366.2,100.2 L365.8,102.5 L365.4,104.7 L365.1,106.9 L364.7,109.0 L364.3,111.1 L364.0,113.1 L363.6,115.1 L363.2,117.0 L362.9,118.9 L362.6,120.8 L362.3,122.9 L362.0,125.0 L361.7,127.1 L361.5,129.1 L361.3,130.7 L361.2,131.9Z" fill="#999999" fill-opacity="0.4" stroke="none"/>
<path d="M361.2,128.5 L361.3,127.4 L361.5,125.8 L361.7,123.9 L362.0,121.9 L362.3,119.8 L362.6,117.9 L362.9,116.1 L363.2,114.2 L363.6,112.4 L364.0,110.5 L364.3,108.6 L364.7,106.6 L365.1,104.5 L365.4,102.4 L365.8,100.2 L366.2,98.1 L366.5,95.9 L366.9,93.9 L367.3,91.9 L367.6,89.9 L368.0,88.0 L368.3,86.1 L368.7,84.3 L369.0,82.7 L369.3,81.2 L369.6,79.9 L369.8,78.7 L370.1,77.5 L370.3,76.3 L370.6,75.0 L370.9,73.6 L371.2,72.1 L371.5,70.5 L371.8,69.0 L372.2,67.5 L372.5,66.0 L372.8,64.6 L373.2,63.1 L373.5,61.7 L373.8,60.3 L374.2,59.0 L374.6,57.6 L375.0,56.2 L375.5,54.8 L376.0,53.5 L376.4,52.2 L376.9,50.9 L377.4,49.8 L377.8,48.8 L378.3,48.0 L378.7,47.2 L379.1,46.4 L379.6,45.7 L380.2,44.9 L380.9,44.1 L381.6,43.2 L382.3,42.3 L383.2,41.5 L384.0,40.7 L385.0,40.0 L386.0,39.4 L387.1,38.8 L388.3,38.3 L389.5,37.8 L390.8,37.4 L392.0,37.0 L393.1,36.7 L394.0,36.4 L394.9,36.1 L396.1,35.9 L397.7,35.7 L400.0,35.5 L403.4,35.3 L407.8,35.1 L412.7,34.9 L417.4,34.7 L421.5,34.5 L424.3,34.4" fill="none" stroke="#7CAE00" stroke-dasharray="3.3 3.1" stroke-width="1.7"/>
<path d="M361.2,114.1 L361.4,113.2 L361.8,111.9 L362.2,110.4 L362.7,108.7 L363.2,107.1 L363.6,105.6 L364.0,104.3 L364.3,102.9 L364.7,101.6 L365.0,100.3 L365.3,99.0 L365.7,97.7 L366.1,96.3 L366.4,94.9 L366.8,93.5 L367.2,92.1 L367.5,90.8 L367.9,89.4 L368.2,88.2 L368.6,87.0 L368.9,85.8 L369.2,84.6 L369.5,83.4 L369.9,82.2 L370.3,81.0 L370.6,79.8 L371.0,78.6 L371.4,77.4 L371.8,76.1 L372.3,74.9 L372.8,73.6 L373.3,72.3 L373.8,71.0 L374.4,69.7 L375.0,68.4 L375.5,66.9 L376.0,65.4 L376.6,63.8 L377.1,62.2 L377.7,60.6 L378.2,59.0 L378.8,57.5 L379.3,56.1 L379.8,54.8 L380.4,53.5 L380.9,52.2 L381.5,51.1 L382.1,50.0 L382.8,49.0 L383.6,48.1 L384.4,47.2 L385.2,46.5 L386.1,45.7 L387.0,45.0 L388.0,44.3 L389.1,43.7 L390.2,43.1 L391.3,42.6 L392.4,42.1 L393.5,41.5 L394.5,40.9 L395.5,40.3 L396.4,39.8 L397.4,39.2 L398.5,38.6 L399.6,38.1 L400.7,37.5 L401.8,37.0 L403.0,36.4 L404.3,35.9 L405.8,35.4 L407.7,35.0 L410.2,34.6 L413.2,34.1 L416.5,33.6 L419.7,33.0 L422.4,32.2 L424.3,31.4 L424.3,38.2 L422.4,37.8 L419.7,37.4 L416.5,37.3 L413.2,37.4 L410.2,37.7 L407.7,38.0 L405.8,38.4 L404.3,38.9 L403.0,39.4 L401.8,40.0 L400.7,40.6 L399.6,41.1 L398.5,41.6 L397.4,42.2 L396.4,42.8 L395.5,43.3 L394.5,43.9 L393.5,44.5 L392.4,45.1 L391.3,45.6 L390.2,46.2 L389.1,46.7 L388.0,47.3 L387.0,48.0 L386.1,48.7 L385.2,49.5 L384.4,50.3 L383.6,51.1 L382.8,52.0 L382.1,53.0 L381.5,54.1 L380.9,55.2 L380.4,56.5 L379.8,57.8 L379.3,59.1 L378.8,60.5 L378.2,62.0 L377.7,63.6 L377.1,65.2 L376.6,66.9 L376.0,68.5 L375.5,70.1 L375.0,71.5 L374.4,72.9 L373.8,74.2 L373.3,75.5 L372.8,76.8 L372.3,78.1 L371.8,79.4 L371.4,80.7 L371.0,82.0 L370.6,83.2 L370.3,84.5 L369.9,85.8 L369.5,87.0 L369.2,88.3 L368.9,89.5 L368.6,90.7 L368.2,92.0 L367.9,93.4 L367.5,94.7 L367.2,96.2 L366.8,97.7 L366.4,99.2 L366.1,100.7 L365.7,102.1 L365.3,103.6 L365.0,105.0 L364.7,106.5 L364.3,108.0 L364.0,109.4 L363.6,111.0 L363.2,112.7 L362.7,114.5 L362.2,116.5 L361.8,118.3 L361.4,119.8 L361.2,120.9Z" fill="#999999" fill-opacity="0.4" stroke="none"/>
<path d="M361.2,117.5 L361.4,116.5 L361.8,115.1 L362.2,113.4 L362.7,111.6 L363.2,109.9 L363.6,108.3 L364.0,106.9 L364.3,105.4 L364.7,104.1 L365.0,102.7 L365.3,101.3 L365.7,99.9 L366.1,98.5 L366.4,97.0 L366.8,95.6 L367.2,94.2 L367.5,92.8 L367.9,91.4 L368.2,90.1 L368.6,88.9 L368.9,87.6 L369.2,86.4 L369.5,85.2 L369.9,84.0 L370.3,82.8 L370.6,81.5 L371.0,80.3 L371.4,79.0 L371.8,77.8 L372.3,76.5 L372.8,75.2 L373.3,73.9 L373.8,72.6 L374.4,71.3 L375.0,69.9 L375.5,68.5 L376.0,67.0 L376.6,65.4 L377.1,63.7 L377.7,62.1 L378.2,60.5 L378.8,59.0 L379.3,57.6 L379.8,56.3 L380.4,55.0 L380.9,53.7 L381.5,52.6 L382.1,51.5 L382.8,50.5 L383.6,49.6 L384.4,48.8 L385.2,48.0 L386.1,47.2 L387.0,46.5 L388.0,45.8 L389.1,45.2 L390.2,44.6 L391.3,44.1 L392.4,43.6 L393.5,43.0 L394.5,42.4 L395.5,41.8 L396.4,41.3 L397.4,40.7 L398.5,40.1 L399.6,39.6 L400.7,39.0 L401.8,38.5 L403.0,37.9 L404.3,37.4 L405.8,36.9 L407.7,36.5 L410.2,36.1 L413.2,35.8 L416.5,35.5 L419.7,35.2 L422.4,35.0 L424.3,34.8" fill="none" stroke="#00BFC4"/>
<path d="M361.2,101.8 L361.3,100.9 L361.5,99.8 L361.8,98.3 L362.1,96.8 L362.3,95.3 L362.6,93.9 L362.8,92.5 L363.0,91.2 L363.2,89.9 L363.4,88.6 L363.7,87.2 L364.0,85.7 L364.4,84.1 L364.8,82.4 L365.3,80.7 L365.8,78.9 L366.3,77.1 L366.8,75.4 L367.3,73.7 L367.8,72.1 L368.3,70.4 L368.8,68.8 L369.3,67.2 L369.7,65.6 L370.1,64.1 L370.5,62.5 L370.8,61.0 L371.1,59.5 L371.5,58.1 L371.8,56.6 L372.1,55.3 L372.4,53.9 L372.8,52.6 L373.1,51.4 L373.5,50.1 L373.9,48.9 L374.4,47.7 L375.0,46.4 L375.6,45.2 L376.2,44.1 L376.8,43.0 L377.4,42.0 L378.0,41.1 L378.5,40.3 L379.0,39.6 L379.5,39.0 L380.2,38.4 L381.0,37.8 L381.9,37.2 L382.9,36.7 L384.0,36.2 L385.2,35.8 L386.5,35.4 L388.0,35.0 L389.6,34.7 L391.2,34.4 L392.9,34.1 L394.9,33.9 L397.2,33.7 L400.0,33.5 L403.6,33.3 L408.1,33.2 L412.9,33.0 L417.6,32.6 L421.5,32.0 L424.3,31.1 L424.3,37.9 L421.5,37.1 L417.6,36.5 L412.9,36.3 L408.1,36.3 L403.6,36.4 L400.0,36.5 L397.2,36.7 L394.9,36.9 L392.9,37.1 L391.2,37.4 L389.6,37.7 L388.0,38.0 L386.5,38.4 L385.2,38.8 L384.0,39.2 L382.9,39.7 L381.9,40.2 L381.0,40.8 L380.2,41.4 L379.5,42.0 L379.0,42.7 L378.5,43.4 L378.0,44.1 L377.4,45.0 L376.8,46.0 L376.2,47.1 L375.6,48.3 L375.0,49.6 L374.4,50.8 L373.9,52.1 L373.5,53.3 L373.1,54.6 L372.8,55.9 L372.4,57.2 L372.1,58.6 L371.8,60.0 L371.5,61.4 L371.1,62.9 L370.8,64.4 L370.5,66.0 L370.1,67.6 L369.7,69.2 L369.3,70.8 L368.8,72.5 L368.3,74.3 L367.8,76.0 L367.3,77.8 L366.8,79.6 L366.3,81.4 L365.8,83.4 L365.3,85.3 L364.8,87.3 L364.4,89.1 L364.0,90.9 L363.7,92.5 L363.4,94.0 L363.2,95.5 L363.0,96.9 L362.8,98.3 L362.6,99.7 L362.3,101.3 L362.1,103.0 L361.8,104.7 L361.5,106.3 L361.3,107.6 L361.2,108.6Z" fill="#999999" fill-opacity="0.4" stroke="none"/>
<path d="M361.2,105.2 L361.3,104.3 L361.5,103.0 L361.8,101.5 L362.1,99.9 L362.3,98.3 L362.6,96.8 L362.8,95.4 L363.0,94.1 L363.2,92.7 L363.4,91.3 L363.7,89.9 L364.0,88.3 L364.4,86.6 L364.8,84.8 L365.3,83.0 L365.8,81.1 L366.3,79.3 L366.8,77.5 L367.3,75.8 L367.8,74.0 L368.3,72.3 L368.8,70.7 L369.3,69.0 L369.7,67.4 L370.1,65.8 L370.5,64.2 L370.8,62.7 L371.1,61.2 L371.5,59.7 L371.8,58.3 L372.1,56.9 L372.4,55.6 L372.8,54.3 L373.1,53.0 L373.5,51.7 L373.9,50.5 L374.4,49.3 L375.0,48.0 L375.6,46.8 L376.2,45.6 L376.8,44.5 L377.4,43.5 L378.0,42.6 L378.5,41.8 L379.0,41.1 L379.5,40.5 L380.2,39.9 L381.0,39.3 L381.9,38.7 L382.9,38.2 L384.0,37.7 L385.2,37.3 L386.5,36.9 L388.0,36.5 L389.6,36.2 L391.2,35.9 L392.9,35.6 L394.9,35.4 L397.2,35.2 L400.0,35.0 L403.6,34.9 L408.1,34.7 L412.9,34.7 L417.6,34.6 L421.5,34.5 L424.3,34.5" fill="none" stroke="#00BFC4" stroke-dasharray="3.3 3.1" stroke-width="1.7"/>
<path d="M361.2,88.6 L361.4,87.7 L361.7,86.4 L362.1,84.9 L362.5,83.3 L362.9,81.7 L363.3,80.3 L363.6,78.9 L364.0,77.5 L364.3,76.2 L364.6,74.8 L365.0,73.5 L365.3,72.2 L365.6,70.9 L365.9,69.6 L366.3,68.2 L366.6,67.0 L366.9,65.7 L367.2,64.5 L367.5,63.3 L367.8,62.2 L368.1,61.1 L368.4,59.9 L368.7,58.8 L369.0,57.7 L369.3,56.4 L369.7,55.2 L370.0,53.9 L370.3,52.6 L370.7,51.3 L371.1,50.1 L371.5,48.9 L372.0,47.7 L372.4,46.6 L372.9,45.4 L373.4,44.4 L373.9,43.4 L374.4,42.5 L375.0,41.8 L375.5,41.1 L376.1,40.4 L376.7,39.8 L377.4,39.2 L378.1,38.6 L378.8,38.1 L379.5,37.6 L380.3,37.2 L381.1,36.8 L382.1,36.4 L383.2,36.0 L384.4,35.7 L385.7,35.3 L387.1,35.0 L388.5,34.8 L390.0,34.5 L391.4,34.3 L392.6,34.1 L394.0,33.9 L395.5,33.8 L397.5,33.6 L400.0,33.5 L403.5,33.3 L408.0,33.2 L412.8,32.9 L417.5,32.5 L421.5,31.7 L424.3,30.8 L424.3,37.6 L421.5,36.9 L417.5,36.3 L412.8,36.2 L408.0,36.2 L403.5,36.3 L400.0,36.5 L397.5,36.6 L395.5,36.8 L394.0,36.9 L392.6,37.1 L391.4,37.3 L390.0,37.5 L388.5,37.8 L387.1,38.0 L385.7,38.3 L384.4,38.7 L383.2,39.0 L382.1,39.4 L381.1,39.8 L380.3,40.2 L379.5,40.7 L378.8,41.1 L378.1,41.7 L377.4,42.2 L376.7,42.8 L376.1,43.5 L375.5,44.1 L375.0,44.9 L374.4,45.7 L373.9,46.6 L373.4,47.6 L372.9,48.7 L372.4,49.8 L372.0,51.0 L371.5,52.3 L371.1,53.5 L370.7,54.8 L370.3,56.1 L370.0,57.4 L369.7,58.7 L369.3,60.1 L369.0,61.3 L368.7,62.6 L368.4,63.7 L368.1,64.9 L367.8,66.1 L367.5,67.3 L367.2,68.5 L366.9,69.8 L366.6,71.2 L366.3,72.6 L365.9,74.0 L365.6,75.4 L365.3,76.8 L365.0,78.3 L364.6,79.7 L364.3,81.2 L364.0,82.7 L363.6,84.2 L363.3,85.7 L362.9,87.4 L362.5,89.3 L362.1,91.1 L361.7,92.9 L361.4,94.3 L361.2,95.4Z" fill="#999999" fill-opacity="0.4" stroke="none"/>
<path d="M361.2,92.0 L361.4,91.0 L361.7,89.6 L362.1,88.0 L362.5,86.3 L362.9,84.6 L363.3,83.0 L363.6,81.5 L364.0,80.1 L364.3,78.7 L364.6,77.3 L365.0,75.9 L365.3,74.5 L365.6,73.1 L365.9,71.8 L366.3,70.4 L366.6,69.1 L366.9,67.8 L367.2,66.5 L367.5,65.3 L367.8,64.1 L368.1,63.0 L368.4,61.8 L368.7,60.7 L369.0,59.5 L369.3,58.2 L369.7,57.0 L370.0,55.6 L370.3,54.3 L370.7,53.0 L371.1,51.8 L371.5,50.6 L372.0,49.4 L372.4,48.2 L372.9,47.0 L373.4,46.0 L373.9,45.0 L374.4,44.1 L375.0,43.3 L375.5,42.6 L376.1,41.9 L376.7,41.3 L377.4,40.7 L378.1,40.1 L378.8,39.6 L379.5,39.1 L380.3,38.7 L381.1,38.3 L382.1,37.9 L383.2,37.5 L384.4,37.2 L385.7,36.8 L387.1,36.5 L388.5,36.3 L390.0,36.0 L391.4,35.8 L392.6,35.6 L394.0,35.4 L395.5,35.3 L397.5,35.1 L400.0,35.0 L403.5,34.8 L408.0,34.7 L412.8,34.5 L417.5,34.4 L421.5,34.3 L424.3,34.2" fill="none" stroke="#C77CFF"/>
<path d="M361.2,57.0 L361.4,56.0 L361.7,54.5 L362.1,52.8 L362.5,50.9 L362.9,49.2 L363.3,47.8 L363.7,46.6 L364.0,45.5 L364.4,44.5 L364.8,43.6 L365.1,42.8 L365.5,41.9 L365.9,41.1 L366.2,40.2 L366.6,39.5 L366.9,38.7 L367.3,38.0 L367.6,37.3 L367.9,36.7 L368.3,36.0 L368.6,35.4 L368.9,34.9 L369.3,34.4 L369.7,33.9 L370.1,33.5 L370.5,33.2 L370.9,32.9 L371.3,32.7 L371.9,32.4 L372.5,32.3 L372.8,32.1 L372.7,32.0 L372.6,31.9 L373.1,31.9 L374.8,31.9 L378.1,31.9 L384.0,31.8 L392.2,31.8 L401.6,31.8 L410.8,31.7 L418.8,31.1 L424.3,29.8 L424.3,36.6 L418.8,35.3 L410.8,34.8 L401.6,34.8 L392.2,34.8 L384.0,34.8 L378.1,34.9 L374.8,35.0 L373.1,35.1 L372.6,35.2 L372.7,35.3 L372.8,35.4 L372.5,35.5 L371.9,35.8 L371.3,36.0 L370.9,36.3 L370.5,36.7 L370.1,37.0 L369.7,37.5 L369.3,38.0 L368.9,38.6 L368.6,39.2 L368.3,39.8 L367.9,40.5 L367.6,41.3 L367.3,42.1 L366.9,42.9 L366.6,43.7 L366.2,44.6 L365.9,45.5 L365.5,46.5 L365.1,47.5 L364.8,48.5 L364.4,49.5 L364.0,50.7 L363.7,51.9 L363.3,53.2 L362.9,54.9 L362.5,56.9 L362.1,58.9 L361.7,60.9 L361.4,62.6 L361.2,63.8Z" fill="#999999" fill-opacity="0.4" stroke="none"/>
<path d="M361.2,60.4 L361.4,59.3 L361.7,57.7 L362.1,55.8 L362.5,53.9 L362.9,52.1 L363.3,50.5 L363.7,49.2 L364.0,48.1 L364.4,47.0 L364.8,46.1 L365.1,45.1 L365.5,44.2 L365.9,43.3 L366.2,42.4 L366.6,41.6 L366.9,40.8 L367.3,40.0 L367.6,39.3 L367.9,38.6 L368.3,37.9 L368.6,37.3 L368.9,36.7 L369.3,36.2 L369.7,35.7 L370.1,35.3 L370.5,34.9 L370.9,34.6 L371.3,34.3 L371.9,34.1 L372.5,33.9 L372.8,33.7 L372.7,33.6 L372.6,33.5 L373.1,33.5 L374.8,33.5 L378.1,33.4 L384.0,33.3 L392.2,33.3 L401.6,33.3 L410.8,33.2 L418.8,33.2 L424.3,33.2" fill="none" stroke="#C77CFF" stroke-dasharray="3.3 3.1" stroke-width="1.7"/>
</g>
<g clip-path="url(#cp41)" stroke-width="2.1" stroke-linecap="butt" stroke-linejoin="round">
<path d="M361.2,286.3 L361.6,285.8 L362.2,285.1 L362.9,284.2 L363.7,283.2 L364.5,282.2 L365.1,281.2 L365.7,280.3 L366.2,279.5 L366.7,278.6 L367.2,277.7 L367.7,276.7 L368.2,275.6 L368.7,274.4 L369.2,273.1 L369.7,271.8 L370.2,270.4 L370.7,269.0 L371.2,267.7 L371.7,266.4 L372.2,265.1 L372.7,263.8 L373.2,262.5 L373.7,261.2 L374.2,259.7 L374.7,258.1 L375.3,256.5 L375.8,254.8 L376.3,253.1 L376.8,251.3 L377.3,249.6 L377.8,247.9 L378.3,246.1 L378.9,244.4 L379.4,242.6 L379.9,241.0 L380.3,239.5 L380.7,238.1 L381.0,236.9 L381.3,235.8 L381.6,234.7 L382.0,233.6 L382.4,232.4 L382.8,231.1 L383.3,229.8 L383.8,228.4 L384.3,227.0 L384.9,225.7 L385.4,224.3 L385.9,223.0 L386.4,221.7 L386.9,220.4 L387.3,219.0 L387.9,217.6 L388.4,216.2 L389.1,214.6 L389.7,212.9 L390.4,211.1 L391.1,209.3 L391.8,207.6 L392.5,206.0 L393.2,204.5 L393.8,203.1 L394.5,201.7 L395.2,200.3 L395.9,199.1 L396.5,197.9 L397.2,196.9 L397.9,196.0 L398.6,195.2 L399.3,194.4 L399.9,193.7 L400.6,192.9 L401.3,192.0 L402.0,191.1 L402.6,190.2 L403.3,189.4 L404.0,188.5 L404.7,187.8 L405.3,187.1 L406.0,186.4 L406.7,185.8 L407.4,185.2 L408.0,184.6 L408.7,184.1 L409.3,183.7 L409.8,183.3 L410.3,182.9 L410.9,182.6 L411.7,182.3 L412.8,182.0 L414.4,181.6 L416.5,181.2 L418.8,180.7 L421.1,180.0 L423.0,179.4 L424.3,178.8 L424.3,185.6 L423.0,185.3 L421.1,185.0 L418.8,184.9 L416.5,184.9 L414.4,185.0 L412.8,185.2 L411.7,185.5 L410.9,185.7 L410.3,186.0 L409.8,186.4 L409.3,186.7 L408.7,187.2 L408.0,187.7 L407.4,188.2 L406.7,188.8 L406.0,189.4 L405.3,190.1 L404.7,190.8 L404.0,191.5 L403.3,192.4 L402.6,193.2 L402.0,194.1 L401.3,195.0 L400.6,195.9 L399.9,196.7 L399.3,197.4 L398.6,198.2 L397.9,199.0 L397.2,199.9 L396.5,200.9 L395.9,202.1 L395.2,203.3 L394.5,204.7 L393.8,206.1 L393.2,207.5 L392.5,209.0 L391.8,210.6 L391.1,212.3 L390.4,214.1 L389.7,215.9 L389.1,217.6 L388.4,219.2 L387.9,220.6 L387.3,222.0 L386.9,223.4 L386.4,224.7 L385.9,226.0 L385.4,227.3 L384.9,228.7 L384.3,230.0 L383.8,231.4 L383.3,232.8 L382.8,234.1 L382.4,235.4 L382.0,236.6 L381.6,237.7 L381.3,238.8 L381.0,240.0 L380.7,241.2 L380.3,242.5 L379.9,244.0 L379.4,245.7 L378.9,247.4 L378.3,249.2 L377.8,250.9 L377.3,252.7 L376.8,254.4 L376.3,256.1 L375.8,257.9 L375.3,259.6 L374.7,261.3 L374.2,262.9 L373.7,264.3 L373.2,265.7 L372.7,267.1 L372.2,268.4 L371.7,269.7 L371.2,271.1 L370.7,272.5 L370.2,273.9 L369.7,275.4 L369.2,276.8 L368.7,278.1 L368.2,279.4 L367.7,280.6 L367.2,281.7 L366.7,282.8 L366.2,283.8 L365.7,284.9 L365.1,285.9 L364.5,287.2 L363.7,288.5 L362.9,289.9 L362.2,291.1 L361.6,292.3 L361.2,293.1Z" fill="#999999" fill-opacity="0.4" stroke="none"/>
<path d="M361.2,289.7 L361.6,289.0 L362.2,288.1 L362.9,287.0 L363.7,285.8 L364.5,284.7 L365.1,283.6 L365.7,282.6 L366.2,281.6 L366.7,280.7 L367.2,279.7 L367.7,278.6 L368.2,277.5 L368.7,276.3 L369.2,275.0 L369.7,273.6 L370.2,272.2 L370.7,270.8 L371.2,269.4 L371.7,268.1 L372.2,266.8 L372.7,265.5 L373.2,264.1 L373.7,262.8 L374.2,261.3 L374.7,259.7 L375.3,258.1 L375.8,256.3 L376.3,254.6 L376.8,252.9 L377.3,251.1 L377.8,249.4 L378.3,247.6 L378.9,245.9 L379.4,244.2 L379.9,242.5 L380.3,241.0 L380.7,239.7 L381.0,238.4 L381.3,237.3 L381.6,236.2 L382.0,235.1 L382.4,233.9 L382.8,232.6 L383.3,231.3 L383.8,229.9 L384.3,228.5 L384.9,227.2 L385.4,225.8 L385.9,224.5 L386.4,223.2 L386.9,221.9 L387.3,220.5 L387.9,219.1 L388.4,217.7 L389.1,216.1 L389.7,214.4 L390.4,212.6 L391.1,210.8 L391.8,209.1 L392.5,207.5 L393.2,206.0 L393.8,204.6 L394.5,203.2 L395.2,201.8 L395.9,200.6 L396.5,199.4 L397.2,198.4 L397.9,197.5 L398.6,196.7 L399.3,195.9 L399.9,195.2 L400.6,194.4 L401.3,193.5 L402.0,192.6 L402.6,191.7 L403.3,190.9 L404.0,190.0 L404.7,189.3 L405.3,188.6 L406.0,187.9 L406.7,187.3 L407.4,186.7 L408.0,186.1 L408.7,185.6 L409.3,185.2 L409.8,184.8 L410.3,184.5 L410.9,184.2 L411.7,183.9 L412.8,183.6 L414.4,183.3 L416.5,183.0 L418.8,182.8 L421.1,182.5 L423.0,182.3 L424.3,182.2" fill="none" stroke="#F8766D"/>
<path d="M361.2,291.3 L361.5,290.7 L361.9,289.8 L362.4,288.7 L363.0,287.5 L363.6,286.2 L364.1,285.1 L364.6,284.0 L365.1,283.0 L365.6,282.0 L366.1,280.9 L366.6,279.7 L367.1,278.5 L367.6,277.2 L368.2,275.7 L368.7,274.2 L369.2,272.7 L369.7,271.2 L370.2,269.7 L370.7,268.2 L371.2,266.7 L371.7,265.3 L372.2,263.8 L372.7,262.3 L373.2,260.7 L373.7,259.1 L374.2,257.4 L374.7,255.7 L375.3,254.0 L375.8,252.3 L376.3,250.6 L376.8,248.9 L377.3,247.2 L377.8,245.4 L378.3,243.7 L378.8,242.1 L379.3,240.5 L379.7,239.0 L380.1,237.7 L380.5,236.3 L380.9,235.0 L381.3,233.7 L381.7,232.4 L382.2,231.0 L382.7,229.7 L383.2,228.3 L383.7,227.0 L384.3,225.6 L384.8,224.3 L385.3,223.0 L385.8,221.7 L386.2,220.4 L386.7,219.0 L387.3,217.6 L387.8,216.2 L388.4,214.6 L389.1,212.9 L389.8,211.1 L390.5,209.3 L391.2,207.6 L391.9,206.0 L392.6,204.5 L393.2,203.1 L393.9,201.7 L394.6,200.4 L395.3,199.1 L395.9,197.9 L396.6,196.8 L397.3,195.8 L398.0,194.9 L398.6,194.0 L399.3,193.1 L400.0,192.2 L400.7,191.4 L401.3,190.5 L402.0,189.7 L402.7,188.9 L403.4,188.1 L404.1,187.4 L404.7,186.7 L405.4,186.0 L406.0,185.4 L406.7,184.8 L407.4,184.2 L408.1,183.7 L408.8,183.3 L409.4,182.9 L410.0,182.5 L410.7,182.2 L411.6,181.9 L412.8,181.6 L414.4,181.2 L416.5,180.8 L418.8,180.4 L421.1,179.8 L423.0,179.1 L424.3,178.6 L424.3,185.4 L423.0,185.1 L421.1,184.8 L418.8,184.6 L416.5,184.5 L414.4,184.6 L412.8,184.8 L411.6,185.1 L410.7,185.3 L410.0,185.6 L409.4,185.9 L408.8,186.3 L408.1,186.8 L407.4,187.2 L406.7,187.8 L406.0,188.4 L405.4,189.0 L404.7,189.7 L404.1,190.4 L403.4,191.1 L402.7,191.9 L402.0,192.7 L401.3,193.5 L400.7,194.4 L400.0,195.2 L399.3,196.1 L398.6,197.0 L398.0,197.9 L397.3,198.8 L396.6,199.8 L395.9,200.9 L395.3,202.1 L394.6,203.4 L393.9,204.7 L393.2,206.1 L392.6,207.5 L391.9,209.0 L391.2,210.6 L390.5,212.3 L389.8,214.1 L389.1,215.9 L388.4,217.6 L387.8,219.2 L387.3,220.6 L386.7,222.0 L386.2,223.4 L385.8,224.7 L385.3,226.0 L384.8,227.3 L384.3,228.6 L383.7,230.0 L383.2,231.3 L382.7,232.7 L382.2,234.1 L381.7,235.4 L381.3,236.7 L380.9,238.0 L380.5,239.3 L380.1,240.7 L379.7,242.1 L379.3,243.5 L378.8,245.1 L378.3,246.8 L377.8,248.5 L377.3,250.2 L376.8,252.0 L376.3,253.7 L375.8,255.4 L375.3,257.1 L374.7,258.9 L374.2,260.6 L373.7,262.3 L373.2,263.9 L372.7,265.5 L372.2,267.1 L371.7,268.6 L371.2,270.1 L370.7,271.6 L370.2,273.2 L369.7,274.8 L369.2,276.4 L368.7,278.0 L368.2,279.6 L367.6,281.1 L367.1,282.6 L366.6,284.0 L366.1,285.2 L365.6,286.5 L365.1,287.7 L364.6,288.9 L364.1,290.2 L363.6,291.6 L363.0,293.1 L362.4,294.6 L361.9,296.0 L361.5,297.3 L361.2,298.1Z" fill="#999999" fill-opacity="0.4" stroke="none"/>
<path d="M361.2,294.7 L361.5,294.0 L361.9,292.9 L362.4,291.6 L363.0,290.3 L363.6,288.9 L364.1,287.6 L364.6,286.5 L365.1,285.4 L365.6,284.2 L366.1,283.1 L366.6,281.8 L367.1,280.5 L367.6,279.1 L368.2,277.7 L368.7,276.1 L369.2,274.5 L369.7,273.0 L370.2,271.4 L370.7,269.9 L371.2,268.4 L371.7,266.9 L372.2,265.4 L372.7,263.9 L373.2,262.3 L373.7,260.7 L374.2,259.0 L374.7,257.3 L375.3,255.6 L375.8,253.9 L376.3,252.2 L376.8,250.4 L377.3,248.7 L377.8,247.0 L378.3,245.2 L378.8,243.6 L379.3,242.0 L379.7,240.5 L380.1,239.2 L380.5,237.8 L380.9,236.5 L381.3,235.2 L381.7,233.9 L382.2,232.5 L382.7,231.2 L383.2,229.8 L383.7,228.5 L384.3,227.1 L384.8,225.8 L385.3,224.5 L385.8,223.2 L386.2,221.9 L386.7,220.5 L387.3,219.1 L387.8,217.7 L388.4,216.1 L389.1,214.4 L389.8,212.6 L390.5,210.8 L391.2,209.1 L391.9,207.5 L392.6,206.0 L393.2,204.6 L393.9,203.2 L394.6,201.9 L395.3,200.6 L395.9,199.4 L396.6,198.3 L397.3,197.3 L398.0,196.4 L398.6,195.5 L399.3,194.6 L400.0,193.7 L400.7,192.9 L401.3,192.0 L402.0,191.2 L402.7,190.4 L403.4,189.6 L404.1,188.9 L404.7,188.2 L405.4,187.5 L406.0,186.9 L406.7,186.3 L407.4,185.7 L408.1,185.2 L408.8,184.8 L409.4,184.4 L410.0,184.1 L410.7,183.8 L411.6,183.5 L412.8,183.2 L414.4,182.9 L416.5,182.7 L418.8,182.5 L421.1,182.3 L423.0,182.1 L424.3,182.0" fill="none" stroke="#F8766D" stroke-dasharray="3.3 3.1" stroke-width="1.7"/>
<path d="M361.2,277.1 L361.6,276.8 L362.2,276.3 L362.9,275.7 L363.7,274.9 L364.5,274.1 L365.1,273.1 L365.7,272.1 L366.2,270.8 L366.8,269.5 L367.2,268.2 L367.7,266.8 L368.2,265.4 L368.6,264.2 L368.9,262.9 L369.2,261.6 L369.5,260.3 L369.9,258.9 L370.2,257.5 L370.5,255.9 L370.9,254.2 L371.2,252.5 L371.5,250.7 L371.9,249.1 L372.2,247.5 L372.5,246.0 L372.8,244.7 L373.1,243.4 L373.4,242.1 L373.8,240.8 L374.2,239.4 L374.8,237.9 L375.5,236.4 L376.2,234.8 L376.9,233.2 L377.7,231.7 L378.3,230.4 L378.8,229.2 L379.3,228.3 L379.8,227.4 L380.3,226.5 L380.8,225.5 L381.3,224.3 L382.0,222.8 L382.6,221.2 L383.3,219.5 L384.0,217.7 L384.7,215.9 L385.4,214.1 L386.1,212.4 L386.7,210.7 L387.4,209.0 L388.0,207.2 L388.7,205.6 L389.5,204.0 L390.2,202.5 L391.1,201.1 L391.9,199.7 L392.8,198.4 L393.7,197.1 L394.5,195.9 L395.4,194.7 L396.2,193.6 L397.1,192.5 L398.0,191.5 L398.8,190.6 L399.6,189.8 L400.3,189.1 L401.0,188.6 L401.7,188.1 L402.3,187.7 L403.0,187.2 L403.6,186.8 L404.3,186.2 L405.0,185.7 L405.7,185.1 L406.4,184.6 L407.0,184.1 L407.7,183.7 L408.3,183.3 L408.7,183.0 L409.2,182.8 L409.8,182.5 L410.6,182.3 L411.8,182.0 L413.5,181.7 L415.8,181.3 L418.3,180.8 L420.8,180.1 L422.9,179.4 L424.3,178.8 L424.3,185.6 L422.9,185.3 L420.8,185.0 L418.3,184.8 L415.8,184.8 L413.5,185.0 L411.8,185.2 L410.6,185.4 L409.8,185.6 L409.2,185.9 L408.7,186.1 L408.3,186.4 L407.7,186.7 L407.0,187.2 L406.4,187.6 L405.7,188.2 L405.0,188.7 L404.3,189.2 L403.6,189.8 L403.0,190.2 L402.3,190.7 L401.7,191.1 L401.0,191.6 L400.3,192.1 L399.6,192.8 L398.8,193.6 L398.0,194.5 L397.1,195.5 L396.2,196.6 L395.4,197.7 L394.5,198.9 L393.7,200.1 L392.8,201.4 L391.9,202.7 L391.1,204.1 L390.2,205.5 L389.5,207.0 L388.7,208.6 L388.0,210.2 L387.4,212.0 L386.7,213.7 L386.1,215.4 L385.4,217.1 L384.7,218.9 L384.0,220.7 L383.3,222.5 L382.6,224.2 L382.0,225.8 L381.3,227.3 L380.8,228.5 L380.3,229.5 L379.8,230.4 L379.3,231.3 L378.8,232.2 L378.3,233.4 L377.7,234.8 L376.9,236.3 L376.2,237.8 L375.5,239.5 L374.8,241.1 L374.2,242.6 L373.8,244.0 L373.4,245.3 L373.1,246.6 L372.8,247.9 L372.5,249.3 L372.2,250.8 L371.9,252.4 L371.5,254.1 L371.2,255.9 L370.9,257.7 L370.5,259.4 L370.2,261.0 L369.9,262.5 L369.5,263.9 L369.2,265.3 L368.9,266.6 L368.6,267.9 L368.2,269.3 L367.7,270.7 L367.2,272.2 L366.8,273.7 L366.2,275.2 L365.7,276.6 L365.1,277.8 L364.5,279.0 L363.7,280.2 L362.9,281.4 L362.2,282.4 L361.6,283.3 L361.2,283.9Z" fill="#999999" fill-opacity="0.4" stroke="none"/>
<path d="M361.2,280.5 L361.6,280.0 L362.2,279.3 L362.9,278.5 L363.7,277.6 L364.5,276.6 L365.1,275.5 L365.7,274.3 L366.2,273.0 L366.8,271.6 L367.2,270.2 L367.7,268.8 L368.2,267.4 L368.6,266.0 L368.9,264.7 L369.2,263.4 L369.5,262.1 L369.9,260.7 L370.2,259.3 L370.5,257.7 L370.9,255.9 L371.2,254.2 L371.5,252.4 L371.9,250.7 L372.2,249.1 L372.5,247.7 L372.8,246.3 L373.1,245.0 L373.4,243.7 L373.8,242.4 L374.2,241.0 L374.8,239.5 L375.5,237.9 L376.2,236.3 L376.9,234.7 L377.7,233.2 L378.3,231.9 L378.8,230.7 L379.3,229.8 L379.8,228.9 L380.3,228.0 L380.8,227.0 L381.3,225.8 L382.0,224.3 L382.6,222.7 L383.3,221.0 L384.0,219.2 L384.7,217.4 L385.4,215.6 L386.1,213.9 L386.7,212.2 L387.4,210.5 L388.0,208.7 L388.7,207.1 L389.5,205.5 L390.2,204.0 L391.1,202.6 L391.9,201.2 L392.8,199.9 L393.7,198.6 L394.5,197.4 L395.4,196.2 L396.2,195.1 L397.1,194.0 L398.0,193.0 L398.8,192.1 L399.6,191.3 L400.3,190.6 L401.0,190.1 L401.7,189.6 L402.3,189.2 L403.0,188.7 L403.6,188.3 L404.3,187.7 L405.0,187.2 L405.7,186.7 L406.4,186.1 L407.0,185.7 L407.7,185.2 L408.3,184.9 L408.7,184.6 L409.2,184.3 L409.8,184.1 L410.6,183.8 L411.8,183.6 L413.5,183.3 L415.8,183.1 L418.3,182.8 L420.8,182.5 L422.9,182.3 L424.3,182.2" fill="none" stroke="#7CAE00"/>
<path d="M361.2,260.9 L361.4,260.2 L361.7,259.3 L362.0,258.2 L362.4,256.9 L362.7,255.7 L363.1,254.4 L363.4,253.2 L363.8,252.0 L364.1,250.7 L364.4,249.4 L364.8,248.1 L365.1,246.8 L365.5,245.6 L365.8,244.4 L366.1,243.3 L366.5,242.1 L366.8,240.7 L367.1,239.0 L367.5,236.8 L367.8,234.4 L368.1,231.7 L368.4,229.0 L368.8,226.4 L369.2,224.0 L369.6,221.8 L370.1,219.7 L370.6,217.7 L371.2,215.7 L371.7,213.8 L372.2,212.0 L372.7,210.2 L373.2,208.4 L373.7,206.7 L374.2,205.1 L374.7,203.5 L375.3,201.9 L375.9,200.4 L376.5,199.0 L377.2,197.6 L377.9,196.3 L378.6,195.1 L379.3,193.9 L380.0,192.7 L380.7,191.6 L381.3,190.6 L382.0,189.6 L382.7,188.7 L383.4,187.8 L384.0,187.0 L384.6,186.2 L385.3,185.6 L385.9,184.9 L386.6,184.3 L387.4,183.7 L388.0,183.1 L388.4,182.6 L388.8,182.0 L389.6,181.5 L391.0,181.1 L393.5,180.7 L397.6,180.3 L403.1,180.0 L409.3,179.7 L415.4,179.3 L420.7,178.5 L424.3,177.4 L424.3,184.2 L420.7,183.3 L415.4,182.8 L409.3,182.8 L403.1,183.0 L397.6,183.3 L393.5,183.7 L391.0,184.1 L389.6,184.5 L388.8,185.0 L388.4,185.6 L388.0,186.1 L387.4,186.7 L386.6,187.3 L385.9,187.9 L385.3,188.6 L384.6,189.2 L384.0,190.0 L383.4,190.8 L382.7,191.7 L382.0,192.6 L381.3,193.6 L380.7,194.6 L380.0,195.7 L379.3,196.9 L378.6,198.1 L377.9,199.4 L377.2,200.7 L376.5,202.1 L375.9,203.5 L375.3,205.0 L374.7,206.6 L374.2,208.2 L373.7,209.9 L373.2,211.6 L372.7,213.4 L372.2,215.3 L371.7,217.2 L371.2,219.1 L370.6,221.1 L370.1,223.2 L369.6,225.4 L369.2,227.6 L368.8,230.1 L368.4,232.8 L368.1,235.6 L367.8,238.3 L367.5,240.8 L367.1,243.0 L366.8,244.8 L366.5,246.4 L366.1,247.7 L365.8,248.9 L365.5,250.1 L365.1,251.5 L364.8,252.9 L364.4,254.3 L364.1,255.8 L363.8,257.2 L363.4,258.6 L363.1,260.0 L362.7,261.4 L362.4,262.9 L362.0,264.4 L361.7,265.7 L361.4,266.9 L361.2,267.7Z" fill="#999999" fill-opacity="0.4" stroke="none"/>
<path d="M361.2,264.3 L361.4,263.6 L361.7,262.5 L362.0,261.3 L362.4,259.9 L362.7,258.5 L363.1,257.2 L363.4,255.9 L363.8,254.6 L364.1,253.2 L364.4,251.9 L364.8,250.5 L365.1,249.1 L365.5,247.8 L365.8,246.7 L366.1,245.5 L366.5,244.2 L366.8,242.8 L367.1,241.0 L367.5,238.8 L367.8,236.3 L368.1,233.6 L368.4,230.9 L368.8,228.2 L369.2,225.8 L369.6,223.6 L370.1,221.4 L370.6,219.4 L371.2,217.4 L371.7,215.5 L372.2,213.6 L372.7,211.8 L373.2,210.0 L373.7,208.3 L374.2,206.6 L374.7,205.0 L375.3,203.5 L375.9,202.0 L376.5,200.5 L377.2,199.2 L377.9,197.8 L378.6,196.6 L379.3,195.4 L380.0,194.2 L380.7,193.1 L381.3,192.1 L382.0,191.1 L382.7,190.2 L383.4,189.3 L384.0,188.5 L384.6,187.7 L385.3,187.1 L385.9,186.4 L386.6,185.8 L387.4,185.2 L388.0,184.6 L388.4,184.1 L388.8,183.5 L389.6,183.0 L391.0,182.6 L393.5,182.2 L397.6,181.8 L403.1,181.5 L409.3,181.3 L415.4,181.1 L420.7,180.9 L424.3,180.8" fill="none" stroke="#7CAE00" stroke-dasharray="3.3 3.1" stroke-width="1.7"/>
<path d="M361.2,251.8 L361.4,251.0 L361.7,249.8 L362.0,248.4 L362.4,246.9 L362.7,245.5 L363.1,244.3 L363.4,243.2 L363.8,242.0 L364.1,241.0 L364.4,240.0 L364.8,239.2 L365.1,238.6 L365.4,238.5 L365.7,238.8 L366.0,239.2 L366.3,239.6 L366.7,239.6 L367.1,239.0 L367.7,237.6 L368.3,235.6 L369.0,233.3 L369.8,230.8 L370.5,228.4 L371.2,226.1 L371.9,224.1 L372.5,222.0 L373.2,220.0 L373.8,218.0 L374.5,216.0 L375.3,214.1 L376.0,212.1 L376.9,210.2 L377.7,208.2 L378.6,206.4 L379.5,204.6 L380.3,203.0 L381.2,201.6 L382.0,200.3 L382.8,199.1 L383.6,198.0 L384.5,197.0 L385.4,195.9 L386.3,194.8 L387.3,193.7 L388.4,192.7 L389.4,191.7 L390.5,190.7 L391.5,189.8 L392.5,189.0 L393.4,188.3 L394.4,187.6 L395.4,187.0 L396.4,186.3 L397.6,185.8 L398.7,185.2 L399.7,184.6 L400.8,184.1 L402.1,183.6 L403.7,183.1 L405.7,182.7 L408.4,182.3 L411.8,181.8 L415.5,181.2 L419.1,180.5 L422.2,179.6 L424.3,178.8 L424.3,185.6 L422.2,185.1 L419.1,184.8 L415.5,184.8 L411.8,185.0 L408.4,185.3 L405.7,185.7 L403.7,186.2 L402.1,186.6 L400.8,187.1 L399.7,187.6 L398.7,188.2 L397.6,188.8 L396.4,189.3 L395.4,190.0 L394.4,190.6 L393.4,191.3 L392.5,192.0 L391.5,192.8 L390.5,193.7 L389.4,194.7 L388.4,195.7 L387.3,196.7 L386.3,197.8 L385.4,198.9 L384.5,200.0 L383.6,201.0 L382.8,202.1 L382.0,203.3 L381.2,204.6 L380.3,206.0 L379.5,207.6 L378.6,209.4 L377.7,211.3 L376.9,213.2 L376.0,215.2 L375.3,217.2 L374.5,219.2 L373.8,221.2 L373.2,223.2 L372.5,225.3 L371.9,227.4 L371.2,229.5 L370.5,231.8 L369.8,234.4 L369.0,237.0 L368.3,239.4 L367.7,241.5 L367.1,243.0 L366.7,243.8 L366.3,243.9 L366.0,243.6 L365.7,243.3 L365.4,243.1 L365.1,243.4 L364.8,244.1 L364.4,245.0 L364.1,246.1 L363.8,247.3 L363.4,248.6 L363.1,249.9 L362.7,251.3 L362.4,252.9 L362.0,254.6 L361.7,256.2 L361.4,257.6 L361.2,258.6Z" fill="#999999" fill-opacity="0.4" stroke="none"/>
<path d="M361.2,255.2 L361.4,254.3 L361.7,253.0 L362.0,251.5 L362.4,249.9 L362.7,248.4 L363.1,247.1 L363.4,245.9 L363.8,244.7 L364.1,243.5 L364.4,242.5 L364.8,241.6 L365.1,241.0 L365.4,240.8 L365.7,241.0 L366.0,241.4 L366.3,241.8 L366.7,241.7 L367.1,241.0 L367.7,239.6 L368.3,237.5 L369.0,235.2 L369.8,232.6 L370.5,230.1 L371.2,227.8 L371.9,225.7 L372.5,223.6 L373.2,221.6 L373.8,219.6 L374.5,217.6 L375.3,215.6 L376.0,213.7 L376.9,211.7 L377.7,209.8 L378.6,207.9 L379.5,206.1 L380.3,204.5 L381.2,203.1 L382.0,201.8 L382.8,200.6 L383.6,199.5 L384.5,198.5 L385.4,197.4 L386.3,196.3 L387.3,195.2 L388.4,194.2 L389.4,193.2 L390.5,192.2 L391.5,191.3 L392.5,190.5 L393.4,189.8 L394.4,189.1 L395.4,188.5 L396.4,187.8 L397.6,187.3 L398.7,186.7 L399.7,186.1 L400.8,185.6 L402.1,185.1 L403.7,184.6 L405.7,184.2 L408.4,183.8 L411.8,183.4 L415.5,183.0 L419.1,182.7 L422.2,182.4 L424.3,182.2" fill="none" stroke="#00BFC4"/>
<path d="M361.2,245.7 L361.4,244.8 L361.7,243.5 L362.0,241.9 L362.4,240.4 L362.7,239.1 L363.1,238.2 L363.4,238.0 L363.7,238.4 L364.0,239.0 L364.4,239.5 L364.7,239.5 L365.1,238.6 L365.6,236.8 L366.1,234.2 L366.6,231.2 L367.1,227.9 L367.6,224.7 L368.2,221.8 L368.7,219.3 L369.1,216.8 L369.6,214.4 L370.1,212.1 L370.6,209.9 L371.2,207.9 L371.8,206.0 L372.5,204.2 L373.2,202.5 L373.9,200.9 L374.6,199.4 L375.3,197.9 L375.9,196.4 L376.6,194.9 L377.2,193.5 L377.9,192.2 L378.6,190.9 L379.3,189.8 L380.1,188.8 L380.9,187.8 L381.8,187.0 L382.7,186.2 L383.5,185.4 L384.4,184.7 L385.2,184.1 L386.0,183.5 L386.7,183.0 L387.5,182.5 L388.4,182.1 L389.5,181.7 L390.4,181.3 L391.2,181.0 L392.2,180.7 L393.4,180.5 L395.1,180.3 L397.6,180.1 L401.3,179.9 L406.1,179.7 L411.5,179.5 L416.7,179.1 L421.2,178.3 L424.3,177.4 L424.3,184.2 L421.2,183.4 L416.7,182.8 L411.5,182.6 L406.1,182.7 L401.3,182.9 L397.6,183.1 L395.1,183.3 L393.4,183.5 L392.2,183.7 L391.2,184.0 L390.4,184.3 L389.5,184.7 L388.4,185.1 L387.5,185.5 L386.7,186.0 L386.0,186.5 L385.2,187.1 L384.4,187.7 L383.5,188.4 L382.7,189.2 L381.8,190.0 L380.9,190.8 L380.1,191.8 L379.3,192.8 L378.6,194.0 L377.9,195.2 L377.2,196.6 L376.6,198.0 L375.9,199.5 L375.3,201.0 L374.6,202.5 L373.9,204.1 L373.2,205.7 L372.5,207.4 L371.8,209.3 L371.2,211.3 L370.6,213.4 L370.1,215.6 L369.6,218.0 L369.1,220.5 L368.7,223.0 L368.2,225.7 L367.6,228.6 L367.1,232.0 L366.6,235.4 L366.1,238.6 L365.6,241.4 L365.1,243.4 L364.7,244.3 L364.4,244.5 L364.0,244.1 L363.7,243.7 L363.4,243.5 L363.1,243.8 L362.7,244.9 L362.4,246.4 L362.0,248.2 L361.7,249.9 L361.4,251.5 L361.2,252.5Z" fill="#999999" fill-opacity="0.4" stroke="none"/>
<path d="M361.2,249.1 L361.4,248.1 L361.7,246.7 L362.0,245.1 L362.4,243.4 L362.7,242.0 L363.1,241.0 L363.4,240.7 L363.7,241.0 L364.0,241.6 L364.4,242.0 L364.7,241.9 L365.1,241.0 L365.6,239.1 L366.1,236.4 L366.6,233.3 L367.1,229.9 L367.6,226.7 L368.2,223.8 L368.7,221.2 L369.1,218.7 L369.6,216.2 L370.1,213.9 L370.6,211.7 L371.2,209.6 L371.8,207.6 L372.5,205.8 L373.2,204.1 L373.9,202.5 L374.6,200.9 L375.3,199.4 L375.9,197.9 L376.6,196.5 L377.2,195.0 L377.9,193.7 L378.6,192.5 L379.3,191.3 L380.1,190.3 L380.9,189.3 L381.8,188.5 L382.7,187.7 L383.5,186.9 L384.4,186.2 L385.2,185.6 L386.0,185.0 L386.7,184.5 L387.5,184.0 L388.4,183.6 L389.5,183.2 L390.4,182.8 L391.2,182.5 L392.2,182.2 L393.4,182.0 L395.1,181.8 L397.6,181.6 L401.3,181.4 L406.1,181.2 L411.5,181.1 L416.7,180.9 L421.2,180.8 L424.3,180.8" fill="none" stroke="#00BFC4" stroke-dasharray="3.3 3.1" stroke-width="1.7"/>
<path d="M361.2,224.4 L361.6,223.2 L362.2,221.6 L362.9,219.6 L363.6,217.4 L364.4,215.3 L365.1,213.3 L365.8,211.5 L366.5,209.6 L367.1,207.8 L367.8,206.0 L368.5,204.3 L369.2,202.7 L369.8,201.2 L370.5,199.7 L371.2,198.4 L371.9,197.1 L372.5,195.9 L373.2,194.8 L373.9,193.8 L374.5,192.9 L375.1,192.1 L375.8,191.3 L376.5,190.6 L377.3,189.8 L378.2,188.9 L379.1,188.0 L380.1,187.1 L381.1,186.3 L382.2,185.5 L383.4,184.7 L384.6,184.1 L385.8,183.5 L387.2,183.0 L388.5,182.5 L390.0,182.1 L391.5,181.7 L392.9,181.4 L394.2,181.1 L395.6,180.8 L397.2,180.6 L399.2,180.4 L401.6,180.3 L404.9,180.1 L409.1,180.0 L413.6,179.7 L418.0,179.3 L421.7,178.6 L424.3,177.8 L424.3,184.6 L421.7,183.9 L418.0,183.3 L413.6,183.0 L409.1,183.0 L404.9,183.1 L401.6,183.3 L399.2,183.4 L397.2,183.6 L395.6,183.8 L394.2,184.1 L392.9,184.4 L391.5,184.7 L390.0,185.1 L388.5,185.5 L387.2,186.0 L385.8,186.5 L384.6,187.1 L383.4,187.7 L382.2,188.5 L381.1,189.3 L380.1,190.2 L379.1,191.1 L378.2,192.0 L377.3,192.8 L376.5,193.7 L375.8,194.4 L375.1,195.2 L374.5,196.0 L373.9,196.9 L373.2,198.0 L372.5,199.2 L371.9,200.4 L371.2,201.7 L370.5,203.2 L369.8,204.7 L369.2,206.3 L368.5,208.1 L367.8,209.9 L367.1,211.9 L366.5,213.9 L365.8,215.9 L365.1,218.0 L364.4,220.3 L363.6,222.7 L362.9,225.3 L362.2,227.7 L361.6,229.7 L361.2,231.2Z" fill="#999999" fill-opacity="0.4" stroke="none"/>
<path d="M361.2,227.8 L361.6,226.5 L362.2,224.6 L362.9,222.4 L363.6,220.1 L364.4,217.8 L365.1,215.6 L365.8,213.7 L366.5,211.7 L367.1,209.8 L367.8,207.9 L368.5,206.2 L369.2,204.5 L369.8,202.9 L370.5,201.5 L371.2,200.1 L371.9,198.7 L372.5,197.5 L373.2,196.4 L373.9,195.4 L374.5,194.5 L375.1,193.7 L375.8,192.9 L376.5,192.1 L377.3,191.3 L378.2,190.4 L379.1,189.5 L380.1,188.6 L381.1,187.8 L382.2,187.0 L383.4,186.2 L384.6,185.6 L385.8,185.0 L387.2,184.5 L388.5,184.0 L390.0,183.6 L391.5,183.2 L392.9,182.9 L394.2,182.6 L395.6,182.3 L397.2,182.1 L399.2,181.9 L401.6,181.8 L404.9,181.6 L409.1,181.5 L413.6,181.4 L418.0,181.3 L421.7,181.2 L424.3,181.2" fill="none" stroke="#C77CFF"/>
<path d="M361.2,209.2 L361.5,207.8 L361.9,205.9 L362.4,203.7 L363.0,201.3 L363.6,198.9 L364.1,196.9 L364.6,195.0 L365.1,193.3 L365.6,191.6 L366.1,190.0 L366.6,188.5 L367.1,187.2 L367.6,186.1 L368.1,185.1 L368.6,184.3 L369.1,183.5 L369.6,182.9 L370.2,182.5 L370.8,182.1 L371.5,182.0 L372.1,182.0 L372.8,182.0 L373.6,182.0 L374.2,182.0 L374.9,182.0 L375.6,182.0 L376.3,182.0 L376.9,181.9 L377.6,181.9 L378.3,181.7 L379.0,181.4 L379.6,181.0 L380.3,180.5 L380.9,180.0 L381.6,179.6 L382.4,179.3 L382.8,179.0 L382.8,178.9 L382.8,178.8 L383.3,178.7 L384.7,178.7 L387.4,178.7 L392.2,178.6 L398.7,178.6 L406.2,178.6 L413.6,178.5 L420.0,177.9 L424.3,176.8 L424.3,183.6 L420.0,182.4 L413.6,181.8 L406.2,181.6 L398.7,181.6 L392.2,181.6 L387.4,181.7 L384.7,181.7 L383.3,181.7 L382.8,181.8 L382.8,181.9 L382.8,182.1 L382.4,182.3 L381.6,182.6 L380.9,183.0 L380.3,183.5 L379.6,184.0 L379.0,184.4 L378.3,184.7 L377.6,184.9 L376.9,185.0 L376.3,185.1 L375.6,185.1 L374.9,185.1 L374.2,185.2 L373.6,185.2 L372.8,185.2 L372.1,185.3 L371.5,185.3 L370.8,185.6 L370.2,186.0 L369.6,186.5 L369.1,187.2 L368.6,188.0 L368.1,189.0 L367.6,190.1 L367.1,191.3 L366.6,192.7 L366.1,194.4 L365.6,196.1 L365.1,198.0 L364.6,199.9 L364.1,202.0 L363.6,204.3 L363.0,206.9 L362.4,209.6 L361.9,212.2 L361.5,214.4 L361.2,216.0Z" fill="#999999" fill-opacity="0.4" stroke="none"/>
<path d="M361.2,212.6 L361.5,211.1 L361.9,209.1 L362.4,206.6 L363.0,204.1 L363.6,201.6 L364.1,199.4 L364.6,197.5 L365.1,195.6 L365.6,193.8 L366.1,192.2 L366.6,190.6 L367.1,189.3 L367.6,188.1 L368.1,187.1 L368.6,186.2 L369.1,185.4 L369.6,184.7 L370.2,184.2 L370.8,183.8 L371.5,183.7 L372.1,183.6 L372.8,183.6 L373.6,183.6 L374.2,183.6 L374.9,183.5 L375.6,183.5 L376.3,183.5 L376.9,183.5 L377.6,183.4 L378.3,183.2 L379.0,182.9 L379.6,182.5 L380.3,182.0 L380.9,181.5 L381.6,181.1 L382.4,180.8 L382.8,180.5 L382.8,180.4 L382.8,180.3 L383.3,180.2 L384.7,180.2 L387.4,180.2 L392.2,180.1 L398.7,180.1 L406.2,180.1 L413.6,180.1 L420.0,180.1 L424.3,180.2" fill="none" stroke="#C77CFF" stroke-dasharray="3.3 3.1" stroke-width="1.7"/>
</g>
</svg>
</body></html>
